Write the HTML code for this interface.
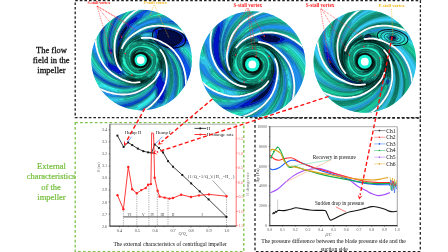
<!DOCTYPE html>
<html><head><meta charset="utf-8"><title>Impeller flow field and external characteristics</title>
<style>html,body{margin:0;padding:0;background:#fff;width:448px;height:252px;overflow:hidden}svg{display:block}</style>
</head><body>
<svg width="448" height="252" viewBox="0 0 448 252">
<clipPath id="clip1"><circle cx="141.6" cy="60.1" r="50.3"/></clipPath>
<g clip-path="url(#clip1)">
<circle cx="141.6" cy="60.1" r="50.3" fill="#34f2f4"/>
<path fill="#030b45" d="M126 25.8l.7-.4 .5 .2 .5 1.6-.1 1-4.8 7.1-4.2 7.8 0-2.9 .5-2.2 1.3-3.9 2.3-4.2zM162.6 29l7.2 .4 5.8 1.8 3.4 1.8 2.4 1.8 1.9 2.3 .2 1.3-2.8 3.8-4 2.7-2.7 2.2-3.6-.1-2.7-1.2-.9 .5-.9-.2-7.3-4.5-.5-.5 .6-.4-2.1-1.4-.5-.9 1.1-1.8 .7-4.5-.1-1.8 1.7-.9z"/>
<path fill="#0014c8" d="M134.8 17.3l1.4-.4 .9 .2 .8 .6 .1 .9-2.8 3.2-4.9 2.8-1.2 3-4.9 6.8-3.5 6.3-1.9 4.5-2 7 .9-11.5 1.4-5.1 1.8-4.1 2.7-4.3 2.7-3.2 4.9-4.5zM126.3 25.6l-2.7 3-3.2 5.5-1.3 3.9-.5 2.2 0 2.9 4.2-7.8 4.8-7.1 .1-1-.4-1.4-.6-.4zM161.1 28.1l4.8-.1 4 .5 7.2 2.3 4 2.2 3.4 2.7 2.8 3.2 .8 1.3-.2 .5-3.1 1-6.4 3.9-1 .9-1.6 2.7-3.6-.4-1.4-1.1-.8 .2 .2 .9-.7 .1-7.3-4.2-6.8-4.5-.4-.4 .7-.5-1.1-.3-.9-1 1.7-1.8-.3-3.6-.9-1.1-3-1.2 4.2-1.3zM162.7 29l-3.2 .4-1.7 .9 .1 1.8-.7 4.5-1.1 1.8 .5 .9 2.1 1.4-.6 .4 .5 .5 7.3 4.5 .9 .2 .9-.5 2.7 1.2 3.6 .1 2.7-2.2 4-2.7 2.8-3.8-.2-1.3-1.9-2.3-2.4-1.8-3.4-1.8-5.8-1.8zM109.5 49.2l.6-.2 1.8 1.1 .5 1.4-.5 .9-.9 .5-.9-.4-.9-1.9zM107.6 61.8l.2-.4 2.7 2.4 3.6 1.9 .9 .3 .5-.6 .4 .3 4.4 4.2 1.9 3.8-2.2-.6-.8 .4-.1 .8-8.5-4.8-2.7-3.2zM160.7 74.9l.7-.3 .1 3 1.7 4.1 .9 .6 1.3-1.4 0 .7-.4 3.6-1 2.7 1 2.3-.6 5.4-1.2 3.6-.9 1.1-1.4 .5-1.4-.7-.1-3.2-.7 .2-.9 .7 0 .5-.8 .4 1-3.6-.1-3.1-.8-4.5-.7-.8-1-.1 2.6-9 1.1-1.6z"/>
<path fill="#0c50ea" d="M145.8 9.7l2.1-.5 .4 .5 2.3 0 .4 .4-4 1.7-2.8 1.9-2.4 3.6-8 6.7-4.4 4.3-3.5 4.3-2.6 4-3 5.9-2 5.4-.8 4.5-.2 6.9-.9-7.4 .8-10.8 1.4-5.6 2.6-5.6 4.6-6.3 5.4-5.1 6.9-4.8zM135.3 17.1l-4.1 2.4-4.5 4.1-3.1 3.6-2.7 4.3-1.8 4.1-1.4 5.1-.9 11.5 2-7 1.9-4.5 3.5-6.3 4.9-6.8 1.2-3 4.9-2.8 2.8-3.2-.1-.9-.8-.6zM120.4 13.7l.7-.5-4 5.9-2.8 5.4-2.1 5.4-1.4 5.4-.7 5.8 .2 5.9 .2 .9 2 2.2 .5 1.4-.2 1-1.2 1.7 .3 2.9-3.3-6.5 .4-2.7-.3-7.2 .9-7 1.8-6.5 3.2-7.2 3-5zM109.6 49l-.4 1.1 .1 .9 .8 1.5 .9 .4 1.3-1 0-1-.9-1.2zM159.8 20.4l7.9 0 7.1 .9 2.8 2.4-9.9-2.1-10.8-.5zM103.8 25.8l.3-.3-1.4 8.9-.2 6.3 .7 6.3 1.7 6.7 2.3 5.4 2.4 3.1 4.1 2.5 .6-.2 .3-1.3 3.1 3.5 3.7 3.2 2.8 5-.2 .3-2.2-.9-.9 .1 .9 2-11.3-6-3.2-2.7-1.4-2.3-.1-1.3 .5-2.7-3-7.5-1.3-4.5-1.4-9.6 0-5 .7-6zM107.8 61.4l-.1 4.5 .7 1.3 1.7 1.8 3.2 2.3 5.3 2.8 .5 .2 .1-.8 .8-.4 2.2 .6-1.9-3.8-4.4-4.2-.4-.3-.5 .6-.4-.1-2.7-1.3zM163.1 27.2l4.1 .1 4.1 .7 3.6 1 4.1 1.8 3.7 2.2 3.9 3.1 .9 1 0 .9 1.8 3.1 0 .9 .4 .5 .9 3.3-2.7-1.9-2.2-.1-5.9 2.5-.9 .7-.6 1.3 .8 2.3 4.3 5.5 3.2 5.3 2.7 5.6 1.8 5.1 0 1.4-1.4 3.2-.4 2.2-.9 1.4 0 .9-1 1.8-1.5-10.4-3.1-9-2.3-4.5-3-4.5-3.1-3.5-2.2-2-.4 .1 7.1 9.8 2.7 5.3 1.8 4.9 1.4 5.7 .9 6.7 0 4.5-1.6 2.5-.2-9.2-1.7-9.5-3.1-8.1-4.5-7.2-4.7-4.6-9.4-5.5-4.5-3.4-3.2-1.8 1.4-.4-1.4-.3-1.8-1.1 2.9-1.3 0-1.4-1.1-2.2-1.3-.5-1.8-.1-8.7 1 8.4-3.6 7.9-1.6zM161.4 28.1l-6 .9-4.2 1.3 3 1.2 .9 1.1 .3 3.6-1.7 1.8 .9 1 1.1 .3-.7 .5 .4 .4 6.8 4.5 7.3 4.2 .7-.1-.2-.9 .8-.2 1.4 1.1 3.6 .4 1.6-2.7 1-.9 6.4-3.9 3.1-1 .2-.5-.8-1.3-2.8-3.2-3.4-2.7-4-2.2-7.2-2.3-4-.5zM156.6 43.4l.7-.1 1.4 .8 1.8 1.4 .4 .8zM171.1 59.6l1.5 2.2 1.8 4.4 1.8 8.3 0 10.2-1.8 8.7 1.2-9.5-.1-9-1.4-7.2zM99.3 61.4l.4-.3 2.3 .9 2.5 3.9 1.8 1.8 0 .4 4.2 4.5 .9 .5-.1 .4 1.7 1.8-.5 0-3.3-2.2-5-4.4-3.1-3.7zM91.2 68.6l0-.4 4.5 4.9 4.5 3.8 4.5 3.1 4 2.2 4.5 1.9 4.5 1.3 11.7 1.6-4.5 .6-6.1-.6-5.5-1.3-5.7-2.3-5.6-3.1-6.5-5-3.4-3.3zM166.3 69l.6 7.7-.5 .4 .1 2.7-.5 .5 0 1.8-.4 .4 .1 1.4-.8 1.8 .7 0 1.2-1.4 0 2.3-1.8 10.9-1.4 3.4-1.3 1.7-1.4 .6-3.1 .3-7.1 6.9-1.7 0 3.8-3.2 3.8-4 1.5-3.1 .4-2.3-.3-.1-.1 .6-2 1.8 0 .4-6.4 6-.5 0-1.3 1.3-1.8 .9-2.3 1.8-1.7 .8-1.6 0 8.7-6 4-3.9 2.7-3.1 1-2.3 .3-2.2-.7-4.5-.5-.7-.5 0-5.4 5.8-4 3.4-4.6 3.2-5.3 2.7-6.2 2.2-7.5 1.7-3-1.7-.9 0-1.5-1 6.9-.7 8.1-2 6.8-2.8 5.8-3.5 5-4.1 4.5-5.3 1.2-2.6 1.1-4.1-.1-.9-.9 0 2.1-4.5 2-3 0 1.7 .4 .4 .9-.4 .9-1.1 .3 .2 .2 4.5 1.3 2.6 .5 .2 .4-.5 .7-2.3zM160.9 74.7l-1.8 1.3-.9 1.2-2.8 9.4 1 .1 .7 .8 .8 4.5 .1 3.1-1 3.6 .8-.4 0-.5 .9-.7 .7-.2 .1 3.2 1.4 .7 1.4-.5 .9-1.1 1.2-3.6 .6-5.4-1-2.3 1-2.7 .4-3.6 0-.7-1.3 1.4-.9-.6-1.7-4.1-.1-3zM99.3 88.4l3.6 1.9-2.7-.2zM140.8 90.2l.9 0-.6 .4-4.4 2.3-8.2 2.2-7.3 .5-4.9-1.4 1.4 0 .5 .5 9.4-.3 6.3-1.4z"/>
<path fill="#2094f4" d="M136.1 9.7l.7-.5 1.6 .1-1.3 .4-2.3 1.8-1.8 .9-1.8 1.8-.9-.1zM143.3 9.7l.9-.5 2.7 0-8.1 4-8 5.7-5.9 5.8-4.5 6.7-2.2 5.4-1.2 5.2-.6 9.9 .9 7.4 .2-6.9 .9-5 2.3-5.8 3.4-6.3 2.8-4.1 3.4-3.8 11.1-9.7 1.2-1.3 1.6-2.7 2.3-1.7 4.5-1.9 1.8 0 .5 .5 2.9 .4-4.7 1.4-3.6 2-11.6 8.3-1.4 1.8 .4 .8 2.7-.5 6.8-3.5 6.6-2.2 7.2-1.4 6.8-.3 5 .3 4.4 3.6-9.8-1-5.2 .1-2.9 .7 9.9 .4 6.3 1 4.5 1.2 1.8 2.1-7.2-1.9-7.2-1-6.8 0-6.7 1-5.4 1.6-4.5 2-9 5.7-6.3 5.1 0-.7 5.5-8.2 .3-1.3-.4-.3-1.8 .8-4.2 4.9-4.7 8.1-2.5 6.7-.9 5.4 .3 5.4 1 4.1 1.8 3.6 4.2 5.4-.9 .3 0 1 2.3 2.7-.9 0-2.3-1-1 .1 .6 1 2.5 1.7-.7 .1-14-6.4 3.6 3.3 6.3 3.8 4.1 1.9-1.4 0-7-2.2-5.7-3.2-5.1-4-4.7-5.1-3.6-5.4-3.1-6.4-2.1-5.8 .7-3 .5-.4 0-1.4 .9-1.3 .4-2.3 1-1.8 .4 6.3 .5 .5 .5 4 .4 .5 0 1.3 .4 .5 1 3.6 .8 1.3 .1 .9 3.5 5.9 .9 .5 .4-.4 1-1.9 0-.9-3.5-9.5-1.7-9.4 .1-9.5 .3-2.4 .9-.9-.7 7.8 .5 8.1 1.8 7.9 3.3 8.3 .1 1.4-.6 2.2 .6 1.8 1.9 2.3 3 2.2 10.2 5.4 .6 0-1.1-1.8 .9-.1 2.2 .9 .2-.3-3.1-5.4-3.4-2.8-3.1-3.5-.5 1.5-4-2.1-2.6-3-1.8-3.6-2.2-7.2-.9-7.2 .1-7.7 1.4-8.4 1.4-1.4-1.5 6.7-.7 6.7 .2 6.8 1.1 6.3 1.8 5.4 2 4 2.2 2.3 2.2 1.3 .9 .1-.7-2.8-4.7-10.3-.1-10.8 1-7.4 1.8-6.3 2.2-5.4 2.5-4.5 1.9-1.2-3 5-2.3 4.8-1.8 5.2-1.3 6.3-.5 5.4 .3 6.2-.4 2.7 3.3 6.5-.3-2.9 1.2-1.8 .1-1.4-2.6-3.6-.2-4 .3-5.4 1.3-6.3 2.8-7.7 4-7.2 2.6-3.6 3.6-1.3-5 6.3-4.1 7.2-3 8.1-1.3 7.2 0 6.3 .4 1.3 1.6 2.7-.1 1.4-.8 2.2 1.2 5 .8 2.2 1.4 2.3 1.9 2.1 1.8 1 .1-.9-2.8-7.8-.7-6.1 .6-11.3 2.1-7.2 3.6-6.7 5.2-6.2 7.2-6.1zM99.7 61.1l-.4 .3 .9 2.1 3.6 4.8 5.4 4.8 3.3 2.2 .5 0-1.7-1.8 .1-.4-.9-.5-4.2-4.5 0-.4-1.8-1.8-2.5-3.9zM129.8 14.6l.5-.4 0 .4-4 4.1-.5-.1zM125.4 19.1l.4-.4 0 .4zM125 19.5l.4-.3 0 .3zM123.3 21.8l.3-.4 0 .4zM159.2 26.7l4.9-.2 4 .2 6.3 1.6 2.7 1 6.3 3.3 2.3 1.5 .9 1.6 0 .4-6-4.4-4.4-2.2-4.9-1.5-5.4-.8-6.8 .3-7.9 1.5-4.5 1.3-5.7 2.7 8.7-1 1.8 .1 1.3 .5 1.1 2.2 0 1.4-2.9 1.3 1.8 1.1 1.4 .3-1.4 .4 3.2 1.8 4.5 3.4 8.1 4.6 3.6 2.8 5.1 6.8 4 8.5 1.9 6.8 .9 6.7 0 7.9-1.3 1.7 .4-7.8-.7-7.2-1.5-6.7-2.5-6.3-3.4-5.9-4.1-4.9-3.7-2.7-5-2.4 8.1 10.5 2.7 4.5 2.7 7.2 1.5 8.5 0 5.9-.6 5.8-1.4 6.2-1.7 5-7.3 5-.4 0 1.8-2.7 2.1-4 2.2-5.9 1.6-7.2 .6-6.3-.4-6.3-1.1-5.4-2.2-6.3-3.6-7.2-1.7-2.7-2.9-3-8.6-6 2.5 0-2.2-1.8-2.5-1.1-9-.6 .9-.5-1.4-.3-.4 .2-.7-.4 4.7-1.7 5 .7 1.8-.2 .4-1-.9-1.5-.9-.7-2.7-.1-9 1.6-5.4 2.3-4.5 3.3-.1-.4 5.7-4.5 10.2-5.2 5.4-1.8zM156.9 43.2l-.3 .2 4.3 2.9-1.3-1.6zM171.3 59.5l0 .9 2.9 7.7 1.4 7.2 0 9-1.2 9.1 1.8-8.7 0-10.2-1.8-8.3-1.3-3.5zM149.2 38l1.4 .4 .2-.4zM128.8 40.2l.6 0-.4 .4zM128.4 40.7l.4 0-.3 .3zM185.4 43.8l2.5 .1 2.7 1.9 .5 .7 0 1.4 .4 .4 0 1.5-3.1-3.2-2.3-.9-2.2 .2-2.7 .8-1.1 .7-.4 1.4 .8 1.8 7 8.1 1.3 2.2 3.2 8.4-.5 .6 0 1.8-.4 .5-2.3-6.3-2.4-5-8-11.7 0-1.3 1-1.4zM171.8 49.2l.4-.1 3.1 2.8 3.5 4.5 2.7 4.5 2.6 5.9 1.9 6.3 1.3 8.1 .1 1.8-1.7 2.6-.5-8.6-1.2-5.7-1.5-4.8-4-8.3zM174.9 51.8l-.4 .1 .4 .4zM164.4 57.8l.1-.2 .5 1.1 1.4 5.4 .1 3.1 .3 .4 .4-.4 0-2.5 .9 1.4 .9 2.8 .7 4.2 .1 4-.8 7.1-3.6 13.6-1.3 4-1.4 1.8-4.5 2.2-3.6 3.7-.9 0-.4 .5-1.8 0-.8 .4 6.8-6.7 1.2-.5 2.2 0 1.4-.6 1.3-1.7 .9-2 1.4-5.5 1-8.2-.1-.9-1.2 1.4-.7 0 .8-1.8-.1-1.4 .4-.4 0-1.8 .5-.5-.1-2.7 .5-.4-.6-7.8-1.1 7.8-.7 2.3-.4 .5-.5-.2-1.3-2.6-.2-4.5-.3-.2-.9 1.1-.9 .4-.4-.4 0-1.7-2 3-2.1 4.5 .9 0 .1 .9-1.1 4.1-1.3 2.7-5.3 6-5.9 4.5-4 2.3-5 2.2-9.9 2.6-6.9 .7-4.3-2.5 11.2-.1 7.7-1.5 8.5-3.5 4.1-2.4 3.6-2.8 4.5-4.4 2-2.9 1.4-4.5-.3-.3-1.2 .3 2.7-5.9 3-5.1 .2 2.4 .3 .5 .9-.6 1.1-2.6 .2-2.1-.1 8 1 2.4 .5 .1 .4-.6 1-5.5 .2-4.5-.5-5.4zM165.9 82.5l0 .8 .2-.8zM166.3 80.2l0 1.9 .4-1.8zM166.8 77l0 2.9 .3-2.8zM90.7 65l4.8 5.8 4.7 4.5 5.6 4.1 6 3.1 5.9 2 6.7 1.2 7.7 .4 7.5-.4-10.3 2.2-5.3 .4-7.6-1-7.7-2.4-6.3-3.2-5.3-3.7-4.6-3.9-.4-2.1 4.4 4.2 4.1 3.2 4.4 2.7 4.6 2.2 5.2 1.8 4.3 1 5.8 .5 4.5-.6-9-1-4.5-1-4.9-1.7-5.4-2.7-5.9-4-5.8-5.3-2.7-3.1zM149.2 84.8l.7 0-6.7 5.4-6.6 3.6-7.6 2.3-10.8 1.2-6.8-.3-7.2-1.9-4-4.9 2.7 0-3.2-1.4-.8-.8 4.4 2 10.8 3 5.4 .9 5 0 6.3-.8 5.8-1.8 7.7-3.5zM141.1 90.1l-7.2 2.9-6.3 1.4-9.4 .3-.5-.5-1.4 0 4.9 1.4 7.3-.5 8.2-2.2 4.4-2.3 .6-.4zM155.1 88.8l.9-.2 .4 .5 .7 3.8-.1 2.7-1 2.6-2.8 3.2-4 3.9-8.5 6-.9 0-.6-.4 4.6-2.8 4.5-3.3 4.1-3.6 3.1-3.6 .7-1.6 .3-1.8-.4-3.1-.6-1.2-.9 .4-3.6 4.1-3.6 3.3-7.6 5.1-5.4 2.5-5.9 2-3.8 .9-2.2-.6 8.9-2.1 9.3-4.1 7.6-5.3zM158.1 97.8l.4 0-.2 1.4-1.1 3.1-1.8 2.3-4.4 4.2-2.7 2.1-1.6 0 4.8-3.9 3.7-3.8 2-2.7 .5-1.3-.4-.1-4.9 5.3-.5 0-2.2 2.2-.5 0-1.3 1.4-1.8 .8-2.3 1.9-1.7 .6 5.8-3.5 4-3.6 .5 .1 3.7-3.8 0-.4 2-1.8z"/>
<path fill="#36cdf6" d="M134.8 9.7l.5-.5 1.5 0-6.5 4.9 .9 .1 1.8-1.8 1.8-.9 2.3-1.8 1.6-.5-1.6 .7-2.3 1.8-1.8 .9-1.8 1.8-.4 0-7 6.9 0 .5-1.4 1.3-1.8 3.2-.9 .9-1.3 3.1-1 1.4 .1 .9-1 1.3-.4 2.3-.6 .4 .2 1.4-.7 0 2.7-8.2 4.5-7.9 6.3-7.4 4.6-3.9 1.1-.9zM123.6 21.4l-.3 .4 .3 0zM125.4 19.2l-.4 .3 .4 0zM125.8 18.7l-.4 .4 .4 0zM129.9 14.6l-4.1 4 .5 .1 4-4.1 0-.4zM141.4 9.7l.9-.5 1.9 0-9.4 5.7-4.5 3.6-4 3.9-4.8 6.1-3.1 6.3-1.7 6.8-.6 11.2 .7 5.7 2.8 7.8-.1 .9-2.2-1.4-2.5-3.1-1.2-3.1-1.2-5 1-3.1-2.1-4.1-.1-5.4 .8-6.3 1.9-6.3 2.6-5.8 3.2-5.4 5-6.3 .7-.5 .9 0-5.3 6.3-4.3 7.2-2.8 6.8-1.7 7.6-.2 8.1 1.8 4.1-.8 2.7 .8 4.5 1 3.1 1.3 2.3 1.2 1.3 1.5 .5-2.2-7.2-.7-7.2 .4-10.4 .7-3.6 1.4-4 4-7.2 4.8-5.7 7.2-6.3zM154.3 11.4l2.1-.4 .5 .4 2.3 .6-5.9 1.4-5 2.2-9.9 6.2-1.6 1.3-.1 .9 1.7-.2 9-4.3 7.7-2.1 5.8-.9 5.9-.2 1.3 .1 1.7 1.2-8.4-.1-8.1 1.1-7.4 2.3-8.4 4.1-1.8 .3-.8-.4 .6-1.3 1.3-1.4 11.1-7.8 3.1-1.8zM115.5 16.4l-3.2 6.3-1.9 4.9-1.5 5.9-.7 6.3 .1 10.8 5 11.2 .4 1.8-.5 .2-2.6-1.5-1.5-1.4-1.5-2.2-1.6-3.6-2.2-8.8-.5-9.3 .5-5.3 1.3-6.2 .4-1.4 1.9-1.9-1.8 6.2-1.1 6.4-.3 6.3 .5 5.9 1.3 6 2.3 5.6 1.8 2.4 2.8 1.7-.2-1.3-4.7-10.4-.3-11.7 .9-6.7 1.7-6.3 3.2-7.7 1-1.8zM156.1 23.1l7.1-.3 6.7 .7 9.5 2.3 1.4 1.5-10.1-2.8-9.3-.9-9 .9-8.6 2.6-10.3 6.2-6.6 5.6-2.2 2.7-2.4 4-1.3 3.2-1 4.6 0-3.3 1.8-5.7 2.7-5.1 5.8-8.5 .5-1.4-.5-.2-2.7 2.4-4 5.9-2.8 5-2 5.4-.8 4-.2 3.6 .3 3.6 .9 3.6 .9 2.3 1.9 2.8 5.6 6.2-1.6-.2-.4 1.1 3.8 2.7-1.1 0-3.6-1.5-1.1 .1 2.4 1.9 3.2 1.4 3.6 1.1 3.1 .1-3.1 .2-4.1-.9-11.9-5.1-2.1-.5 6 4.1 6.7 2.9 7.2 1.4 5.8-.3-5.8 .6-5.9-.5-13-3.8-4.5-2.4-4.6-3.3-4.3-4.1-3.6-4.5-3.1-4.9-2.7-5.4-1.3-3.4 .4-2.2 2.1 5.8 3.1 6.4 3.2 4.8 4.2 4.8 4.7 4 5 3.2 4.6 1.8 4.4 1.3 1.4 .1-4.1-2-6.3-3.8-3.6-3.3 .6 0 13.4 6.4 .7-.1-2.5-1.7-.6-1 1-.1 2.3 1 .9 .1-2.3-2.8 0-1 .9-.3-3.3-4.1-1.9-3.1-1.2-3.2-.7-3.1-.2-4.5 .8-5.4 1.4-4.5 2.1-4.5 4.8-7.6 2.3-2.7 1.8-1.4 1.3-.1-.3 1.4-5.5 8.2 0 .7 6.3-5.1 9.9-6.1 6.3-2.5zM159.1 25.8l6.8 .3 8.5 1.8 5.4 2.3 3.6 2 2.3 1.9-8.6-4.8-5.4-1.8-5.8-1-5.9 .2-8.1 1.3-6.3 1.9-10.6 5.4-5.7 4.5 .1 .4 4.5-3.3 5.4-2.3 9-1.6 2.7 .1 .9 .7 .9 1.5-.4 1-1.8 .2-5-.7-4.7 1.7 .7 .4 .4-.2 1.4 .3-.9 .5 9 .6 2.5 1.1 2.2 1.8-2.5 0 8.6 6 2.9 3 1.7 2.7 3.4 6.8 2.2 5.8 1.2 5.4 .5 5.9-.4 6.7-1.3 6.3-2.3 6.8-2.7 5.4-2.1 2.7-2.4 1-.3-1-2.2 .4-1.4 .8-1.9 1.9-2.6 .9 3.6-3.7 4.1-1.8 1.5-1.7 1.6-4.3 3.6-13.8 .8-7.1-.3-6.3-1.8-5.7-.5-.4 0 2.5-.4 .4-.3-.4-.1-3.1-1.9-6.5 1.1 6.5 .1 3.1-.4 5.9-.8 3.7-.4 .6-.5-.1-1-2.4 .1-8-.2 2.1-1.1 2.6-.9 .6-.3-.5-.2-2.4-3 5.1-2.7 5.9 1.2-.3 .3 .3-1.4 4.5-2 2.9-4.5 4.4-3.6 2.8-4.1 2.4-8.5 3.5-7.7 1.5-11.2 .1-.9-1-1.8-.9-.8-.7 0-.6-2.4-1.4-2.7-2.7 5.4 1.6 5.9 .7 9-.7 5.8-.9 5.1-1.6 5-2.2 3.4-2.3 6.1-4.9-.7 0-8.5 4.8-5.4 2.2-6.3 1.6-5.9 .6-6.7-.5-9-2.3-7.7-2.7-1.3-1-.6-1 10 2.6 8.6 3.3 5.8 .9 5.4-.3 5-1 5.4-1.8 5.8-2.7 5.9-3.4 4.1-3.8 1.4-2.3 .6-1.8-.3-.6-1.3 1.3-.3-.2 3.9-6.7 .4 1.2 .9-.8 1.4-4.1 0 4.1 .4 .5 .8-1 .7-2.7 .1-4-1.6-7.9 1.4 3.4 .9 4.2-.3 10.6 .6 1.8 .6 .4 .9-2.8 .4-4.8-.2-4.5-.6-3.6-1.4-4-2.1-4.1-2.6-3.1-3.1-2.7 .1-.4 .5 .1 .4 .5 .5-.6 1 .8-.3 .5 .8 0-.4 .4 .9 0-.4 .5 1.1 1.1 .4 .4 .5-.3 0 .8 .4-.3 .9 1 3.2 4.8 2.2 5.3 2.8 9.7 .5 6.3-.6 6.3-4.9 19.3 0 .5 .4 .2 1.8-2 2.8-5.9 2-6.3 1.1-7.2 .1-6.3-.8-5.8-1.8-6.3-3.5-8.1-3.2-5-6.1-5.2-3.6-2.3-3.2-1.5 3.4 0-2-1.4-2.3-.6-4 .1-4.5-.5-1.8-.6-.5 .5-2.2 .4-1.4 .8-.1-.5 6.9-3.1 .2-.9-1.1-.7-1.8 .3-3.6 1.3-5.4 3.3-4.3 4.3-3.5 5.9 1-3.3 2.7-4.3 3.6-3.8 4.1-3.1 11.2-6.4 6.3-1.8zM150.1 34.8l0 .6 1-.1zM154.6 81l-9.9 8.8-4.9 3.2-6.8 2.7-12.4 2.6-2.5 1.3 1 .7 2.2 .5 5.4-.1 6.8-1.7 6.3-2.7 5.8-3.7 5.9-5.2 2.8-3.5 1-2.7-.2-.4zM156.9 46.3l0 .3 .3-.1zM161.4 50.7l0 .5 .3-.2zM162.3 52l0 .6 .3-.2zM128.5 40.6l0 .4 .3-.3zM129 40.1l0 .5 .4-.4zM100.2 29.9l-.3 8.5 .6 7.2 1.6 6.8 3.1 8.1-.1 1.1-1.3 2.1-.9-.5-1.6-2.3-2.8-5.8-1-3.6-.4-.5 0-1.3-.4-.5-.5-4-.5-.5 0-3.6-.4-.4 .2-2.5 .4 6.5 .4 .5 .6 4 2.7 8.1 2.4 3.8 .9 .5 .9-1.1 0-1.8-2.9-8.1-1.4-7.2-.3-9 .2-3.3zM149.1 38l1.7 0-.2 .4zM114.9 38.4l.1 2.1-.4-.3zM144.3 39.8l2.2-.3 4.5 1.2-7.4-.5zM114.5 41.1l.1 3.4-.3-.2zM182.9 46.1l2.8-.4 1.8 .3 2.2 1.9 2.3 2.7 0 2.2 .4 .5 0 1.2-4-4.8-2.3-2.1-1.3-.4-1.8 0-1.5 .7-.5 .9 .8 1.8 6 6.7 1.2 1.8 3.3 7.8-.3 .3 0 2.1-3.6-9.2-8.6-10.9-.1-.9 .4-.9zM162.2 46.5l.5-.1 2.3 1.1 4.4 2.6 4.7 5 2.7 4 2.1 4.1 1.8 4.6 1.4 5 .9 6.6 .2 6.7-.4 4.2-1.5 2 .8-6.7-.2-7.1-1.2-7.7-1.8-5.8-3.1-6.4-4.3-5.8-2.9-2.7-4.1-2.2-.6 0 7 9 2 3.1 2.6 5.9 1.7 6.3 .7 7.2-.3 7.6-2.1 9.9-.6 1.8-1.3 1.3 2.2-6.7 1.4-8.1 .1-7.6-1-7.2-1.8-5.9-2.3-4.9zM174.2 51.5l.3 0-.1 .3zM174.5 51.9l.5 0-.1 .4zM176.4 54.2l.4 0-.1 .3zM90.7 61.8l5.7 7.7 6.5 6.2 6.9 4.6 7.7 3.1 9.7 1.9 5.4 .3 4.5-.2 4.5-.9 3.6-1.3 4-2.3 2.7-2.1 .3 .1-3.8 3.2-4.1 2.3-5 1.8-8.5 2.1-4.1 .6-4 0-5-.6-4.5-1-6.3-2.3-6.3-3.5-7.6-5.8-.5-1.6 5.2 4.4 5.6 3.7 5.9 2.9 6.3 2 5.8 1 5.4 .1 12.9-2.5-7.9 .4-8.6-.6-6.7-1.3-6.5-2.6-7.4-4.5-6.2-5.4-5.6-6.8zM166.6 77.1l.5 0-.3 2.8zM152.2 78.5l.4 0-.2 .3zM166.2 80.3l.5 0-.4 1.8zM165.8 82.5l.3 0-.2 .8zM154.7 90.2l.8-.3 .3 .3 .6 2.7-.1 2.7-.8 2-5.8 6.1-8.1 5.8-2.4 1.4-3.1 0 4.5-2.3 5-3.1 7.2-6.2 1.8-2 .9-1.7 .1-3.2-.5-1.2-7.7 7.4-7.2 4.8-4.9 2.4-5 1.8-4 1.1-1.6-.5 9.2-2.7 8.1-4 6.8-5zM157.2 99.2l.5 0-.3 .9-1.4 2.2-7.2 7-2.1 1.6-1.2 0 6.9-5.6 3.6-3.8 .3-.5-.3-.1-6.3 5.8-.5 0-1.3 1.4-1.8 .9-2.3 1.8-1.6 .5 1.6-.6 2.3-1.9 1.8-.8 1.3-1.4 .5 0 2.2-2.2 .5 0zM156.4 100l0 .9 .4-.8z"/>
<path fill="#34f2f4" d="M137.8 9.7l.9-.5-.3 .4-1.3 .5-.9 .9-3.2 1.8-1.8 1.8-.4 0-6.8 6.7 0 .5-2.3 2.7 .1 .9 5.4-6.3 6.3-5.7 6.2-4.2 2.6 0-7.9 5.1-7.9 7-5.5 7.2-3.4 7.2-1.4 6.3-.3 9.9 .7 6.3 2.1 6.8-.1 1-1.8-1.1-2.2-3.5-1.6-6.8 .8-3.1-1.8-4.1 .2-8.1 2-8.5 2.5-5.9 3.7-6.2 5.9-7.3 1.6-.4-5.2 5.8-4.5 6.8-3.2 6.9-1.8 6.6-.7 5.4 .1 5.4 1.1 2.1 .4-.2 .7 .8-.2 3-.5-1.1-.7 1.2 .1 1.8 1.9 6.8 1.4 2.2 1.4 .5-2.1-8.1-1.1-13.1-.5 .9-.4 4.2-.3-2.4 .4-7.2 1.9-7.2 1.9-4.5 2.5-4.5 2.9-4 3.8-4.4 5.6-5 1.4 0-7 6.2-5.9 7.3-2.7 4.7-1.8 4.1-1.8 6 .5 .2 0-1.6 .6-.4 .4-2.3 1-1.3-.1-.9 1-1.4 1.3-3.1 .9-.9 1.8-3.2 1.4-1.3 0-.5 7-6.9 .4 0 1.8-1.8 .5 0zM114.6 40.8l-.3 3.5 .3 .2zM115 38.1l-.4 2.1 .4 .3zM121.3 25.4l-.4 1.1 .8-1.1zM157.4 12.3l1.8-.3 1.3 .8 1 .1-4.5 .8-4.6 1.3-3.9 1.8-2.9 1.9 8.1-2.1 6.3-1 6.1-.3 2 1.1-7.6 .2-7.7 1.2-7.2 2.4-7.6 3.8-1.4-.1 .2-.8 1.6-1.3 9-5.7 4.5-2.2zM113.7 17.3l.8-.5-3.2 6.8-2.2 6.7-1.1 5.4-.4 5.4 .4 9.9 4.7 10.4 .1 1.4-2.3-1.4-1.4-1.4-2.6-5.6-1.8-7.4-.5-8.1 .6-6.8 1.7-7 .9-2.9 1.8-1.8 .4 0-1.8 5.1-1.5 6.2-.7 6.1 0 5.4 .6 5.1 1.6 6.4 2.2 4.9 1.9 1.8 0-.9-4.7-9.9 .2-2.3-.4-9 .6-5.4 1.3-5.8 2.3-6.3zM154.9 24l5.6-.4 5.8 .3 6.3 1 5.4 1.4 2.8 1 1.4 1.8-2.7-.6 4.8 3.3 1 1.8-8.2-4.7-4-1.4-5-1.1-5.8-.6-3.2 0-9 1.6-6.3 2.2-8.5 5-4.1 2.9-3.1 3-2.4 2.9-2.1 4-.6 2.3 3.5-5.9 4.3-4.3 5.4-3.3 3.6-1.3 1.8-.3 1.1 .7-.2 .9-6.9 3.1 .1 .5 1.4-.8 2.2-.4 .5-.5 1.8 .6 4.5 .5 4-.1 2.3 .6 2 1.4-3.4 0 3.2 1.5 3.6 2.3 6.1 5.2 3.2 5 3.5 8.1 1.8 6.3 .9 6.7-.4 7.2-1.3 6.8-2.5 7.2-2.8 4.9-.9 .7-.4-.2 .1-.9 4-14.9 1.1-5.8 .3-5.4-.5-5-2.8-10.1-2.2-5.3-3.2-4.8-.9-1-.4 .3 0-.8-.5 .3-.4-.4-1.1-1.1 .4-.5-.9 0 .4-.4-.8 0 .3-.5-1-.8-.5 .6-.4-.5-.5-.1-.1 .4 3.1 2.7 2.6 3.1 2.1 4.1 1.4 4 .6 3.6 .2 4.5-.4 4.8-.9 2.8-.6-.4-.6-1.8 .3-10.6-.9-4.2-1.4-3.4 1.6 7.9-.1 4-.7 2.7-.8 1-.4-.5 0-4.1-1.4 4.1-.9 .8-.4-1.2-3.9 6.7 .3 .2 1.3-1.3 .3 .6-.6 1.8-1.4 2.3-4.1 3.8-5.9 3.4-5.8 2.7-5.4 1.8-5 1-5.4 .3-5.8-.9-8.6-3.3-10-2.6-1.7-3.4 3.2 .8 .9 0 .2-.5-6.5-5.1-.9-2.6 6.7 5.3 8.1 4.4 7.2 2.4 8.1 1.1 6.3-.3 11.3-2.8 6.3-2.8 5.2-4.1-.3-.1-2.7 2.1-4 2.3-3.6 1.3-4.5 .9-5 .2-5.6-.4-5.5-.9-5-1.3-4.4-1.8-4.1-2.3-3.9-2.7-3.9-3.3-4.4-4.8-3.9-5.4-.7-1.1 0-2.9 4 6.3 4.6 5.5 5.3 4.8 5.5 3.6 5.9 2.7 8.9 2.6 7.2 1 6.3-.3 4.1-1 4-1.7 3.6-2.3 3.2-2.9 2.2-3.5 3.2-7 0 2.5 .4 .3 .5-.6 .7-2.8 .2-5.9 .5 3.6-.2 5.9 .1 .4 .5-.5 .8-4-.5-5.4-1.7-5.1-3.6-5.9 3.7 4.3 2.3 4.9 1.1 5.9-.2 8.1 .8 1.6 .9-3.4 0-6.8-.9-4.7-2.2-5.2-3.2-4.4-4.5-3.7-5-2.4-3.9-.7 .6-.5-2.6-.4 3.7 0 3.9 .9 3.3 1.2 4.7 3.3 3 3.1 2.2 3.2 3.7 8.1 2.7 9 .5 7.2-.9 8.1-3.3 11.5-.2 2 .2 .2 .4-.3 1.4-2.4 1.8-4.8 1.8-7.7 .4-7.9-.9-7.2-1.2-4.6-2.2-5.8-3.5-6.8-3.9-4.2-6.3-4.6-2.7-1.3-3.1-.9-6.3-.3-3.2 .3-.2-.2 3.4-.8 .8-.6-2.6-.2-4.5 1.3-.9-.3 0 .4 .5 .2-1.4-.2-.7 .6 .3 .5-1-.2-4.3 3.3 1.9-2.2 2.9-2.3 8-4-.4-.7-.9-.2-3.1 .9-3.6 1.8-2.6 1.8-4.6 4.9-2.8 5-1.7 7.2 .2-5.9 1.8-4.9 1.8-3.2 2.6-3.1 7.4-6.3 .4-.9-.3-.2-1.8 1-4 3.1-3.4 3.3-2.3 3.1-2.1 4.1-1.4 4.5-.4 4 .2 4.5 1 4.1-.2 .5-1.4-3.7-.5-3.1-.1-4.5 .6-4.1 2.6-7.2 5.9-9.9-.3-.1-.9 1-2.7 3.7-2.7 4.4-1.8 3.9-1.4 4.6-.5 3.2 0 4.1 .5 3.6 1.4 4 2.2 3.4 4.8 5.2 4.2 2.7 0 .3-3.6-1.1-.9 .3 .2 .5 2.5 1.6 3.6 1.1 4.1 .5 4.1-.1-3.2 .6-3.2-.1-4.5-.8-4.9-1.7-.4 .2 1.2 .9 3.2 1.5 5.9 1.1 4.5-.2 3.6-.9 3.6-1.6 .4 .1-5.4 2.4-4.4 .8-2.8 .1-6.7-1.2-10.1-3.9 2.3 1.8 4.5 2.3 7.3 2 7.2 0 5-1.3 3.6-1.8 .2 .2-.6 .4-3.6 1.8-5 1.5-5.4 .3-6.3-.7-10.4-2.6-6.3-3.2-5.8-4.3-5.5-5.8-4.6-6.8-3.4-7.2 .2-2 4.2 9.2 5.3 7.7 5.1 5.1 5.4 3.9 5.9 2.9 10.9 2.9 6.2 .6 5.8-.6-5.8 .3-7.2-1.4-6.7-2.9-6-4.1 2.1 .5 11.9 5.1 4.1 .9 3.1-.2-3.1-.1-3.6-1.1-3.2-1.4-2.4-1.9 1.1-.1 3.6 1.5 1.1 0-3.8-2.7 .4-1.1 1.6 .2-5.6-6.2-2.5-4.2-.9-3.1-.5-4.1 .1-4 .6-3.6 1.6-5 2.5-4.8 3.6-5.6 3.6-4.1 .9 .1-.3 .9-6 9-2.7 5.1-1.8 5.7 0 3.3 1-4.6 2.2-5 2.9-4 3.8-3.8 3.6-2.7 9.4-5.7 5.9-2.3zM136.2 39.6l0 .5 .5-.3zM137.1 39.2l0 .4 .7-.3zM138.4 38.7l0 .4 .6-.2zM139.8 38.3l0 .3 .5-.2zM144.7 39.7l-1.1 .5 7.4 .5-4.5-1.2zM149.2 39.6l-.4 .2 1.3 .5 2.9 .4-1.2-.9zM154.6 77l-3.6 3.4-3.1 2.4-3.2 1.7-4.5 1.9-10.8 3.6-12.1 .2 .7 .9 2.2 .9 3.8 .3 6.9-.8 6.7-1.8 7.4-3.1 5.1-3.2 4.1-4 .9-1.8zM156 45.2l-.5 0 .5 .2zM154.2 24.9l-6.2 1.4-6.5 2.7 1 .2 2.2-1.4 2.7-.4 1.8-.9 1.8 0 .5-.5 3.1 0 .5-.4 7.8-.2 1.9-.5-4.8-.4zM155.1 45.5l-.4 .1 .7 0zM99.3 31.2l-.2 7.7 .8 7.2 1.4 5.8 2.7 7.7-.4 1.3-.7 .7-1.4-.9-1.9-3.4-2.3-6.3-.5-3.6-.4-.4-.1-1.8-.4-.5 0-3.6-.4-.4 .1-2.7 1 7.9 1.3 5.4 2.3 5.8 1.3 1.9 .5-.3-3.1-9.5-1.3-7.6-.2-7.2zM150 34.8l1.1 .5-1 .1zM156.7 46.5l.2-.2 .3 .2zM182.2 47.4l2.6-.2 1.8 .7 5.8 6.6 0 3.3 .5 .8-3.2-4.3-4-4.6-1.6-.9-1.2 .4 .6 1.4 4.4 4.6 1.4 2.1 3.1 6.3-.1 3.3-3.9-8.8-7.2-8.4-.1-1.4zM163.9 47.9l1.5 .4 3.8 2.3 4.8 5.3 4 7 2.7 7.9 1.2 7.7 .1 7.6-.7 6.2-2.1 2.5 1.1-6.9 .3-6.7-.6-6.8-1.5-6.3-2.3-6-3.1-5.5-4-5.1-2.4-1.8-1.4-.5 6.3 7.7 1.7 2.7 2.7 5.8 1.7 6.3 .9 7.7-.2 7.2-1.5 8.1-1 3.4-.6 .6-.4 0 2-7.6 1-7.7-.1-6.7-1-6.3-1.8-5.9-2.6-5.4zM161.2 51l.2-.3 .3 .3zM162.1 52.4l.2-.4 .3 .4zM152.3 75.3l.2 0-.1 .3zM151.8 75.8l.4 0-.3 .4zM151.4 76.2l.4 0-.3 .5zM150.9 76.7l.5 0-.4 .4zM150.4 77.1l.5 0-.3 .3zM147.3 77.6l.7 0-.6 .4zM148.7 78.5l.6 0-1 .7-.2-.3zM154.3 81.2l.8-.4 .2 .4-.7 2.1-.9 1.6-2.2 2.5-5.9 5.2-6.3 4-5.8 2.4-6.8 1.7-5.4 .1-2.2-.5-1-.7 2.5-1.3 12.4-2.6 6.8-2.7 4.9-3.2zM154.6 81.6l-9.9 9-3.6 2.4-7.2 3.2-8.5 2.1-1.7 .9 2.2 .4 4.9-.9 5.3-1.8 4.6-2.2 4.8-3.2 4.6-3.8 3.6-3.7zM154.4 91.5l.7-.3 .3 .3 .3 2.3-.2 2-.9 1.5-5 5-6.7 5-6.8 3.6-5.3-.9 5.2-2.3 1.7-.9-.2-.1-8.6 2.8-.8 0-1.8-.8 8.1-2.5 8.1-4.1 6.3-4.7zM156.3 100.1l.5 0-.4 .8zM155.9 101l.4 0-.3 .4-2.7 3-5.9 5.1-1.9 1.4-3.2 .4 1.5-.5 2.3-1.8 1.8-.9 1.3-1.4 .5 0zM143.4 110.9l0 .4 .6-.4zM144.3 110.4l0 .3 .4-.3zM144.7 110l0 .4 .6-.4zM146.1 109.1l0 .4 .5-.4zM147.4 108.2l0 .3 .4-.3zM162 105.5l.8 0 .3 .4-.4 .9-2.7 .6-1.1 .8-1.7 .4 2.4-2.2z"/>
<path fill="#28f4cc" d="M137.9 9.7l1.8-.5-4.4 2.9-5 4-5.3 5.2-3.2 4.1-.1-.9 2.3-2.7 0-.5 6.8-6.7 .4 0 1.8-1.8zM132.1 10.1l-6.1 5.8-4.9 6.3-3.7 6.8-2.5 7.2-1.1 6.3 .2 5.4 .1 1 .4-4.2 .5-.9 1.1 13.1 2.1 8.1-1.4-.5-1.4-2.2-1.9-7.2 .1-1.8 .5-.8 .5 1.1 .2-2.1 0-.9-1.6-1.2-.7-2 .1-6.7 1.1-5.8 3.1-8.7 5-8.2 6.1-7 .6-.4 1.4 0 .4-.5zM114.1 53.7l-.1 2.3 1 4.5 1.4 3 .4-.6 .5 .6 0-1-1.8-6.5-.5-.9-.4 .3zM159.3 13.2l2.2-.3 4.6 2.4-9.7 .8-10.8 2.5 6.8-3.6zM112.3 18.2l.8-.5-2.8 6.3-2.3 7.7-1 9.4 .4 6.8-.2 2.7 4.7 9.9 0 .9-2.2-2.3-2.3-5.8-1.5-6.3-.4-7.2 .5-6.4 1.8-7.9 1.8-5.1zM153.9 24.9l5.7-.4 5.2 .4-1.9 .5-7.8 .2-.5 .4-3.1 0-.5 .5-1.8 0-1.8 .9-2.7 .4-2.2 1.4-1-.2 5.1-2.3zM121.3 25.4l.4 0-.8 1.1zM179.5 28.5l2.7 .6 2.1 2.7zM127.9 32.1l.5 0-.3 .5-6 10.3-2.2 6.3-.6 4.1 .1 4.5 .5 3.1 1.4 3.7 .2-.5-1-4.5-.2-4.5 .7-5 1.5-4 2.3-4.1 3-3.6 4.3-3.7 3.6-2.3 .3 .2-.4 .9-4.8 3.8-3 2.9-3.5 5-2.3 5.8-.2 5.9 1.7-7.2 1.8-3.6 2.3-3.2 2.7-2.7 3.2-2.2 3.6-1.8 3.1-.9 1.2 .4 .1 .5-.5 .4-7.5 3.6-2.9 2.3-1.9 2.2 4.3-3.3 1 .2-.3-.5 .7-.6 1.4 .2-.5-.2 0-.4 .9 .3 4-1.2 2.7 .1 .4 0-.6 .5-3.6 .9 .2 .2 3.2-.3 5.8 .3 4.5 1.3 3.6 2.1 4.8 3.6 2.2 2.2 2.2 3.2 2.7 5.4 2.5 6.9 1.4 5.9 .4 5.2-.3 6.3-1 5.7-2.3 6.9-1.3 2.9-.9 .9 0-2.2 2.8-9.7 1-5 .4-6.3-.5-5.8-3.2-10.4-3.2-6.7-4.5-5.7-4.5-3.4-5.9-2.2-2.7-.5-3.2 .1 2.6 .4-.6 .5 3.9 .7 4.1 1.8 3.9 2.9 3.3 3.6 2.7 4.9 1.4 4.5 .5 5.9-.6 6.1-.4 .9-.8-1.6 .2-8.1-1.1-5.9-2.3-4.9-3.7-4.3 3.2 5.2 1.8 4.2 .8 5.7-.7 4.9-.6 .9-.1-.4 .2-5.9-.5-3.6-.2 5.9-.7 2.8-.5 .6-.4-.3 0-2.5-2.3 5.3-2.7 4.7-2.4 2.4-3.1 2.3-3.5 1.9-3.8 1.2-6.1 .9-6.5-.4-8.1-1.8-8.3-3.1-5.9-3.5-5.4-4.5-4.9-5.6-4.1-6-.9-1.6 0-5 .5-.9 2 4.5 2.8 5 5.5 7.2 3.6 3.4 4.1 3.2 3.6 2.1 4 1.9 10.8 2.7 7.2 .6 4.1-.3 3.6-.9 5.6-2.8-.7-.1-4.5 2.1-3.6 .9-7.2 0-7.3-2-4.5-2.3-2.3-1.8 10.1 3.9 6.7 1.2 2.8-.1 4.4-.8 5.4-2.4-.4-.1-3.6 1.6-3.6 .9-4.5 .2-5.9-1.1-3.2-1.5-1.2-.9 .4-.2 4.9 1.7 4.5 .8 3.2 .1 3.2-.6-4.1 .1-4.1-.5-3.1-.9-2.4-1.4-.9-.9 .6-.2 4 1 0-.3-3.1-1.8-3.6-3.5-3.6-4.4-1.8-3.9-.9-4-.2-3.1 1.1-7.4 3.1-7.4 3.2-5zM125.4 41.8l-2.9 4.7-1.7 5.9-.1 6.3 .8 4 2.2 4.5 4.1 5-.5 .4 .4 .5 3.5 2.3 5.2 1.7-1.6 .4-5.4-1.1-.6 .3 3.8 1.4 4 .5 4.5-.4 4.5-1.4 5.7-3.7 2.2-3.6 1.8-4.1 .8-5.4-.4-3.1-.8-2.3-3-3.7-2.2-1.5-3.2-1.3-5.8-.9-2.7 .4-2.3 .9-3.3 2.5-3.4 6 0-2.8 1.8-3.8 2.7-2.5 4.1-1.8 4.4-.5 5.1 .5 4.6 1.8 2.5 1.8 2.7 4.8 1.3 4.2-1.3 10.9 1.3-3.7 .3-5.4 .9 6.7 .7-2.2-.4-5.9-1.7-4.9 .2-.2 1.1 2 1.4 3.6 .7 8.6 .5-3.7-.5-4.6-1.7-4.8-2.4-4.1-3.1-3.2-3.4-2.2 .7-.1 1.8 .9 3.1 2 3.5 4 2.6 5.4 1.3 5.8 .3 6.3 .4-.8 .2-3.2-.6-6.1-1.8-4.9-3.2-4.8-4-3.6-3.9-2.2-4.7-1.4-4.9-.1-8.6 2-5.7 5.3-1.7 4.1-.4 3.1 .4 3.6 1.7 4.5 2.9 4.1 2.4 2 2.7 1.4 4 .5 2.7-.5 2.3-.9 3.1-1.9 2.1-2 1.4-1.8 1.2-2.7 .7-5 .5 2.8-.5 2.9-1.3 3-2.3 2.9-3.1 2.9-2.3 1.4-3 .8-3 0-3.4-.8-3.2-1.8-3.1-2.8-4.5-5.3-1.5-3.2-.6-2.3-.4-4 .3-3.6 1.5-4.5 2.7-5zM126.3 40.5l-.5 .6 0 .7 .8-1.1zM139.3 36.2l-3 .9-3.4 1.8-3 2.3-2.7 2.9-2.3 3.3-1.3 3.1-.9 3.8 0 2.6 .4 .3 .7-3.9 1.3-3.6 3.4-5.4 2.3-2.4 3.1-2.3 6.2-3-.2-.4zM140.7 39.3l-3.2 .9-3.6 1.8-2.4 1.8-2.2 2.7 3.3-2.9 2.2-1.4 2.7-1.3 4-1.1-.2-.5zM139.3 41.5l-.4 .1 .4 .2 1.4-.2 0-.3zM141.1 41.1l-.4 0 .4 .2 2.9-.2zM148.8 41.3l-.4 .3 4.9 1.5 .5-.2-3.2-1.3zM160 47.3l5.2 7.3 4.3 10-.9-4-2.7-6.3-2.7-4zM122.7 40.2l-3.2 6.8-1.2 6.7 .1 4.1 .7 3.5 .9 2.6 1.3 2.3 .1-.8-2-5.8-.4-5.4 .8-5.9 2.9-7.2zM146.1 77.5l-2.7 1.2-5 1-4-.1-7.3-1.6 4.4 1.8 6 .6 5.2-1 3.1-1.4 .8-.4-.1-.3zM147.4 76.7l-.8 .4 .8 0 .6-.4zM152.8 73.7l-2.9 3-3.4 2.2-4 1.7-3.6 .7-4.1 .3-4-.5-9-2.6 3.5 1.8 4.3 1.3 4.3 .7 5-.2 4-.9 4.1-1.8 4-3.1 1.4-1.4zM153.3 73.1l-.3 .4 .3 .2zM147.4 77.5l0 .5 .6-.4zM148.3 77l0 .3 .3-.2zM148.8 78.5l-.7 .4 .2 .3 1-.7zM150.1 77.5l0 .3 .3-.2zM150.6 77.1l0 .3 .3-.3zM151 76.6l0 .5 .4-.4zM151.5 76.2l0 .5 .3-.5zM151.9 75.7l0 .5 .3-.4zM155.1 72.6l-2.5 3.2-2.9 2.8-3.6 2.3-3.2 1.4-3.6 .9-4 .5-4.1-.1-6.3-.8-.7 .2 5.7 1.3 4 .4 5-.4 4-.9 4.1-1.8 4.4-3.1 2.8-3.1 1-2.3zM138 41.9l-.4 .1 .4 .2 .9-.2zM97 34.8l.4-.4 .1 5.8 .7 5.4 1.2 5.4 2.5 6.8 .1 1-.5 .2-1.3-1.9-1.4-3.1-2.2-8.1-.9-8.4zM136.8 39.3l1 0-.7 .3zM135.9 39.8l.8 0-.5 .3zM148.8 39.8l1.8-.3 1.2 .3 1.2 .9zM183.5 48.8l1.6 .4 1.5 1.3 6.3 8.1 0 3.7-.5 .4 0 .9-3.9-7.6-5.3-5.9-.3-.9zM165.3 49.2l1.4 .5 2.4 1.8 4.9 6.5 3.1 6.1 2.4 7.6 1.1 9-.5 9-.9 5.1-3.3 3.3 1.8-7 .9-6.8 0-5.8-.9-6.8-1.7-6.3-2.7-5.8-1.7-2.7zM114.7 56.4l.3-.4 .4 .4-.4 1.3zM115.2 58.7l.3-.4 .3 .4-.3 .8zM115.7 60.5l.2-.3 .3 .3-.3 .5zM154.5 77.1l.5 0 .1 .5-.9 1.8-4.1 4-5.1 3.2-7.4 3.1-6.7 1.8-6.9 .8-3.8-.3-2.2-.9-.7-.9 12.1-.2 10.8-3.6 4.5-1.9 3.2-1.7 3.1-2.4zM153.7 78.3l-4.5 4-8.2 5.2 4-1.4 4.6-2.7 3.7-3.1 .9-1.4 0-.8zM93.9 78.5l6.1 4.5 .4 .4-.2 .5-4.1-.8zM154.5 81.6l.1 .7-.9 1.7-3.1 3.3-4.5 3.8-5.4 3.6-4.6 2.2-5.3 1.8-4.9 .9-2.2-.4 1.7-.9 8.5-2.1 7.2-3.2 3.6-2.4zM153.3 83.2l-1.1 1.1 .2 .3 .9-.9zM136.8 106.8l.9 0-.8 .5-6.1 2.7-1.9-.5zM160.2 107.3l.7 0-.4 .4-1.6 .5zM147.4 108.2l.4 0-.4 .3zM146 109.1l.6 0-.5 .4zM144.7 110l.6 0-.6 .4zM144.2 110.4l.5 0-.4 .3zM143.3 110.9l.7 0-.6 .4z"/>
<path fill="#1cdcaa" d="M139.1 36.2l.8 0 .2 .4-6.2 3-3.1 2.3-2.3 2.4-3.4 5.4-1.3 3.6-.7 3.9-.4-.3 0-2.6 .9-3.8 1.3-3.1 1.8-2.7 2.7-3 2.8-2.4 3.1-1.8zM140.6 39.3l.7 0 .2 .5-4 1.1-2.7 1.3-2.2 1.4-3.3 2.9 1.8-2.2 2.7-2.3 3.5-1.8zM122.6 40.2l.1 .9-2.9 7.2-.8 5.9 .4 5.4 2 5.8-.1 .8-1.3-2.3-.9-2.6-.7-3.5-.1-4.1 1.2-6.7zM126.6 40.2l.3 0-.2 .4zM126.1 40.7l.5 0-.8 1.1zM138.9 41.6l1.8-.3 0 .3zM148.4 41.6l1.7-.1 3.7 1.4-.5 .2zM125.2 42l.4 0-2.7 5-1.5 4.5-.3 3.6 .4 4 .6 2.3 1.5 3.2 4.5 5.3 3.1 2.8 3.2 1.8 3.4 .8 3 0 3-.8 2.3-1.4 3.1-2.9 2.3-2.9 1.3-3 .5-2.9-.5-2.8-.7 5-1.2 2.7-1.4 1.8-2.1 2-3.1 1.9-2.3 .9-2.7 .5-4-.5-2.7-1.4-2.4-2-2.9-4.1-1.7-4.5-.4-3.6 .4-3.1 1.7-4.1 5.7-5.3 8.6-2 4.9 .1 4.7 1.4 3.9 2.2 4 3.6 3.2 4.8 1.8 4.9 .6 6.1-.2 3.2-.4 .8-.3-6.3-1.3-5.8-2.6-5.4-3.5-4-3.1-2-1.8-.9-.7 .1 3.4 2.2 3.1 3.2 2.4 4.1 1.7 4.8 .5 4.6-.5 3.7-.7-8.6-1.4-3.6-1.1-2-.2 .2 1.7 4.9 .4 5.9-.7 2.2-.9-6.7-.3 5.4-1.3 3.7 1.3-10.9-1.3-4.2-2.7-4.8-2.5-1.8-4.6-1.8-5.1-.5-4.4 .5-4.1 1.8-2.7 2.5-1.8 3.8 0 2.8 3.4-6 3.3-2.5 2.3-.9 2.7-.4 5.8 .9 3.2 1.3 2.2 1.5 3 3.7 .8 2.3 .4 3.1-.8 5.4-1.8 4.1-2.2 3.6-5.7 3.7-4.5 1.4-4.5 .4-4-.5-3.8-1.4 .6-.3 5.4 1.1 1.6-.4-5.2-1.7-3.5-2.3-.4-.5 .5-.4-4.1-5-2.2-4.5-.8-4 .1-6.3 1.7-5.9zM132.6 75.2l-.4 .1 1.3 .5 2.5 0-1-.5zM140.7 43.8l-7.2 2.5-.9 0-1.6 1.1-3.4 3.8-.9 1.9-.5 2.9 .1 3.7 .9 3.3 1.3 3 3.1 3.9 3.8 2.3 1.7 .4 3.3 0 3.9-1.3 4-2.9 2.4-3.4 .8-3.6-.7-3.2-2.9-4.3-3.6-2.6-3.5-.7 3 0 1.4 .4 3.6 1.8 3 2.3 1.6 2.2 .6 1.8 .1 3.2-.5 2.2-1.5 3.2-2.6 3.6-3.4 3-3.4 1.9-.4 .9 1.1-.2 .4 .3 .5-.6 .6 .1 .8-.5 5.8-5 1.8-2.8 1.3-3 .7-4.5-.2-3.6-.9-2.3-1.4-2-4.3-3.3-3.4-1.4-2.2-.4-3.6 0-2 .4-2 .9-2.3 2-1.5 2.5-.9 3.6-.1 2.7 .4 2.7 1.4 2.7 1.6 1.7 4.8 2.4-1 .4-1.5 .1-2.3-.7-2.8-2.5-2-3.6-1.4-5.9 .5-4 1.3-2.7 1.2-1.4 1.9-1.6 3.1-1.7 3.6-1 3.2-.3 .5-.8-.5-.3zM158.7 56.7l-.3 .2 .3 1zM159.1 58l-.3 .2 .3 1.4zM159.6 59.6l-.3 .4 .3 2.2zM159.8 47.4l2.5 1.8 3.2 4.5 2.6 5.6 1.4 4.2 0 1.1-4.3-10-2.4-3.6zM162.7 50.1l0 .5 .3 0zM114 53.7l.6 1.7 .4-.3 .5 .9 1.8 6.5 0 1-.5-.6-.4 .6-1.4-3-1-4.1zM115 56l-.3 .4 .3 1.3 .4-1.3zM115.5 58.3l-.3 .4 .3 .8 .3-.8zM115.9 60.2l0 .8 .3-.5zM155 72.6l.2 .5-1 2.3-2.8 3.1-4.4 3.1-4.1 1.8-4 .9-5 .4-4-.4-5.7-1.3 .7-.2 6.3 .8 4.1 .1 4-.5 3.6-.9 3.2-1.4 3.6-2.3 2.9-2.8zM152.4 76.5l-3.6 3.1-2.3 1.4-4 1.7-3.4 .7 2.1 0 4.9-1.8 4.2-2.7 2.3-2.2zM153 73.5l.3-.4 0 .4zM152.6 74l.2-.3 .1 .3-.5 .9-1.8 1.9-3.6 2.6-4.1 1.8-4 .9-5 .2-4.3-.7-4.3-1.3-3.5-1.8 9 2.6 4 .5 4.1-.3 3.6-.7 4-1.7 3.2-2zM147.4 76.7l.6 0-.6 .4-.8 0zM145.8 77.6l.7-.3 .1 .3-3.9 1.8-5.6 1-5.6-.6-4.4-1.8 7.3 1.6 3.6 .1 3.6-.5zM153.5 78.5l.7-.4 .1 .4-1 1.8-3.7 3.1-4.6 2.7-4 1.4 8.2-5.2zM153 83.4l.4 0-1 1.2-.2-.3z"/>
<path fill="#149e7e" d="M140.4 43.8l2.1-.3 .5 .3-.5 .8-3.2 .3-3.6 1-3.1 1.7-1.9 1.6-1.2 1.4-1.3 2.7-.5 4 1.4 5.9 2 3.6 2.8 2.5 2.3 .7 1.5-.1 1-.4-4.8-2.4-1.6-1.7-1.4-2.7-.4-2.7 .1-2.7 .9-3.6 1.5-2.5 2.3-2 2-.9 2-.4 3.6 0 2.2 .4 3.4 1.4 4.3 3.3 1.4 2 .9 2.3 .2 3.6-.7 4.5-1.3 3-1.8 2.8-5.8 5-.8 .5-.6-.1-.5 .6-.4-.3-1.1 .2 .4-.9 3.4-1.9 3.4-3 2.6-3.6 1.5-3.2 .5-2.2-.1-3.2-.6-1.8-1.6-2.2-3-2.3-3.6-1.8-1.4-.4-3 0 3.5 .7 3.6 2.6 2.9 4.3 .7 3.2-.8 3.6-2.4 3.4-4 2.9-3.9 1.3-3.3 0-1.7-.4-3.8-2.3-3.1-3.9-1.3-3-.9-3.3 0-4.8 1.3-3.7 4.4-4.7zM138.9 49.2l-4.1 1.5-2.7 2.8-1 3.4 0 4.9 1.5 3.4 2.7 2.2 3.6 .4 2.7-.4 2.2-.8 1.5-1.2 1.1-2.2-.2-1.8-1.7-3.6-1.6-1.2-1.3 .1-2.2 2.4 .8 1.5-1.4-.1-.8-.7-.2-.7 .6-1.3 2.5-2.7 1.6-.3 2 .7 2 2.3 1.4 2.3 .5 3.1-.9 2.2-2.3 2.3-2.7 1.4-4 1.3-.2 .4 1 .3 3.2-.1 3.1-1.1 3.6-3.1 1.8-3.8 0-3-1.3-3.1-2.7-2.9-3.2-1.8-3.1-.3-1.8 .7-1.7 1.6-1.7 3.1-.5 2.7 .5 1.4 1.1 .9 4.1 .8 1.1-.8 0-1.4-.8-1.3 1-.4 1.4 3-.4 1.4-1.4 1-1.8 .1-3.6-.5-1.4-.8-.9-1.2-.4-1.3-.1-2.2 1-3.3 1.8-3.5 1.8-1.4 1.8-.7 3.6 .1 2.9 .7-3.4-1.4zM163.1 51l.1-.3 .1 .3zM158.4 56.9l.3 0 0 1zM158.8 58.2l.3-.2 0 1.6zM159.3 60l.3-.4 0 2.6zM132.2 75.3l1.7-.1 2.1 .6-2.1 .1zM152.6 76.2l.4 0-.2 .3zM152.2 76.7l.4 0-2.3 2.2-4.2 2.7-4.9 1.8-2.1 0 1.6-.1 4.9-1.8 3.2-1.9z"/>
<path fill="#0a2e26" d="M138.4 49.2l4.1 0 3.8 1.4-2.9-.7-3.6-.1-1.8 .7-1.8 1.4-1.8 3.5-1 3.3 .4 3.1 1.3 1.8 2.3 .9 2.8 .2 1.4-.1 1.4-1 .4-1.4-1.4-3-1 .4 .8 1.3 0 1.4-1.1 .8-4.1-.8-1.1-.9-.5-1.4 .5-2.7 1.7-3.1 1.7-1.6 1.8-.7 3.1 .3 3.2 1.8 2.7 2.9 1.3 3 0 3.1-1.8 3.8-2.9 2.7-3.4 1.5-3.1 .1-1.5-.3 .2-.4 4-1.3 2.7-1.4 2.3-2.3 .9-2.2-.5-3.1-1.4-2.3-2-2.3-2-.7-1.6 .3-2.5 2.7-.6 1.3 .2 .7 .8 .7 1.4 .1-.8-1.5 2.2-2.4 1.3-.1 1.6 1.2 1.7 3.6 .2 1.8-1.1 2.2-1.5 1.2-2.2 .8-2.7 .4-3.6-.4-2.7-2.2-1.5-3.4 0-4.9 1-3.4 2.7-2.8z"/>
<path fill="none" stroke="#000" stroke-width="0.3" stroke-opacity="0.6" d="M126.3 25.6l-2.7 3-3.2 5.5-1.3 3.9-.5 2.2 0 2.9 4.2-7.8 4.8-7.1 .1-1-.4-1.4-.6-.4-.4 .2M162.7 29l-3.2 .4-1.7 .9 .1 1.8-.7 4.5-1.1 1.8 .5 .9 2.1 1.4-.6 .4 .5 .5 7.3 4.5 .9 .2 .9-.5 2.7 1.2 3.6 .1 2.7-2.2 4-2.7 2.8-3.8-.2-1.3-1.9-2.3-2.4-1.8-3.4-1.8-5.8-1.8-7.1-.4M135.3 17.1l-4.1 2.4-4.5 4.1-3.1 3.6-2.7 4.3-1.8 4.1-1.4 5.1-.9 11.5 2-7 1.9-4.5 3.5-6.3 4.9-6.8 1.2-3 4.9-2.8 2.8-3.2-.1-.9-.8-.6-1.8 0M161.4 28.1l-6 .9-4.2 1.3 3 1.2 .9 1.1 .3 3.6-1.7 1.8 .9 1 1.1 .3-.7 .5 .4 .4 6.8 4.5 7.3 4.2 .7-.1-.2-.9 .8-.2 1.4 1.1 3.6 .4 1.6-2.7 1-.9 6.4-3.9 3.1-1 .2-.5-.8-1.3-2.8-3.2-3.4-2.7-4-2.2-7.2-2.3-4-.5-4.5 .1M109.6 49l-.4 1.1 .1 .9 .8 1.5 .9 .4 1.3-1 0-1-.9-1.2-1.8-.7M107.8 61.4l-.1 4.5 .7 1.3 1.7 1.8 3.2 2.3 5.3 2.8 .5 .2 .1-.8 .8-.4 2.2 .6-1.9-3.8-4.4-4.2-.4-.3-.5 .6-.4-.1-2.7-1.3-4.1-3.2M160.9 74.7l-1.8 1.3-.9 1.2-2.8 9.4 1 .1 .7 .8 .8 4.5 .1 3.1-1 3.6 .8-.4 0-.5 .9-.7 .7-.2 .1 3.2 1.4 .7 1.4-.5 .9-1.1 1.2-3.6 .6-5.4-1-2.3 1-2.7 .4-3.6 0-.7-1.3 1.4-.9-.6-1.7-4.1-.1-3-.5 .1M146.9 9.2l-8.1 4-7.1 4.9-5.9 5.5-4.5 6.2-2.7 5.7-1.4 5.6-.8 10.8 .9 7.4 .2-7.4 1.4-5.8 2.2-5.4 4.5-7.7 5.6-6.5 10.6-9.2 2.8-4.1 2.8-1.6 3.6-1.5M117.6 15l-3 5-2.3 4.8-1.8 5.2-1.3 6.3-.5 5.4 .3 6.2-.4 2.7 3.3 6.5-.3-2.9 1.2-1.8 .1-1.4-.6-1.2-1.8-1.9-.4-3.2 .2-5.4 .8-5.4 1.5-5.4 2.3-5.4 3-5.4 3.2-4.5M174.8 21.3l-9.4-1-8.8 .6 11.1 .7 9.9 2.1M101.3 28.8l-.7 7.8 .5 8.1 1.8 7.9 3.3 8.3 .1 1.4-.6 2.2 .6 1.8 1.9 2.3 3 2.2 10.2 5.4 .6 0-1.1-1.8 .9-.1 2.2 .9 .2-.3-3.1-5.4-3.4-2.8-3.1-3.5-.5 1.5-4-2.1-2.6-3-1.8-3.6-2.2-7.2-.9-7.2 .1-7.7 1.4-8.4M186.6 36.1l-4.6-3.5-4.9-2.7-5.4-1.8-5.4-.8-6.7 .2-8.4 1.5-4.5 1.3-5.7 2.7 8.7-1 1.8 .1 1.3 .5 1.1 2.2 0 1.4-2.9 1.3 1.8 1.1 1.4 .3-1.4 .4 3.2 1.8 4.5 3.4 9.4 5.5 4.7 4.6 4.5 7.2 3.1 8.1 1.7 9.5 .2 9.2M147 37.1l.7 0-.7 0M156.9 43.2l-.3 .2 4.3 2.9-1.3-1.6-2.7-1.5M117.7 59.4l0 1.4 0-1.4M171.3 59.5l0 .9 2.9 7.7 1.4 7.2 0 9-1.2 9.1 1.8-8.7 0-10.2-1.8-8.3-1.3-3.5-1.8-3.2M99.7 61.1l-.4 .3 .9 2.1 3.6 4.8 5.4 4.8 3.3 2.2 .5 0-1.7-1.8 .1-.4-.9-.5-4.2-4.5 0-.4-1.8-1.8-2.5-3.9-2.3-.9M92.1 72l4.4 4.2 4.1 3.2 4.4 2.7 4.6 2.2 5.2 1.8 4.3 1 5.8 .5 4.5-.6-11.7-1.6-4.5-1.3-4.5-1.9-4-2.2-5-3.4-4.5-4-4-4.4M191.1 72.2l-2.3-6.3-2.4-5-3.4-5.4-3.9-4.9-.7-1.8 .2-1.4 1.2-1.1 5.9-2.5 2.2 .1 2.7 1.9M185.7 85.6l-.5-8.6-1.2-5.7-1.5-4.8-4-8.3-6.7-9 .4-.1 2.2 2 3.1 3.5 3 4.5 2.3 4.5 3.1 9 1.5 10.4M100.2 90.1l2.7 .1-3.7-1.9M141.1 90.1l-7.2 2.9-6.3 1.4-9.4 .3-.5-.5-1.4 0 4.9 1.4 7.3-.5 8.2-2.2 4.4-2.3 .6-.4-.6-.1M174 93.7l0 1 0-1M122.5 107.6l8.9-2.1 9.3-4.1 7.1-4.9 3.2-3 3.6-4.2 1.4-.7 .6 1.1 .6 4.5-.4 2.3-.9 1.8-2.7 3.1-4 3.9-8.7 6M150.7 110.4l6.8-6.7 1.2-.5 2.2 0 1.4-.6 1.3-1.7 .9-2 1.4-5.5 1-8.2-.1-.9-1.2 1.4-.7 0 .8-1.8-.1-1.4 .4-.4 0-1.8 .5-.5-.1-2.7 .5-.4-.6-7.8-1.1 7.8-.7 2.3-.4 .5-.5-.2-1.3-2.6-.2-4.5-.3-.2-.9 1.1-.9 .4-.4-.4 0-1.7-2 3-2.1 4.5 .9 0 .1 .9-2.1 6.3-4.3 5.2-4.9 4.3-5.9 3.6-6.7 2.9-8.1 2-7.4 .8M142.1 111.3l5.8-3.5 4-3.6 .5 .1 3.7-3.8 0-.4 2-1.8 .1-.6 .3 .1-.4 2.3-1.5 3.1-3.8 4-3.8 3.2M136.8 9.2l-6.5 4.9 .9 .1 1.8-1.8 1.8-.9 2.3-1.8 1.4-.5M144.2 9.2l-8 4.7-7.7 6.2-5.4 6.2-4.2 7.2-1.4 4-.8 3.6-.6 10.8 .7 6.6 2.8 7.8-.1 .9-1.8-1-1.9-2.1-1.4-2.3-.8-2.2-1.2-5 .8-2.2 .1-1.4-1.6-2.7-.4-1.3 0-6.3 1.3-7.2 3-8.1 4.1-7.2 5-6.3M129.9 14.6l-4.1 4 .5 .1 4-4.1 0-.4-.4 .4M115.7 16.2l-2.9 5.5-2.4 5.9-1.7 7.2-.6 5.4 .3 10.8 4.6 9.9 .7 2.8-.9-.1-2.3-1.4-2.4-2.6-2.1-4.5-1.8-6.3-.8-6.3-.1-5.9 .8-6.7 1.4-5.8M169.8 17.6l-8.4-.1-8.2 1.1-6.1 1.8-9.1 4.4-2.7 .5-.4-.8 1.4-1.8 11.6-8.3 3.6-2 4.7-1.4M100.4 29.7l-.5 6.9 .3 6.8 1.5 7.6 3.5 9.5 0 .9-1 1.9-.4 .4-.9-.5-2.1-3.2-2.3-4.9-1-3.6-.4-.5 0-1.3-.4-.5-.5-4-.5-.5-.4-6.3M185.7 34.1l-8.6-4.8-5.4-1.8-5.8-1-5.9 .2-8.1 1.3-6.3 1.9-10.6 5.4-5.7 4.5 .1 .4 4.5-3.3 5.4-2.3 9-1.6 2.7 .1 .9 .7 .9 1.5-.4 1-1.8 .2-5-.7-4.7 1.7 .7 .4 .4-.2 1.4 .3-.9 .5 9 .6 3.2 1.6 1.5 1.3-2.5 0 8.9 6.3 2.6 2.7 2.2 3.6 3.3 6.8 2.1 6.3 1.1 5.4 .3 6.3-.6 5.8-1.6 7.2-2.9 7.2-3.2 5.4M149.1 38l1.7 0-.2 .4-1.5-.4M150.9 38.4l1.5 0-1.5 0M91.8 48.6l2.1 5.8 3.1 6.4 3.2 4.8 4.2 4.8 4.7 4 5 3.2 4.6 1.8 4.4 1.3 1.4 .1-4.1-2-6.3-3.8-3.6-3.3 .6 0 13.4 6.4 .7-.1-2.5-1.7-.6-1 1-.1 2.3 1 .9 .1-2.3-2.8 0-1 .9-.3-4.2-5.4-1.8-3.6-1-4.1-.3-5.4 .9-5.4 2.1-5.8 4.2-7.7 4.2-5.3 1.3-1.2 1.4-.5 .4 .3-.1 .9-.9 1.8-4.8 6.8 0 .7 6.3-5.1 9-5.7 4.5-2 5.4-1.6 6.7-1 6.8 0 7.2 1 7.2 1.9M164.1 56.5l0 .9 0-.9M167.2 68.1l0 7.5 0-7.5M192 69.3l-3.6-9.2-7.9-9.5-.8-1.8 .4-1.4 1.1-.7 2.7-.8 2.2-.2 2.3 .9 3.1 3.2M92.5 74.1l5.2 4.4 5.6 3.7 5.9 2.9 6.3 2 5.8 1 5.4 .1 12.9-2.5-7.5 .4-7.7-.4-6.7-1.2-5.9-2-6-3.1-5.6-4.1-5.1-4.9-4.4-5.5M166.6 77.1l.5 0-.3 2.8-.2-2.8M125.4 78.3l.6 .2-.6-.2M166.2 80.3l.5 0-.4 1.8-.1-1.8M165.8 82.5l.3 0-.2 .8-.1-.8M140.2 85.2l.8 0-.8 0M104.2 95.1l5.4 1.6 5.9 .7 9-.7 5.8-.9 5.1-1.6 5-2.2 3.4-2.3 6.1-4.9-.2-.2-6.3 3.6-7.7 3.4-5.4 1.5-5.8 .8-5 0-5.4-.9-10.8-3-4.4-2M173.6 100l2.2-6.7 1.4-8.1 .1-7.6-1-7.2-1.8-5.9-2.3-4.9-9.9-13.2 5 2.4 3.7 2.7 4.1 4.9 3.4 5.9 2.5 6.3 1.5 6.7 .7 7.2-.4 7.8M124.7 108.2l8.8-2.5 8.1-3.9 6.3-4.5 6.7-7 .9-.4 .6 1.2 .4 3.6-.4 1.8-1 1.7-3.2 3.4-4 3.6-8.7 5.7M154.6 109.5l3.6-3.7 4.1-1.8 1.5-1.7 1.6-4.3 3.6-13.8 .8-7.1-.3-6.3-1.8-5.7-.5-.4 0 2.5-.4 .4-.3-.4-.1-3.1-1.9-6.5 1.1 6.5 .1 3.1-.4 5.9-.8 3.7-.4 .6-.5-.1-1-2.4 .1-8-.2 2.1-1.1 2.6-.9 .6-.3-.5-.2-2.4-3 5.1-2.7 5.9 1.2-.3 .3 .3-1.4 4.5-2 2.9-4.5 4.4-3.6 2.8-4.1 2.4-8.5 3.5-7.7 1.5-11.2 .1M142.2 111.3l1.6-.6 2.3-1.9 1.8-.8 1.3-1.4 .5 0 2.2-2.2 .5 0 4.9-5.3 .4 .1-.5 1.3-2 2.7-3.7 3.8-4.8 3.9M142.3 9.2l-7.5 4.7-7.2 6.3-5.2 6.1-4 7.2-1.4 4-.7 3.6-.4 9.9 .4 5.9 .8 3.6 1.6 4.5-.1 1-1.3-.6-2-2.7-1.8-5.4-.5-3.1 .8-2.7-1.6-3.2-.2-1.3 .3-8.1 1.6-7.2 3-7.2 4.1-6.8 5.3-6.3M134.2 9.7l-7 6.2-5.9 7.3-2.7 4.7-1.8 4.1-1.8 6 .5 .2 0-1.6 .6-.4 .4-2.3 1-1.3-.1-.9 1-1.4 1.3-3.1 .9-.9 1.8-3.2 1.4-1.3 0-.5 7-6.9 .4 0 1.8-1.8 1.8-.9 2.3-1.8 1.6-.7M168.1 16.4l-8.1 .2-7.6 1.4-5.9 1.8-8.1 4-1.7 .2 .1-.9 1.6-1.3 9.9-6.2 5-2.2 5.9-1.4M114.5 16.8l-2.9 5.9-2 5.8-1.4 6.3-.6 5.4 .4 10.8 4.7 10.4 .2 1.3-2.8-1.7-1.8-2.4-2.3-5.6-1.3-6-.5-5.9 .3-6.3 1.1-6.4 1.8-6.2M99.4 31.1l-.3 6.4 .5 6.8 1.7 7.6 2.5 6.8 0 1.9-.9 1-1.4-.9-2.8-5.6-1.4-4.1-.5-3.6-.4-.4-.1-1.8-.4-.5-.4-6.5M185.3 33.6l-8.2-4.7-4-1.4-5-1.1-5.8-.6-3.2 0-9 1.6-6.3 2.2-12.1 7.6-3.2 2.8-2.2 2.7-1.9 2.9-1.4 3.2 .1 1 3.4-6 4.7-4.6 5.4-3.2 5-1.4 1.1 .7-.2 .9-6.9 3.1 .1 .5 1.4-.8 2.2-.4 .5-.5 1.8 .6 4.5 .5 4-.1 2.3 .6 2 1.4-3.4 0 3.2 1.5 3.6 2.3 3.8 3 2.6 2.7 3.4 5.4 3.4 8.5 1.7 6.8 .6 5.8-.5 7.2-1.7 7.7-3 7.5-1.3 2.2-1.4 1.3-.4-.2 .4-2.5 4.6-17.8 .5-5.8-.4-5.4-2.4-9.2-2.7-6.7-3.2-4.8-.9-1-.4 .3 0-.8-.5 .3-.4-.4-1.1-1.1 .4-.5-.9 0 .4-.4-.8 0 .3-.5-1-.8-.5 .6-.4-.5-.5-.1-.1 .4 3.1 2.7 2.6 3.1 2.1 4.1 1.4 4 .6 3.6 .2 4.5-.4 4.8-.9 2.8-.6-.4-.6-1.8 .3-10.6-.9-4.2-1.4-3.4 1.6 7.9-.1 4-.7 2.7-.8 1-.4-.5 0-4.1-1.4 4.1-.9 .8-.4-1.2-3.9 6.7 .3 .2 1.3-1.3 .3 .6-.6 1.8-1.4 2.3-4.1 3.8-5.9 3.4-5.8 2.7-5.4 1.8-5 1-5.4 .3-5.8-.9-8.6-3.3-10-2.6M150 34.8l1.1 .5-1 .1-.1-.6M115 38.1l-.4 2.1 .4 .3 0-2.4M140.2 38.8l.8 .1-.8-.1M134.8 39.8l.9 0-.9 0M144.7 39.7l-1.1 .5 7.4 .5-4.5-1.2-1.8 .2M114.6 40.8l-.3 3.5 .3 .2 0-3.7M114.6 50.6l0 .8 0-.8M91.4 50.8l3.2 7.4 4.5 7.2 5.2 5.9 6.2 4.9 6.8 3.4 10.9 2.9 6.2 .6 5.8-.6-5.8 .3-7.2-1.4-6.7-2.9-6-4.1 2.1 .5 11.9 5.1 4.1 .9 3.1-.2-3.1-.1-3.6-1.1-3.2-1.4-2.1-1.4-.3-.5 .6-.2 4.1 1.6 1.1 0-3.8-2.7 .4-1.1 1.6 .2-2.9-2.9-3.6-4.5-1.6-3-.9-3.1-.6-6.3 1.1-6.8 2.8-6.7 4.6-7.3 3.1-3.7 .9-.5 .5 .2-.1 .5-6.2 9.4-2.3 4.1-2.2 6.7 0 3.3 1-4.6 1.3-3.2 2.4-4 2.2-2.7 6.6-5.6 10.3-6.2 8.6-2.6 9-.9 9.3 .9 10.1 2.8M161.2 51l.2-.3 .3 .3-.5 0M119.5 53.5l0 2.4 0-2.4M160.5 54.4l0 .8 0-.8M192.3 66.9l-3.8-8.7-6.7-7.6-.8-1.8 .5-.9 1.5-.7 1.8 0 1.3 .4 2.3 2.1 4 4.8M93 75.7l6.7 5.3 8.1 4.4 7.2 2.4 8.1 1.1 6.3-.3 11.3-2.8 6.3-2.8 5.2-4.1-.3-.1-2.7 2.1-4 2.3-3.6 1.3-4.5 .9-4.5 .2-5.4-.3-9.7-1.9-7.7-3.1-7.4-5-6.4-6.3-5.3-7.4M129.4 77.9l.8 .1-.8-.1M138.4 80.7l.6 0-.6 0M154.3 81.2l.8-.4 .2 .4-.7 2.1-.9 1.6-2.2 2.5-5.9 5.2-6.3 4-5.8 2.4-6.8 1.7-5.4 .1-2.2-.5-1-.7 2.5-1.3 12.4-2.6 6.8-2.7 4.9-3.2 9.6-8.6M140.7 82.1l1.1 0-1.1 0M107.9 98.4l1.4 .8 0 .6M174.9 98.7l1.9-7.2 1-6.7 .1-7.2-1-6.8-1.7-5.8-2.3-5-2-3.1-7-9 .6 0 4.1 2.2 2.9 2.7 4.3 5.8 3.1 6.4 1.8 5.8 1.2 7.7 .2 7.1-.8 6.7M156.3 100.1l.5 0-.4 .8-.1-.8M157.2 108.6l1.9-1.9 1.4-.8 2.2-.4 .3 1M126.3 108.7l8.1-2.5 8.1-4.1 5.8-4.3 6.8-6.6 .5 1.2-.1 3.2-.9 1.7-1.8 2-7.2 6.2-5 3.1-4.5 2.3M142.3 111.3l1.5-.5 2.3-1.8 1.8-.9 1.3-1.4 .5 0 6.3-5.8 .3 .1-.3 .5-3.6 3.8-6.9 5.6M139.7 9.2l-4.4 2.9-5 4-5.3 5.2-3.2 4.1-.1-.9 2.3-2.7 0-.5 6.8-6.7 .4 0 1.8-1.8 3.2-1.8 .9-.9 1.7-.9M132.8 9.7l-6.4 5.8-5.3 6.7-3.7 6.8-2.5 7.2-1.1 6.3 .2 5.4 .1 1 .4-4.2 .5-.9 1.1 13.1 2.1 8.1-1.4-.5-1.4-2.2-1.9-6.8-.1-1.8 .7-1.2 .5 1.1 .2-3-.7-.8-.4 .2-1.1-2.1-.1-5.4 .7-5.4 1.8-6.6 3.2-6.9 4.5-6.8 5.2-5.8M166.1 15.3l-9.7 .8-10.8 2.6 2.9-1.9 3.9-1.8 4.6-1.3 4.5-.8M113.1 17.7l-2.3 5-1.9 5.4-1.3 5.8-.6 6.3 .4 8.1-.2 2.3 4.7 9.9 0 .9-1.9-1.8-2.2-4.9-1.6-6.4-.6-5.1 0-5.4 .7-6.1 1.5-6.2 1.8-5.1M153.9 24.9l5.7-.4 5.2 .4-1.9 .5-7.8 .2-.5 .4-3.1 0-.5 .5-1.8 0-1.8 .9-2.7 .4-2.2 1.4-1-.2 5.1-2.3 7.3-1.8M121.3 25.4l.4 0-.8 1.1 .4-1.1M184.3 31.8l-4.8-3.3 2.7 .6M97.4 34.4l.1 5.8 .7 5.4 1.2 5.4 2.6 7.8-.5 .2-.4-.4-.9-1.5-2.3-5.8-1.3-5.4-1-7.9M139.6 38.4l.7 0-.7 0M138.2 38.9l.8 0-.8 0M136.8 39.3l1 0-.7 .3-.3-.3M135.9 39.8l.8 0-.5 .3-.3-.3M148.8 39.8l1.8-.3 1.2 .3 1.2 .9-4.2-.9M138 41.1l.9 0-.9 0M137.1 41.5l.4 .1-.4-.1M91.2 52.8l3.7 7.7 5 7.2 6.1 6 6.8 4.5 5.4 2.3 12.6 2.7 7.6-.1 6.6-1.9 2.5-1.4 .6-.4-.2-.2-3.6 1.8-5 1.3-4 .2-4.1-.3-3.6-.9-3.9-1.5-3.4-1.8-2.3-1.8 10.1 3.9 6.7 1.2 2.8-.1 4.4-.8 5.4-2.4-.4-.1-5.4 2.1-5 .6-5.4-.6-5-2-1.2-.9 .4-.2 4.9 1.7 4.5 .8 3.2 .1 3.2-.6-4.1 .1-4.1-.5-3.6-1.1-2.5-1.6-.2-.5 .9-.3 3.6 1.1 0-.3-4.2-2.7-4.8-5.2-2.2-3.4-1.4-4-.6-5.4 .6-5.4 1.8-5.8 2.7-5.1 3.6-5.3 1.4-1.5 .3 .1-5.9 9.9-2.6 7.2-.6 4.1 .1 4.9 .6 2.8 1.3 3.5-.8-4.9-.2-4.5 .7-5 1.5-4 2.3-4.1 3-3.6 4.3-3.7 3.6-2.3 .3 .2-.4 .9-4.8 3.8-3 2.9-3.5 5-2.3 5.8-.2 5.9 .7-4.1 1.4-4 1.9-3.5 2.3-2.9 3.4-3.1 3.6-2.2 3.8-1.5 2.2-.1 .4 .7-.5 .4-7.5 3.6-2.9 2.3-1.9 2.2 4.3-3.3 1 .2-.3-.5 .7-.6 1.4 .2-.5-.2 0-.4 .9 .3 3.6-1.1 2.2-.2 1.3 .2-.6 .5-3.6 .9 .2 .2 4.1-.3 7.2 .7 4 1.8 5.9 4.2 2.9 2.8 2.2 3.2 2.3 4.5 2.1 5.4 2.2 8.5 .4 4.6-.1 4.4-.8 5.9-1.3 5.3-2.3 5.7-1.3 1.8 0-2.2 2.8-9.7 1.3-7.2 0-6.8-1.2-6.3-3.8-10.7-4-6.4-3-3.1-2.5-2-3.1-1.7-4-1.3-2.8-.5-3.2 .1 2.3 .4 .3 0-.6 .5 2.1 .2 3.2 1 4.9 2.8 4.1 3.8 2.8 4.3 1.7 4.5 .9 4.1 .1 5.4-.6 4.3-.4 .9-.8-1.6 .2-8.1-1.1-5.9-2.3-4.9-3.7-4.3 3.2 5.2 1.8 4.2 .8 5.7-.7 4.9-.6 .9-.1-.4 .2-5.9-.5-3.6-.2 5.9-.7 2.8-.5 .6-.4-.3 0-2.5-2.3 5.3-2.7 4.7-2.4 2.4-3.1 2.3-3.5 1.9-3.8 1.2-6.1 .9-6.5-.4-8.1-1.8-8.4-3.2-6-3.6-5.8-4.9-5.2-6.2-4.1-6.4M192.4 63.6l-3.9-7.6-4.6-5-1-1.8 1.2-.4 1.6 .9 4 4.6 3.2 4.3M131.7 76.1l.6 .1-.6-.1M151.5 76.2l0 .5 .3-.5-.3 0M151 76.6l0 .5 .4-.4-.4-.1M154.5 77.1l.5 0 .1 .5-.9 1.8-4.1 4-5.1 3.2-7.4 3.1-6.7 1.8-6.9 .8-3.8-.3-2.2-.9-.7-.9 12.1-.2 10.8-3.6 4.5-1.9 3.2-1.7 3.1-2.4 3.5-3.3M147.4 77.5l0 .5 .6-.4-.6-.1M93.9 78.3l6.5 5.1-.2 .5-.9 0-3.2-.8M142 78.4l.7 .1-.7-.1M148.8 78.5l-.7 .4 .2 .3 1-.7-.5 0M154.5 81.6l.1 .7-.9 1.7-3.1 3.3-4.5 3.8-5.4 3.6-4.6 2.2-5.3 1.8-4.9 .9-2.2-.4 1.7-.9 8.5-2.1 7.2-3.2 3.6-2.4 9.8-9M175.9 98.1l1.8-7 .9-6.8 0-5.8-.9-6.8-1.7-6.3-2.7-5.8-1.7-2.7-5.8-6.8-.4-1 3.7 2.4 4 5.1 3.1 5.5 2.3 6 1.5 6.3 .6 6.8-.3 6.7-1.1 6.9M158.9 108.2l1.1-.8 .9-.1M146 109.1l.6 0-.5 .4-.1-.4M128.9 109.5l8.6-2.8 .2 .1-1.7 .9-5.2 2.3M144.7 110l.6 0-.6 .4 0-.4M143.3 110.9l.7 0-.6 .4-.1-.4M133.6 33.9l.5 0-.5 0M132.2 34.8l.7 0-.3 .4-.4-.4M131 35.7l.6 0-6 6.8-3.2 6.3-.9 3.6-.1 3.6 .3 3.1 1 3.1 .2-.4-.5-4.5 .3-3.8 1.3-4.5 1.8-3.3 3.2-3.8 3.6-3 4.2-2.3 3-.7 .9 .3-.3 .4-4.7 2.1-3.1 1.9-2.8 2.3-2.2 2.7-2.4 4.1-.9 2.7-.5 4 .2 1.9 .5 .6 .4-2 0-2.7 .5 0 .8-3.2 1.3-2.7 2.4-3 3.1-2.9 2.3-1.3 3.1-1.3 3.2-.5 .5 0-.2 .5-4.4 1.2-3.6 1.9-3.4 2.7-1.5 2.4 5.5-4.6 4.8-2.1 2.7-.4 5.4 .1 4.1 .8 3.1 1.5 0 .4-4.9-1.7-4.1-.8-4 .3-5.7 1.9 .3 .3 4.9-1 5.4 .1 3.6 1 4.5 2.3 3.6 2.9 2.7 3.4 2.3 4.3 1.3 4.7 .4 5.4-.4 4.2-.4 .8-.5-.9 .2-5-.4-4.1-1.9-6.3-1.8-3.1-2.1-2.7-3-2.4-1.2-.3 4.4 4.5 2.7 5 .9 2.8 .5 3.9 0 3.1-.5 2.3-.4-6.8-.9-3.6-.8-1.3 .9 5.8-.1 3.2-.5 2.1-.5-.3-.4-3.9-.4 2.5-1 2.9-2.7 5.6-1.8 2.5-2.3 2.1-3.4 2.2-4 1.8-3.3 .9-5 .6-4.9-.3-7.1-1.6-2.6-.9 .2-.3 9 1.5 5.9 .3 5.8-.9 5-1.9 4.9-3.5 4.3-5.1 1.6-4.5 .4-4.4-.4-1-.5 .4 .1 4.1-.5 1.8-1.4 3.1-1.8 2.7-4.5 4.3-4 2.1-5.4 1.4-6.8 0-6.9-1.9-5-2.7 11 3.5 5 .4 4.5-.6 4.9-1.6 3.6-2.2 3.5-3.6 2.4-4 0-1.1-.5-.1-2.2 4.3-4.1 4.1-3.1 1.9-3.7 1.2-3.1 .6-4.8-.1-4-.9-3.4-1.8 1 0 4.9 1.5 5.9 .5 4.9-.9 4.1-2-.5-.1-5.4 1.7-3.6 .4-4.5-.4-3.5-1.2-1.6-.9 1.1-.3 3.6 1 2.5 .2-5.1-2.2-3-2.3-.9-.9 .3-.4-3.2-4.5-1.3-2.7-1.2-4.5-.2-2.7 .2-4.1 .9-4 1.7-4.1 2-3.1 2.8-3.2 2.9-2.7M124.3 37.5l.2-.2 .2 .2-.2 .5-3.9 8.1-1.4 6.7 .2 6.3 .9 3.6 1.9 4.1 0 .7-1.8-2.5-1.3-3.3-.8-3.9-.1-4.1 .4-3.4 1.4-4.8 2.2-4.8 2.1-3.2M150.7 40.2l.3-.2 .8 .2-1.1 0M135.3 43.8l.5 0-.5 0M154.7 43.8l.7 0-.7 0M113.2 45.2l.5 3.7-.6-.6 .1-3.1M159.2 47l.6 0 3 2.7 3.6 5.4 3.5 8.9 .9 3.5 0 1.9-3.4-9.8-1.8-4.1-2.9-4.5-3.5-4M115 52.8l2.7 11.4-.9-.1-.9-1.2-1.5-4.2-.8-4.5 .5-1 .5 1.6 .4-2M156 54.3l-.4 .3 .5 1.4 1 1.8 .7 .4-.5-2.2-1.3-1.7M159.1 55.9l0 .8 0-.8M115 56.2l0 1.1 .3-.9-.3-.2M115.5 58.5l0 .7 0-.7M171.2 69.9l.1 2-.1-2M171.7 72.6l0 10-1.3 6.8-1.8 5.3-.1-1.4 2-6.3 1-4.9 .2-9.5M153.8 78l.4-.2 .4 .2-.9 1.9-5.2 4.4-7.4 3.6-2.7 .8-.7-.3 10.6-5.7 5.5-4.7M153.6 82.5l.6 .1-1.4 2-3.6 3-.4-.1 4.8-5M168.1 94.7l0 .7 0-.7M139.1 36.2l.8 0 .2 .4-6.2 3-3.1 2.3-2.3 2.4-3.4 5.4-1.3 3.6-.7 3.9-.4-.3 0-2.6 .9-3.8 1.3-3.1 1.8-2.7 2.7-3 2.8-2.4 3.1-1.8 3.8-1.3M140.6 39.3l.7 0 .2 .5-4 1.1-2.7 1.3-2.2 1.4-3.3 2.9 1.8-2.2 2.7-2.3 3.5-1.8 3.3-.9M122.6 40.2l.1 .9-2.9 7.2-.8 5.9 .4 5.4 2 5.8-.1 .8-1.3-2.3-.9-2.6-.7-3.5-.1-4.1 1.2-6.7 3.1-6.8M126.1 40.7l.5 0-.8 1.1 .3-1.1M140.7 41.1l3.3 0-3.3 0M146.5 41.1l1.4 0-1.4 0M138.9 41.6l1.8-.3 0 .3-1.8 0M148.4 41.6l1.7-.1 3.7 1.4-.5 .2-4.9-1.5M125.2 42l.4 0-2.7 5-1.5 4.5-.3 3.6 .4 4 .6 2.3 1.5 3.2 4.5 5.3 3.1 2.8 3.2 1.8 3.4 .8 3 0 3-.8 2.3-1.4 3.1-2.9 2.3-2.9 1.3-3 .5-2.9-.5-2.8-.7 5-1.2 2.7-1.4 1.8-2.1 2-3.1 1.9-2.3 .9-2.7 .5-4-.5-2.7-1.4-2.4-2-2.9-4.1-1.7-4.5-.4-3.6 .4-3.1 1.7-4.1 5.7-5.3 8.6-2 4.9 .1 4.7 1.4 3.9 2.2 4 3.6 3.2 4.8 1.8 4.9 .6 6.1-.2 3.2-.4 .8-.3-6.3-1.3-5.8-2.6-5.4-3.5-4-3.1-2-1.8-.9-.7 .1 3.4 2.2 3.1 3.2 2.4 4.1 1.7 4.8 .5 4.6-.5 3.7-.7-8.6-1.4-3.6-1.1-2-.2 .2 1.7 4.9 .4 5.9-.7 2.2-.9-6.7-.3 5.4-1.3 3.7 1.3-10.9-1.3-4.2-2.7-4.8-2.5-1.8-4.6-1.8-5.1-.5-4.4 .5-4.1 1.8-2.7 2.5-1.8 3.8 0 2.8 3.4-6 3.3-2.5 2.3-.9 2.7-.4 5.8 .9 3.2 1.3 2.2 1.5 3 3.7 .8 2.3 .4 3.1-.8 5.4-1.8 4.1-2.2 3.6-5.7 3.7-4.5 1.4-4.5 .4-4-.5-3.8-1.4 .6-.3 5.4 1.1 1.6-.4-5.2-1.7-3.5-2.3-.4-.5 .5-.4-4.1-5-2.2-4.5-.8-4 .1-6.3 1.7-5.9 2.7-4.5M137.6 42l1.3 0-1.3 0M136.6 42.5l.9 0-.9 0M159.8 47.4l2.5 1.8 3.2 4.5 2.6 5.6 1.4 4.2 0 1.1-4.3-10-2.4-3.6-3-3.6M114 53.7l.6 1.7 .4-.3 .5 .9 1.8 6.5 0 1-.5-.6-.4 .6-1.4-3-1-4.1 0-2.7M115 56l-.3 .4 .3 1.3 .4-1.3-.4-.4M115.5 58.3l-.3 .4 .3 .8 .3-.8-.3-.4M115.9 60.2l0 .8 .3-.5-.3-.3M155 72.6l.2 .5-1 2.3-2.8 3.1-4.4 3.1-4.1 1.8-4 .9-5 .4-4-.4-5.7-1.3 .7-.2 6.3 .8 4.1 .1 4-.5 3.6-.9 3.2-1.4 3.6-2.3 2.9-2.8 2.4-3.2M152.6 74l.2-.3 .1 .3-.5 .9-1.8 1.9-3.6 2.6-4.1 1.8-4 .9-5 .2-4.3-.7-4.3-1.3-3.5-1.8 9 2.6 4 .5 4.1-.3 3.6-.7 4-1.7 3.2-2 2.9-2.9M147.4 76.7l.6 0-.6 .4-.8 0 .8-.4M145.8 77.6l.7-.3 .1 .3-3.9 1.8-5.6 1-5.6-.6-4.4-1.8 7.3 1.6 3.6 .1 3.6-.5 4.2-1.6M153.5 78.5l.7-.4 .1 .4-1 1.8-3.7 3.1-4.6 2.7-4 1.4 8.2-5.2 4.3-3.8M153 83.4l.4 0-1 1.2-.2-.3 .8-.9M138.2 36.6l1.4 0-6.6 3.4-4.7 4.3-2.7 4-2.5 5.8 0-1.3 1.4-4.1 3.1-4.8 5-4.6 5.6-2.7M138.9 39.8l2.2 0-7 2.2 4.8-2.2M141.6 41.1l.9 0-.9 0M148.7 41.6l1.6 0-1.6 0M150.3 42l1.4 0-1.4 0M151.8 42.5l.9 0-.9 0M141.5 42.9l4.1 0 2.7 .5 5 2.2 .5 .5-.5 .1-3.6-1.6-2.8-.3 4.4 1.8 3.8 2.7 3.1 3.8 2 4.3-.2 .4-.7-1.8-2.4-3.6-2.3-2.3-2.7-1.9-4-1.7-5.4-.6-5 .5-3.6 1.5-2.9 2.3-1.8 2.7-.7 3.6 .5 4.8 1.3 3.9 .3-.2-.6-2.2-.2-2.7 1.1-5.4 2.3-3.6 1.2-1.1 2.7-1.4 2.7-.5 3.1 0 5.4 1.5 2.7 1.5 1.6 1.3 1.2 1.4 1.4 2.7 .6 3.6-.2 3.6-.8 3.1-2.3 4.5-1.9 2.5-4.1 2.9-3.6 1.5-2.7 .4-3-.5 1.6-.5-6.4-1.3-3.9-2.3 1.6 0-4.7-4.3-3.2-5.1-1.4-5 .1-4.3 .5 5.2 2 5 2 2.7 4.9 4.6 2.7 1.8 4.5 1.4 4.1 0 3.6-1.4 2.2-1.7 2.8-2.9 1.8-2.7 1-2.3 .5-2.2-.1-3.2-1-2.5-1.4-1.5-.5 0 1.2 4 .1 2.7-.6 2.7-.9 1.8-1.8 2.3-2.4 2-3.2 1.7-3.1 .8-2.3 0-3.1-.8-3.6-2.6-1.5-1.6-1.9-3.1-1.3-3.2-.5-2.7-.1-2.7 .6-3.1 .9-2.3 1.4-1.8 4.2-3.6 4.5-1.8 4.4-.9M120.8 43.8l.1 1.1-.1-1.1M120.3 45.2l.1-.3 .2 .3-.2 .9-1.2 4.5-.3 4.9 .4 4.1 1.6 5.7-1.8-4.3-.7-5 .2-4.8 1.7-6M121.7 48.8l.1 .7-.1-.7M161.1 48.8l.3-.3 .9 .9 2.3 3 2.2 4 1 3.2-3-5.9-3.7-4.9M121.2 50.6l.1 .6-.1-.6M158.8 50.6l.3-.2 1.8 2.3 2.3 4.6 .9 3.1 .2 3.2-.2 .8-.6-3.9-1-3.2-1.3-3.1-2.4-3.6M155.8 51.9l.2-.2 .4 .5 1.5 2.4 1.7 4.5 .5 4.5-.1 1.9-.4 .9-.8-6.4-1.3-4.5-1.7-3.6M120.8 52.8l.1 1.3-.1-1.3M114 54.6l.1 1.3-.1-1.3M114.3 56.4l.3-.3 .2 1.7 .4 .4 .1 1.4 .6 .1-.2 1.2 .2 .3 .5-.6 .1 .8-.6 1.1-.9-2.5-.7-3.6M160.4 57.3l.1 1.3-.1-1.3M160.8 59.1l.1-.4 .5 1.8 .2 2.2-.2 4.9-.2-6.2-.4-2.3M168 60l.1 .7-.1-.7M116.5 61.8l.3 0 0 .7-.3-.7M158.2 61.8l0 3.2-.4 1.8 .4-5M116.2 62.7l.4 0-.2 .5-.2-.5M130.8 64.7l0 .8 .2-.1-.2-.7M154.6 73.5l-.9 2.3-2 2.2-3.4 2.7-3.6 1.8-3.6 1.2-4 .7-4.1 0-4.2-.5 8.7-.3 6.8-1.7 5.4-3.2 4.9-5.2M131.1 77.6l.6-.3 .5 .3-1.1 0M132.8 78l.7-.3 .9 .3-1.6 0M148.2 78l.7 0-.6 .4-.1-.4M128.2 78.5l5.7 1.1 6.4 .2-5.3 .5-3.1-.5-3.7-1.3M147.5 78.5l.8 0-.8 0M146.7 78.9l.7-.3 .2 .3-1.5 1-3.4 1.3-6.1 1-6.7-.6-5.3-1.8 .8-.1 6.3 1.7 4.9 .2 5-.7 5.1-2M153.2 78.9l.5-.2 .3 .2-.3 .6-3.1 3-4.3 2.7-1 0 4.8-3.4 3.1-2.9M140.8 79.4l1.1 0-1.1 0M127.4 83.4l1.2 0-1.2 0M137.6 37.1l.8 0-.8 0M136.4 37.5l1.1 0-1.1 0M135.5 38l.9 0-2.5 1.4-.8-.1 2.4-1.3M132.4 39.8l.6-.4 .1 .4-3.2 2.6-2.5 2.8-2.9 5.4-.3-.5 .7-1.7 2.3-3.6 5.2-5M138.2 40.2l.8 0-.8 0M150.6 42l.8 0-.8 0M140.5 43.4l3.3-.3 3.8 .3 1.6 .6-3.1-.4-1 .2 .1 .7 2.2 .8-5.4-.2-5.4 .8-3.6 1.7-3.1 3-1.2 2.2-.5 1.8 0 3.6 1.5 5.9 1.9 3.1 3.2 2.3 2.2 0-3.1-2-2.1-2.5-1-2.3-.4-3.1 .5-4.5 1.2-2.7 1.8-2.3 3.2-1.8 2.7-.5 3.9 .1 3.3 .9 3.6 1.8 2.2 1.9 1.8 2.7 .9 3 .1 2.3-.1 2.3-.9 3.4-3.1 5.7-5.4 4.3-3.5 1.4-1.9 .1-1.6-.1 1.4-.5 .3-.4-.6-.4-5.7-.1-3.6-1.3 2.1-.3 3.6 1.1 3.6 .5 4.5-1.5 2.7-1.9 3.5-3.8 2.2-4 .7-4.5-.3-2.3-.9-1.8-2.1-2.2-2.1-1.4-.7 0 2.2 3.2 1.4 3.1 .3 2.7-.8 3.2-2 3-3.2 2.6-3.1 1.6-3.6 .7-4.2-.7-1.7-.9-2.7-2.3-2.2-3.2-1.4-3.1-1-5.4 .1-1.8 .9-3.2 .9-1.7 3-3.2 2.4-1.8 7.5-2.2M149.3 44.3l.9 0-.9 0M147.8 45.6l1.7 0 1.2 .5 2.9 1.8 2.8 2.6 2 2.8-.2 .2-2.2-2.8-2.7-2.5-4.5-2.4-1-.2M119.5 47.9l0 1.1 0-1.1M119 49.7l.1 2.1-.1-2.1M162.3 50.1l.4-.1 1.7 2.4-.3 .1-1.8-2.4M123.9 51l.1 .5-.1-.5M118.6 51.9l.5 8.7-.6-3.7 .1-5M164.3 52.8l.2-.3 .2 .3-.2 .4-.2-.4M164.6 53.3l.4 0 0 .6-.4-.6M158.5 53.7l.2 .6-.2-.6M157.2 54.2l.1-.3 .5 .7 1.3 3.2 .9 4.6 0 2-.4-.5-.6-4.3-1.8-5.4M165.2 54.2l.4 .4-.4-.4M115 58.7l0 1 0-1M115.4 60.5l.1 .7-.1-.7M119.3 60.9l.2 1.2-.2-1.2M161.3 61.4l.1 3.4-.1-3.4M119.9 62.3l.1 1-.1-1M126.9 69.9l2.4 1.8-.3 .3-.9-.5-1.2-1.6M153.7 74.9l-.4 1.2-2.3 2.4-5.7 3.6-6 1.8-3.1 .3-2.1-.3 6.1-.6 5.4-1.9 3.6-2.2 4.5-4.3M129.7 78.9l.9 0-.9 0M130.8 79.4l1.9 0-.1 .4-1.8-.4M153.2 79.4l.1 .4-1.3 1.4-1.1 .9-.6 0 2.9-2.7M132.6 79.8l4.1 0-4.1 0M145 79.8l.9 0-.9 0M143.8 80.3l1.1 0-1.1 0M127.2 80.7l.9 0-.9 0M142.5 80.7l1.3-.3 .1 .3-1.4 0M128.5 81.2l1.6 0-1.6 0M140.8 81.2l1.7-.4 0 .4-5 .9-4.4 0-2.8-.5 6.8 .2 3.7-.6M140.4 43.8l2.1-.3 .5 .3-.5 .8-3.2 .3-3.6 1-3.1 1.7-1.9 1.6-1.2 1.4-1.3 2.7-.5 4 1.4 5.9 2 3.6 2.8 2.5 2.3 .7 1.5-.1 1-.4-4.8-2.4-1.6-1.7-1.4-2.7-.4-2.7 .1-2.7 .9-3.6 1.5-2.5 2.3-2 2-.9 2-.4 3.6 0 2.2 .4 3.4 1.4 4.3 3.3 1.4 2 .9 2.3 .2 3.6-.7 4.5-1.3 3-1.8 2.8-5.8 5-.8 .5-.6-.1-.5 .6-.4-.3-1.1 .2 .4-.9 3.4-1.9 3.4-3 2.6-3.6 1.5-3.2 .5-2.2-.1-3.2-.6-1.8-1.6-2.2-3-2.3-3.6-1.8-1.4-.4-3 0 3.5 .7 3.6 2.6 2.9 4.3 .7 3.2-.8 3.6-2.4 3.4-4 2.9-3.9 1.3-3.3 0-1.7-.4-3.8-2.3-3.1-3.9-1.3-3-.9-3.3 0-4.8 1.3-3.7 4.4-4.7 8.4-2.7M119 50.1l.1 1.1-.1-1.1M162.5 50.1l.5 .5-.5-.5M118.6 52.8l0 5 0-5M158 56l.2 .6-.2-.6M158.4 56.9l.3 0 0 1-.3-1M158.8 58.2l.3-.2 0 1.6-.3-1.4M119 58.7l.1 1.6-.1-1.6M159.3 60l.3-.4 0 2.6-.3-2.2M119.5 60.9l0 1 0-1M132.2 75.3l1.7-.1 2.1 .6-2.1 .1-1.7-.6M152.2 76.7l.4 0-2.3 2.2-4.2 2.7-4.9 1.8-2.1 0 1.6-.1 4.9-1.8 3.2-1.9 3.4-2.9M131.4 79.4l.9 0-.9 0M133.3 79.8l2.2 0-2.2 0M144 80.3l.8 0-.8 0M142.7 80.7l1.1 0-1.1 0M128.9 81.2l.7 0-.7 0M141 81.2l1.5 0-1.5 0M130.6 81.6l1.9 0-1.9 0M138.5 81.6l2.2 0-2.2 0M133.5 82.1l4.2 0-4.2 0M135.9 83.9l3 0-3 0M138.4 49.2l4.1 0 3.8 1.4-2.9-.7-3.6-.1-1.8 .7-1.8 1.4-1.8 3.5-1 3.3 .4 3.1 1.3 1.8 2.3 .9 2.8 .2 1.4-.1 1.4-1 .4-1.4-1.4-3-1 .4 .8 1.3 0 1.4-1.1 .8-4.1-.8-1.1-.9-.5-1.4 .5-2.7 1.7-3.1 1.7-1.6 1.8-.7 3.1 .3 3.2 1.8 2.7 2.9 1.3 3 0 3.1-1.8 3.8-2.9 2.7-3.4 1.5-3.1 .1-1.5-.3 .2-.4 4-1.3 2.7-1.4 2.3-2.3 .9-2.2-.5-3.1-1.4-2.3-2-2.3-2-.7-1.6 .3-2.5 2.7-.6 1.3 .2 .7 .8 .7 1.4 .1-.8-1.5 2.2-2.4 1.3-.1 1.6 1.2 1.7 3.6 .2 1.8-1.1 2.2-1.5 1.2-2.2 .8-2.7 .4-3.6-.4-2.7-2.2-1.5-3.4 0-4.9 1-3.4 2.7-2.8 3.6-1.5"/>
<path fill="none" stroke="#000" stroke-width="0.26" stroke-opacity="0.4" d="M161.4 29.8l-1.6 1-2.5 8.1 1.1 1.3 2.1 1.4 .2 .9 1.9 1.3 3.7 .9 2.7 1.4 3.6 .4 6.4-4 1.9-2.3 .9-2.2-.1-1.4-1.3-1.8-3.2-2.2-4.1-1.8-3.5-.9-4.6-.4-3.6 .3M134.8 18.6l-2.7 .9-4.9 4.1-2.7 2.9-2.7 3.9-2.3 4.6-1.3 4.5-.9 9.9 2-6 3.1-6.3 6-9 .9-4.1 1-.9 3.6-1.1 1.5-1.1 .8-1.7-1.4-.6M160.5 28.5l-4.9 .9-1.4 .9 1.5 1.4 .3 .9 0 3.6-1.5 1.8 .1 .4 2.3 1.4-1 .4 .5 .5 11.9 7.2 .7 .2 .5-1.1 2.2 1.1 3.6 .2 2.1-2.7 4.5-2.7 4.2-3.5-.7-1.9-2.6-2.7-6.5-4-3.8-1.4-4.4-.8-7.6-.1M110.1 49.6l-.5 .4 0 1.1 .5 .8 .9 .4 .6-.4 .3-.9-.6-.9-1.2-.5M108.7 63l-.1 3.3 2.7 3.2 6.9 4 .4-.9 .9-.2 1.8 .6-1.3-2.9-3.6-3.5-1.4-.1-1.8-.8-4.5-2.7M160.5 76l-2.3 2.5-1.8 6.3 1.1 1.8 .9 5.4-.2 5.4 1.4-1.5 .3 .1 .2 2.3 .8 .9 1.4-.5 1.3-2.7 .6-4.5-.7-2.7 1-2.2 .1-1.8-.1-.6-.9-.3-.7-.9-1.8-4.5-.2-2.4-.4-.1M138.4 14.6l-5.4 3.1-4.5 3.7-4.5 4.8-3.1 4.9-2.3 5.1-1 4-.9 8.6 .1 6.7 1.6-8.5 3.2-7.7 3.1-5.4 6.5-8.8 5.1-3.8 3.6-3.6 .1-3.1-.2-.4-1.4 .4M102.3 27.3l-.9 6.2 .1 9.9 1.8 8.8 3.7 9.6 0 4.1 2.5 3.1 4.8 3.2 5.7 2.9 .3-.2-.4-.9 .5-.3 2.9 .7-2.9-5-5.4-4.9-.4 .9-.5-.1-4-2.2-2.5-2.6-2.3-4.1-2.2-6.7-1.3-9 0-5.4 1.2-8.7M187.5 37.9l-4.5-4-4.2-2.7-4.1-1.8-5.2-1.3-5.4-.5-5.9 .5-8.3 1.8-3.1 1.3 5.1 .3 1.9 .6 .5 .9 .5 3.2-2 1.3 .5 .9 1.8 .9-.9 .5 17.1 10.6-.5-2.1 .5 0 1.8 1.3 4 .9 .5-3.1 1.9-1.8 6.6-3.3 1.8 .1 1.8 .9M109.6 48.1l-.6 1.6 0 1.3 2 2.6 1.4-1.2 .2-1.4-.7-1.3-2.3-1.6M120.6 106.6l9.7-1.6 9.9-4 7.3-5 7.1-7.5 1.4-.9 .9 1 .6 3.8-.4 4.5-2.3 3.6-6 5.9 .9 0 2.7-2.2 6.3-6.9 .1 4.1 2.1 .7 1.4-.6 1.8-2.9 1.1-4.8 .5-5.4-1.2-1.4 1.8-7.6 0-4.2-1.7 5.1-.5 .6-.5-.1-1.7-3.7-.1-3.6-2.7 1.4-.4-1.6-2.3 4.3 .8 .4-.1 .9-2.7 8.1-5.2 6.1-6.3 5-4.9 2.8-5 2.1-7.6 2.3-5.5 1M148.3 106.8l-1.1 .9 .7 .1 .9-1 0-.3-.5 .3M147.9 9.2l-7.7 3.6-7.8 4.9-6.1 5.6-4.5 5.9-2.7 5.3-1.8 6.6-.9 10.4 .9 7.4 .2-7 1.3-5.8 2.3-5.4 4.1-7.2 6.5-7.9 9.2-7.9 2.2-4 3-2.1 4.5-1.9M117.7 15.8l-4.9 8.9-1.8 4.8-1.4 5.5-.9 15.2 .5 1.6 1.8 3 1.9-3.3-.5-1.4-2.1-2.2-.3-.9-.2-5.9 .6-5.4 2.2-8.5 2.3-5.4 3.2-5.9-.4-.1M101.5 28.5l-.7 7.7 .3 7.1 1.8 8.8 3.6 9.3-.4 3.1 .3 1.4 2.6 3.1 4.7 3.2 7.2 3.7 .5-.1-.9-1.4 .4-.3 3.1 .8-3.6-5.9-5.8-5.4-.5 1.4-4-2.3-2.5-2.7-1.8-3.6-2.2-6.7-1.2-8.6 .2-8.1 1.2-7.2M187.5 37.2l-5.1-4.2-4.4-2.5-5.1-2-5.2-1-6.3-.1-7.4 1.1-6.8 1.8-4.5 2.3 7.4-.8 2.7 .4 .8 .8 .7 2.7-.5 .9-2.1 .9 1.1 1 1.5 .4-1.2 .4 16.8 10.5 2.5 2.1 3.1 3.6 4 6.8 3.2 8.5 1.4 7.2 .4 9.8M102.4 63.1l-.9 .5-.1 .5 1 1.8 3.2 3.3 2.7 1.6-5.9-7.7M91.6 70.9l7.2 6.7 4.5 3.1 5 2.7 9.4 3.2 5.9 .7 3.6-.3-10.4-1.5-8.5-3.1-5-2.8-4.5-3.2-7.2-6.9M190.7 73.9l-1-1.7-.4 1-1 4.4-.1 3.8M185.5 86.3l-.7-10-2.7-10.3-3.6-7.4-7.1-9.8 5.5 4 7.4 10.7 .9-1.7-.3-2.2-2.4-4-3.9-5-.5-2.7 1.7-1.9 5.9-2.7 2.2 .1 2.4 1.5M134.4 92.8l-1.5 .5 .1 .4 2.7-.8-1.3-.1M130.8 93.7l-.5 .5-2.2 0-.5 .5-6.8 0 5 .3 7-1.2-2-.1M122.3 107.4l9.8-2.4 9-4 7-5 6.5-6.9 1.4-.9 .7 1.1 .6 4.5-.2 2.2-1 2.3-6.4 6.8-8.7 6.2M142 111.3l5.9-3.5 4.5-3.6 3.6-3.7 2.2-2.8 .4 .6-.8 4.3 3.6 .1 2.2-2.2 1.8-5.4 .8-6.3 .1-2.3-1.3-.1-.1-.7 .7-1.8 .4-3.6 .4-.5 0-2.7 .4-.4-.5-5.5-1.2 6.8-1 2-.9-.9-1.1-2.4-.3-4.3-.9 1-1.3 .6-.5-1.8-3.2 5.8 .1 .7 .7 .2-.1 .9-2.3 6.8-4.6 5.4-5 4.2-5.8 3.5-6.8 2.8-7.2 1.9-7 .9M146.3 9.2l-7.8 4-7.7 5.5-5.4 5.3-4.5 6.4-2.7 6.2-1.2 5.4-.7 11.3 1.4 7.7-.3-7.3 1-5.8 2.3-6.3 4.4-7.7 4.8-5.9 12.3-10.7 3.3-4.1 2.8-1.6 4-1.5M117.2 15.1l-3.1 5.3-2.7 6.3-1.8 6.2-.8 5.5-.2 12.2 3.7 7.8-.6-4.2 1.2-1.8 .1-1.4-2.3-3.1-.4-2.7 .1-5.4 .9-5.4 1.7-5.9 2.3-5.4 3.1-5.4 3.7-4.9M173.7 20.2l-6-.8-6.3-.2-4.8 .3-7 1.4-6.2 2.2-7.1 3.6-2.4 1.9-1.8 2.7 4.1-1.4 4.5-3.1 3.6-1.7 9.4-2.7 5.9-.6 6.7 .2 6.3 .9 5.6 1.4M101.1 29l-.6 7.6 .4 7.7 1.5 7.2 3.6 9.4 .1 1.4-.6 1.8 .3 1.8 1.7 2.2 3 2.4 10.8 5.8 .9-.1-1.2-1.3 .4-.5 3.3 .9-1.6-2.2-1.3-4.2-.5 .6-3.1-2.5-3.6-4-.4 .2-.1 1.3-.4 0-3.6-2-2.5-2.9-1.8-3.6-2.2-7.2-.9-7.7 .2-8.1 1.5-7.8M186.6 35.9l-5-3.8-4.9-2.5-5.4-1.7-5.4-.8-6.8 .3-8.5 1.6-4.3 1.3-6.7 3.2 .2 .3 9.9-1.7 2.7 .5 1.4 2.7-.1 .9-.5 .4-2.6 .5-4.5-.3-2.3 .5 6.8 .3 3.4 1.3-1.3 .4 3.2 1.8 3.7 3 9.4 5.3 5 4.8 4.7 7.2 3.2 8.1 1.8 9 .1 10.4M156 42.8l4.9 3.8 .6-.1-2.4-2.3-3.1-1.4M172.2 49.7l.4-.1 2.6 2.3 4.5 6.3 4.1 9 .8 3.2-.3 1.1-2.2-6.5-2.3-4.7-2.7-4.3-4.9-6.3M95.7 52.7l0 1.5 2.7 6.8 4 6.2 6.8 6.3 3.9 2.7 2.8 1.1-2.7-2.9-2.7-1.9-4.1-4.4-3.9-4.9-.5-1.4-3.9-4-2.4-5.1M184.6 71.7l.4 .9-.2 .7-.2-1.6M191.4 71.9l-3.5-9.8-8.5-11.5-.8-2.3 .6-1.3 1.1-.8 5.8-2.2 2.3 .5 2.7 2.2M92.1 72.4l4.1 3.8 4.7 3.6 5.4 3.2 5.2 2.2 6.5 1.8 4.7 .6 5.6-.1 2.6-.9-12.3-1.1-9.4-3.3-5.4-3-4.5-3.3-8.1-8.2M185.8 85.5l-.7-12 1.3 5 .6 5.1M101.5 91.6l16.2 4 5.9 .3 6.2-.8 5-1.3 5.2-2.3 3.2-2.2-7.5 2.9-5.4 1.5-4 .7-8.1 .1-9-1.6-4.1-1.9-.9 0-5.1-2.7M172.2 101l2.2-6 1.4-5.3 .9-6.9 0-5.7-.9-6.6-1.4-4.8-2.2-5.1-2.3-3.3 4.3 11.7 .9 5 .3 5.4-.3 5.8-1 5.4-1.8 6.3-2.5 5.9M123 107.7l8.9-2.2 9-4.1 6.5-4.5 7.2-7.4 1.4-.7 .6 1.4 .4 4-.3 2.3-1 1.8-6.9 7.1-8.7 5.9M151.8 110l6-6 3.1-.5 1.4-.7 2.2-3.6 1.4-5.4 2.6-16.7-.4-2.8-1.1 8.2-1.6 3 .6-5.2 .5-.5 0-2.7 .4-.4-.6-9.5-1 8.6-.8 2.9-.4 .4-.5-.1-1.3-2.8 0-5.1-.9 1.4-1.4 .8-.4-2.2-4.1 7.6 0 .5 .9 .1 0 .5-2.2 6.3-4.1 5-4.9 4.3-6.3 3.8-6.8 2.7-8.1 2-7.8 .6M142.1 111.3l5.8-3.4 4.5-3.6 5.8-6.5-.2 2.3-1.4 2.7-4.2 4.4-4.4 3.7M145.2 9.2l-8.1 4.6-7.7 5.8-5.4 5.8-4.2 6.7-2.6 7.7-.9 9.9 .5 8.1 1.8 5.9-1.1-7.3 .5-6.7 2.2-6.8 5-9 3.8-4.7 7.6-7.1 11.3-9.1 5.8-2.4M116.5 15.5l-3.3 6-2.2 5.5-1.8 6.8-.8 6 .1 11.2 4.9 10.4 .4 2.7-3.3-1.5-2.4-2.6-2.2-4.5-1.8-5.8-1-5.9-.2-6.3 .6-6.3 1.4-6.5M171.2 18.6l-6.7-.5-6.3 .3-6.4 1.1-5.8 1.8-11.2 5.4-1.8 1.7-3.5 5.5 .8 .1 13.1-7.8 4.9-1.9 5.9-1.3 5.8-.6 6.3 .1 6.3 1 6.5 1.7M100.8 29.3l-.6 6.9 .3 6.7 1.7 8.6 3.5 9.4-1 4.2-1-.6-2.5-3.6-2.8-5.8-1.8-5.9-1.6-10.1M186.1 35l-5.4-3.7-4.9-2.3-5.9-1.7-6.3-.5-7.2 .7-8.5 1.9-13 6.3 7.1-2.1 6.8-1.1 2.7 .2 1 .8 .8 1.6 .1 .6-.6 .8-1.8 .3-5.8-.4-3.3 1.1 2.9 .5 .4 .4 4.5 .1-1.9-.5 2.3-.3 2.3 .5 0 .6-1.4 .1 4 1.8 2.5 2.2-2.7-.4 7.9 5.6-1.3-2.6 6.3 3.3 4.9 4 5.1 7.2 3.7 9 2 9.9 0 10.4M92.1 47l2.7 8.1 3.6 7.1 3.6 5.1 4.9 4.9 6.2 4.5 5.5 2.2 1.3 0-7.1-4.7-4.5-4.4 14.4 7.3 .8 0-1.6-1.3-.1-1 3.6 1.1-1.8-2.4-.5-1.8 .6-.4-.3-.5-3.4-5 0 2.1-1.8-1.1-2.7-2.7-1.6-2.7-1.9-6.8 1.1-3.6-2-3.1-.4-3.2 .7-8.5 2.4-8.1 4.1-8.1 5.7-7.7M173.1 50.6l.4-.2 .9 .9 2.5 2.9-.1 .4 1 .9-.2 .7-4.5-5.6M177.7 56.4l.3-.2 .7 .7-.2 .6-.8-1.1M178.6 57.8l.3-.2 .7 .6 .4 .9-.2 .7-1.2-2M191.5 70l-3.6-9.5-8-9.9-.8-1.8 .3-1.4 1.1-.9 5.6-1.7 2.3 .6 2.7 2.4M92.1 73l5.1 4.6 5.2 3.6 5 2.7 5.8 2.2 5.7 1.4 5.6 .5 4-.2 6.1-1.2-14.6-1.2-5-1.2-4.9-2-5.2-2.8-5.2-3.7-4.7-4.4-4.3-5.1M186 85.3l.1-3.7 .3 3.4M103.3 93.8l6.4 1.8 5.3 .8 5.9 .1 6-.5 6.2-1.3 4.8-1.8 4.2-2.3 4-3.3-12.6 5.4-5.9 1.2-4.5 .4-8.1-.5-5.8-1.3-5-1.7-5.2-2.6M172.9 100.5l2.4-6.9 1.4-6.9 .4-6.4-.4-5.9-1.4-6.7-1.8-4.9-2.2-4.2-3.4-4 3.2 6.8 2.1 5.8 1.3 5.9 .3 5.8-.5 6.8-1.4 6.3-2.2 6.3-3 5.8M123.8 108l9.1-2.5 8.6-4.1 6.8-4.8 7.2-7.3 .8 .9 .5 4-.4 2.3-.9 1.6-7.2 7.3-8.7 5.8M152.9 110l4.9-5 4.9-2 1.4-2 1.3-3.9 3.2-13.7 .8-7.6-.4-4.2-.9-1.9-.4 .7-.6 9.4-1.2 4.4-.2-1.7 .5-.4-.1-1.8 .5-.5-.1-2.7 .6-.4-.3-7.7-.9-6.2-.2 8.5-1.2 6.5-.4 .6-.5-.2-1.1-2.4-.1-5.4-1 1.7-1.4 .6-.4-2.1-4.6 8.8 .1 .4 .9-.3 .1 .8-1.9 5.5-3.2 3.9-4.5 4.2-6.7 4.3-7.7 3.2-8.1 1.7-9.1 .5M142.1 111.3l7.6-4.7 8.1-8 .3 .1-.6 1.8-1.4 2.3-4.2 4.3-4.6 3.8M136.1 9.2l-7.6 6.2-4.5 5-.4 .5 .4 .1 6.8-6.8 6.3-4.4 1.4-.6M143.6 9.2l-7.9 4.8-7.6 6.3-5.5 6.4-3.8 6.8-2.1 7.2-.7 10.8 .7 6.7 2.6 7.7-.2 .9-1.8-1.1-1.8-2.1-1.9-4.5-1-4.5 .8-3.6-1.9-3.6 .1-7.6 1.8-8.1 2.7-6.8 4-6.7 5.4-6.8M115.3 16.4l-3 5.8-2.2 6.1-1.4 5.6-.7 5.9 .2 10.8 4.8 10.8 .2 2.1-3.1-1.9-2.3-2.8-2.2-5.6-1.4-5.4-.6-5.8 0-6.3 .9-6.3 1.5-5.8M169.3 17.2l-7.9 0-7.4 1-7.6 2.2-8.4 4.2-2.3 .2 .1-1.2 1.3-1.4 10.3-7 4.1-2.2 5.3-1.6M123.6 21l-1.3 1.7 1.4-.9-.1-.8M122.2 22.8l-.8 1.2 .9-.4-.1-.8M121.3 24.1l-.8 1.3 .9-.5-.1-.8M100.1 30.4l-.4 7.6 .6 7.2 1.5 6.7 3 7.7-.1 1.9-.9 1.4-1.4-.6-3.9-7.2-2.7-10.4-.5-6.4M147.7 33.5l3.2 0 1 .9 .5 1.3-1.8 .6-3.1-1-.6-1.4 .8-.4M185.6 33.9l-8.5-4.7-6.7-2.2-5.4-.7-8.6 .6-9.9 2.4-9 4.4-6.5 4.3-4.9 5.4 .2 .4 4.5-4.6 4-2.6 5-2 4-.5 .9 .3-.4 1.3-4.7 2.3 2 .2 .4-.4 1 .2-1.1 .4 .6 .1 8.5 .6 2.8 1.1 1.7 1.4-2.8 0 9.1 6.2 2.4 2.3 2.3 3.2 3.8 7.6 2.1 6.3 1.2 6.3 .3 5.9-1 8.1-1.9 6.7-3.2 7.2-2.9 4.2M91.6 49.1l2.7 7.1 3.2 5.9 3.6 5 4.4 4.6 4.5 3.6 4.6 2.7 7.8 2.7 4.8 1.2 .3-.3-5.3-2-5.8-3.3-4.6-3.7 15.4 6.5-4.7-3.3 .6-.4 3.9 1.3-2.6-2.7 .1-1 1-.4-4.2-5.1-2-3.4-1.3-5-.3-4.9 .7-5.4 2.2-6.3 4.3-7.6 4.1-5.3 2.2-1.3 .4 .7-.3 .9-6.4 9.3-.9 2.3 4.5-4.8 5-3.8 8.5-5.4 7.2-2.8 7.2-1.4 7.7-.2 8.1 1 7.5 2.1M166.7 64.1l.4 3.1-.3 .3-.1-3.4M192 68.2l-3.6-8.8-7.5-8.8-.9-1.8 .3-.9 1.3-1 4.5-.7 2.2 1.2 3.7 4M92.5 74.4l5.4 4.5 6.3 4.1 6.3 2.8 6.3 1.8 5.9 .8 5.4-.1 8.6-1.7 6-1.8-8.3 1.1-8.1-.2-7.7-1.2-6-2-6.2-3.1-5.6-4.1-5.5-5.4-4.6-5.9M166.7 77.1l.3 0-.2 1.8-.1-1.8M105 95.9l5.5 1.6 5.4 .4 11.3-1.3 5.4-1.2 5.4-2 4.2-2.3 7.9-6.3 2.4-2.3-.1-.3-5 3.7-8.1 4.1-6.3 2.3-6.7 1.3-5.4 .2-4.5-.6-17.7-5.3M174 99.6l2.2-7.3 1.1-7.1 .2-6.7-.8-7.1-1.8-6.3-2.6-5.5-9.6-12.6 .9 0 4.1 2.2 3.5 2.7 4.1 5.1 3.2 5.7 2.7 7.3 1.3 6.7 .4 6.7-.4 7.3M125.1 108.4l8.8-2.7 7.7-3.7 6.3-4.4 6.7-7 .9-.3 .6 1.7 .1 3.1-1.6 3.3-7.6 7.1-8.5 5.4M155.6 109.1l3.1-3.1 3.9-1.9 1.5-1.8 4.5-15.2 1.2-6.4 .2-7.2-1-5.5-2.2-6.7-.1 1.9-.4 .4-.2-.4 0-1.8-3.4-7.8 2 6 .9 5.8-.4 7.2-1.1 4.3-.9-.9-.6-2 .6-7.7-.5-5.1-.2 6.5-.7 2.8-1.3 1.4-.5-3-3 5.1-1.8 4.5-1.8 2.7 2.2-.9-1.4 4.7-2.7 3.3-5 4.5-7.6 4.8-8.6 3.2-6.7 1.1-11.4-.1M142.2 111.3l7.5-4.6 2.2-2.3 .5 0 4.9-5.3-.4 1.8-2.3 2.7-8.3 7.3M142.9 9.2l-8.1 5.1-7.2 6.2-5.6 6.7-3.6 6.7-1.9 6.8-.5 11.2 .7 6.8 2.4 7.7-1.8-.9-1.6-1.9-1.9-4.5-1-4.5 .7-3.6-1.7-4 .2-8.1 1.8-7.7 2.8-6.7 4.1-6.8 5.3-6.3M134.8 9.7l-6 4.9-5.2 5.9-4.1 6.1-2.2 4.6 .4 .2 1.9-4.2 4.1-5.9 7.1-7 6.3-4.5 1.5-.6M115 16.4l-3 5.8-2.1 5.9-1.4 5.8-.7 6.3 .3 10.8 4.7 10.1 .4 1.9-2.7-1.3-2.2-2.6-2.3-5.3-1.6-6.8-.6-6.3 .3-5.9 1-6.3 1.6-5.6M168.4 16.7l-7.9 .2-8 1.3-6.4 2.1-7.7 3.8-1.8 .4-.6-.5 .1-.4 1.3-1.4 9.1-6 5.4-2.7 6.2-1.7M99.7 30.8l-.3 7.2 .5 6.7 1.8 7.7 2.6 6.7-.1 1.9-.9 1.2-.9-.3-1.5-1.9-2.3-4.9-2.7-10.4-.5-6.4M117.3 31.4l-.8 2.1 .3 .1 .6-1-.1-1.2M149 33.9l2 .4 .8 1.4-1.2 .3-1.7-.7 .1-1.4M185.4 33.7l-8.3-4.6-6.7-2.2-8.1-1-10.4 1.5-7.2 2.2-11.2 6.4-5.9 5.1-3.7 5.9 .1 .6 3.9-5.6 4.2-3.6 5.4-2.9 5-1.1 .9 .9-.5 .9-4.9 2.4 2.2-.5 1.8 .5 8.6 .5 2.1 .7 2.4 1.8-3.8-.5 3.8 1.9 5.4 3.8 2.7 2.4 2.2 2.7 3.4 6.3 3.2 8.6 1.2 6.3 .3 6.3-.8 7.2-2.1 7.6-2.9 6.7-4 5.4M146.1 40l2.7 .2-2.7-.2M114.6 42.1l0 2.3 0-2.3M158.2 48l.9 1.3 .4-.1-1.3-1.2M91.6 50.3l3.1 7.5 3.7 6.3 4.5 5.4 5.5 4.9 5.3 3.4 5.1 2 10 2.7 6.9 .5-5.4-.6-5.8-1.9-7.9-4.3-3.4-2.7 14 5.9 2.7 .4-4.1-1.6-2.7-2 0-.4 .5-.1 3.6 1.5 .9-.1-3.2-2.7 .5-1 1.3 .1-4-4.4-2.9-4.1-1.4-4.1-.6-4.5 .3-5.4 1.7-6.3 2.8-5.8 4.6-6.9 2.7-2.9 1.2-.1-.1 .9-7.4 11.2-2.3 4.8 0 1.3 3.8-6.5 5.2-5.2 11.3-7.5 5.4-2.3 7.6-1.8 8.6-.5 8.5 1 8.6 2.4M166.7 65.9l.1 1.5-.1-1.5M192 67.2l-3.6-8.5-7-8.1-.9-1.8 .4-.9 1.5-.9 3.7 0 2 1.3 3.9 4.5M92.5 74.9l6.3 5.1 6.8 4 6.7 2.7 7.2 1.6 6.3 .4 5-.6 9.8-2.4 7.6-3.6-8 2.9-6.3 .8-9.5-.6-8.2-1.8-7.3-3.1-6.7-4.5-6.1-5.9-5.4-7.2M130.3 80.1l1.4 .2-1.4-.2M132.6 80.7l1.9 0-1.9 0M105.9 96.9l5.1 1.6 4 .4 13.5-2.3 5.4-1.4 4.5-1.8 4.1-2.2 11.7-10 1.2-.5-1.2 3.9-3.6 4.1-6.3 5.3-6.3 3.6-6.3 2.3-5.9 1.3-15-.3M174.5 99.1l2-7.1 1.1-7.2 .1-7.2-1-6.8-1.7-5.8-2.3-5-9.3-12.6 4.7 2.2 3.3 2.8 4.4 5.7 3.1 6.2 2.3 7 1 5.8 .3 7.2-.6 7.4M125.3 108.6l8.6-2.6 8.1-3.9 6.3-4.6 6.8-6.8 .7 1.3 .2 3.1-1.8 3.3-7.2 6.7-9.6 5.8M156.3 109.1l2.8-2.9 4.1-1.8 1.1-1.6 4.7-16.3 1.2-8-.3-7.5-3.1-11.1-1.8-3.9-.5 .9-1.1-2.7-3.4-4.4-.2 .3 3.5 5.9 1.8 6.3 .3 7.2-.4 4.1-.9 2.6-.7-.4-.6-1.8 .4-9-.9-6.1 .2 7.9-1.1 4-1 .5 .1-4.1-1.8 4.1-.9 .8-.5-.9-2.2 4 0 .5 1-.8-.2 1.8-2.6 4.4-5.4 4.3-8.6 4.4-9.4 3-9 .7-5.4-.9-17.1-5.4M142.3 111.3l7.4-4.6 6.6-6.2 .6-.9 .3 0-.7 1.4-2.7 3.1-7.9 6.8M141.4 9.2l-7.9 5.3-6.8 6.2-5.2 6.5-3.6 6.7-1.9 6.8-.3 10.8 .9 7.2 2 6.9-1.3-.4-1.6-2-2.2-6.8-.3-2.2 .8-3.2-1.6-2.7-.2-1.8 .4-8.5 1.9-7.2 3.2-7.2 4.1-6.3 5.4-6.3M133.6 9.7l-8.2 7.7-3.6 4.6-2.9 4.7-3.7 9.5-.9 4.9-.2 4.6 0-1 .7-.4 0-3.6 .5-.5-.1-1.8 .6-.4-.1-1.4 .5-.4 .4-2.3 3.2-6.7 2.7-4.1 8.3-8.6 7.9-5.3M167.2 15.9l-7.6 .4-7.2 1.3-6.8 2.2-8.1 3.8-.2-.5 1.6-1.3 9.9-5.9 5.4-2.2 5.8-1.3M114.2 16.8l-2.7 5.4-2.1 5.9-1.4 5.8-.6 5.9 .3 10.8 4.6 10.2 .1 1.5-2.8-2.2-1.8-3.3-1.8-5.4-1.1-6.7-.2-5.8 .5-5.9 1.4-6.3 1.8-5.5M98.9 32.1l-.2 5.9 .4 5.8 1.4 6.8 2.8 8.1-.4 1.8-.9 .1-1.9-2.4-2.7-7.2-1-5.8-.4-.5-.5-6.6M184.8 33l-5-3.2-5.4-2.3-4.5-1.1-7.6-.8-7.2 .2-3.6 .6-6.3 1.9-6.3 2.9-.5-.3 3.2-2.4 5-2.2 5.3-1.4 5.9-.9 10.5 .5 6.6 1.3 6.6 2.2M148.3 39.3l3.6 .4 1.9 1.4-5.9-1.3 .4-.5M114.6 50.5l-.4 1 .4 1.1 0-2.1M91.2 51.1l3.8 8.5 4.4 6.7 5.7 6.1 6.8 4.9 6.3 2.8 12.1 2.9 7.7 .1 5.5-1.5-7.8 1-6.7-.8-7.4-2.9-5.4-3.6 .9 0 12.8 5.2 4.5 .6 5.5-.4-6.4-.2-2.7-.5-4-1.5-2.7-1.8 .4-.4 6.1 2.2 1.5 0-3.6-1.4-2.4-1.8 .2-1 2.7 .6-3.7-3.2-4.9-6-1.8-4.8-.7-4.9 .5-5.9 1.5-5.4 2.8-5.5 4.5-6.8 2.2-2.4 .9-.1-.1 .4-7.1 11.1-1.8 3.8-1.3 4.3-.6 5.1 .6 5.7 .6-9.3 1.3-4 1.8-3.6 2.6-3.6 4-3.9 3.6-2.7 4.1-2.1 .4 .6-.6 .9-7 5.1-4.6 4.8-3.2 5.8-.8 4.8 .1-1.2 2.5-5.4 4.6-5.7 6.3-4.2 3.6-1.4 2.3-.2 .6 .7-.7 .9-6.3 2.7-3.1 2.5 5-2.7 .9 .1 .4-.6 .9 .2 .9-.5 .6 .1-1 .6 4.8 .3-3 1 7.6 .5 3.6 1.2 5 3.1 4.1 3.2 4.2 5.4 4.4 9.9 2 8.1 .5 8.1-.8 6.3-1.7 6.8-2.8 6.7-1.8 1.8 .4-3.9 2.9-10 1.2-5.9 .3-6.3-.7-5.8-3.2-10.5-3.2-6.2-5.4-6.3-4.3-2.7-1.5 .2 .4-.6-1.6 .4 3.9 2.2 3.7 3.2 2.7 3.6 2.2 4.5 1 3.6 .6 4.5-.1 4.5-.7 4.2-.4 .8-1-1.4 .3-9-1-5.8-1.9-4.5-2.3-3.2 2.3 4.5 1.4 4.5 .5 5.4-.7 4.1-.9 .9-.3-5.1-1.4 4.7-.4 .3-.5-.4 0-1.3-3 5.8-2.7 3.6-5.1 3.9-6.3 2.6-5.8 .9-7.2-.2-9-1.8-7.2-2.7-6.3-3.7-5.4-4.5-5.2-5.7-4.3-6.4M192.4 65.7l-4-8.4-6.7-8.1 .2-.9 1.1-.5 2.7 .4 2.7 2.6 4 5M93.3 76.6l7.8 5.7 7.6 4.1 8.6 2.2 7.2 .7 6.3-.6 12.6-3.8 6.3-3.6 5.4-5 .4 .4-.8 2.2-1.4 1.9-5.9 4.6-10 4.8-8.3 2.2-6 .6-4.9-.5-10.4-4.7-10.5-2.3M132.6 78.9l1.8 0-1.8 0M154.6 81.2l.4 .4-.8 2.2-3.2 3.6-5.8 5-5 3.3-5.8 2.6-5.9 1.6-4.5 .5-3.1-.8 .5-.9 1.2-.4 10-2.1 7.6-3.2 4.5-2.9 9.9-8.9M175.2 98.7l2-7.6 .9-6.8 0-6.3-.9-6.7-1.6-5.9-2.7-5.8-8.5-11.3 4.4 2.3 3.8 4 3.6 5.6 2.7 6.2 1.8 6.7 .7 6.3 0 6.7-.9 7M157.7 108.6l2.8-2.2 1.3-.1 .4 .5M126.7 109.1l8.6-2.8 7.2-3.7 6.3-4.7 5.8-5.9 .6 .9-.2 2.7-4.4 4.9-7.9 5.9-8.2 4.2M142.3 111.3l5.6-3.2 4-3.6 .8 .1-1.2 1.2-6.6 5.1M140.4 9.2l-6.9 4.7-7.1 6.5-5.4 6.8-3.5 6.7-1.9 6.8 0 10.8 .6 5.8 2 6.8 0 1.1-1.4-.6-1.5-2.3-1.8-6.3-.1-2.3 .7-1.5 .5 1.1 .2-2.7-1.1-.4-1.2-2.3-.1-5 .6-5.4 2-7.4 3.2-6.8 4-6.1 5.5-6.2M133.1 9.7l-4.6 3.9-3.8 4.1-3.7 5-2.6 4.5-2.3 5.4-1.4 4.9-.8 5.4 .2 5.1 1.7-11.4 4.1-9.4 4-5.9 6.9-6.8 8-5.3M166.8 15.5l-5.9 .3-6.3 .9-13.4 4.2 9.4-5.4 4.9-1.7 4.9-1M113.5 17.4l-2.3 4.8-2.2 6.3-1.4 6.3-.4 5.4 .3 10.8 4.8 10.7-.9-.3-1.4-1.4-2.2-4.5-1.8-6.4-.7-5.3-.1-5.8 .7-5.9 1.3-5.8 2.1-5.9M184.3 32.1l-4.5-2.8-4-1.9-4.1-1.3-3.6-.4-13 0-.5 .4-3.1 0-6.8 1.8-2.2 1.4-1.9 .1 3.3-1.8 5-1.8 5.3-1.1 5.4-.4 5.2 .2 5.5 .9 11.8 3.3M98.2 33.2l-.1 5.7 .5 5.8 1.4 6.3 2.4 7 0 1.5-.9 0-1.3-1.9-2.7-6.9-1.4-6-.5-6.7M149.6 39.3l2.4 .5 1.3 .9-1.4 .1-3.4-1 1.1-.5M147.4 42l-1.2 .5 .8 0 1.9-.5-1.5 0M91.2 52.2l3.4 7.4 4.8 7.2 5.7 5.9 7.2 5.1 6.3 2.7 12.2 2.7 7.6-.1 6.4-1.9 1.7-1.1-7.2 2.2-8.1-.1-7.6-2.4-6-3.6 .1-.3 .9 .3 8.1 3.4 5.4 1.4 4.9 .2 6.6-1.4-3.8 .7-6.3 0-5.4-1.5-3.3-1.9-.2-.4 .8 0 6.7 2.3 5.8 .4-6.7-1.3-2.7-1.1-2.2-1.7 .9-.5 3.8 1-4.3-2.9-5.4-6-1.8-3.3-1.3-5.4-.1-5.8 1.3-5.9 2.4-5.5 4-6.5 2.7-3.3 .9-.7 .1 .3-7.3 12.1-1.8 4.5-.9 4 0 6.8 1.4 5.1-.6-9.1 .8-4.5 1.7-4.5 2.2-3.6 3.5-4 4.1-3.3 4-2.4 .3 .2-.4 .9-7.1 5.7-4.3 5.1-2.5 5.4-.8 5 .4 .1 .7-3.3 1.8-4 4.3-5.6 5.9-4.3 4.4-1.7 1.8-.1 .6 .4-.5 .9-7 3.2-3 2.2-1.6 1.8 4.8-3.4 1.3-.3 1.4-1 .9 .5 4.5-.5 1.2 .2-2.6 1.2 7.2 .3 3.2 .7 4 2.1 5.4 4 2.6 2.5 2.2 3.2 4.4 9.9 2.2 8.5 .4 9-.9 6.3-1.4 5.4-2.7 6.5-.9 1.2-.5-.1 .5-3.5 2.8-9.5 1-5.4 .3-6.7-.9-6.3-3.2-9.9-3.6-6.8-5.4-5.9-3.6-2.2-3.5-1.3-1.5-.2-1 .6 5.1 2.1 4 2.9 3.2 3.6 2.4 4 1.3 3.6 .8 4.5 .1 5-.6 4.8-.4 .8-.9-1.6 .2-8.5-1.1-5.9-2.3-4.9-2.7-3.4 3.2 5.9 1.3 4.2 .5 5-.7 4-.7 1.1-.1-.6 .1-5.4-.4-3.8-.2 5.6-.7 3-.5 .7-.4 0-.5-1.7-2.6 5.6-1.9 3-5.4 4.7-7.2 3.2-6.3 .9-7.4-.5-8.8-2-7.2-2.9-6-3.7-5.7-4.8-4.9-5.8-4.1-6.3M192.4 64.4l-3.7-7.5-5.3-5.9-1-1.8 1-.9 2.3 .8 6.7 8M154.3 77.1l.8-.4 .1 .9-1 2-5 4.5-5.9 3.4-8 3.1-7.2 1.6-6.8 .3-4-1-3.2-2.2 .6-.5 10.7 .9 5.8-.7 9.9-3.1 4.5-1.9 4.1-2.5 4.6-4.4M93.4 77.4l10 7.4-.1 .4-1.3 0-5.4-1M139.3 78.9l1.5 0-1.5 0M154.2 81.6l.6 0-.6 1.9-2.7 3.1-6.3 5.4-4.8 3.1-4.8 2.3-6.2 1.9-4.5 .6-1.9-.3-.4-.4 1.7-.9 10.1-2.4 6.3-2.8 4.5-3.1 9-8.4M175.6 98.4l1.7-6.4 1-7.2 0-7.7-.9-6.3-1.9-6.3-2.6-5.4-7.9-10.3 3.9 2.2 3.7 4.4 3.6 5.9 2.4 5.9 1.6 6.3 .7 6.8-.2 6.7-1.1 7.4M147.4 108.2l.7 0-1.1 .9 .4-.9M158.6 108.2l1.9-1.3 1 .3M127.9 109.4l7.8-2.8 6.3-3.2 5.9-4 6.5-6.1 0 1.4-1.1 1.6-7.2 6.5-6.3 4-7.8 3.6M142.4 111.3l1.4-.4 2.3-1.9 .8 .1-2.5 1.8M131.9 10.1l-8 8.1-3.3 4.5-3.2 5.8-1.7 4.5-1.4 5.4-.6 5.4 .3 5.4-.3 .6-1-1.9 0-7.2 1-5.3 1.8-5.7 2.2-5 3.2-5.2 3.6-4.6 4.1-4.3M165.7 15l-7.9 .7-9 1.7 2.2-1.5 3.5-1.3 7.2-1.4M112.9 17.7l-3.1 7.2-2.2 8.1-.8 7.2 .4 8.1-.3 1.3-1-5.8 .1-8.4 1.4-7.4 2.7-8M155.2 24.9l5.7 0 .5 0-1.2 .5-5.1 .1-.5 .4-5.4 .5-1.8 .9-1.6-.1 9.4-2.3M149 39.8l2.5 0 1.3 .9-3.8-.9M128.1 45.4l-.8 1.1 1.1-.4-.3-.7M97.3 46.1l3.8 10.8 0 1-2.7-6.3-1.1-5.5M114.5 46.1l.5 0 .2 .9 1 10.8 2 6.9-1.4-.3-1.2-1.7-1.8-5.8-.3-3.2 .6-1 .5 1.2 .3-2 0-1.3-.6-.9 .2-3.6M127.2 46.7l-.5 1.4 .9-.4-.4-1M107.6 52.4l3.8 7.5 0 1-1.8-2.5-2-6M91.2 53.3l4.3 8.5 5 6.8 6 5.7 6.7 4.3 5.9 2.3 12.1 2.4 7.7-.2 6.1-1.9 5.6-3.6 1.8-1.8 .3-.5-.3-.1-3.2 3-4 2.3-4.1 1.4-4.5 .5-4.9-.2-4.1-.9-4.7-1.9-4.4-2.7 10.9 3.8 6.3 .8 4.1-.3 3.6-1 3.1-1.4 2.8-1.9-.1-.4-4.9 2.8-5.4 1.4-5.4-.1-6.4-1.9-1.7-1.5 6.7 2 3.2 .5 3.1 0 4.5-1-8.5 .2-3.6-.9-3.2-1.5-.6-.5 .6-.6 4.1 1.2 .8-.2-3.6-1.8-3.5-3-4.5-5.4-1.8-3.9-1-5.2 .3-5.9 1.5-5.8 2.3-4.8 3.6-5.5 1.4-1.6 .2 .2-5.8 10.3-2.1 7.2 0 8.1 1.3 4.5 1 1.9 .3-.1-1.4-4.9-.4-4.1 .4-4.5 1.2-4.5 2.3-4.5 3.2-4 4.3-3.8 4-2.6-.4 1-7.6 6.7-3.5 5-2.2 5.8-.2 6.8 1.7-8.1 1.9-3.6 2.7-3.6 3.5-3.2 3.6-2.2 3.7-1.4 2.2 0 .2 .5-.4 .4-5.2 2.3-3.6 2.2-3.9 4.1 3.5-2.9 1 .2-.3-.5 .6-.6 .9 .3 0-.7 .5 .3 4-1.7 3.6-.4 1 .1-.5 .5-3.6 .9-2.3 1.2 5.4-1.2 8.1 .5 4.5 2 6 4.2 2.8 2.7 2.7 4.1 4.3 10.3 1.8 8.1 .1 9.5-1 6.1-1.4 4.6-2.2 5.3-.5 .6-.4-.4 3.2-11.7 .9-5.4 .1-7.2-.9-5.9-3.6-10.3-4.2-7.2-5-5.1-6.3-3-4-1-4.6 .1 2.1 .9 4.7 .8 4.1 1.8 3.9 2.8 3.3 3.6 2.3 4 1.7 5.4 .6 5.9-.6 5.7-.4 .9-.7-1.2 0-9.5-1.5-5.8-2.7-5-3.2-3.3 3.6 5.6 1.8 4.4 .8 5.9-.8 4.5-.5 .5 .1-5.9-.5-3.8-.3 6.1-.6 2.7-.5 .4-.3-.4-.1-2.8-1.8 5-3.2 5.6-3 3-3.3 2.3-6.7 2.6-6.3 .8-6.3-.5-8.8-2.1-7.9-3.1-5.8-3.6-5.9-5.2-4.9-5.9-4.1-6.5M192.4 62.7l-3.7-7.2-3.9-4-1.2-1.8 1.2-.1 1.3 1.1 6.8 8.8M154.6 77.1l.4 .5-.4 1.1-2.7 3.2-4 3-5 2.6-5.8 2.2-5.6 1.4-4.3 .5-5.4-.1 9-1.1 4.8-2.5 8.2-2.9 5.4-3.1 5.4-4.8M94.3 79.4l2 1.8-.2 .3-.9-.3M153.9 82.1l.7 0-.4 1.1-2.7 3.1-4.5 3.9-5.9 4-4.5 2.3-5 1.8-3.9 .9-2.7 0 .1-.5 1.4-.4 9.2-2.5 6.3-3.1 3.2-2.3 8.7-8.3M176.2 97.9l1.6-6.4 .9-6.7 0-7.2-.9-6.3-1.8-6.3-2.3-5-2.3-3.6-5.2-5.8-.3-1.2 3.4 2.5 4.2 5.9 2.7 4.9 2.3 6.1 1.3 6.3 .5 6.5-.4 7.2-1 6.4M131.1 10.1l-7.8 8.1-3.2 4.5-3.1 5.8-1.7 4.5-1.4 5.4-.6 5 .4 5.9-.8-1.9 .3-7.7 .9-4.6 1.8-5.6 2.3-4.7 3.1-5.2 3.6-4.6 4.4-4.4M164.1 14.2l-.5-.1M132.8 34.4l.6 0-7.4 7.6-3.6 6.8-.8 3.6-.2 3.1 .4 3.6 .9 2.7-.4-4.9 .3-3.6 1.4-4.4 1.8-3.3 2.7-3.3 3.3-3 3.8-2.2 4.2-1.3 1 .4-.2 .4-7.1 3.5-3.1 2.4-2.4 2.7-2.3 3.6-1.3 3.1-.4 5.5 .5 0 .1-1 .1-3.6 .5 0 .2 .7 2-5.2 2.9-3.6 2.7-2.3 3.2-1.8 4-1.3 1.8 0 .1 .5-4.6 1.3-2.7 1.3-3.1 2.2-2.1 2.4 4.8-3.6 5.4-2.3 2.7-.3 5.8 .2 4.5 1.3 3.2 2.2-5-2.1-4.5-1.1-4.9 .3-3.6 .9-.9 .7 3.1-.6 6.8 .3 4.5 1.4 4.5 2.7 3.6 3.5 2.7 4.1 1.8 4.7 .9 5.6-.5 6.6-.4 .8-.5-.6-.2-9.4-1.4-5.4-1.7-3.6-2-2.7-1.9-2-2.2-1.3 3.6 4.2 3.1 6.1 1.1 6-.6 5.2-.4-6.5-1.4-5.4 .6 4.9-.2 5-.4 1.4-.5-.1-.4-3.7-1.4 5-3.6 6.9-3.1 3.1-4.2 2.7-4.5 1.8-4.6 .9-8.8-.4-6.2-1.4-4.8-1.8 16 2.4 5.4-.4 4.9-1.4 4.5-2.3 5-4.6 2.8-4.5 1.2-5.9-.4-.8-.9 4.9-1.3 3.1-2.2 3.2-4.2 3.8-5.4 2.6-4.5 1-6.7-.2-6.6-1.8-5.1-2.7 .9-.1 5.4 2.2 4.9 1.3 4.5 .4 4.5-.4 4.5-1.4 4.3-2.5 3.6-3.6 2-3.6 0-.4-.4 0-1.3 2.7-4.6 4.6-3.1 1.8-3.6 1.3-3.2 .5-4.9-.1-3.9-.9-3.6-1.8 1.2 0 4.9 1.5 5.4 .5 4.1-.6 4.6-1.9-5.1 1.3-4.5 .4-4-.5-4.1-1.6-.7-.5 .7-.5 4.1 1.2 1.5-.2-4.2-1.8-3.5-2.7-3.5-5.9-1.4-3.1-.9-3.6-.1-4.1 .3-3.6 1.2-4.5 1.8-3.6 2.5-3.4 3.1-3.3 3.4-2.7M125.2 36.2l.2 .4-4.3 8.1-1.9 7.7 0 4.5 .6 4 2.9 7.1-2.3-2.9-1.3-3.3-.8-4-.1-4.1 .8-5.4 1.4-4.1 2.3-4.4 2.5-3.6M149.7 39.8l2.3 .4-2.3-.4M158.1 46.1l.6 0 4.1 3.6 3.6 5.4 3.5 8.7 1.8 7.5 .5 6.3-.5 6.4-1.8 7.6-2.2 5.2 0-1.3 2-6.2 1.3-6.3 .5-6.3-.5-5.9-3.2-9.9-2.3-5.4-3.1-4.9-4.3-4.5M166.6 50.6l1.6 .9 1.3 2.1-2.9-3M115 51.9l2.7 12.4-.9-.1-1-1.5-1.7-5.4-.5-3.6 .5-.6 .5 1.4 .4-2.6M90.7 53.8l3 6.2 3.5 5.4 4.8 5.6 5.5 4.8-.7 0-3.4-2.7-5-5-4.1-5.3-3.6-6.2M156.9 55.7l.4 1.6-.4-1.6M153.7 78l.9-.3 .1 .3-1.3 2.3-5.6 4.5-7.7 3.6-3 .8-.7-.4 1.8-1.3 9.2-4.2 6.3-5.3M153.6 82.5l.6-.3 0 .6-1.4 1.9-5.2 4.1 6-6.3M137.9 48.3l3.7-.3 3.7 .8 3.5 2 2.2 2.9-5.4-2.7-3.1-.9-4 .5-1.9 1.8 4.5-1 3.6 .7 4.1 3.3 2.4 4.2-.1 4-1.9 3.6-3.6 3.2-4.4 1.8-2.4 0-2.6-.7-2.7-1.5-2-1.9 .2-.2 2.7 1.9 1.8 .4 2.7-.2 3.1-1.4-4-.2-3.2-.9-2.3-2.1-1.5-3.1-.3-4.5 1.4-5 2.2-2.7 3.6-1.8M118.6 54.2l0 2.5 0-2.5M134.6 82.1l2.2 0-2.2 0"/>
<ellipse cx="169" cy="37.5" rx="17" ry="10" transform="rotate(14 169 37.5)" fill="none" stroke="#000" stroke-width="1.0" stroke-opacity="0.9"/>
<ellipse cx="169" cy="37.5" rx="12.2" ry="7.2" transform="rotate(14 169 37.5)" fill="none" stroke="#000" stroke-width="0.6" stroke-opacity="0.9"/>
<path d="M121.1 70.3 118.5 66.7 116.7 62.9 115.6 59.1 114.9 55.6 114.6 52.5 114.5 49.7 114.5 47.3 114.5 45.1 114.7 42.9 115 40.8 115.4 38.6 115.9 36.5 116.6 34.5 117.4 32.4 118.2 30.4 119.2 28.5 120.3 26.6 121.5 24.8 122.7 23 124.1 21.3 125.5 19.6 127 18 128.5 16.5 130.1 15 131.8 13.7 133.6 12.3 135.3 11.1 137.2 9.9 139.1 8.8" fill="none" stroke="#fff" stroke-width="1.8" stroke-linecap="round"/>
<path d="M122 48.2 123.9 44.2 126.3 40.7 129 37.9 131.7 35.6 134.3 33.7 136.7 32.2 138.7 31 140.6 29.9 142.6 29 144.6 28.1 146.6 27.4 148.7 26.9 150.9 26.4 153 26 155.2 25.8 157.3 25.7 159.5 25.7 161.7 25.8 163.9 26 166 26.3 168.2 26.7 170.3 27.2 172.4 27.8 174.4 28.4 176.5 29.2 178.5 30 180.5 31 182.4 32 184.3 33" fill="none" stroke="#fff" stroke-width="1.8" stroke-linecap="round"/>
<path d="M141.7 38 146.1 37.6 150.3 37.9 154.1 38.8 157.4 40 160.3 41.3 162.8 42.7 164.9 43.8 166.8 44.9 168.6 46.1 170.3 47.5 172 48.9 173.5 50.4 175 52 176.3 53.7 177.6 55.5 178.8 57.3 179.9 59.2 180.9 61.1 181.8 63.1 182.6 65.1 183.4 67.2 184 69.2 184.5 71.4 185 73.5 185.4 75.6 185.6 77.8 185.8 80 185.9 82.1 185.9 84.3" fill="none" stroke="#fff" stroke-width="1.8" stroke-linecap="round"/>
<path d="M160.3 49.9 162.9 53.5 164.7 57.3 165.8 61.1 166.5 64.6 166.8 67.7 166.9 70.5 166.9 72.9 166.9 75.1 166.7 77.3 166.4 79.4 166 81.6 165.5 83.7 164.8 85.7 164 87.8 163.2 89.8 162.2 91.7 161.1 93.6 159.9 95.4 158.7 97.2 157.3 98.9 155.9 100.6 154.4 102.2 152.9 103.7 151.3 105.2 149.6 106.5 147.8 107.9 146.1 109.1 144.2 110.3 142.3 111.4" fill="none" stroke="#fff" stroke-width="1.8" stroke-linecap="round"/>
<path d="M159.4 72 157.5 76 155.1 79.5 152.4 82.3 149.7 84.6 147.1 86.5 144.7 88 142.7 89.2 140.8 90.3 138.8 91.2 136.8 92.1 134.8 92.8 132.7 93.3 130.5 93.8 128.4 94.2 126.2 94.4 124.1 94.5 121.9 94.5 119.7 94.4 117.5 94.2 115.4 93.9 113.2 93.5 111.1 93 109 92.4 107 91.8 104.9 91 102.9 90.2 100.9 89.2 99 88.2 97.1 87.2" fill="none" stroke="#fff" stroke-width="1.8" stroke-linecap="round"/>
<path d="M139.7 82.2 135.3 82.6 131.1 82.3 127.3 81.4 124 80.2 121.1 78.9 118.6 77.5 116.5 76.4 114.6 75.3 112.8 74.1 111.1 72.7 109.4 71.3 107.9 69.8 106.4 68.2 105.1 66.5 103.8 64.7 102.6 62.9 101.5 61 100.5 59.1 99.6 57.1 98.8 55.1 98 53 97.4 51 96.9 48.8 96.4 46.7 96 44.6 95.8 42.4 95.6 40.2 95.5 38.1 95.5 35.9" fill="none" stroke="#fff" stroke-width="1.8" stroke-linecap="round"/>
</g>
<circle cx="140.7" cy="60.1" r="8.2" fill="#06120e"/>
<circle cx="140.7" cy="60.1" r="6.2" fill="#18f0d2"/>
<circle cx="140.7" cy="60.1" r="3.9" fill="#fff"/>
<clipPath id="clip2"><circle cx="252.5" cy="64.2" r="53"/></clipPath>
<g clip-path="url(#clip2)">
<circle cx="252.5" cy="64.2" r="53" fill="#34f2f4"/>
<path fill="#030b45" d="M264.8 34.9l5.2 0 6.5 1.3 3.5 1.8 .5 .9-.1 .9-1.4 1.5-3.2 .9-5.4 0-4.5-.8-3.8-2-2.7-2.7 1.3-.9zM273.4 78.5l.2-.3 .2 .3-.2 1.9-1.8 5-3.2 6.3-2.7 3.5-3.5 3.1-3.7 2.3-5.6 2.2-3.3 .5 1.3-1.8 7.6-5.9 7.5-6.7 4-5z"/>
<path fill="#0014c8" d="M219.6 24.1l.6 6.7-1.4 13.1 .1 9.4 1.7 8.1 3.9 9.4 0 .8-4.9-4.7-2.7-4-2.3-5.2-1.4-7.1-.1-6.7 1.1-6.9 2.7-8.2 1.3-2.9zM265.3 34l6 .2 6 1.1 6 2.3 2.1 1.3 .5 .9-4.5 2.3-3.5 .9-7.9 .7-5.1-1.2-2.9-.9-.7-.4-.7-1.4-2.5-1.8-2.2-.9 .8-.9 3.2-1.3zM265 34.9l-4.3 .9-1.3 .9 2.7 2.7 3.8 2 4.5 .8 5.4 0 3.2-.9 1.4-1.5 .1-.9-.5-.9-3.5-1.8-6.5-1.3zM275 68.6l.4-.2 .4 1.4 .1 3.8-.5 3.8-1.2 4.7-3.1 8.1-1.9 3.2-2.6 3.1-5.5 4.5-6.8 3.2-10.4 2.7-4.1 .4-1.4-.4 2.4-1.8 15.7-9.3 5.8-4.4 4.1-3.7 3.4-4.2 2.3-4.1 1.8-4.9zM273.6 78.2l-3.4 5.7-3.6 4.5-7.9 7.2-7.6 5.9-1.3 1.8 3.3-.5 5.6-2.2 3.7-2.3 3.5-3.1 2.7-3.5 3.2-6.3 1.8-5z"/>
<path fill="#0c50ea" d="M223.2 19.1l.6-.4-.7 6.7-2.4 11.3-.9 6.7-.3 5.4 .4 5.4 1.3 6.8 2.7 7.2 2.7 4.9 4.4 5.4-.2 .3-9.4-8.3-3.6-4.3-3.6-7.1-1.9-7.6-.3-4.9 .3-5 .9-4.9 1.4-5 3.9-9.2 4.2-3.4zM219.6 24.1l-1.4 1.8-1.3 2.9-2.7 8.2-1.1 6.9 .1 6.7 1.4 7.1 2.3 5.2 2.7 4 4.9 4.7 0-.8-3.9-9.4-1.7-8.1-.1-9.4 1.4-13.1zM229 25.4l.3 0-.2 .5-2.9 6.3-1.9 5.8-.9 4.5-.7 8.3 0-7.4 .9-5.3 2.3-6.8zM262.8 33.5l6.3-.1 6.7 .9 5.7 1.5 6.3 2.7 9.6 5.8 7.1 5.9 .1 1.3 .5 .5 0 1.8 .4 .4 0 1.4-3.8-4.1-4.3-3.7-4.5-3.3-3.6-1.8-4-.4-4.7 1.1-6.6 .8-1.3 .9-14.2-3.9 .7-.9-1.4-1.2-1.8-.9-2.9-.6 4.4-2.7zM265.5 34l-5.6 .9-3.2 1.3-.8 .9 2.2 .9 2.5 1.8 .7 1.4 .7 .4 2.9 .9 5.1 1.2 7.9-.7 3.5-.9 4.5-2.3-.5-.9-2.1-1.3-6-2.3-6-1.1zM281.7 51.1l.7 0 1.3 .9 4.3 4.1 4 5.3 1.4 2.4 0 .8-4.7-6.3zM226.8 53.8l2 12.6 1.4 4 2 3.8-.9 0-1.9-2.4-1.7-3.4-.9-2.8-.6-5.5zM274.3 63.2l.2-.2 .4 .5 1 2.4 .6 3.2 .2 4.9 .5-1.4 .1 1-.1 3.8-.4 .7-.4 3.6-.5 .4-.4 3.6-1.3 3.2 0 .9-2.7 5.4-1.9 2.2-.9 1.8-5.9 6.4-.6-.1 3.5-4 1.6-3.2-6.3 4.1-4.1 2.1-4.9 1.6-7.7 1.8-9.9 1.2-9 .1-2.7-.1-3.1-2.2 7.6 .2 6.9-1.6 17-7.4 4.5-2.6 7.2-5 5.6-5.7 2.2-3.1 1.8-3.6 1-3.2 .8-4zM275.4 68.4l-.5 .3-1 5.8-1.8 4.9-2.3 4.1-3.4 4.2-4.1 3.7-5.8 4.4-15.7 9.3-2.4 1.8 1.4 .4 4.1-.4 10.4-2.7 6.8-3.2 5.5-4.5 2.6-3.1 1.9-3.2 3.1-8.1 1.6-8.1 0-4.2z"/>
<path fill="#2094f4" d="M242.5 11.5l.5-.5 2.3 0-6.4 5.5-5.2 5.8-4.1 6.3-3.1 6.7-1.7 6.3-.8 6.3 .1 6.8 .9 6.2 2.7-13 .3 1.4-.6 .4 .3 1 .9-.1 6.7-15.6 3.6-5.1 4.8-4.9 4.5-3.6 5.1-3.2 5.7-2.7 5.1-1.8 4-1 1 .1 6.2 2.7-6.7 .9-6.3 1.6-5.8 2.2-5.4 2.8-5 3.5-4 3.6-4.1 4.8-3.2 4.9-2.8 5-1.9 4.5-1.3 5.4-.2 4.5 .2 4 1.6 6.3 2.4 4.5 3.8 4.5-.4 .4-2.2-.8-3.2-3-2.7-3.7-1.8-3.6-1.8-5.1-2.3-9.8-.5-4.5 .1-5 .7-5.4 1.3-4.9 2.4-5.4 2.8-5 3.6-4.9 4.5-5 1.8-.8 1.4 0 .4-.5zM226.8 53.5l-.6 6.6 .6 5.5 .9 2.8 1.7 3.4 1.9 2.4 .9 0-2-3.8-1.4-4zM229 25.3l-3.1 6-2.3 6.8-.9 5.3 0 7.4 .7-8.3 .9-4.5 1.9-5.8 2.9-6.3zM259.6 11.5l2.3-.5 .4 .5 1.4 .1-1.4 0-.4 .5-2.3 .4-1.3 .9-.9 0-1.4 .9-.9 0-3.6 1.8-.9 .9-2.2 .8-4.5 3.7-.5-.1-5.8 5.9-.4-.1 4.7-4.9 5.6-4.5 6.1-3.6zM226.3 17.3l-.4 3.6-4.1 15.3-1.3 7.4-.3 6.6 .7 6.7 2.6 9.5 3.5 6.7 2.3 3.2 2.9 2.9 3.6 2.7 3.1 1.7-3.8-1.5-5-3.1-8.7-7.5-2.7-2.8-.2 .8 1.8 1.8 0 .5 7.9 8.5-.8 0-4.1-2.2-4.4-3.6-4.3-4.8-5.4-7.8-1.8-4-1.3-5.6-1.4-8.4-.2-3.8 .2-.7 1.4-2.7 .9-.9 .4-1.4 2.1-2.5-.1 7.9 .7 3.1 .2 4.6 .6 .4-.1 3.2 .6 .4-.1 1.8 .6 0-.7-8.1 .9-7.6 1.4-5 2.2-5.8 1.4-3.2 1.4-1.1-3.9 9.2-2.1 8.1-.5 7.2 .8 7.5 2.3 6.8 3.6 6.1 2.2 2.7 6.3 5.7 3.3 2.7 .5 0-4.4-5.4-3.1-5.8-2.7-8.1-1.1-6.8-.2-4.9 .4-5.4 3.2-16.2 .4-5.9 .3-1.3zM211.9 53.7l0 1.6 .3-.2zM216.4 65.5l0 .5 .3-.1zM216.9 66.2l-.1 .6 .5 0zM217.3 66.9l0 .5 .3-.1zM217.8 67.5l-.1 .7 .5 .6 .5-.2zM270.1 25l6.2-.1 5.8 .5 10 2.4 3.5 3.9 2 3.4-6.9-3.1-5.9-1.8-6.7-1.3-5.9-.4-5.4 .3-5.4 1-14.8 5.3 .6-1.1 2.7-2.3 5.7-3.1 6.6-2.3zM236.8 27.7l.3-.4 .1 .4zM236.1 28.6l.2 .4-.8 .5zM234.8 30.4l.1 .4-.4 0zM234 31.7l0 .5-.3 0zM261.9 33.1l4.9-.3 6.3 .4 5.9 1.1 5.4 1.7 6.6 2.9 6.2 3.6 4.7 3.6 1.8 1.8 .5 .9 0 .9 .4 .7-7.2-6.1-9.6-5.8-5-2.3-6.2-1.8-7.5-1-6.8 .2-4.8 1.3-4.4 2.7 2.9 .6 1.8 .9 1.4 1.2-.7 .9 13.7 3.9 1.8-.9 6.6-.8 4.7-1.1 4 .4 3.6 1.8 4.5 3.3 4.3 3.7 3.8 4.1 0 .9 .5 .4 0 2.7-3.9-4.9-4.4-4.5-5.2-4.1-3.9-2.2-3.3-.3-8.1 1-1.6 .6 .7 1 5.8 3.1 3.6 2.7 3.8 3.6 3.4 4 2.7 3.9 2.7 5.2 3.6 10.1 .9 4.7-3.6 7.6-3.8 5.7 .4-6.1-.2-5.9-.6-4-1.2-3.3-.1 1.9 .5 .5-.1 12.6-.5 .4 0 2.7-.5 .5-.4 3.9-2.1 2.1 1.5-7.8 .5-6.3-.3-5-1.6-7.2-2.1-7.6-1.7-4.1-3.1-4.9-5.1-6.3 .3-.2 1.8 1.5 4.5 4.3-.1-.7-6.5-7.2-5.1-4-4.5-1.8-1.5 0-7.3-2.3-.7-.6-3.4-.7 1.6-.9-.2-.5-2-1.1-1.8-.4-4 .2 5.9-3.6zM281.7 51l7 7.3 4.7 6.3 0-.8-1.4-2.4-4-5.3-4.3-4.1-1.3-.9zM286.2 59.2l0 .6 .3-.2zM288 61.9l0 .6 .3-.2zM232.2 34.9l0 .4-.3 0zM272.4 58.7l.3-.3 .4 .3 1.8 2.9 .5-1.3 1.3 3.5 .2 1.7 .4 .4 0 2.7 .5 .5 .1 4.9-.5 .5 .1 3.1-.5 .5 0 1.8-.5 .4 .1 1.4-.5 .4-.4 3.6-.5 .5-.8 3.6-2.8 5.4-1.8 2.2-.9 1.8-6.1 6.5-.5 0-2.2 2.2-1.8 .9-1.4 1.4-1.3 .4-.9 .9-7.2 3.6-1.3-.1 6.2-3.2 5.2-3.6 2.9-2.7 .6-.9-.1-.4-8.6 2.9-13.9 2.5-13.6 .8-2.2-1.3 13.1-.1 6.4-.8 7.5-1.5 5-1.4 3.9-1.6 8.2-5.4 .5 0-.5 1.4-4.6 5.8 .6 .1 5.9-6.4 .9-1.8 1.9-2.2 2.7-5.4 0-.9 1.3-3.2 .4-3.6 .5-.4 .4-3.6 .4-.7 .1-3.8-.1-1-.5 1.4-.6-7.2-.7-2.3-.9-1.5-.3 .7 .2 5.4-.5 4-2.4 6.8-1.8 3.1-2.4 3.2-3.2 3.1-3.6 2.9-6.3 4.2-4.9 2.7-17.1 7.1-5.9 .9-6.7-.2-3.1-2.6 4.9 .7 4.5 .1 4.5-.6 5.4-1.4 14.3-5.2 6.8-3.8 5.9-4 3.6-3.3 3-3.8 2.1-3.6 1.4-3.6 1-4 .2-4.1-.3-3.6zM198.9 59.6l2.2 3.4 3.2 2 .9 1.1 5.7 10.2 5.7 4.9 5.2 3.3 5.4 2.3 6.3 1.8 8.3 1.6-9.6 .2-6.3-1.3-8.8-4.3-10.1-6.8-3.2-3-4.9-7.8zM281.5 64.6l2.9 5.7 2 7.3 .3 5.9-1 8-2.7 9.7-4.5 9.2-.9 1.4-5.2 2.3 3.9-5.4 3.2-5.9 2.4-5.8 1.7-6.3 .7-5.9-.2-6.7-.7-5.9zM278 80.3l.1-.4 .4 .1 .4 .8 .2 2.2-1.5 7.2-3.1 7.5-4.5 6.9-6.3 6.8-8.3 6.3-.7 .4-4.5 0-.8-.4 5.3-2.9 5.8-4.2 4.5-4.2 3.9-4.5 2.7-4 2.7-5.4zM201.6 81.7l3.6 3.4 7.2 5 7.6 3.6 .9 0 1.8 .8 1.4 0 1.8 .8 13.5 .7 3.6-.3 7.6-2 3.2-1.2 1 0-7.8 4-8.1 2.7-5.8 .1-9.2-1.4-9.2-2.7-8.9-4.4-2.4-4.2 0-.9-.9-1.3 0-.9zM245.1 115.4l1-.4 0 .5zM244 115.9l.8-.3 0 .3zM242.8 116.3l.6-.2 0 .3z"/>
<path fill="#36cdf6" d="M245.7 11l.4-.4 2 0-6 4.6-5.4 5.3-4.2 5.4-3.6 6.3-2.2 5.8-1.4 5.9-.5 5.8 .2 3.2 .4 .9 3.6-12.9 2.3-5.8 4.5-7.4 5.2-5.9 5.3-4.5 6.4-4 5.5-2.7 1 .4 1.6 0-7.2 3.2-6.1 3.6-6.3 5.1-4 4.3 .4 .1 5.8-5.9 .5 .1 4.5-3.7 2.2-.8 .9-.9 3.6-1.8 .9 0 1.4-.9 .9 0 1.3-.9 2.3-.4 .4-.5 1.7-.1-3 .7-.5 .5-.9-.1-3.6 1.9-.9-.1-3.6 1.8-.9 .9-2.2 .9-4.5 3.6-.5 0-7 7 .1 .4-3.2 4.1-3.2 6.3-.4 2.2-.5 .5 .1 1.3-.5 .5 .1 1.3-.5 .5 .2 1.6 1.3-1.8 3.6-8.4 2.6-4.5 3.5-4.5 4.3-4.3 5.8-4.4 7.2-3.9 9.3-3.3 1.9 .5-7.9 2.4-7.7 3.6-7.2 4.9-5.5 5.3-3.1 4-2.3 3.7-5.8 14-.9 .1-.3-1 .6-.4-.3-1.4-2.7 13-.9-6.7 0-7.6 1.1-6.8 2.2-6.7 3.2-6.3 4.6-6.3 5.5-5.7zM232.2 34.8l-.3 .5 .3 0zM234 31.7l-.3 .5 .3 0zM234.9 30.3l-.4 .5 .4 0zM236.2 28.4l-.7 1.1 .8-.5zM237.1 27.3l-.3 .4 .4 0zM228.1 47.5l0 .3 .4-.3zM235.5 13.3l.4-.5 1.2 0-7.2 8.6-2.8 4.5-2.4 4.9-2.2 7.2-.8 9 .6 6.5 2.2 9.2 1.8 5.1 1.8 3.6 2.7 3.7 3.2 3 2.2 .8 .4-.4-3.8-4.5-2.4-4.5-1.6-6.3-.3-4.5 .4-4.5 1.7-6.3 2.3-4.9 4.2-6.8 4.1-5.1 4.5-4.3 5.4-3.8 5.4-2.8 7.6-2.7 8.6-1.7 3.1-.3 3.3 1.9-7.3 .4-6.8 1.2-6.7 2.1-6.3 2.9-5 3.2-4.9 4.4-4.5 5.2-4.1 6.1-2.3 4.6-1.8 5.8-.6 5.4 .5 5.4 1.7 5.4 3 5.4 2.4 2.7 4.8 4.1-1.9 0-4.1-2.3-3.5-2.9-2.7-3.4-3.7-7.2-3.9-12.8 0 3.6 2.1 8.3 2 5 3 4.9 3.3 3.6 4.4 3.4 6.3 2.7 1.8 .6 2.5 .1-5.2-.4-5.6-1.9-4.8-2.7-8-5.9 2.7 2.9 5.8 4.8 5.9 3.2 2.8 .9-3.2-.5-6.3-2.7-6.7-3.6-3.2-2.2-4.4-4.1-5.6-6.6-1.3-.9-.6 .3 .1 1.8 1.1 4.5 1.7 3.6 5 4.5 6.6 4.1 6.8 2.7 9.9 2.5 7.2 .3 7.2-1.2-2.7 1.1-4.6 .9-13.2 .9-.4 .4 .3 .5 3.1 2.2 2.6 .6 2.7-.1 9.5-2.3 7.6-3.4 5.4-4-4 3.9-13.2 8 .6 .1 6.3-2.7 7.2-4.4 4.9-4.5 3.8-5.1 2.3-5.4 1-5.9-.2-4-.9-4.1-1.2-3.1-2.1-3.6 0-.5 .5 0 1.8 1.4 0-.5-1.3-1.8 .4 0 1 .9 2.4 3.2 1.9 3.6 .4 2.2 .5 .5-.1 1.8 .6 .4-.1 2.7 .6 0 0-2.3 .9 2.7 1 11.3-.9 7.7-2.8 8.4-4.5 7.9-5.9 7-7.4 6.4-3.1 0 5.6-4.1 5.4-4.9 4.5-5.3 3.6-5.7 2.2-5 1.8-5.9 .6-4.2-.1-1.6-.5-1-.4-.1-.5 1.1-2 7.9-1.7 4.5-2.3 4.5-2.4 3.6-3.3 4-4 3.9-4.5 3.6-5 3.1-3 1.6-1.9 0 8.5-4.7 7.7-6.2 5.9-7.1 3.9-7.7-.4 0-1.4 3.2-.9 .9-1.8 3.1-6.2 6.6-.5 0-2.2 2.3-1.8 .8-1.4 1.4-1.3 .4-.9 .9-7.2 3.6-.9 0-1.8 .9-.9 0-.5 .4-.9 0-.2 .5-.2-.4-1.8 .2-1.1-.5 5.4-1.8 4.9-2.2 4.3-2.7 .8-.9-.4-.3-22.9 2.7-5.1 .2-1.3-.9 9.3-.4 11-1.4 8.6-1.8 7.2-2.6 .1 .4-.6 .9-2.9 2.7-5.2 3.6-6.2 3.2 1.3 .1 7.2-3.6 .9-.9 1.3-.4 1.4-1.4 1.8-.9 2.2-2.2 .5 0 3.8-3.8 0-.4 2.3-2.3 .9-1.8 1.8-2.2 2.8-5.4 .8-3.6 .5-.5 0-1.3 .5-.5-.1-1.8 .5-.4-.1-1.4 .5-.4 0-1.8 .5-.5 .3-6.7-.5-5-.4-.4-.2-1.7-1.3-3.5-.5 1.3-1.8-2.9-.4-.3-.3 .3 1.6 7.2-.3 6.8-2.2 6.7-3.4 5.4-5.8 5.6-8.1 5.3-7.2 3.5-10.3 3.6-5.9 1.6-4.5 .7-4.5 0-5.3-.8-2.3-2.4 5.8 1.2 5.9 .3 7.6-1 1.8-.5 1.2-.9-1.6-.5-12.2-1.9-6.3-1.7-9.6-4.1-1-2 6.7 3.5 7.6 2.7 6.2 1.3 9 1.1 4.5-.3 5.9-2 3.3-1.5 5.7-3.2-11.7 3.3-3.6 .3-13.5-.7-1.8-.8-1.4 0-1.8-.8-.9 0-7.6-3.6-7.2-5-3.6-3.5 5.4 4.7 5.4 3.6 2.7 1.4 6.3 2.6 2.7 0 .6-.5 0-.5-.8-2.7-1.3-1.3-7.5-4.3-5.4-3.7-5-2.5-1.8-2.5-4-6.9 0-1.8 4 6.5 2.6 3 8.7 6.3 4.5 2.8 5.8 2.7 5 1.6 4.5 .4 7.8-.3-8.3-1.6-6.3-1.8-5.4-2.3-5.4-3.4-5.5-4.8-5.7-10.2-.9-1.1-3.2-2-2.2-3.7 .4-3.5 1.3 2.5 1 1.1 3.1 .5 .9-.7-.2-4.1-2-12.8 1.1-2.2 1.1 9.8 2.1 8.8 1.8 3.6 6 8.6 5.9 5.8 3.4 2.3 3.3 1.5-7.8-8.7 0-.5-1.8-1.8 .2-.8 2.7 2.8 8.7 7.5 5 3.1 3.8 1.5-4.5-2.6-2.7-2.2-2.7-3-2.9-4-2.2-4.5-1.8-5.4-1.2-5-.7-5.4 .1-5.4 .6-5.6 4.8-18.7 .8-4.6 2.6-1.3-1.4 5 0 .7 .4 0zM244.3 115.8l.5 .1 0-.3zM245.2 115.4l.9 .1 0-.5zM277.6 74.4l0 2.4 .4-2.3zM216.4 24.1l.7-.5-3.5 8.6-1.8 7.2-.6 5.8 .7 8.1-.4 .2-.1-2-.6-.4 .1-3.2-.6-.4-.2-4.6-.8-3.5 .2-7.5 .2-.6 1.8-1.8-.4 4-.4 .5 .1 3.1-.4 .5 .2 5.1 .7-5.1 1.2-5 2.9-7.2zM268.9 24.1l7.8-.4 8.1 .8 5 1 2.3 2.3-7-1.9-6.4-.9-6.5-.1-5.8 .5-5.9 1.4-5.9 2.2-5.3 3.2-2.1 1.8-.6 1.1 14.8-5.3 5.9-1.1 6.3-.2 7.2 .8 8.5 2.2 8.3 3.6 .7 .7 .5 1.2-7.7-3.6-7.6-2.4-8.1-1.3-8.1 .1-6.8 1.3-12.6 4.9-6.3 3.7-4.5 4.1-.1-.4 .6-.9 3.2-3.6 6.2-5.8 3.6-2.7 4.2-2.3 4.4-1.8 4.7-1.3zM264.8 32.6l7.9 0 5.4 .9 6.3 1.8 9.9 4.8 4.9 3.6 4.5 4-6.3-5-7.3-4.2-7.1-3-8.1-2-6.7-.7-6.3 .3-6.2 1.8-5.9 3.6 4-.2 1.8 .4 2 1.1 .2 .5-1.6 .9 3.4 .7 .7 .6 7.3 2.3 1-.2 2.7 .9 2.7 1.3 2.7 2 4.6 4.5 4.2 5-6.5-5.6-.3 .2 5.1 6.3 3.1 4.9 1.4 3.2 2 6.7 1.8 8.1 .5 5-.5 7.2-1.5 7.8-1.5 1.5 2.1-8.9 .5-4.5-.1-4-.5-2.2-2.7-4.8-.4 1-1.8 12.3-1.8 7-1.8 4.8-2.6 5.3-.8 1.3-1.5 .9 3.5-6.4 2.7-6.8 1.8-7.1 .9-7 0-5-.7-4.6-2-5.8-2.4-4.5 2 8.5 .7 6.3 0 7.2-1.1 6.3-2.5 7.7-4 7.6-4.2 5.9-3.3 1.3 5.3-6.7 3.9-6.8 3.1-7.6 1.6-7.2 .2-8.6-1.2-9-2.4-8.1-3.6-6.7 .3-.2 .4 .6 3.2 4.8 7.6 16 .4-6.4-1.2-4.5-2.6-4.5-4.1-5.4-3.1-3.6-3.3-2.9-3.2-2.2-2.7-1.3-5.4-1.7-4.6-.9 1.3-.4-6.5-.5 4-1.3-.1-.5-1.7-.8-3.2-.1-4.5 1.5-4 2.4-5 4.7-.1-.5 2.3-2.7 3.1-2.7 10.5-6.3 6.3-2.1zM272.2 46.4l-.4 .2 .9 .6 .3-.2zM273.6 47.2l-.4 .3 .8 .6 .3-.2zM275.4 48.6l-.3 .2 .3 .3zM236.6 43.9l.4 0-.3 .4zM282.9 43.9l4.6-.3 2.2 .7 2.3 1.4 7.5 6.3 6.5 7.6 .4 5-3.7-5.9-4.1-4.9-5.2-5-4.5-3.2-2.3-.8-2.2-.1-4.5 .3-1.7 .7 .8 .9 5.7 3.6 3.7 3.1 4 4.1 3.4 4.5 3.8 6.7 2.7 6.8 1.4 5.1-.9 2.2-1.3-5.6-2.3-6.4-2.7-5.6-3.1-4.9-3.9-4.6-3.8-3.6-3.6-2.7-6.3-3.6-.2-.5 .8-.4zM236.2 44.3l.3 0-.3 .6zM237.5 47.5l.5 0-.4 .5zM270.1 52.9l.4 0-.1 .4zM274.9 53.3l0-.4 .3 .4zM211.9 53.8l.3 1.3-.3 .2zM275.3 53.8l.1-.3 .2 .3zM275.7 54.2l.3 0-.2 .4zM286.1 59.6l.1-.4 .3 .4zM286.5 60.1l.1-.3 .2 .3zM287.5 61.4l0-.3 .3 .3zM288 61.9l.3 .4-.3 .2zM216.4 65.9l0-.4 .3 .4zM216.8 66.4l.5 .4-.4 .2zM217.2 67.3l.1-.4 .3 .4zM217.7 67.7l1 .9-.5 .2-.5-.6zM293.8 77.6l1 2.3 .6 3.1 .3 9.5-.3 4.3-1.9 2.3 .7-6.2-.4 0 0 2.7-.5 .5 .1 1.8-.5 .4-.2 1.7 .4-3.9 .5-.5 0-2.7 .5-.4 .1-12.6-.5-.5zM266.3 83.9l.4 0-.3 .4zM265.9 84.4l.4 0-.4 .5z"/>
<path fill="#34f2f4" d="M247.4 11l.7-.4 1.5 0-5.6 4-5.1 4.6-4.5 5.3-3.6 5.6-2.3 4.8-1.9 5.8-1 5.9 .3 3.7 4.3-14.1 2.8-5.4 3.8-5.4 5.3-5.5 5.8-4.7 8.1-4.6 2.2 0-6.3 3.1-6.2 4.1-5.4 4.7-4.5 5.2-3.2 4.8-2.2 4.6-5 16.7-.4-.9-.2-3.6 .7-6.8 1.6-5.8 2.5-5.9 3.2-5.4 4.3-5.4 5-4.8zM262.2 12l1.9-.5 .5 .5 1.6 .2-7 2.3-7.2 3.5-5.9 4-5.4 4.8-3.3 4-2.7 4.1-4.3 9.7-1.8 2.7-.2-1.6 .5-.5-.1-1.3 .5-.5-.1-1.3 .5-.5 .4-2.2 3.2-6.3 3.2-4.1-.1-.4 7-7 .5 0 4.5-3.6 2.2-.9 .9-.9 3.6-1.8 .9 .1 1.4-1 .9 .1 1.3-1 .9 .1 .5-.5zM262.3 11.9l0 .4 1-.3zM229 43.9l0 .5 .5-.5zM255.1 14.6l-3.6 1.8-.9 .9-2.2 .9-4.5 3.6-.5 0-6.8 6.8 0 .4-3.1 4.1-3.2 6.3-.4 2.2-.5 .5 .1 1.8 4.8-9.9 4.9-6.8 3.8-3.7 4-3.3 4.5-3 4.9-2.6zM257.4 13.7l-.9 .5 0 .4 2-.9zM258.7 13.3l0 .3 .9-.3zM259.6 12.8l0 .5 1.1-.5zM261 12.4l0 .3 1-.3zM235.3 13.3l-6.7 7.9-.9 .4 1.4-5.7 3.1-1.7zM272 17.8l7.1-.4 2.4 1.6-8.8 .2-8.1 1.4-7.7 2.5-6.7 3.5-6.3 4.9-6.8 7.2-4 5.8-2.7 6.1-1.2 5.4 0 5.4 1.1 5.4 2.2 5 3.3 4.2 4 3.4 .5 0-.1 .5 .7 .4 6.6 2.8 4.4 .4-4.4 .2-5-.6-4.5-1.7-3.6-2.3-3.6-3.4-2.9-3.9-2.1-4.1-2.6-7-.2 .3 1.1 4.8 2.2 5.3 3.2 4.7 3.6 3.6 4 2.8 4.5 1.9 4.1 .9 5.9 .3-5 .5-4.8-.5-6.5-2.2-5.4-3.2 .5 .9 6.3 3.8 5.4 1.8 3.1 .5 4.5 0 6.4-1.2-4.2 1.4-5.8 .5-4.9-.5-5.9-1.7-12.6-6.2-4.9-3.9-5.9-6.4-.9-.2-.1 .4 .4 2.7 1.5 2.7 2.7 2.8 3.9 3 3.8 2.5 6 2.9 9.6 3.2 7.8 .7 7.2-1.1 3.6-1.3 3.1-1.8 5.4-4.7 .3 .1-1.8 2.2-2.5 2.3-3.6 2.3-3.2 1.5-6.3 1.8-10.7 1.1-.6 .5 .8 1.3 2.9 .9 3.6-.4 8.5-2.2 5-2.1 4-2.6 4.1-3.9 2.9-4.1 2.2-4.9 .7-4.5 .2 2.2-.6 2.7-1.3 3.6-1.8 3.2-3.7 4.6-6.3 5.3 .5 .1 5.7-4.2 4.3-4.9 3-6 1.4-6.2-.4-6.7-1.9-5.2-2-3.4-3.9-4.9 .2-.5-3.2-1.8 1.3-.3 .4 .5 1.1-.2-.2 .6 1.1-.1-.2 .5 1-.1-.1 .5-.4-.4 0 .6 .9-.3 0 .6 .9-.1 .5 .5-.1 .4 .7 0-.2 .6 .9-.1 2.2 2.2 2.3 2.7 1.8 3.1 1.3 3.1 1.4 4.6 1.5 13.1-.8 8.1-2.8 8.5-2.2 4.5-2.9 4.5-3.6 4.6-4.5 4.6-3 2.5-2.2 .5 7.4-6.4 5.9-7 4.5-7.9 2.8-8.4 .9-7.7-1-11.3-.9-2.7 0 2.3-.6 0 .1-2.7-.6-.4 .1-1.8-.5-.5-.4-2.2-1.9-3.6-2.4-3.2-1-.9-.4 0 1.3 1.8 0 .5-1.8-1.4-.5 0 0 .5 2.1 3.6 1.2 3.1 .9 4.1 .2 4-1 5.9-2.3 5.4-3.8 5.1-4.9 4.5-7.2 4.4-6.3 2.7-.6-.1 13.2-8 4-3.9-5.4 4-7.6 3.4-9.5 2.3-2.7 .1-2.6-.6-3.1-2.2-.3-.5 .4-.4 13.2-.9 4.6-.9 2.7-1.1-7.2 1.2-7.2-.3-9.9-2.5-6.8-2.7-6.6-4.1-5-4.5-1.6-3.1-1.4-6.3 .2-.7 .5-.1 1.3 .9 5.6 6.6 5 4.5 10.2 5.9 5.4 2.2 3.2 .5-2.8-.9-5.9-3.2-5.8-4.8-2.7-2.9 8 5.9 4.8 2.7 5.6 1.9 5.2 .4-2.5-.1-1.8-.6-6.3-2.7-4.4-3.4-3.3-3.6-3-4.9-2-5-2.1-8.3 0-3.6 3.9 12.8 3.7 7.2 2.7 3.4 3.5 2.9 4.1 2.3 1.9 0-4.8-4.1-2.4-2.7-2.6-4.5-1.7-4.5-.8-4.9 .1-5 .8-4.5 2.2-5.8 2.9-5 4-5.6 4.5-4.8 4.9-4 5-3 5.9-2.6 6.3-1.8zM265.9 84.3l0 .6 .4-.5zM266.4 83.9l0 .4 .3-.4zM267.7 49.8l0 .6 .5-.2zM269.5 51.2l-.1 .3 .5 0zM270 51.6l-.1 .4 .5 0zM270.4 52.1l-.1 .3 .5 0zM270.9 52.5l-.1 .4 .4 0zM271.3 53l-.1 .3 .4 0zM272.7 54.8l0 .5 .3-.2zM273.6 56.1l0 .5 .3-.1zM229.5 79.7l-.2 .2 .6 0zM270 52.4l-.3 0 .3 .4zM270.4 52.8l-.3 .1 .3 .4zM269.7 23.2l6.1-.4 6.8 .4 5.8 .9 1.4 1.4-7.7-1.4-8.1-.4-7.6 .8-7.2 1.8-6.2 2.7-4.9 3.2-7.8 7.2-2.7 3.1-.6 .9 .1 .4 3.6-3.4 4.5-3 13.6-5.7 7.6-1.8 8.5-.2 7.2 1 7.7 2.2 9 4.1 1.3 2-9.8-5-5.4-1.8-5-1.1-5.5-.7-5.6 0-5.8 .9-1.8 .9 11.5 .2 5.4 .9 6.3 1.7 9.9 4.9 7.9 5.8 1.1 .9 .4 1.1-8.1-6.7-9-4.8-4.9-1.8-5.9-1.3-8.5-.6-7.2 .7-6.3 2.1-10.5 6.3-3.1 2.7-2.3 2.7 .1 .5 5-4.7 4-2.4 4.5-1.5 3.2 .1 1.7 .8 .1 .5-4 1.3 6.5 .5-1.3 .4 4.6 .9 5.4 1.7 2.7 1.3 3.2 2.2 3.3 2.9 3.1 3.6 4.1 5.4 2.6 4.5 1.2 4.5-.4 6.4-7.6-16-3.2-4.8-.4-.6-.3 .2 2.2 3.6 1.8 4 2.3 8.6 1 9-.5 8.1-2.2 8.5-3.7 8.1-3.2 5-3.5 4.5-1.2 1.3-1.8 .5 4-4.5 3.3-4.6 2.8-4.9 2.3-4.9 1.7-5.4 .9-5 .4-4.5-.2-5.4-.9-6.7-1.2-5.4-1.5-4.1-2.1-4-3-4.1-3.4-3.1-3.9-2.5-3.9-1.6 1.2 0 4.9 2.2 3.2 2.2 3.1 3 4.7 6.1 6.1 11.4 .5 .1 .3-1.1-.3-3.2-2.7-5.3-4.5-6.2-3.4-3.8-4.7-3.6-3.6-1.9-7.7-2.1-7.2-.7-.5 .2 .7 .5-2-.3-5.8 2.3 .5-.7 3.3-1.8 6.8-2.2-.7-.7-1.8-.4-2.3 .2-3.5 1.3-5.9 3.9-4.1 4.7-3.6 7.2 .4-2.7 1.3-3.2 1.9-3.1 2.1-2.7 4.2-3.7 9-5.6 .9-.1 .4-.5-.4 0-3.1 .7-4.1 1.8-4 2.7-3.7 3.3-3.7 5-1.9 4-1.3 5.9 0 5.8-.2 .4-.5-2.9 0-2.9 .9-5.9 1.4-3.7 1.8-3.4 4-5.4 7.2-7.2 4.5-3.4 5.9-3 6.7-2.3zM255.1 42l-.2 .1 .2 .2 1.3-.2zM274.5 52.4l0 .5 .3 0zM237.6 47.4l0 .6 .4-.5zM236.2 44.3l0 .6 .3-.6zM236.7 43.8l0 .5 .3-.4zM215.5 25l-3.4 9-1.5 8.7-.2-5.1 .4-.5-.1-3.1 .4-.5 .4-4 .8-1.2 .1 1.1 .8-2zM211.5 31.2l0 1 .3-.9zM211.9 29.4l0 1.4 .5-1.3zM203.4 42.5l2.3 14.4-.1 2.3-.9 .7-3.3-.7-2.1-3.4 .8-3.6 1 2.5 .9 1.4 1.4 .4 .6-.9 0-3.2-1.4-8.6zM281.5 44.8l5.6 .1 2 .8 2.6 1.8 7.3 6.7 6.4 8.6 1 1.8-.4 4-2.7-4.9-3.2-4.6-3.6-4.3-3.7-3.7-3.9-3.2-3.1-1.8-3.2-.5-1.8 .5 9.1 7.2 3.8 4.1 3.1 4 3.6 6.3 2.7 6.3 1.4 4.2-.8 2.3-1.6-5.6-2.1-5.4-2.8-5.4-2.6-4-3.8-4.5-3.7-3.5-3.6-2.8-5.1-3.2-.2-.4 .6-.5zM271.8 46.6l.4-.2 .8 .6-.3 .2zM228.1 47.5l.4 0-.4 .3zM261.3 47.5l1-.3 .2 .3-.2 .3zM273.2 47.5l.4-.3 .7 .7-.3 .2zM198.9 69.1l5.8 9.3 5.4 2.8 13.1 8.1 .7 .9 .8 2.7-.3 .9-3 .1-2.7-1.3-.9 0-5.4-2.7-7.2-4.9-3.8-4 1.1 .4 .3-.6-1.7-5.4-2.2-5zM207.9 82.5l-1.8 1-.1 .4 2.3 2.7 7 4.1 3.6 1.3 1.6 0 .1-.4-1-2.3-1.7-1.8-7.8-4.8-1.3-.4zM277.5 74.5l.5 0-.4 2.3zM277.1 78.1l.3 0-.2 1.1zM288.3 79.4l.1-.2 2.7 4.8 .6 3.1-.5 7.6-1.9 8-.2 .9-2.5 2.4 2.3-7 1.3-7.1-.1-3.9-.8-1.5-.9-.3-.9 2.7-1.5 7.6-1.9 5.9-3.5 7.6-1.4 .9 3.4-6.6 2.3-6.4 1.4-5.9zM273.6 91.1l.2 0-.2 .8zM273.1 92l.4 0-1.3 3-3.6 6-3.7 4.5-4.8 4.5-4.1 3-4.9 2.9-3.6 1.8-1.9 0 6.6-3.2 5.6-3.6 5.3-4.5 2.9-3.1 .3-.5-.4 0-3.1 3.1-.5 0-2.2 2.3-1.8 .8-1.4 1.4-9.4 4.9-.9 0-.5 .5-.9 0-.4 .4-.9 0-1.6 .8 .2-.5 .9 0 .5-.4 .9 0 1.8-.9 .9 0 7.2-3.6 .9-.9 1.3-.4 1.4-1.4 1.8-.8 2.2-2.3 .5 0 6.2-6.6 1.8-3.1 .9-.9zM267.3 101l-.5 .5 0 .6 .8-1.1zM207 92.9l6.3 2.8 6.3 2.1 5.4 1.2 10.3 1.5 1.2 .5-.3 .5-2.5 .9-7.4 1-5.8-.2-6.3-1.3-2-1.9 5.9 1.5 4.6 .6 5.6-.2 2.1-.4 .1-.5-9.6-1.9-6.3-1.9-6.4-2.6zM293.8 92.9l.4 0-.5 4.5-.2 1.7-.6 .7 .4-3.7 .5-.5zM251.9 108.7l2.3-.3 .4 .3-3.4 2.7-5.5 2.7-6.5 2.2-3.7-1.1 6.8-2 1.1-.9-.2-.5-3.4-.3-11.7 .8-1.9-1 9.1-.6z"/>
<path fill="#28f4cc" d="M248.9 11l.7-.4 2.2 0-8.3 5.8-4.6 4.3-4 4.8-4.5 7.4-1.8 4.2 0 1.3 1.1-3.1 2.8-5.4 3.1-4.5 3.9-4.5 5.3-4.7 4.9-3.5 3.7-2.1 2.6 0-6.3 3.4-4.9 3.6-5 4.4-4.1 4.8-3.3 4.9-2.2 4.5-4.3 14.1-.3-3.7 1.1-6.3 1.8-5.4 2.8-5.6 3.5-5.2 4.1-4.9 4.5-4.1zM262.3 12l1 0-1 .3zM261 12.4l1 0-1 .3zM259.6 12.8l1.1 0-1.1 .5zM258.7 13.3l.9 0-.9 .3zM257.4 13.7l1.1 0-2 .9 0-.4zM255.1 14.6l1.3 0-4.9 2.6-4.5 3-4 3.3-3.8 3.7-4.9 6.8-4.8 9.9-.1-1.8 .5-.5 .4-2.2 3.2-6.3 3.1-4.1 0-.4 6.8-6.8 .5 0 4.5-3.6 2.2-.9 .9-.9zM273.4 19.1l8.1-.1 2.8 1.8-7.6-.3-8.8 .9-8.3 2.2-5.2 2.3-1.7 .9 .2 .2 4-1.8 5.4-1.8 10.4-1.7 6.3-.1 6.3 .5 1.8 .6 1.3 1.4-9.9-1.2-9.9 .4-8.5 2-8.1 3.6-5.9 4.2-6.3 6.2-3.1 3.8-2.3 3.4-1.8 3.6-1.3 4.5-.5 3 0 3.8 .5 3.1 .2-6.2 .8-4.5 1.9-4.5 2.2-3.6 3.4-3.7 4.1-3.2 4.9-2.7 4.5-1.2 .4 0-.4 .5-.9 .1-9 5.6-4.2 3.7-2.1 2.7-1.9 3.1-1.3 3.2-.4 2.7 3.6-7.2 4.4-5 3.3-2.3 3.3-1.7 3-1 2.2-.1 1.9 .6 .2 .5-6.8 2.2-3.3 1.8-.5 .7 5.8-2.3 2 .3-.7-.5 .5-.2 7.2 .7 8.6 2.5 4 2.4 4.7 4.1 4.4 5.4 4 6.3 1.2 3.6-.2 2.7-.6 .1-6.1-11.4-4.7-6.1-3.1-3-3.2-2.2-4.9-2.2-1.2 0 3.9 1.6 3.9 2.5 3.4 3.1 3 4.1 2.3 4.4 1.6 5 1.4 7.2 .5 5.9-.1 5.4-.6 4.9-1.4 5.4-2.2 5.4-3.2 5.9-3.7 5.2-4.1 4.7-1.9 .4 4.7-5 4.5-6.2 3.1-5.8 2.3-5.9 1.3-5.6 .6-5.7-.1-6.5-1.3-8.8-1.6-5.4-2.7-5.4-3.3-4-4.2-3.5-4.4-2.4-5-1.2-4.4-.1-5.7 1.3 4.2-.6 5.9 .1 4.5 1.3 4.9 2.8 3.7 3.2 3.6 4.9 2.4 5.4 1.4 5.4 1.3 9.9 .1 4.1-1 6.7-1.8 5.9-3.2 6.7-4.9 7.2-3.8 4.4-4.1 3.7-1.6 0 7.2-6.7 5.7-7.7 4.2-8.5 2.2-8.1 .4-7.7-.9-9-.9-4.5-1.4-4-1.8-3.6-4.1-5-1.3-1.3-.9 .1 .2-.6-.7 0 .1-.4-.5-.5-.9 .1 .2-.5-1.1 .2 0-.6 .4 .4 .1-.5-1 .1 0-.5-.9 .1 .2-.6-1.1 .2-.4-.5-1.3 .3 3.2 1.8-.2 .5 3.9 4.9 2 3.4 1.9 5.2 .4 6.7-1.4 6.2-3 6-4.3 4.9-5.7 4.2-.5-.1 6.3-5.3 3.7-4.6 1.8-3.2 1.3-3.6 .6-2.7-.2-2.2-.7 4.5-2.2 4.9-2.9 4.1-4.1 3.9-4 2.6-5 2.1-8.5 2.2-3.6 .4-2.9-.9-.8-1.3 .6-.5 10.7-1.1 6.3-1.8 3.2-1.5 3.6-2.3 2.5-2.3 1.8-2.2-.3-.1-5.4 4.7-3.1 1.8-3.6 1.3-7.2 1.1-7.8-.7-9.6-3.2-6-2.9-3.8-2.5-3.9-3-2.7-2.8-1.5-2.7-.4-2.7 .1-.4 .9 .2 5.9 6.4 4.9 3.9 12.6 6.2 5.9 1.7 4.9 .5 5.8-.5 4.2-1.4-6.4 1.2-4.5 0-3.1-.5-5.4-1.8-6.3-3.8-.5-.9 5.4 3.2 6.5 2.2 4.8 .5 5-.5-5.9-.3-4.1-.9-4.5-1.9-4-2.8-3.6-3.6-3.2-4.7-2.2-5.3-1.1-4.8 .2-.3 2.6 7 2.1 4.1 2.9 3.9 3.6 3.4 3.6 2.3 4.5 1.7 5 .6 4.4-.2-4.4-.4-6.6-2.8-.7-.4 .1-.5-.5 0-4-3.4-3.3-4.2-2.2-5-1.1-5.4 0-5.4 1.2-5.4 2.2-5.3 3.6-5.5 5.4-6.1 5.9-5.2 5.8-3.7 6.3-2.7 6.8-1.9zM254.2 43l-5.4 1.2-3.6 1.7-2.5 2-1.5 2.2 4.9-3.6 4.5-1.9 5.9-.8 6.3 .8 5.4 2.4 4.9 3.5 4.4 4.6 5.1 7.9 .4 .6 .3-.4-2.1-4.7-3.1-4.7-3.4-3.6-3.3-2.7-3.3-1.8-5.3-1.8-4.5-.9zM261.4 47.4l.9 .4 .2-.3-.2-.3zM269.1 81.6l0 .7 .3-.6zM226.8 70.3l-.3 .1 .3 .8 1.7 2.8 3.5 4.1 3.9 3.1 4.5 2.3 5.9 1.3 3.9 .1 5.3-1.4 3.4-1.8-4.2 1.6-4.5 .8-3.6 0-5.9-1.3-4.5-2.2-3.6-2.8-3.8-4.2zM245.2 32.1l-4 3.4-5.2 5.7-2.9 4.3-2.3 4.9-1.3 5.6-.1 4.5 .5 4.4 1.8 4.9 1.8 2.9 3.3 3.6 3.9 2.6 4.5 2.1 3.2 1 4.9 .3 3.2-.8 4-1.9 2-2 2.8-4 1.4-3.2 .8-3.1 .1-4.1-.5-2.7-1-2.2-2-2.5-3.1-2.2-3.6-1.4-3.2-.6-4 .2-2.7 .8-2.3 1.5-2.4 2.8-2.1 4.3-.2-1.1 .2-2.4 .9-2 2-2.4 2.5-1.8 4.5-1.4 7.1 .1 3.4 .9 3 1.8 2.4 2.2 1.7 3.2 .9 2.7 .5 3.1-1 7.6-.8 2.8-2.2 4-4.4 4.5-4.7 2.9-4.5 1.4-5.4 .6-5.9-.6-4.9-1.4-8.2-3.3-1.3-.3-.2 .3 6.7 3.6 6.3 2.2 7 .9 7-.9 5.6-2.2 5.5-4.1 3.7-4.9 2.4-5.4 .1-2 .1 1.1-.8 4-1.3 3.2-2.4 3.6-2.8 2.9-3.1 2.3-4.1 2.2-5.4 1.8-7.6 1.9-1.1 .6 1.1 .3 6.1-.8 7.1-2.2 5.5-3.2 4.7-4.3 3.1-4.7 2-5.4 .5-5.4-.7-6.9 1.2 2.9 .4 2.2 0 5-1.4 5.8-2.1 4.5 .1 .4 .9-1.5 1.8-4.1 1.1-6 0-4.1-.6-2.9-1.8-4.6-2.3-3.7-2.7-2.8-4.4-3.5-2-.9-4.4-.6-4 .3-4.1 1-2.7 1.4-3.7 2.8-2.3 3.2-1.4 3.6-.1 3.6 .6 3.1 2.2 5 3.4 4 3.1 2 1.8 .6 2.7 .2 2.3-.3 3.1-1.2 4.9-3.5 2.5-4.1 1.2-5.3 0 4.6-2.3 4.7-2.8 3.2-3.7 2.7-2.5 1-3.6 .1-3.1-.6-4.1-2.2-2.7-2.5-2.7-3.4-1.9-3.6-.6-4.5 .7-5.4 2.3-5.2 2.2-3.5 3.6-3.5 4.1-2.5 6.6-2.4-1.2-.5-1.8 0-4.1 1.4-4.4 2.7-3.7 3.5-2.7 3.9-1.8 4.3-.8 4-.1 5.1-.5-2.4-.4-4.5 1.5-5.8 2.8-5 3.8-4.3 4.1-3.3 5.4-3 .9-.1 0-.3-4.5 1.6-5.9 4-4.2 4.5-2.6 4.5-1.8 5.9-.2 4.9 .9 5.9 2.4 5.4-.3 .2-.5-.7-2.3-4-1.4-5.4 0-5.4 .9-5 1.8-4.5 2.3-4 9.6-11.3 .3-.4zM252 27.2l0 .3 .7-.3zM248.4 46.5l0 .3 .6-.2zM264.1 78.7l-2.7 2.6-2.7 1.8-3.6 1.6-3.6 1-5.8 .4-7.9-1.3 4.3 1.4 3.1 .5 3.6 0 3.6-.4 3.2-.9 3.6-1.7 3.6-2.9 1.3-1.6zM264.6 78.2l-.3 .3 .3 .2zM265 77.5l-.2 .6 .3 0zM212.8 27.7l-.4 1.7-.1-1.1zM211.9 29.5l.5 0-.5 1.3zM268.8 30.4l5.7 0 6.7 .9 6.6 1.8 5.7 2.2 6.6 3.7 1.4 2.9-6.7-4.3-8.2-3.6-9.4-2.3-4.5 0 4.9 .7 5.9 1.4 9.4 3.7 9 5.2 1.4 3.9-9-6.7-9.9-4.9-6.3-1.7-5.4-.9-11.5-.2 1.8-.9zM211.4 31.3l.4 0-.3 .9zM202.5 43.9l1.6 9.9-.3 2.2-.9 .5-1.3-.9-1.5-3.4 .1-1.6 .9-2 .6 1.1-.1-3.1 .4-.5zM229 43.9l.5 0-.5 .5zM281.7 45.7l4.1 .4 4 2.5 5.8 5.2 5.6 6.7 4.8 8.1 0 2.7-.5 .5 0 2.2-.4 .5 0 1.8-.5 .4-.1 1.5-3.6-9.6-5.1-8.5-6.5-7.2-8.2-6.3-.3-.5zM267.6 50.2l.1-.4 .5 .4zM269.4 51.5l.1-.3 .4 .3zM269.9 52l.1-.4 .4 .4zM270.3 52.4l.1-.3 .4 .3zM270.8 52.9l.1-.4 .3 .4zM271.2 53.3l.1-.3 .3 .3zM272.6 55.1l.1-.3 .3 .3zM273.5 56.5l.1-.4 .3 .4zM199.3 71.8l1.9 4 1.6 5-.3 .6-1.4-.6 0-.9-.4-.5-.5-3.1-.4-.5 0-1.8-.5-.4zM235.2 73.1l.1-.3 .2 .3zM207.8 82.6l1-.3 1.3 .4 7.8 4.8 1.7 1.8 1 2.3-.1 .4-1.6 0-2.6-.9-7.4-4-2-1.8-.9-1.4 .1-.4zM288.5 86.2l.8 .3 .6 1 .4 3.2-.8 5.8-1.7 6.3-1.2 3.2-2.2 1.3-1.4 1.4-2.4 1.3 2.6-5.4 1.9-4.9 2.9-12.6zM208.3 94.7l9 3.4 11.5 2.5 1.7 .4-.1 .5-3.6 .6-4.5 0-4.2-.6-5.3-1.3-1.8-1.4zM267.3 101l.3 0-.8 1.1 0-.6zM265.9 102.8l.4 0-1.3 1.6-3.9 3.8-7.4 5.4-8.1 4.1-.8-.5-2.4-.1 .1-.4 5-1.4 9.4-4.9 1.4-1.4 1.8-.8 2.2-2.3 .5 0zM234.7 111.8l6.5-.3 2 .3 .2 .5-2.2 1.3-5.7 1.6-2.4-.7-4.8-2.2z"/>
<path fill="#1cdcaa" d="M251.1 11l.7-.4 1.6 0-5 3-4.1 3-4.5 4-3.8 4.4-4.6 6.7-2.8 6.7 0-1.3 2.7-6 5.4-7.9 6.8-6.8zM276.9 20.5l7.4 .3 1.9 1.5-8.6-.8-9 .6-8.1 1.8-6.9 2.9-.9 0 5.7-2.7 5.5-1.8 6.9-1.4zM251.9 27.2l.8 0-.7 .3zM272.7 31.7l3.1-.1 4.1 .6 8 2.2 7.7 3.6 5 3.2 1.3 1.5-7.2-4.3-7.2-3.3-7.6-2.2zM245.1 32.2l.5 0-.3 .4-7.5 8.6-2.7 3.6-2.2 4-1.3 3.6-.9 5 0 5.4 1.4 5.4 2.3 4 .5 .7 .3-.2-2.4-5.4-.9-5.9 .2-4.9 1.8-5.9 2.6-4.5 4.2-4.5 5.9-4 4.5-1.6 0 .3-.9 .1-5.4 3-4.1 3.3-3.8 4.3-2.8 5-1.5 5.8 .4 4.5 .5 2.4 .1-5.1 .8-4 1.8-4.3 2.7-3.9 3.7-3.5 4.4-2.7 4.1-1.4 1.8 0 1.2 .5-6.6 2.4-4.1 2.5-3.6 3.5-2.2 3.5-2.3 5.2-.7 5.4 .6 4.5 1.9 3.6 2.7 3.4 2.7 2.5 4.1 2.2 3.1 .6 3.6-.1 2.5-1 3.7-2.7 2.8-3.2 2.3-4.7 0-4.6-1.2 5.3-2.5 4.1-4.9 3.5-3.1 1.2-2.3 .3-2.7-.2-1.8-.6-3.1-2-3.4-4-2.2-5-.6-3.1 .1-3.6 1.4-3.6 2.3-3.2 3.7-2.8 2.7-1.4 4.1-1 4-.3 4.4 .6 2 .9 4.4 3.5 2.7 2.8 2.3 3.7 1.8 4.6 .6 2.9 0 4.1-1.1 6-1.8 4.1-.9 1.5-.1-.4 2.1-4.5 1.4-5.8 0-5-.4-2.2-1.2-2.9 .7 6.9-.5 5.4-2 5.4-3.1 4.7-4.7 4.3-5.5 3.2-7.1 2.2-6.1 .8-1.1-.3 1.1-.6 7.6-1.9 5.4-1.8 4.1-2.2 3.1-2.3 2.8-2.9 2.4-3.6 1.3-3.2 .8-4-.1-1.1-.1 2-2.4 5.4-3.7 4.9-5.5 4.1-5.6 2.2-7 .9-7-.9-6.3-2.2-6.7-3.6 .2-.3 1.3 .3 8.2 3.3 4.9 1.4 5.9 .6 5.4-.6 4.5-1.4 4.7-2.9 4.4-4.5 2.2-4 .8-2.8 1-7.6-.5-3.1-.9-2.7-1.7-3.2-2.4-2.2-3-1.8-3.7-.9-7.2 0-4.1 1.3-2.5 1.8-2 2.4-.9 2-.2 2.4 .2 1.1 2.1-4.3 2.4-2.8 2.3-1.5 2.7-.8 4-.2 3.2 .6 3.6 1.4 3.1 2.2 2 2.5 1 2.2 .5 2.7-.1 4.1-.8 3.1-1.4 3.2-2.8 4-2 2-3.6 1.7-3.1 .9-2.7 .1-3.2-.4-4.9-1.8-4.5-2.5-3.2-2.7-3.1-4.3-1.8-4.1-1-5.1 .1-5.4 1.3-5.6 2.3-4.9 2.9-4.3 5.2-5.7zM235.3 48.3l-.4 1.3 .7-.8zM237.1 45.7l-.6 .9 .2 .3 .7-.8zM240.7 41.9l-2.7 2.7 0 .4 3-2.9zM243 40.1l-1.4 1.2 .5 .1 1.1-1.1zM243.4 39.8l.7 0-.2-.3zM244.3 39.2l-.3 .2 .3 .2zM244.8 38.9l.6 0-.2-.2zM245.7 38.4l.6 .1-.2-.3zM246.6 37.9l.6 .1-.2-.3zM252 40.3l-2.6 .4-3.1 1.4-2.7 1.8-2.9 2.5-4 5-1.4 2.9-.4 2.8 2.5-5.6 1.8-2.7 2.4-2.6 4.1-2.9 6.4-2.6zM235.3 71l0 .6 .4-.3zM236.2 72.3l-.1 .4 .6 .6 1.8 1.2 0-.5zM241.6 78.3l-.1 .2 .6 .5 2.1 .9 2.4 .3 .5-.3-4.1-1.7zM253.3 47.9l-3.9 .5-2.8 .9-4.5 2.7-3.2 4-.9 2.2-.4 2.8 .9 5.6 1.3 3.2 1.8 2.8 1.9 1.9 2.1 1.3 2.2 .9 2.8 .3 3.7-.7 4.4-2.6 3.2-3.7 1.2-3.6-.5-3.6-1.3-2.3-2.1-2.6-3.6-2.4-3.7-.8 2.8 0 2.7 .9 4.5 2.5 2.5 2.4 1 1.8 .3 3.6-.8 3.6-1.3 2.7-2.8 3.6-3 2.7-3.6 1.7-3.6 .6 .9 .5 4.4-.5 4.9-2.7 2-2.2 1.8-2.7 1.3-2.8 .9-3.4 0-4.4-.4-1.8-.9-2-1.8-2.3-3.1-2.3-3.1-1.3-3.7-.7-2.3 0-3.3 .7-3.4 2.4-1.9 3.4-.7 3.6 .1 3.6 1.5 3.6 1.9 2.1 4.2 2 .2 .4-2.6 .2-1.8-.6-2-1.4-1.8-2.2-1.4-3.2-1-4.5 0-3.6 .9-2.7 3.5-3.9 3.1-1.8 5.4-1.3 5 0-2.3-1zM265 52.3l1.4 1.5 1.2 .4zM267.7 54.3l0 .5 .3-.1zM269.5 69.8l-1 4.2-2.9 5-3.7 3.8-4.1 2.7-3.1 1.3-5 1.1-4 .2-8.7-1 5.1 1.4 5.8 .4 5.6-.9 4.5-1.8 4.8-3.2 3.6-4 2.7-5.4zM236.7 41.3l-4.1 5.9-1.4 3.4-1.1 3.6-.4 6.8 .7 4.1 .9 2.6-1-7.6 .4-4.5 1.8-6.3 4.4-7.7zM237.1 40.8l-.2 .4 .2 .1zM269.1 58.2l0 1 1.8 4.9 .4 5-.7 4.5-2 4.9-2.9 4.1-3.8 3.5-5 3.1-5.5 2.4 1.3 0 3.9-1.4 4.8-2.7 4.5-4 3.2-4.5 2.2-6.2 .5-4.6-.5-4.7-.9-2.8zM254 43l3.8-.1 3.3 .5 5.9 1.8 4.4 2.3 3.3 2.7 3.4 3.6 3.1 4.7 2.1 4.7-.3 .4-.4-.6-5.1-7.9-4.4-4.6-4.9-3.5-5.4-2.4-6.3-.8-5.9 .8-4.5 1.9-4.9 3.6 1.5-2.2 2.5-2 3.6-1.7zM266.4 45.5l-.2 .2 5.6 3.4 5.2 4.7-1.2-1.8-3.1-3.2-3.3-2.2zM252.4 43.4l-3.1 1.2 4.9-1 5.2-.2-3.4-.3zM254.8 44.8l4.4 .1 5 1.2 4.4 2.4 4.1 3.3 3.1 3.8 2.4 4.5 1.9 5.4 1.1 6.3 .6 5.4-.1 7.1-.9 5.8-1.8 5.9-2.7 6-3.6 5.8-4.1 5.1-4 3.9-1.7 0 5-5 5-6.3 3.2-5.4 2.7-6.3 1.3-4.5 1-6.3 0-4-1-7.7-1-5.4-1.9-5.4-2.1-4-3.2-4.1-4.6-3.6-3.6-1.9-2.7-.9-2.3-.4-4-.2-5.4 .9 2.6-1.1zM263.7 46.4l-.3 .2 2.5 1.1 4.1 2.8 4.7 5.1 1.9 3.1 1.8 4.1 1.9 7.9 0-2.3-1.3-5.6-1.7-4.1-1.8-3.1-2.1-2.7-3-2.8-4-2.7zM201.1 47.5l.5-.4 0 2.8zM226.5 70.4l.3-.1 2 3.3 3.8 4.2 3.6 2.8 4.5 2.2 5.9 1.3 3.6 0 4.5-.8 4.2-1.6-3.4 1.8-5.3 1.4-3.9-.1-5.9-1.3-3.7-1.8-4.2-3.2-3.9-4.4zM238 81.9l1.8 1 .2-.3zM240.3 82.9l-.3 .1 2.5 .9 .2-.4zM243 83.8l-.4 .1 2 .5 4.2 0zM265 77.6l0 .5-.2 0zM264.3 78.5l.3-.3 .1 .3zM263.9 79l.2-.3 0 .5-1.3 1.6-3.6 2.9-3.6 1.7-3.2 .9-3.6 .4-3.6 0-3.1-.5-4.3-1.4 7.9 1.3 5.8-.4 3.6-1 3.6-1.6 2.7-1.8zM269 81.7l.4 0-.3 .6zM268.5 82.6l.1-.3 .2 .3-.2 .3zM268.2 83l.2 0-.2 .5z"/>
<path fill="#149e7e" d="M247.2 37.6l.7-.3 .1 .3zM246.3 38l.7-.3 .2 .3zM245.5 38.5l.6-.3 .2 .3zM244.7 38.9l.5-.2 .2 .2zM243.4 39.8l.5-.3 .2 .3zM242.7 40.3l.5 0-1.1 1.1-.5-.1zM252 40.3l.1 .4-6.4 2.6-4.1 2.9-2.4 2.6-1.8 2.7-2.5 5.6 .4-2.8 1.4-2.9 4-5 2.9-2.5 2.7-1.8 3.1-1.4zM236.9 41.2l.2-.4 0 .5zM236.4 41.6l.3-.3 .2 .3-4.4 7.7-1.8 6.3-.4 4.5 1 7.6-.9-2.6-.7-4.1 .4-6.8 2.4-6.7zM240.5 42.1l.5 0-3 2.9-.1-.2zM252.4 43.4l3.6-.3 3.4 .3-5.2 .2-4.9 1zM237.1 45.7l.3 .4-.7 .8-.2-.3zM266.2 45.7l1.2 0 3.5 1.8 3.7 3.1 2.4 3.2-5.2-4.7zM263.4 46.6l.3-.2 1.8 .6 3.6 2.1 3.1 2.6 2.9 3.4 2.2 3.6 1.7 4.1 1.3 5.6 0 2.3-1.9-7.9-1.8-4.1-1.9-3.1-4.7-5.1-4.1-2.8zM269.5 49.6l-.3 .1 .3 .2zM270 50l-.2 .2 .5 0zM270.4 50.4l0 .4 .4-.2zM270.9 50.7l-.1 .4 2.3 2.4 .4-.2zM274.5 54.6l-.3 .1 .7 1.1 .3-.2zM275.4 55.8l0 .7 .4 0zM235.6 47.9l.2-.3 .2 .3-.2 .3zM253.3 47.9l1.8 .1 2.3 1-5 0-5.4 1.3-3.1 1.8-3.5 3.9-.9 2.7 0 3.6 1 4.5 1.4 3.2 1.8 2.2 2 1.4 1.8 .6 2.6-.2-.2-.4-4.2-2-1.9-2.1-1.5-3.6-.1-3.6 .7-3.6 1.9-3.4 3.4-2.4 3.3-.7 2.3 0 3.7 .7 3.1 1.3 3.1 2.3 1.8 2.3 .9 2 .4 1.8 0 4.4-.9 3.4-1.3 2.8-1.8 2.7-2 2.2-4.9 2.7-4.4 .5-.9-.5 3.6-.6 3.6-1.7 3-2.7 2.8-3.6 1.3-2.7 .8-3.6-.3-3.6-1-1.8-2.5-2.4-4.5-2.5-2.7-.9-2.8 0 3.7 .8 3.6 2.4 2.1 2.6 1.3 2.3 .5 3.6-1.2 3.6-3.2 3.7-4.4 2.6-3.7 .7-2.8-.3-2.2-.9-2.1-1.3-1.9-1.9-1.8-2.8-1.3-3.2-.9-5.6 .4-2.8 .9-2.2 3.2-4 4.5-2.7 2.8-.9zM251.5 53.3l-4 1.1-3.2 2.4-1.3 2.7-.5 5.1 .9 3.6 2.3 2.8 3.1 1.1 5-.6 2.7-1.4 1.2-1.5 .3-2.2-1.2-3.2-1.2-1.6-1.4-.8-1.3 .4-1.7 2-.2 .5 1 1.1-2-.2-.5-.9 .1-.9 1.9-2.6 1.4-1 2 0 2 1.4 2.8 4.4 .3 1.8-.3 1.8-1 1.6-1.8 1.7-2.7 1.4-4.6 1.6 3.3 .6 3.8-1 2.9-2.1 2.3-3.1 .8-3.8-.7-3.2-3.3-3.8-3.6-2.1-2.7-.3-1.8 .6-1.9 2-1.9 3.6 0 2.7 1.6 1.7 4 .6 .8-.5 .4-.9-1.3-1.8 .6-.5 .9 0 1 2.3-.1 1.8-1 .9-2.2 .4-3.5-.4-1.9-1.1-1-2 .1-3.2 1.4-4 1.4-2.3 2.2-1.5 1.8-.5 5.6 .7-2.9-1.1zM235.3 48.4l.3 .4-.7 .8zM234.3 50.2l.3 0-.2 .3zM233.4 52.4l.1-.3 .2 .3zM264.9 52.4l.7 0 2 1.8-1.2-.4zM267.6 54.7l.1-.4 .3 .4zM268.1 55.1l.1-.2 .2 .2zM269 58.3l.5 .5 1.4 3.1 .9 5.8-.5 5.1-2.2 6.2-3.2 4.5-4.5 4-4.8 2.7-3.9 1.4-1.3 0 5.5-2.4 5-3.1 3.8-3.5 2.9-4.1 2-4.9 .7-5-.5-4.9zM232.5 65l.1-.3 .3 .3-.3 .6zM233 66.8l.1-.3 .2 .3zM233.9 69.1l.1-.3 .2 .3zM234.4 70l0-.3 .3 .3zM269.5 70l-.4 3.6-2.7 5.4-3.6 4-4.8 3.2-4.5 1.8-5.6 .9-5.8-.4-5.1-1.4 8.7 1 4-.2 5-1.1 3.1-1.3 4.1-2.7 3.7-3.8 2.9-5zM235.2 71.3l.1-.3 .4 .3-.4 .3zM236.1 72.7l.1-.4 1.4 .9 1 .8-.1 .5zM241.5 78.5l1.5-.3 4.1 1.7-.5 .3-2.4-.3zM236.5 81.2l.6 0 0 .3zM238 82.1l0-.2 2 .7-.2 .3zM240 83l2.7 .5-.2 .4zM242.6 83.9l6.2 .5-4 0z"/>
<path fill="#0a2e26" d="M270.3 50.6l.1-.2 .4 .2zM270.8 51.1l.1-.4 .4 .4 2.2 2.2-.4 .2zM251.5 53.3l3.2 .3 2.9 1.1-5.6-.7-1.8 .5-2.2 1.5-1.4 2.3-1.4 4-.1 3.2 1 2 1.9 1.1 3.5 .4 2.2-.4 1-.9 .1-1.8-1-2.3-.9 0-.6 .5 1.3 1.8-.4 .9-.8 .5-4-.6-1.6-1.7 0-2.7 1.9-3.6 1.9-2 1.8-.6 2.7 .3 3.6 2.1 3.3 3.8 .7 3.2-.8 3.8-2.3 3.1-2.9 2.1-3.8 1-3.3-.6 4.6-1.6 2.7-1.4 1.8-1.7 1-1.6 .3-1.8-.3-1.8-2.8-4.4-2-1.4-2 0-1.4 1-1.9 2.6-.1 .9 .5 .9 2 .2-1-1.1 .2-.5 1.7-2 1.3-.4 1.4 .8 1.2 1.6 1.2 3.2-.3 2.2-1.2 1.5-2.7 1.4-5 .6-3.1-1.1-2.3-2.8-.9-3.6 .5-5.1 1.3-2.7 3.2-2.4zM273.5 53.8l.1-.3 .2 .3zM273.9 54.2l.3 0-.2 .3zM274.2 54.7l.3-.1 .5 .5-.1 .7zM275.2 56l.2-.2 .4 .7-.4 0zM275.7 56.9l.1-.4 .2 .4z"/>
<path fill="none" stroke="#000" stroke-width="0.3" stroke-opacity="0.6" d="M265 34.9l-4.3 .9-1.3 .9 2.7 2.7 3.8 2 4.5 .8 5.4 0 3.2-.9 1.4-1.5 .1-.9-.5-.9-3.5-1.8-6.5-1.3-5 0M273.6 78.2l-3.4 5.7-3.6 4.5-7.9 7.2-7.6 5.9-1.3 1.8 3.3-.5 5.6-2.2 3.7-2.3 3.5-3.1 2.7-3.5 3.2-6.3 1.8-5 0-2.2M219.6 24.1l-1.4 1.8-1.3 2.9-2.7 8.2-1.1 6.9 .1 6.7 1.4 7.1 2.3 5.2 2.7 4 4.9 4.7 0-.8-3.9-9.4-1.7-8.1-.1-9.4 1.4-13.1-.6-6.7M265.5 34l-5.6 .9-3.2 1.3-.8 .9 2.2 .9 2.5 1.8 .7 1.4 .7 .4 2.9 .9 5.1 1.2 7.9-.7 3.5-.9 4.5-2.3-.5-.9-2.1-1.3-6-2.3-6-1.1-5.8-.2M275.4 68.4l-.5 .3-1 5.8-1.8 4.9-2.3 4.1-3.4 4.2-4.1 3.7-5.8 4.4-15.7 9.3-2.4 1.8 1.4 .4 4.1-.4 10.4-2.7 6.8-3.2 5.5-4.5 2.6-3.1 1.9-3.2 3.1-8.1 1.6-8.1 0-4.2-.4-1.4M218.5 22.5l-3.9 9.2-2.1 8.1-.5 7.2 .8 7.5 2.3 6.8 3.6 6.1 3.1 3.5 9 7.9 .2-.3-4.4-5.4-2.7-4.9-2.8-7.7-1.3-6.7-.3-5.9 .4-5.8 3.2-16.2 .7-7.2M229 25.3l-3.1 6-2.3 6.8-.9 5.3 0 7.4 .7-8.3 .9-4.5 1.9-5.8 2.9-6.3-.1-.6M304.6 50.4l-6.6-5.6-7-4.5-6-3.2-6.9-2.3-7.7-1.3-7.6 0-5.3 1.4-4.4 2.7 2.9 .6 1.8 .9 1.4 1.2-.7 .9 13.7 3.9 1.8-.9 6.6-.8 4.7-1.1 4 .4 3.6 1.8 4.5 3.3 4.3 3.7 3.8 4.1M281.7 51l7 7.3 4.7 6.3 0-.8-1.4-2.4-4-5.3-4.3-4.1-1.3-.9-.7-.1M226.8 53.5l-.6 6.6 .6 5.5 .9 2.8 1.7 3.4 1.9 2.4 .9 0-2-3.8-1.4-4-2-12.9M222.7 109.1l13.1-.1 6.4-.8 7.5-1.5 5-1.4 3.9-1.6 8.2-5.4 .5 0-.5 1.4-4.6 5.8 .6 .1 5.9-6.4 .9-1.8 1.9-2.2 2.7-5.4 0-.9 1.3-3.2 .4-3.6 .5-.4 .4-3.6 .4-.7 .1-3.8-.1-1-.5 1.4-.6-7.2-.7-2.3-.9-1.5-.3 .7 0 7.6-.9 4.1-1.3 3.6-3.6 5.8-5.6 5.7-7.2 5-4.5 2.6-17 7.4-6.9 1.6-7.6-.2M260.8 11l-7.2 3.2-6.1 3.6-5.6 4.5-4.7 4.9 .4 .1 5.8-5.9 .5 .1 4.5-3.7 2.2-.8 .9-.9 3.6-1.8 .9 0 1.4-.9 .9 0 1.3-.9 2.3-.4 .4-.5 1.5-.1M268.1 12.7l-7.9 2.4-7.7 3.6-7.2 4.9-5.5 5.3-3.1 4-2.3 3.7-5.8 14-.9 .1-.3-1 .6-.4-.3-1.4-2.7 13-.9-6.7 0-7.4 1-6.5 2.1-6.8 2.9-5.8 4.4-6.3 4.9-5.4 5.9-5M237.1 12.8l-6.9 8.1-4.9 8.6-2.7 8.1-1 8.5 .7 7.4 2.2 9.2 1.8 5.1 1.8 3.6 2.7 3.7 3.2 3 2.2 .8 .4-.4-3.8-4.5-2.4-4.5-1.6-6.3-.2-4 .2-4.5 1.3-5.4 1.9-4.5 2.8-5 3.2-4.9 4.1-4.8 4-3.6 5-3.5 5.4-2.8 5.8-2.2 6.3-1.6 6.7-.9M217.1 23.6l-3.5 8.6-1.7 6.7-.7 7.2 .7 7.2-.6 0 .1-1.8-.6-.4 .1-3.2-.6-.4-.2-4.6-.7-3.1 .1-7.9M292.1 27.8l-7-1.9-6.4-.9-6.5-.1-5.8 .5-5.9 1.4-5.9 2.2-5.3 3.2-2.1 1.8-.6 1.1 14.8-5.3 5.4-1 5.4-.3 5.9 .4 6.7 1.3 5.9 1.8 6.9 3.1M236.2 28.4l-.7 1.1 .8-.5-.1-.6M234.9 30.3l-.4 .5 .4 0 0-.5M234 31.7l-.3 .5 .3 0 0-.5M204.5 40.1l1.1 9.8 2.1 8.8 1.8 3.6 6 8.6 5.9 5.8 3.4 2.3 3.3 1.5-7.8-8.7 0-.5-1.8-1.8 .2-.8 2.7 2.8 8.7 7.5 5 3.1 3.8 1.5-3.1-1.7-3.6-2.7-2.9-2.9-2.3-3.2-3.5-6.7-2.6-9.5-.7-6.7 .3-6.6 1.3-7.4 3.7-13.9 1-5.1M228.1 46.4l0 .8 0-.8M303.7 47.9l-4.5-4-9.1-5.4-7.1-3-8.1-2-6.7-.7-6.3 .3-6.2 1.8-5.9 3.6 4-.2 1.8 .4 2 1.1 .2 .5-1.6 .9 3.4 .7 .7 .6 7.3 2.3 1.5 0 4.5 1.8 5.1 4 6.5 7.2 .1 .7-4.5-4.3-1.8-1.5-.3 .2 5.1 6.3 3.1 4.9 1.7 4.1 2.1 7.6 1.6 7.2 .3 5-.5 6.3-1.5 7.8M211.9 53.8l.3 1.3-.3 .2 0-1.5M212.4 56l0 .6 0-.6M288 61.9l.3 .4-.3 .2 0-.6M216.8 66.4l.5 .4-.4 .2-.1-.6M198.9 67.2l4 6.5 2.6 3 8.7 6.3 4.5 2.8 5.8 2.7 5 1.6 4.5 .4 7.8-.3-8.3-1.6-6.3-1.8-5.4-2.3-5.4-3.4-5.5-4.8-5.7-10.2-.9-1.1-3.2-2-2.2-3.7M217.7 67.7l1 .9-.5 .2-.5-.6 0-.5M302.8 82.7l-1.3-5.6-2.3-6.4-2.7-5.6-2.7-4.3-3.8-4.8-4.3-4-3.6-2.7-5.8-3.1-.7-1 1.6-.6 8.5-1.1 1.8 .1 2.2 .7 4.1 2.7 4.3 3.6 4 4.1 3.9 4.9M205.8 90.8l6.7 3.5 7.6 2.7 6.2 1.3 9 1.1 3.2-.1 3.1-.8 6.5-2.4 6.7-3.6-1 0-3.2 1.2-7.6 2-3.6 .3-13.5-.7-1.8-.8-1.4 0-1.8-.8-.9 0-7.6-3.6-7.2-5-3.6-3.5M292.7 100l.4-3.9 .5-.5 0-2.7 .5-.4 .1-12.6-.5-.5 .1-1.9 1.2 3.3 .6 4 .2 5.9-.4 6.1M224.9 110.4l9.3-.4 11-1.4 8.6-1.8 7.2-2.6 .1 .4-.6 .9-2.9 2.7-5.2 3.6-6.2 3.2 1.3 .1 7.2-3.6 .9-.9 1.3-.4 1.4-1.4 1.8-.9 2.2-2.2 .5 0 3.8-3.8 0-.4 2.3-2.3 .9-1.8 1.8-2.2 2.8-5.4 .8-3.6 .5-.5 0-1.3 .5-.5 .3-3.6 .5-.4 0-1.8 .5-.5-.1-3.1 .5-.5-.1-4.9-.5-.5 0-2.7-.4-.4-.2-1.7-1.3-3.5-.5 1.3-1.8-2.9-.4-.3-.3 .3 1.4 5.4 .3 4.5-.7 5.4-1.5 4.5-3.8 6.3-3.1 3.3-3.1 2.7-7.2 4.6-5 2.6-13.9 5.1-5.4 1.4-4.5 .6-4.5-.1-4.9-.7M277.7 111.8l3.5-6.4 2.7-6.8 1.8-7.1 .9-6.7 .1-4.9-.8-5-2-5.8-2.2-4.6 0 1.4 1.8 7.2 .6 5 .2 6.7-.7 5.9-1.7 6.3-2.4 5.8-3.2 5.9-3.9 5.4M245.2 115.4l.9 .1 0-.5-.9 .4M244.3 115.8l.5 .1 0-.3-.5 .2M243 116.3l.5 0-.5 0M255.4 117.7l5.6-4.1 4.9-4.4 4.1-4.6 3.6-5.3 3.1-6.6 1.8-5.9 .5-5.6-.5-1.2-.4-.1-3.8 12.6-2.7 5.4-2.7 4-3.9 4.5-4.5 4.2-5.8 4.2-5.3 2.9M258.2 10.6l-6.3 3.1-6.2 4.1-5.4 4.7-4.5 5.2-3.2 4.8-2.2 4.6-5 16.7-.4-.9-.2-3.6 .8-7.2 1.8-6.3 2.4-5.4 3.7-5.9 4-4.9 5-4.8 5.6-4.2M266.2 12.2l-7 2.3-5.9 2.8-5.4 3.3-5.4 4.4-4.1 4.5-3.2 4.5-1.9 3.6-3.4 7.9-1.3 1.8-.2-1.6 .5-.5-.1-1.3 .5-.5-.1-1.3 .5-.5 .4-2.2 3.2-6.3 3.2-4.1-.1-.4 7-7 .5 0 4.5-3.6 2.2-.9 .9-.9 3.6-1.8 .9 .1 3.6-1.9 .9 .1 .5-.5 3-.7M235.9 12.8l-7.8 8.8-.4 0 0-.7 1.4-5M215.6 25l-3.5 9-1.5 8.7-.2-5.1 .4-.5-.1-3.1 .4-.5 .4-4M289.8 25.5l-7.7-1.4-8.1-.4-7.6 .8-7.2 1.8-6.2 2.7-4.9 3.2-7.8 7.2-2.7 3.1-.6 .9 .1 .4 4.5-4.1 6.3-3.7 12.6-4.9 6.8-1.3 8.1-.1 8.1 1.3 7.6 2.4 7.7 3.6M203.4 42.3l2 12.8 .2 4.1-.9 .7-3.1-.5-1-1.1-1.3-2.5M271.8 46.6l.4-.2 .8 .6-.3 .2-.9-.6M237.6 47.4l0 .6 .4-.5-.4-.1M273.2 47.5l.4-.3 .7 .7-.3 .2-.8-.6M303.7 47.7l-8.1-6.7-9-4.8-4.9-1.8-5.9-1.3-8.5-.6-7.2 .7-6.3 2.1-10.5 6.3-3.1 2.7-2.3 2.7 .1 .5 5-4.7 4-2.4 4.5-1.5 3.2 .1 1.7 .8 .1 .5-4 1.3 6.5 .5-1.3 .4 4.6 .9 5.4 1.7 2.7 1.3 3.2 2.2 3.3 2.9 3.1 3.6 4.1 5.4 2.6 4.5 1.2 4.5-.4 6.4-7.6-16-3.2-4.8-.4-.6-.3 .2 3.6 6.7 2.4 8.1 1.2 9-.2 8.6-1.6 7.2-3.1 7.6-3.9 6.8-5.4 6.7M274.5 52.4l0 .5 .3 0-.3-.5M198.9 69l4 6.9 1.8 2.5 5 2.5 5.4 3.7 7.5 4.3 1.3 1.3 .8 2.7 0 .5-.6 .5-2.7 0-8.1-3.5-8.1-5.4-3.6-3.6M278.1 69.1l0 3.5 0-3.5M277.5 74.5l.5 0-.4 2.3-.1-2.3M277.1 78.1l.3 0-.2 1.1-.1-1.1M276.7 80.3l0 .9 0-.9M303.7 80.5l-1.6-5.6-2.1-5.4-2.8-5.4-2.6-4-3.4-4.1-3.7-3.6-9.3-6.7 2.1-.8 5-.2 2.2 .3 2.3 1.1 4.7 3.6 4.5 4.5 4 5 3.4 5.4M276.3 82.1l0 .9 0-.9M265.9 84.3l0 .6 .4-.5-.4-.1M240.7 86.5l1.5 .1-1.5-.1M243.4 87.1l1.3 0-1.3 0M256.5 87.9l.5 .1-.5-.1M255.1 88.4l.8 0-.8 0M273.6 91.1l.2 0-.2 .8 0-.8M206.8 92.8l6.2 2.8 6.1 2.1 5.4 1.2 10.8 1.6 1.2 .5-1.2 .9-1.8 .5-7.6 1-5.9-.3-5.8-1.2M292.9 99.8l.4-3.7 .5-.5 0-2.7 .4 0-.7 6.2M279.2 110.9l3.4-6.6 2.3-6.4 1.4-5.9 1.7-11.8 .4-1 2.7 4.8 .6 3.5-.6 7.3-2 8.8M226.2 111.3l9.1-.6 18.9-2.3 .4 .3-.8 .9-4.3 2.7-4.9 2.2-5.4 1.8M242.3 117l.2-.5 .9 0 .5-.4 .9 0 1.8-.9 .9 0 7.2-3.6 .9-.9 1.3-.4 1.4-1.4 1.8-.8 2.2-2.3 .5 0 6.2-6.6 1.8-3.1 .9-.9 1.4-3.2 .4 0-3.9 7.7-5.9 7.1-7.7 6.2-8.5 4.7M258.5 117.7l7.4-6.4 5.9-7 4.5-7.9 2.8-8.4 .9-7.7-1-11.3-.9-2.7 0 2.3-.6 0 .1-2.7-.6-.4 .1-1.8-.5-.5-.4-2.2-1.9-3.6-2.4-3.2-1-.9-.4 0 1.3 1.8 0 .5-1.8-1.4-.5 0 0 .5 2.1 3.6 1.2 3.1 .9 4.1 .2 4-1 5.9-2.3 5.4-3.8 5.1-4.9 4.5-7.2 4.4-6.3 2.7-.6-.1 13.2-8 4-3.9-5.4 4-7.6 3.4-9.5 2.3-2.7 .1-2.6-.6-3.1-2.2-.3-.5 .4-.4 13.2-.9 4.6-.9 2.7-1.1-7.2 1.2-7.2-.3-9.9-2.5-6.8-2.7-6.6-4.1-5-4.5-1.7-3.6-1.1-4.5-.1-1.8 .6-.3 1.3 .9 5.6 6.6 4.4 4.1 3.2 2.2 6.7 3.6 6.3 2.7 3.2 .5-2.8-.9-5.9-3.2-5.8-4.8-2.7-2.9 8 5.9 4.8 2.7 5.6 1.9 5.2 .4-2.5-.1-1.8-.6-6.3-2.7-4.4-3.4-3.3-3.6-3-4.9-2-5-2.1-8.3 0-3.6 3.9 12.8 3.7 7.2 2.7 3.4 3.5 2.9 4.1 2.3 1.9 0-4.8-4.1-2.4-2.7-3-5.4-1.7-5.4-.5-5.4 .6-5.4 1.8-5.8 2.3-4.6 4.1-6.1 4.5-5.2 4.9-4.4 5-3.2 6.3-2.9 6.7-2.1 6.8-1.2 7.3-.4M256 10.6l-6.3 3.4-4.9 3.6-5 4.4-4.1 4.8-3.3 4.9-2.2 4.5-4.3 14.1-.3-3.7 1.2-6.5 2.1-6.1 2.8-5.4 3.6-5.3 4.1-4.5 4.6-4.2 5.6-4M262.3 12l1 0-1 .3 0-.3M261 12.4l1 0-1 .3 0-.3M259.6 12.8l1.1 0-1.1 .5 0-.5M258.7 13.3l.9 0-.9 .3 0-.3M257.4 13.7l1.1 0-2 .9 0-.4 .9-.5M255.1 14.6l1.3 0-4.9 2.6-4.5 3-4 3.3-3.8 3.7-4.9 6.8-4.8 9.9-.1-1.8 .5-.5 .4-2.2 3.2-6.3 3.1-4.1 0-.4 6.8-6.8 .5 0 4.5-3.6 2.2-.9 .9-.9 3.6-1.8M288.4 24.1l-9.4-1.2-9 .3-8.6 1.7-8.5 3.5-6.3 4.3-9 9.2-4.1 6.2-2.2 6.5-.5 5 .5 4.9 .2-6.2 .8-4.5 1.9-4.5 2.2-3.6 3.4-3.7 4.1-3.2 4.9-2.7 4.5-1.2 .4 0-.4 .5-.9 .1-9 5.6-4.2 3.7-2.1 2.7-1.9 3.1-1.3 3.2-.4 2.7 3.6-7.2 4.4-5 3.3-2.3 3.3-1.7 3-1 2.2-.1 1.9 .6 .2 .5-6.8 2.2-3.3 1.8-.5 .7 5.8-2.3 2 .3-.7-.5 .5-.2 7.2 .7 8.6 2.5 4 2.4 4.3 3.6 3.8 4.5 4.1 6 2 4.8 0 2.7-.2 .7-.5-.1-6.1-11.4-4.7-6.1-3.1-3-3.2-2.2-4.9-2.2-1.2 0 3.9 1.6 3.9 2.5 3.4 3.1 3 4.1 2.1 4 1.5 4.1 1.2 5.4 .9 6.7 .2 5.4-.4 4.5-.9 5-1.7 5.4-2.3 4.9-2.8 4.9-3.3 4.6-4 4.5M213.2 27.4l-.8 2-.1-1.1M211.9 29.5l.5 0-.5 1.3 0-1.3M211.4 31.3l.4 0-.3 .9-.1-.9M254.9 42.1l1.5 0-1.5 0M202.6 43.8l1.4 8.6 0 3.2-.6 .9-1.4-.4-.9-1.4-1-2.5M229 43.9l.5 0-.5 .5 0-.5M253.3 44.3l2.1 0-2.1 0M256.9 44.3l3.3 0-3.3 0M261 44.7l1.4 .1-1.4-.1M260.1 47l1 0-1 0M303.3 46.6l-9-6.7-9.9-4.9-6.3-1.7-5.4-.9-11.5-.2 1.8-.9 5.8-.9 5.6 0 5.5 .7 5 1.1 5.4 1.8 9.8 5M261.4 47.4l.9 .4 .2-.3-.2-.3-.9 .2M267.6 50.2l.1-.4 .5 .4-.6 0M269.9 52l.1-.4 .4 .4-.5 0M270.3 52.4l.1-.3 .4 .3-.5 0M231.7 64.9l0 1.2 0-1.2M272.2 64.9l0 .9 0-.9M199.3 71.7l1.8 3.7 1.7 5.4-.3 .6-1.1-.4M304.5 78.2l-3.6-9.6-5.4-9-6.2-6.7-8.5-6.8 1.8-.5 3.2 .5 3.1 1.8 3.9 3.2 3.7 3.7 3.6 4.3 3.2 4.6 2.7 4.9M207.8 82.6l1-.3 1.3 .4 7.8 4.8 1.7 1.8 1 2.3-.1 .4-1.6 0-2.6-.9-7.4-4-2-1.8-.9-1.4 .1-.4 1.7-.9M255.6 83.9l.5 0-.5 0M254.2 84.3l.6 .1-.6-.1M252 84.8l1.3 0-1.3 0M208.2 94.6l9.1 3.5 13.2 2.9-.1 .5-2.1 .4-5.6 .2-4.6-.6-5.9-1.5M267.3 101l.3 0-.8 1.1 0-.6 .5-.5M280.6 110l2.6-5.4 1.9-4.9 3.3-13.5 .9 .3 .8 1.5 .1 3.9-1.3 7.1-2.3 7M228.3 112.3l11.5-.8 3.4 .3 .2 .5-1.1 .9-6.8 2M242.4 117.1l.1-.4 5-1.4 9.4-4.9 9.4-7.6-4.2 4.5-5 4.1-5.8 3.6-5.7 2.7M260.7 117.2l7.2-6.7 5.7-7.7 4.2-8.5 2.2-8.1 .4-7.7-.9-9-.9-4.5-1.4-4-1.8-3.6-4.1-5-1.3-1.3-.9 .1 .2-.6-.7 0 .1-.4-.5-.5-.9 .1 .2-.5-1.1 .2 0-.6 .4 .4 .1-.5-1 .1 0-.5-.9 .1 .2-.6-1.1 .2-.4-.5-1.3 .3 3.2 1.8-.2 .5 3.9 4.9 2 3.4 1.9 5.2 .4 6.7-1.4 6.2-3 6-4.3 4.9-5.7 4.2-.5-.1 6.3-5.3 3.7-4.6 1.8-3.2 1.3-3.6 .6-2.7-.2-2.2-.7 4.5-2.2 4.9-2.9 4.1-4.1 3.9-4 2.6-5 2.1-8.5 2.2-3.6 .4-2.9-.9-.8-1.3 .6-.5 10.7-1.1 6.3-1.8 3.2-1.5 3.6-2.3 2.5-2.3 1.8-2.2-.3-.1-5.4 4.7-3.1 1.8-3.6 1.3-7.2 1.1-7.8-.7-9.6-3.2-6-2.9-3.8-2.5-3.9-3-2.7-2.8-1.5-2.7-.4-2.7 .1-.4 .9 .2 5.9 6.4 4.9 3.9 12.6 6.2 5.9 1.7 4.9 .5 5.8-.5 4.2-1.4-6.4 1.2-4.5 0-3.1-.5-5.4-1.8-6.3-3.8-.5-.9 5.4 3.2 6.5 2.2 4.8 .5 5-.5-5.9-.3-4.1-.9-4.5-1.9-4-2.8-3.6-3.6-3.2-4.7-2.2-5.3-1.1-4.8 .2-.3 2.6 7 2.1 4.1 2.9 3.9 3.6 3.4 3.6 2.3 4.5 1.7 5 .6 4.4-.2-4.5-.5-7.2-3.1 .1-.5-.5 0-4.5-4-3.3-4.5-2.2-5.4-.8-5.9 .5-5.5 2.2-7 3.2-5.4 5.4-6.6 5.8-5.5 5.9-4 6.7-3.2 7.2-2.1 7.7-1.2 7.9-.1M254.5 10.6l-5.2 3-5.4 4-4.6 4.2-4.2 5-3.2 4.9-2.2 4.5-3.4 11.4 0-3.2 1.8-7.2 2.3-5.2 2.7-4.7 3.6-4.8 4-4.3 5.4-4.5 4.7-3.1M287.4 23.1l-9.3-1-9 .5-9 2.1-7.7 3.3-6.3 4.4-8.2 8.8-4.4 6.7-2.3 6.3-.5 4.1 .1 4.5 .9 4 1.4 3.1 .2-.4-1.4-5.8-.1-5.9 1.1-4.9 1.8-4.1 3.1-4.5 4.7-4.3 5-3 3.1-1.2 1.4-.1-9 5.3-3.2 2.8-2.4 2.8-2.3 3.6-1.7 4.5-.5 2.7 .2 3.9 .8-4.4 1-3.1 2.2-4.1 2.3-3 2.5-2.4 3.1-2.2 3.7-1.8 3.3-.8 1.8 .2 .8 .6-5.3 1.8-3.6 1.7-3.7 2.8-1.7 1.8 0 .7 3.1-2.8 .5 .3 0-.5 .9-.6 .4 .3 .3-.6 .8 0-.4-.4 .2-.2 1.2 .2-.3-.6 .9 .3 3.6-1.2 3.2-.5 3.6 .1 3.1 .5 6.8 2.3 4.5 2.7 5.4 5.2 4.5 6.5 2.2 5 .4 1.7-.4 .3-6.5-10.6-4.1-5-5.6-4.2-6.3-2.7-5.8-.6-5.9 .7-4.9 2.2-2 1.5-1.2 1.3 0 .6 .5-.2 2.2-2.2 2.3-1.4 5.4-1.6 5.4-.2 4.9 1 5.4 2.7 4.4 3.6 3.5 4.5 2.8 5.8 1.7 6.8 1 8.5-.1 7.2-1.1 6.6-2.3 6.7-3.1 6.2-4.5 6.5-5 5.5M302.4 44.4l-7.7-5.1-9-4.1-8.1-2.3-10.8-1.2-.3-.4 8-.3 9.6 1.6 8.6 3.2 7.9 4.4M202 45.5l1 5.1 0 2.7-.5 .4-.5-.3-1.3-3.2M239.4 51l-1.4 1.1-1.8 3.1-.8 3.1 .4 1.4 .4-.2 .5-1.3 .3-2.6 1-.4 .5-.8 1.3-3.3-.4-.1M233.5 70l0 .6 0-.6M268.2 70.3l-.6 1.5 .1 2.3 .5-1.6 0-2.2M269.5 73.9l0 1.1 0-1.1M267.3 74.3l0 .9 0-.9M305.1 75.7l-3.3-8-4.1-7.2-3.5-4.5-5.9-5.8 .6 0 3.8 3.1 5.6 6.3 4.1 6 3.2 6.2M266.4 76.2l0 .8 .3-.7-.3-.1M265.9 77l0 .8 .3-.6-.3-.2M265.5 77.8l-1.2 1.6 .3 .2 .5-.6 .6-.9-.2-.3M264.1 79.6l-1.1 1.2 .2 .2 1.1-1.1-.2-.3M234 83l.8 0-.8 0M234.9 83.5l0-.3 .9 .3-.9 0M209.1 96l12.4 4.6-4.8-.5-5.7-1.6M259.6 108.2l.6 0-1 .9 .4-.9M258.3 109.1l.8 0-1.7 1.4 0-.5 .9-.9M281.6 109.6l3.5-8.1 3.3-11.7 .5 2.2-.8 5-1.5 5.3-1.9 5M242.5 117.2l0-.4 5-1.4 9.4-4.9 .5 0-4.9 3.1-7.7 3.7M261.7 117.2l7.3-7.2 5.2-7.2 4.1-8.5 2.3-9 .1-7.7-1.1-8.5-1-4.5-2.8-6.7-1.7-2.8-2.8-3.1-4.9-3.7-5.4-2.2-2.7-.5-4.5 0-2.7 .5-1.9 .9 3.2-.4 5.4 .3 3.6 1 1.8 1.2 4.5 4.4 2.5 3.4 2 4.3 1.2 5.2 0 4.5-.7 3.9-1.8 4.7-2.7 4.2-3.2 3.4-.4 0 4.6-5.9 2.8-6.3 .9-6.7-1.1-6 .3 5.5-.2 4.1-1.3 4.5-2.3 4.5-2.8 3.5-3.2 2.9-4 2.6-5.4 2.3-5.2 1.3-5.2 .8-2.2-.4 0-.9 1.8-.6 7.6-1.3 3.6-1 6.8-3.2 3.6-2.8 2.5-2.8 2.5-4 .5-1.4-.1-.7-1.3 2.5-2.6 3.6-2.4 2.3-4.1 2.8-3.8 1.7-3.4 .9-3.6 .5-4.4-.1-3.2-.4-5-1.4-6.2-2.7-5-2.7-4.2-2.7-4.4-3.6-2.7-2.9-.5-2 1 .5 5.4 5.5 4.5 3.3 10.3 4.7 5.4 1.9 6.3 1 6.8-.6 4.5-1.4 4.5-2.7 1.6-1.4-.3-.2-3.1 2.3-3.6 1.7-6.3 1.3-4.1 0-3.1-.5-5.4-1.8-1-.6 .1-.4 5.4 1.9 4.9 .6 4.1-.2 3.1-.7 4.4-1.6 3-1.8 3.2-3.2 1.1-2.2-.4-.4-2.5 3.5-1.6 1.5-4.9 2.7-5.4 1.4-3.6 0-3.2-.5-6.1-2.4-5.5-4-4.6-5.8-2.2-4.8 0-1.1 2.5 4.9 3.7 5 3.7 3.3 4.9 2.7 4.5 1.4 5.4 .3 4.5-.8 4.2-2-5.5 1.3-5.4-.5-7.9-3.5-2.5-1.7-2.7-2.7-3.1-5-1.8-6.3 0-7.6 1.8-6.4 3.6-6.4 5.4-6.4 6-5.6 5.9-4.1 6.8-3.1 7.9-2.3 7.6-.9 8.5 0M253.4 10.6l-8.6 5.6-7 6.5-3.5 4.5-2.4 3.6-2.6 5.4-.7 2.2 0-1.3 2.7-6 5.4-7.9 6.8-6.8 8.3-5.8M286.2 22.3l-8.6-.8-9 .6-8.1 1.8-7.6 3.1-.2-.2 1.7-.9 5.2-2.3 8.3-2.2 8.8-.9 7.6 .3M251.9 27.2l.8 0-.7 .3-.1-.3M245.1 32.2l.5 0-.3 .4-7.5 8.6-2.7 3.6-2.2 4-1.3 3.6-.9 5 0 5.4 1.4 5.4 2.3 4 .5 .7 .3-.2-2.4-5.4-.9-5.9 .2-4.9 1.8-5.9 2.6-4.5 4.2-4.5 5.9-4 4.5-1.6 0 .3-.9 .1-5.4 3-4.1 3.3-3.8 4.3-2.8 5-1.5 5.8 .4 4.5 .5 2.4 .1-5.1 .8-4 1.8-4.3 2.7-3.9 3.7-3.5 4.4-2.7 4.1-1.4 1.8 0 1.2 .5-6.6 2.4-4.1 2.5-3.6 3.5-2.2 3.5-2.3 5.2-.7 5.4 .6 4.5 1.9 3.6 2.7 3.4 2.7 2.5 4.1 2.2 3.1 .6 3.6-.1 2.5-1 3.7-2.7 2.8-3.2 2.3-4.7 0-4.6-1.2 5.3-2.5 4.1-4.9 3.5-3.1 1.2-2.3 .3-2.7-.2-1.8-.6-3.1-2-3.4-4-2.2-5-.6-3.1 .1-3.6 1.4-3.6 2.3-3.2 3.7-2.8 2.7-1.4 4.1-1 4-.3 4.4 .6 2 .9 4.4 3.5 2.7 2.8 2.3 3.7 1.8 4.6 .6 2.9 0 4.1-1.1 6-1.8 4.1-.9 1.5-.1-.4 2.1-4.5 1.4-5.8 0-5-.4-2.2-1.2-2.9 .7 6.9-.5 5.4-2 5.4-3.1 4.7-4.7 4.3-5.5 3.2-7.1 2.2-6.1 .8-1.1-.3 1.1-.6 7.6-1.9 5.4-1.8 4.1-2.2 3.1-2.3 2.8-2.9 2.4-3.6 1.3-3.2 .8-4-.1-1.1-.1 2-2.4 5.4-3.7 4.9-5.5 4.1-5.6 2.2-7 .9-7-.9-6.3-2.2-6.7-3.6 .2-.3 1.3 .3 8.2 3.3 4.9 1.4 5.9 .6 5.4-.6 4.5-1.4 4.7-2.9 4.4-4.5 2.2-4 .8-2.8 1-7.6-.5-3.1-.9-2.7-1.7-3.2-2.4-2.2-3-1.8-3.7-.9-7.2 0-4.1 1.3-2.5 1.8-2 2.4-.9 2-.2 2.4 .2 1.1 2.1-4.3 2.4-2.8 2.3-1.5 2.7-.8 4-.2 3.2 .6 3.6 1.4 3.1 2.2 2 2.5 1 2.2 .5 2.7-.1 4.1-.8 3.1-1.4 3.2-2.8 4-2 2-3.6 1.7-3.1 .9-2.7 .1-3.2-.4-4.9-1.8-4.5-2.5-3.2-2.7-3.1-4.3-1.8-4.1-1-5.1 .1-5.4 1.3-5.6 2.3-4.9 2.9-4.3 5.2-5.7 3.9-3.3M228.1 38.5l0 1.3 0-1.3M227.6 40.3l.1 1-.1-1M227.2 42.1l0 1.1 0-1.1M254 43l3.8-.1 3.3 .5 5.9 1.8 4.4 2.3 3.3 2.7 3.4 3.6 3.1 4.7 2.1 4.7-.3 .4-.4-.6-5.1-7.9-4.4-4.6-4.9-3.5-5.4-2.4-6.3-.8-5.9 .8-4.5 1.9-4.9 3.6 1.5-2.2 2.5-2 3.6-1.7 5.2-1.2M301.9 42.7l-7.2-4.3-7.2-3.3-7.6-2.2-7.2-1.2 4.5 0 9.4 2.3 8.2 3.6 6.7 4.3M226.8 44.3l0 .5 0-.5M248.2 46.6l.8 0-.8 0M201.6 47.1l.1 2.6-.6-1.1M226.2 69.5l.1 .8-.1-.8M226.5 70.4l.3-.1 2 3.3 3.8 4.2 3.6 2.8 4.5 2.2 5.9 1.3 3.6 0 4.5-.8 4.2-1.6-3.4 1.8-5.3 1.4-3.9-.1-5.9-1.3-3.7-1.8-4.2-3.2-3.9-4.4-2.1-3.7M265 77.6l0 .5-.2 0 .2-.5M263.9 79l.2-.3 0 .5-1.3 1.6-3.6 2.9-3.6 1.7-3.2 .9-3.6 .4-3.6 0-3.1-.5-4.3-1.4 7.9 1.3 5.8-.4 3.6-1 3.6-1.6 2.7-1.8 2.5-2.3M269 81.7l.4 0-.3 .6-.1-.6M236.8 84.4l.9 0-.9 0M262.9 116.8l4.6-4.5 4.5-5.4 3.6-5.9 2.7-5.8 1.8-5.9 1-5.8 0-4.5-1-7.7-1-5.4-1.9-5.4-2.1-4-3.8-4.5-5.4-4.1-4.9-1.9-2.3-.4-4-.2-5.4 .9 3.6-1.2 4.9-.3 5.1 .9 4.4 1.9 3.6 2.6 3.9 4 2.6 4.1 2.2 5.4 1.2 5.4 .9 7.2 0 7.6-.9 6.2-1.4 4.7-2.7 6.3-3.1 5.4-4.1 5.4-4.2 4.4M241.6 35.8l.1 .4-5.1 6.3-2.9 4.5-2 5-1 4.5-.1 5.8 .9 4.5 1.8 4.1 3.1 4-.2 .5-3.1-3.6-2.3-4.4-1.3-5.9 .1-5.5 1.3-5.4 2.6-5.4 3.6-5 4.5-4.4M248.8 36.7l.9-.3 0 .4-6.3 3.4-5.3 5-3.1 4.5-1.9 4.7-.1-1.1 1.4-3.6 3.6-5.3 4.5-4.1 6.3-3.6M249.7 40.3l2.3-.4 1.6 .4-5.7 2.1-3.1 1.7-3.2 2.5-2.7 3.1-3.6 7.2-1 3.6-.3 3.5-.2-4.4 .6-3.6 .9-2.7 1.8-3.2 3.2-3.9 2.6-2.3 3.5-2.3 3.3-1.3M254.6 43l3.2 0 2.8 .4 6.2 1.8 3.7 1.8 3.1 2.3 3.2 3.1 2.6 3.6 1.8 3.6-.4 .1-4.3-5.9-3.8-3.8-4.5-3.1-5-2.3-5.8-.9-5 .4-4.5 1.3-4.5 2.3 1.8-1.6 2.7-1.4 4.1-1.3 2.6-.4M253 45.2l6.2-.1 4.9 1.1 5 2.7 4.4 4 3.5 4.9 2.6 6.3 1.3 6.3 .3 6.9-1.6-9.6-1.4-4.9-2.2-5-3.2-4.5-4.2-3.7-5.8-3.2-3.6-.9-6.2-.3M250.8 47.5l4.8-.3 2.9 .3 6.1 3.6 3.1 2.7 1.8 2.4 1.5 3-.1 .5-.9-1.4-.1 .4 1.1 2.7 .8 3.8 0 5.7-.9 4-1.8 4.3-2.6 3.8-3.3 3.3-4.4 3-4 1.8-4.4 1.4-4.7 .6-.5-.2 .9-.4 10.4-3.5 3.1-1.6 3.6-2.7 3-3 1.9-2.7 1.6-3.6 1-4.1 .2-2.7-.5-3.3-.2 4.7-.5 2.7-1.4 3.6-1.9 3.1-2.4 2.7-2.7 2.3-3.7 2.2-3.3 1.4-5.9 1.1-5.9-.2-6.3-1.6-6.1-2.9 1.2 0 5.4 2 6.3 1.4 4.9 .1 4.5-.6 4.1-1.3 4-2.3 3.4-2.9 2.7-3.6 2.1-5 1-5.4 .2-3.1-.7-3.2-1.8-4.5-1.8-2.2-3.3-2.4-4-1.4-4.5-.4-4.1 .4-2.7 .9-2.7 1.5-2.3 2.3-1.4 2.7-.5 2.2 .1 3.2 1 4.6 .9 2 .3-.3-.9-2.7-.1-2.3 .4-3.1 .8-2.7 2.4-3.6 2-1.6 1.8-.7 2.7-.6 3.2 .1 3.6 .9 4.5 2.2 2.2 2.2 1.5 2.4 .9 3.2 .1 3.1-.6 3.2-1.4 3.6-2.2 3.6-2.3 2.5-2.4 1.5-3.5 1.4-3.6 .4-3.1-.4-5.4-1.8-5-3.2 .6-.4-4.1-5.4-1.6-3.6-.8-3.6 .1-7 .7 7 1.5 4.3 .9 .6 2.2 3.2 2.8 3.3 2.7 2.3 2.2 1.3 2.7 .9 2.7 .4 4.5-.8 4.1-2.7 3.7-4.3 1.9-4 .4-3.2-.9-3.6-2-2.2 1.2 5.8-.8 4.1-1 1.8-2.1 2.4-4.9 3.2-4.5 1-2.3-.2-2.2-.8-3.8-2.9-3-4.5-1.4-4.1-.5-3.6 .4-3.1 1.4-3.2 2.1-2.7 3-2.3 2.7-1.4 4.2-1.2M232.6 54.7l.3 0 0 .4-.3 1.1 0-1.5M272.7 63.7l0 1.1 0-1.1M273.1 65.9l0 5.9 0-5.9M242.5 69.4l0 .7 0-.7M272.6 72.7l.1 1.4-.1-1.4M228.8 74l4.7 4.7 5.9 3.6 4.5 1.4 8.2 .7-3.7 .5-4.5-.5-5.4-1.8-5.4-3.6-2.7-2.7-1.6-2.3M272.2 74.5l0 1.2 0-1.2M271.7 76.3l.1 .7-.1-.7M271.3 77.6l0 .5 0-.5M259.9 82.6l.6-.4 0 .4-.6 0M259.1 83l.5-.2 .2 .2-2.4 1.5-5 1.7-4.9 .5-5-.5 4.5 .1 4.5-.5 4.5-1.3 3.1-1.5M252.4 83.9l.8 0-.8 0M239.3 85.3l.9 0-.9 0M240.7 85.7l1.5 0-1.5 0M248.1 37.1l.7-.2 .1 .2-.8 0M247 37.6l.9-.4 0 .5-2.7 1.4-.6-.2 2.4-1.3M238.3 39.4l.4 0-.2 .4-5.1 7.7-2.3 6.3-.6 4 0 4.5 1.7 7.5-1.8-4.4-.7-3.5-.1-3.6 .5-4.1 1.1-4 1.9-4 2.7-4 2.5-2.8M243.9 39.4l.7 0-.7 .7-.6-.3 .6-.4M242.7 40.3l.5 0-1.1 1.1-.5 0-.1-.2 1.2-.9M250.6 40.3l2.3 0-.5 .4-3.6 1.2-3.6 1.7-2.7 2-2.4 2.3-3 4.5-2.7 6.5 0-2.1 .9-3 1.4-2.7 2.2-3 5-4.7 3-1.8 3.7-1.3M241 41.6l.5 0-3.9 4 0-.6 3.4-3.4M255.9 43l5.5 .9-7.2-.2-4 .8-3.2 1.1 0-.4 3.4-1.3 5.5-.9M262.3 44.3l.7 0-.7 0M263.8 44.8l.9 0-.9 0M257.5 45.2l2.1 0-2.1 0M265 45.2l1.3 0 2.4 .9 3.6 2.3 4 3.9 2.4 3.7-6.5-6.5-3.1-2.2-4.1-2.1M237.1 45.7l.3 0 0 .4-1.2 1.3-.1-.4 1-1.3M246.2 45.7l.8 0-.8 0M260.2 45.7l1.7 0-1.7 0M261.9 46.1l.9-.1 1.8 .5 4 2.2 3.6 3 3.3 3.9 2.3 4 1.7 4.5 .9 4.1 .4 5.2-1.2-6.1-1.3-4.5-1.8-4.1-1.9-3.1-2.6-3.2-3.4-2.9-3.6-2.2-3.1-1.2M235.8 47.5l.3 .4-1.2 1.8-.2-.4 1.1-1.8M253.5 47.5l3 0 1.4 .4 6.8 3.6 3 2.6 2 2.8-.2 .3-1.8-2.2-4.9-3.8-3.2-1.2-3.1-.5-5 0-4 .9-3.2 1.7-2.6 2.6-1.3 2.2-.7 3.2 .9 6.3 1 2.7 1.8 2.7 1.8 1.5 2.2 .7 1.1 0-.2-.4-3.1-2-1.9-2.5-1.1-2.7-.2-2.7 .3-3.2 1-3.1 1.5-2.3 2.2-1.8 2.3-.9 3.1-.4 4.1 .4 2.7 .9 2.7 1.4 2.2 1.8 1.8 2.5 .9 2.3 .5 3.7-.9 4.9-1.8 3.9-2.3 3.2-2.7 2.4-3.7 1.8-1.7 .5-4.7 0-6-1.8-2.9-1.8 0-.9-3.5-3.1-2.3-3.2-1.4-2.7-.9-3.2 .1-1 1 3.3 1.7 3.3 .9 .3 5.9 6.2 4 2.2 3.2 .9 3.6-.1 3.6-1.2 2.7-2 3.4-3.8 1.4-2.2 .9-2.3 .5-3.1-.2-2.3-.8-2.2-2-2.3-2.7-1.8-.6 0 2.3 3.2 1.6 3.6-.1 4-.9 2.3-2.4 3-2.7 2.1-3.6 1.7-4.4 .4-1.9-.5-2.7-1.3-2.2-1.9-2.3-3-2.2-5.9-.3-3.2 .3-2.8 1.3-3.2 1.8-2.5 2.7-2.3 2.4-1.3 4-1.4 3.7-.4M234.3 50.2l.1-.3 .3 .3-.3 .4-.1-.4M233.9 51.1l.1-.3 .2 .3 0 .4-.6 .5-.1 .8 .4-1.7M233.1 53.3l0 .8 0-.8M232.6 55.1l0 .8 0-.8M232.2 57.4l.3 4.9-.3 1.3 0-6.2M268.5 57.4l.7 .4 1.7 3.9 1 5.1-.6 6.3-2.2 6-3.6 4.9-5.4 4.4-5.6 2.7-3.1 .9-1.9 0 6.1-2.3 4.9-2.7 4.7-4 3.3-4.5 1.9-4.5 .8-5.4-.5-4.5-2.2-6.7M269.8 57.4l.2-.2 0 .7-.2-.5M270 66.8l0 3.2-.5 2.5-2.6 6-4 4.5-4.7 3.2-6.2 2.2-5.4 .6-6.3-.8-5.9-2 1.3 0 6.4 1.6 5.4 .2 5.4-.7 4.9-1.9 4.5-3 3.9-4.3 2.3-4.5 1.5-6.8M232.4 70l.2-.1 0 .7-.2-.6M233.8 79.4l.7 0 .5 .5-.1 .3-1.1-.8M235 80.3l.8 0 3.6 2.1 4 1.4 6.7 .6-3.1 .2-4.6-.7-3.6-1.3-3.8-2.3M257.5 83.9l.9 0-.9 0M256.5 84.4l.9-.3 .1 .3-2.1 .9-1.4 0 2.5-.9M252.3 85.7l1.5-.2 .2 .2-1.7 0M243 86.2l1.5 0-1.5 0M249.5 86.2l2.6 0-2.6 0M247.2 37.6l.7-.3 .1 .3-.8 0M246.3 38l.7-.3 .2 .3-.9 0M245.5 38.5l.6-.3 .2 .3-.8 0M244.7 38.9l.5-.2 .2 .2-.7 0M243.4 39.8l.5-.3 .2 .3-.7 0M242.7 40.3l.5 0-1.1 1.1-.5-.1 1.1-1M252 40.3l.1 .4-6.4 2.6-4.1 2.9-2.4 2.6-1.8 2.7-2.5 5.6 .4-2.8 1.4-2.9 4-5 2.9-2.5 2.7-1.8 3.1-1.4 2.6-.4M236.4 41.6l.3-.3 .2 .3-4.4 7.7-1.8 6.3-.4 4.5 1 7.6-.9-2.6-.7-4.1 .4-6.8 2.4-6.7 3.9-5.9M240.5 42.1l.5 0-3 2.9-.1-.2 2.6-2.7M252.4 43.4l3.6-.3 3.4 .3-5.2 .2-4.9 1 3.1-1.2M248.2 44.8l.9 0-.9 0M237.1 45.7l.3 .4-.7 .8-.2-.3 .6-.9M260.5 45.7l1.1 0-1.1 0M266.2 45.7l1.2 0 3.5 1.8 3.7 3.1 2.4 3.2-5.2-4.7-5.6-3.4M262.1 46.1l1.2 0-1.2 0M263.4 46.6l.3-.2 1.8 .6 3.6 2.1 3.1 2.6 2.9 3.4 2.2 3.6 1.7 4.1 1.3 5.6 0 2.3-1.9-7.9-1.8-4.1-1.9-3.1-4.7-5.1-4.1-2.8-2.5-1.1M235.6 47.9l.2-.3 .2 .3-.2 .3-.2-.3M253.3 47.9l1.8 .1 2.3 1-5 0-5.4 1.3-3.1 1.8-3.5 3.9-.9 2.7 0 3.6 1 4.5 1.4 3.2 1.8 2.2 2 1.4 1.8 .6 2.6-.2-.2-.4-4.2-2-1.9-2.1-1.5-3.6-.1-3.6 .7-3.6 1.9-3.4 3.4-2.4 3.3-.7 2.3 0 3.7 .7 3.1 1.3 3.1 2.3 1.8 2.3 .9 2 .4 1.8 0 4.4-.9 3.4-1.3 2.8-1.8 2.7-2 2.2-4.9 2.7-4.4 .5-.9-.5 3.6-.6 3.6-1.7 3-2.7 2.8-3.6 1.3-2.7 .8-3.6-.3-3.6-1-1.8-2.5-2.4-4.5-2.5-2.7-.9-2.8 0 3.7 .8 3.6 2.4 2.1 2.6 1.3 2.3 .5 3.6-1.2 3.6-3.2 3.7-4.4 2.6-3.7 .7-2.8-.3-2.2-.9-2.1-1.3-1.9-1.9-1.8-2.8-1.3-3.2-.9-5.6 .4-2.8 .9-2.2 3.2-4 4.5-2.7 2.8-.9 3.9-.5M235.3 48.4l.3 .4-.7 .8 .4-1.2M233.9 51.1l.1 .7-.1-.7M264.9 52.4l.7 0 2 1.8-1.2-.4-1.5-1.4M232.6 55.1l0 .7 0-.7M232.2 58.3l0 4.9 0-4.9M269 58.3l.5 .5 1.4 3.1 .9 5.8-.5 5.1-2.2 6.2-3.2 4.5-4.5 4-4.8 2.7-3.9 1.4-1.3 0 5.5-2.4 5-3.1 3.8-3.5 2.9-4.1 2-4.9 .7-5-.5-4.9-1.8-5.4M232.5 65l.1-.3 .3 .3-.3 .6-.1-.6M231.6 68.2l.1 .5-.1-.5M269.5 70l-.4 3.6-2.7 5.4-3.6 4-4.8 3.2-4.5 1.8-5.6 .9-5.8-.4-5.1-1.4 8.7 1 4-.2 5-1.1 3.1-1.3 4.1-2.7 3.7-3.8 2.9-5 1-4M236.1 72.7l.1-.4 1.4 .9 1 .8-.1 .5-2.4-1.8M241.5 78.5l1.5-.3 4.1 1.7-.5 .3-2.4-.3-2.7-1.4M236.5 81.2l.6 0 0 .3-.6-.3M237.2 81.7l.8 0-.8 0M238 82.1l0-.2 2 .7-.2 .3-1.8-.8M240 83l2.7 .5-.2 .4-2.5-.9M242.6 83.9l6.2 .5-4 0-2.2-.5M256.6 84.4l.8 0-.8 0M255.5 84.8l.9 0-.9 0M254.2 85.3l1.1 0-1.1 0M252.5 85.7l1.4 0-1.4 0M250 86.2l2 0-2 0M235.9 86.6l.9 0-.9 0M268.6 49.3l.6 0-.6 0M231.7 50.2l0 .6 0-.6M270.8 51.1l.1-.4 .4 .4 2.2 2.2-.4 .2-2.3-2.4M231.2 51.5l.1 .8-.1-.8M230.8 52.9l0 1.2 0-1.2M251.5 53.3l3.2 .3 2.9 1.1-5.6-.7-1.8 .5-2.2 1.5-1.4 2.3-1.4 4-.1 3.2 1 2 1.9 1.1 3.5 .4 2.2-.4 1-.9 .1-1.8-1-2.3-.9 0-.6 .5 1.3 1.8-.4 .9-.8 .5-4-.6-1.6-1.7 0-2.7 1.9-3.6 1.9-2 1.8-.6 2.7 .3 3.6 2.1 3.3 3.8 .7 3.2-.8 3.8-2.3 3.1-2.9 2.1-3.8 1-3.3-.6 4.6-1.6 2.7-1.4 1.8-1.7 1-1.6 .3-1.8-.3-1.8-2.8-4.4-2-1.4-2 0-1.4 1-1.9 2.6-.1 .9 .5 .9 2 .2-1-1.1 .2-.5 1.7-2 1.3-.4 1.4 .8 1.2 1.6 1.2 3.2-.3 2.2-1.2 1.5-2.7 1.4-5 .6-3.1-1.1-2.3-2.8-.9-3.6 .5-5.1 1.3-2.7 3.2-2.4 4-1.1M230.3 54.7l.1 2.2-.1-2.2M274.2 54.7l.3-.1 .5 .5-.1 .7-.7-1.1M275.2 56l.2-.2 .4 .7-.4 0-.2-.5M229.9 57.4l0 2.9 0-2.9M276.1 57.4l.2 .6-.2-.6M276.6 58.3l.1 .5-.1-.5M277.1 59.2l.1 .5-.1-.5M252.7 87.5l.7 0-.7 0M250.1 88l1.6 0-1.6 0"/>
<path fill="none" stroke="#000" stroke-width="0.26" stroke-opacity="0.4" d="M266.4 35.3l-3.3 .5-1.7 .9 1.4 2.2 3.3 1.8 3.9 .9 4.5 .2 2.6-.6 1.4-1.4-.7-1.8-2.4-1.3-3.3-.9-5.7-.5M217.8 29.5l-1.8 3.5-1.8 6.6-.7 6.1 .2 5.8 1.4 5.9 1.8 4.3 2.7 4 2.7 2.3-2.5-7.9-1.3-6.8-.3-7.2 .6-12.6-.5-3.6-.5-.4M263.7 34.4l-4.1 .9-2.5 1.4 6.1 4.9 2.7 .9 3.2 .6 9-.5 2.9-1 2.8-2.2-.4-.9-1.3-.9-6.1-2.3-6-.9-6.3 0M275.4 70.7l-.5 .2-1.5 5.8-1.8 4.1-4.8 6.7-8.5 7.4-14.7 9.7-1.3 1.4 2 .2 3.8-.7 8.4-2.7 5.1-2.7 4.8-4 3.7-5 3.5-8.2 1.8-7.3 0-4.9M219.8 21.4l-3.4 7-2.7 8.3-1.1 7.6 .2 7.6 1.8 7.1 2.7 5.6 3.2 4.2 6.7 6.3-3.4-6.5-2.2-5.4-1.4-4.5-.9-5.8 0-9.9 2.1-13.7 .1-6.1 .6-3.4M262.3 34l-4.5 1.3-3.1 1.8 3.6 1.6 1.5 1.1 .4 .5-.2 .9 .9 .4 8 2.3 2.4 .4 1.8-.6 5.9-.5 10.1-2.5-4.6-3.1-7.7-2.7-7.7-1.1-6.8 .2M226.8 56.8l0 4.8 0-4.8M227.2 62l-.3 .3 .3 2.1 1.4 4-1.4-6.4M274.9 66l-.7 6.2-1.7 5.9-3.2 5.8-3.8 4.5-4.1 3.4-7.6 5.3-20.9 10.7 3.8 .5 7.2-.9 7.6-1.8 5.5-1.9 4-2 3.6-2.6 3.5-3.5 3.2-4 .1 1.3-1.6 4.1 .7-.5 3.6-6.7 1.3-4.1 0-2.7-1.4 2.3 2.2-11.7-.3-5.9-.5-1.5-.5-.2M218.9 22.1l-3.8 8.9-2.3 8.2-.7 7.4 .7 7.2 2.3 7.1 3.1 5.7 2.7 3.2 8.6 7.8-3.8-5.8-2.7-5.4-2.3-6.8-1-5.8-.3-5.4 .3-5.9 2.7-15.3 .8-8.1M304.6 51.1l-6.8-5.9-8.2-5.4-5.1-2.7-6.6-2.2-7.9-1.3-6.8 0-5.4 1.3-3.3 1.8-.7 .9 3.6 1 2.1 1.7-.5 .9 1.1 .4 11.7 3.2 2.2-.8 5.9-.6 5.8-1.4 4.1 .5 2.7 1.2 4.5 3.1 8.5 7.9M226.8 54.3l-.5 5.3 .5 5 1.3 4.5 2.3 3.7 .5-.6-2.6-7.2-1.5-10.7M221.9 108.3l6.7 .6 7.2-.1 7.6-.9 6.6-1.5 5.6-1.6 4-1.9 9-6.4-.8 2.3-3.1 4.5 .3 0 3.7-4.1 2.7-4 2.7-5.4 1.4-4.1 1.4-8.5-.2-.7-.4 .7-.1-9-1.3-4-.5 .4-.6 9-1.8 5.4-3.5 5.8-5.7 5.8-11.3 7.5-16.2 7.5-5.4 1.6-8.7 .9M239.8 12l-8.1 8.5-3.6 5.5-2.7 5.6-1.8 5.5-1 5.4-.3 6.3 .9 4.5 .6-11.7 1.5-5.8 1.7-4.5 2.7-5.4 3.2-5 8.3-9.4M255.1 18.7l-6.3 3.6-5.7 4.5-4.6 5-2.7 4 0 .7 4.3-5.7 4.2-4.3 5.9-4.5 5.9-3.3-.1-.3-.9 .3M218.2 22.8l-3.6 8.5-2.2 8.5-.5 7.7 1 7.6 2.5 7.2 3.7 5.9 8.4 8.1 5.1 3.8-4.6-5.2-3.2-4.9-3.2-8.1-1.5-6.8-.5-6.3 .4-6.3 3.5-17.5 .7-6.4M304.2 49.5l-6.3-5.2-8.1-4.9-6.7-3.2-6-1.8-7.6-1-7.2 .1-4.9 1.3-4.7 2.8 3.3 .7 1.8 .9 1.1 1.1-.8 .9 14.6 4.2 .9-.2 .9-.9 10.8-1.7 4 .4 3.2 1.6 4.9 3.6 8.1 8M226.8 53l-.7 7.1 .7 5.8 1.2 3.6 1.8 3.2 1.9 2.3 .9 .2-3.7-8.8-2.1-13.4M286.6 61.7l.5 1.4-.5-1.4M287.5 63.1l3.5 9.1 2.1 9 .5 5.9-.5 8.5 .3 .1 0-2.8 .5-.4 0-7.2-.5-6.9-2.3-8.4-3.6-6.9M198.9 64.7l5.8 8.9 8.6 7.6 4.8 3.2 5.4 2.7 5.2 1.8 3.6 .4-10.5-3.8-8.5-5.4-4.8-4.7-7.6-9.5-2-3.1M203.4 86.1l10.4 5.9 13.1 5 4.6 .9 4.7 .1 4.4-.6 4.3-1.3-1.5-.3-3.1 .3-.5 .4-8.5 0-.5-.4-2.7 0-.4-.5-1.8 0-1.8-.8-4.1-.8-9-4.5-9-6.6M301.1 87l-.5-5.1-1.4-6.2-1.8-5.4-2.7-5.7-3.6-5.5-4.3-4.9-4.3-3.6-2.6-1.2-.2 .3 9.3 9.9 2.3 3.6 3.2 6.3 3.2 8.6 1.2 6.3 .6 6.1M292.9 96l-.2 1.9 .2-1.9M292.5 100.1l0-1.4-.3 1.8M260.5 106.9l-1 .9 .6 0 .9-.9 0-.4-.5 .4M223.5 109.4l12.9-.3 12.9-2.1 8.5-2.7 8.1-4.8 .2 .6-.8 1.4-3.4 4 .9 .1 5.9-6.4 2.8-4 2.7-5.4 1.4-4.1 .4-3.6 .4-.4 .4-3.6 .4-.5 .3-4.9-.3-3.1-.5 1.3-.7-5-1.5-3.5-.5-.1 0 .5 .1 8.5-2 7.2-3.8 6.3-5.5 5.6-7.2 5-5 2.8-17.1 7.1-6.3 1.4-8-.2M238.2 12.4l-4.7 5-4 5.4-3.2 5.8-2.3 5.8-1.4 5.9-.6 6.3 .3 5.3 1.3 5.8 .4-14.3 1.2-5.8 2-5.4 2.9-5.9 3.9-5.6 4.5-5.1 5.2-4.6M269.3 13.1l-6.2 1.5-5.9 2.3-6.1 3.1-5.2 3.6-4.7 4.4-3.6 4.2-3.2 5.2-1.3 4.4 7.3-10.5 4.4-4.4 4.5-3.4 5.4-3.1 6.3-2.7 6.3-1.9 6.4-1.1M217.5 23.5l-3.8 9.6-1.8 8.1-.2 8.1 1.5 8.1 2.6 6.3 4.1 5.8 8.9 8.1 6.5 4.3-5.7-5.2-3.9-5.4-3.2-7.2-2.1-8.5-.5-6.8 .4-6.7 4.2-18.8 .7-5.5M256 29.4l-3.9 1.9 1.9-.5 2.8-1.3-.8-.1M206.5 44.2l.5 8 .9 4.1 1.8 4.6 7.2 10.8 3.6 3.7 3.1 2.2 .3-.4-2-2.7-.2-.9-5.1-6.8-1.7-4-1.4-2.3 .1-.9-.6-.4 .1-.9-.5-.5 .1-.9-1.1-1.8 .1-1.3-.6-.5-.5-3.8-.9 2.9-.5-.2-2.7-8M303.7 48.3l-6.1-4.9-7.7-4.5-7.1-3.1-7-1.9-8.1-.8-7.1 .4-4.1 1.4-5 3.1 4.5 .5 2.2 1.3 .2 .5-1.1 .9 5 1.3 0 .5 1.5 .4 1.7 0-.1 .5 1.4-.1 8.1 2.9 6.5 5.7 5.6 6.3 3 5 5.8 14.8 1.1 7.7-.2 8.8M227.2 50.3l-1.5 9.8 .9 6.7 1.2 3.2 2.2 3.6 2.6 2.7 1.8 .8-3.6-6.2-1.8-4.8-.7-5.1-.3-7.2-.3-1.1-.6-.3 .5-.4-.4-1.7M198.9 66.1l6.3 9.3 11.2 8.5 5.9 3.2 4.9 1.9 5 1 4.5-.2-12.6-3.8-5.4-2.8-4.5-3.1-4.4-4.3-5.4-7.6-3.7-4.2-1.8-3M302.3 84.5l-1.3-6.1-1.8-5.8-2.7-6.2-3.1-5.3-4.1-5.1-4.2-4-3.9-2.7-5.4-2.5-1.2-1.6 .8-.7 9.9-1.5 4 .5 3.6 2.1 4.8 3.7 8.3 8.7M204.7 89.1l6.8 3.8 6.5 2.7 6.5 1.8 7.7 1.3 4 .2 3.8-.6 6.9-2.2 3-1.8-10.1 2-8.5-.1-5.4-.7-5.9-1.7-7.6-3.6-7.2-5-3.6-3.5M292.6 100.1l.4-4 .5-.5 0-2.7 .5-.4 0-12.6-.4-.5-.8-6.3-1.9-5.4-2.4-4-3.7-5.1-3.2-3 4.3 6.3 2.2 4 2.4 6.8 1.6 6.7 .7 4.5 .2 5.4-.7 6.8-1 5.3M224 109.9l11.1-.3 12.4-1.9 8.1-2.1 8.1-3.8 .1 .6-1.6 2.2-6.8 5.9 .6 0 6.8-4.9 6-6.4 2.7-4 2.8-5.4 1.3-4.1 .4-3.6 .5-.4 .4-3.6 .4-.5 .3-7.8-.9-5.2-.4 1.3-2.3-5.1-.4-.3-.2 .5 .8 5.4-.1 4-1.7 7.2-3.8 6.8-6.3 6.2-7.2 4.9-4.9 2.7-15.3 5.8-8.1 2-8.5-.4M254.7 110.9l-.7 .5 .7 0 .5-.5-.5 0M276.5 112.3l3.4-5.6 2.7-5.9 1.8-5.4 1.3-6.6 .5-4.9-.1-4.9-.8-4.7-1.8-5.2 1.4 13-.7 9.5-1.4 5.4-2.2 5.8-5.9 10.4M252.4 118.1l7.8-5.4 3.9-3.6 1.2-1.3-.3-.2-7.6 6.2-7.2 4.3M259.4 11l-8.4 4.1-7.1 5-6.8 6.7-3.6 5.1-.4 .7 .4 .1 2.8-4.1 7.1-7.1 3.6-2.7 8.1-4.5 .9 0 1.4-.9 .9 .1 4-1.9 1.6-.1M267.8 12.4l-7.3 2.3-7.7 3.5-6.2 4.1-5.9 5.3-3.6 4.3-2.7 4.3-5.4 12.6-.9 .8-.4-2.2-2.7 10.5-.5-1.1-.3-5.3 .4-7.2 1.4-6.3 2.4-6.3 3.6-6.3 4.1-5.4 5.1-5.1 5.5-4.3M236.7 12.8l-6.8 8.1-5.8 9.9 0-1.3 3.2-12.7M216.8 23.8l-2.8 6.6-1.8 5.8-.9 5.4-.3 5.9-.6 0-.5-11.7 .4-5.1M291.2 26.8l-5.7-1.4-7.4-.9-7 0-6.5 .9-6.3 1.8-6 2.7-4 2.7-4.4 4.1 .4 .2 15.8-6.3 5.8-1.3 5.4-.4 6.8 .4 6.7 1.3 7.2 2.3 6.3 3M233.1 32.7l-2.6 5.3 .4 0 2.3-4.5-.1-.8M204.1 41l1.1 8.5 2.5 10.6 1.4 2.7 6.9 9 6.3 5.8 7.9 4.5 .8 0-10.6-10.3 .1-.8 11.3 9.3 4.9 2.7 3.6 1.1-5-2.6-4.5-3.7-3.8-4.7-2.6-4.9-2.7-8.1-1-5.9-.2-7.6 .9-5.6 .6 11.9 3.9 14.1 2.7 5.2 3.1 4.1 3.2 2.7 2.7 .9 .3-.5-4-4-2.6-4.3-1.6-4.3-.9-4.9 0-5.9 .9-4.9 1.8-5 3.2-5.8 3.3-5 4.1-4.8 4.5-4 4.9-3.3 5.4-2.7 6.3-2.3 6.8-1.5 6.8-.7M228.1 45.8l-.3 1.2 .3 .2 0-1.4M211 47.9l0 3.3 0-3.3M303.7 47.8l-8.1-6.6-4.8-2.7-8.2-3.4-8.6-1.9-9-.6-4.9 .8-4.5 1.4-8.8 5 5.2-1.2 3.6 .3 1.8 1.4-1.8 1 4 .7-.2 .5 9.2 2.8 .9-.2 3.7 1.5 4.1 3.1 4.3 4.5-5.8-4 7.4 8.5 4 6.3 1.3 3.6 3.5 14.9 .1 8.5-1.9 10.5M198.9 67.7l4.5 7.3 2.2 2.5 10.3 6.9 5.9 3.2 4.5 2 3.6 1 13 .1 1.9-.5-6.3-.6-9-2.3-6.3-2.5-6.1-3.6-5.8-4.9-1.4-2.3-2.5-6.5-1.8-3-1.3-1.4-3.2-1.2-2.2-3.8M303.2 82.3l-3.5-11.4-5.4-10-3.6-4.4-4-4.1-4.2-3.1-5.6-3.2-.4-.9 9.2-1.3 4 .9 4 2.7 4.7 4 7.6 9.2M206.1 91.5l7.7 3.7 6.8 2.2 7.1 1.4 9.4 1 3.2-.3 7.2-2.9 10.1-5.5-7 2.5-8.1 2-3.6 .1-9.4-.9-3.6 .3-5.9-1.5-7.6-3.6-7.2-4.9-3.6-3.6M292.7 99.9l.5-3.8 .5-.5-.1-2.7 .5-.4 .2-12 1 7.5-.5 9.4M225.6 110.7l7.9-.4 8.6-1 9.9-1.7 7.4-2.1-2.3 2.7-4.7 3.3-5.8 3-6.1 2.3M278.3 111.4l3.4-6.4 2.7-7 1.8-8 .8-7-.1-4.5-1-4.5-2-5.3-3.6-7.3 2.5 9.5 .9 4.9 .3 7.7-.6 6.3-1.6 6.3-2.6 6.3-3.6 6.3-4.5 5.8M242.2 116.9l.3-.5 5-1.3 7.2-3.6 5.4-3.5 6.5-6.1 5-6.7 2.8-5.4 .9-3.6 .5-.5 .3-3.6 1-2.2-.1-1.8 .5-.5-.1-3.1 .5-.5-.5-8.1-.5-.4-.5-3.2-1.9-4-.4 0 .4 2-1.8-2.6-1-.3 1.7 5.4 .6 4.9-.3 4.5-1.3 5-1.7 3.6-2.4 3.6-6 5.9-7.6 5-5.1 2.6-14.3 4.9-9.9 1.8-4.5-.2-5.1-.9M256.6 117.7l5.4-4.1 4.8-4.5 4.1-4.8 3.6-5.7 2.7-6 1.8-6.5 .4-6.1-.4-3.1-.5-.4-4.2 15.1-2.2 4.9-2.9 4.5-4.1 5-4.6 4.3-5.4 3.9-6.3 3.5M258.9 10.7l-6.4 3-6.3 4.1-5.5 4.6-4.9 5.7-3.2 4.8-2.2 4.7-4.5 16.2-.9 1.4-.5-5.5 .7-6.7 1.5-5.9 2.6-6.3 3.5-5.8 4.3-5.4 5-4.9 5.4-4.1M266.5 12.4l-6.9 2.2-6.3 3-5.8 3.7-5 4.1-4 4.3-3.2 4.5-5.4 12-1.8 2.4 .2-2.9 .5-.5-.1-1.3 .5-.5-.1-1.3 .5-.5 .4-2.2 3.2-6.3 3.2-4.5 7-7.1 5-3.5 6.7-3.6 .9 0 3.6-1.8 4.3-1.1M236.3 12.8l-10 12.2 0-1.5 2-7.2M216.2 24.4l-2.7 6.4-1.6 5.4-1 5.9-.2 5.4-.4-9.9 .4-.5 .3-7.1M290.4 26.1l-7.4-1.6-7.6-.5-7.7 .5-6.3 1.4-6.1 2.2-5.6 3.1-6.3 5.5-3.6 3.7 7.2-4.3 11.3-4.5 4.9-1.5 5.9-.7 6.7 .1 7.7 1.2 7.2 2.2 8 3.7M203.7 41.8l3.6 20.1 9.6 11.2 6.3 5.4 9.9 5.4 2.2 .5-6.3-4.1-4.5-4.3-2.7-3.3 7.8 6.3 4.1 2.7 5.2 2.4 4.5 .8-4.9-1.8-4.5-2.7-4.1-3.7-3.1-4.1-2.8-5.8-2.2-7.2-.9-5.4 0-5.6 3.6 14.6 3.2 7.7 3.1 4.5 2.8 2.7 4 2.7 1.9 0-4.6-4.5-2.3-3.1-2.4-5.5-1.3-5.4-.1-5.8 .9-5 1.8-4.9 2.3-4.5 3.8-5.7 4.5-5.3 4.5-4 5.1-3.5 5.7-2.7 6.7-2.3 6.8-1.3 7.1-.5M303.7 47.7l-8.1-6.6-9-4.9-6.7-2.1-8.2-1.5-6.7 0-8.1 1.6-2.9 1.1-8.4 5-4.3 3.1 7.1-3.7 3.1-.9 2.7-.1 2.6 1.1 .1 .5-2.2 .9 .4 .4 4.5 .5-1 .4 6.9 1.7 4.9 2.1 .5-.2-.7-.4 .2-.2 .9 .4 2.3 1.2 3.6 3.1 0 .4-3.6-2.7-.6 0 4.9 4.5 5.5 6.8 3.1 4.9 1.5 4.1 1.6 9.4 2 6 .4 3-.5 7.7-1.9 8.7M277.2 50.6l.9 .2 1.1 1.2-2-1.4M272.7 55.6l.4 1.3 .1-.9-.5-.4M198.9 68.4l4.5 7.4 2 2.3 20.7 12.6 .5 2.7-.8 .9-3.1 0-2.7-.8-7.6-3.5-7.2-5-3.6-3.5M277.1 78.1l.5 0-.4 2.1-.1-2.1M276.6 80.3l.6 0-.9 3.9 .3-3.9M303.5 81.1l-3.7-11.1-5.5-9.7-7.2-7.9-9.7-6.7 2-.9 5.9-.5 2.2 .2 2.3 1 4.6 3.3 4.3 4.1 4.1 4.8 3.6 5.3M275.8 84.4l.4 0-.4 1.5 0-1.5M275.3 86.2l.5 0-.4 1.3-.1-1.3M249.7 89.8l1.7 0-1.7 0M206.5 92.2l6.3 3 6.8 2.3 5.8 1.3 12.9 1.8-.7 .9-2.3 .9-8.1 1.4-5.8 0-6.5-1.2M292.8 99.8l.5-3.7 .5-.5-.1-2.7 .5-.4 .1-9.2 .4 7.4-.6 7.9M226 111l12-.8 18.9-3-2.3 2.4-4.3 2.7-10.3 4.2M278.8 111.2l3.4-6.6 2.6-7.3 1.8-8.4 .8-8.1-.5-4.5-1.9-5.4-6.5-13 2.8 8 1.7 7.2 .6 7.7-.4 7.2-1.7 7.2-2.7 6.7-4 6.8-4.9 6.3M242.2 116.9l.3-.5 5-1.2 7.2-3.6 8.1-5.8 6.2-6.6 2.7-4 2.8-5.4 .4-2.3 .5 0-.9 2.7-2.5 5.9-2.8 4.5-3.2 4-8.2 7.4-9.7 5.7M257.7 117.7l7.3-6 5.9-6.7 4.5-7.3 3.1-8.3 1.3-7.7-.8-9.8-.5-.3-.9 6.3-.1-3.4 .6-.5-.6-8.1-.5-.4 0-1.8-1-2.7-2.3-4.1-.5 0-.1 .8-1.8-2-.6-.1 2.6 7.2 .6 6.7-1.4 7.2-3.3 6.3-4.2 4.9-5.4 4.2-8.8 4.9-4.2 1.8-2.7 .6-.8-.2 .3-.4 6.3-2.9 11.1-6.6-.7 0-6.8 3.3-9.4 2.6-4.5 .3-4.6-1.2-2.8-2.3-.1-.4 .7-.3 13.1-.6 3.6-.6-7.2-.2-9.9-2-7.3-2.6-5.9-3.2-4.8-3.6-3-3.1-3.6-10.4-1.2-2.2-1.7-1.4-3.6-.9-1.8-3.1M257.2 10.6l-6.1 3.2-5.9 4-4.9 4.3-4.1 4.7-3.1 4.5-2.8 5.4-4 14-.4 1.3-.5 .1-.2-4.6 .9-6.3 1.8-5.9 2.8-5.8 3.5-5.4 4.2-5 5-4.6 5.3-3.9M265.4 11.9l-6.2 2.2-6.3 3-5.9 3.8-4.5 3.7-3.7 4-3.3 4.5-2.5 4.5-2.6 6.2-1.8 2.6 1.6-7 3.1-6.3 3.2-4.5 6.9-6.9 5-3.6 6.7-3.6 .9 0 3.6-1.8 4.4-1.2M235 13.3l-5.1 5.1-.4 .1 0-.7 .7-2.5M289.2 24.9l-9.3-1.4-9 .1-8.1 1.4-8.1 2.9-7 4.3-8.3 7.9-4.5 6-2.3 4.5 0 1.2 1.7-3.4 2.5-3.6 6.2-5.7 6.3-3.4 14.4-5 8.5-.8 9.5 1 9 2.7 8.9 4.4M214.7 25.8l-2.2 5.5-1.5 5.6-.1-2.9 .4-.5-.1-2.2 .8-2.8M210.5 37.6l.4 0-.3 1.7-.1-1.7M203.1 42.9l1.7 10.9 0 3.6-1 1-1.8-.3-1.3-1.5-1-2.3M303.7 47.6l-8.1-6.7-9-4.8-4.9-1.8-5.9-1.3-10.8-.6-7.2 1-5.4 2.4-10.5 6.7-3.4 3.4-2.7 4.1-.9 2.9 1.7-3.2 2.4-3.1 3.1-2.9 3.1-2.2 5.4-2.3 3.6-.1 1.7 .7 .1 .5-6.7 2.3 5.8-.8 2.7 .3-2.3 .4 4.1 .3 4.1 1 7.2 3 3.9 2.9 4 4.1 4.7 6.2 2.7 4.5 1.1 4.6-.2 2.7-.5 .7-.4-.4-8.1-15.3-4.3-5.3-2.7-2.2-.5 0 3.3 3.1 2.5 3.2 3.6 7.2 2.4 10.3 .5 9.9-1.1 8.1-3.1 9-4.5 8.1-5.8 7.2M277.2 64.6l.3 .9-.3 .1 0-1M277.6 66.8l0 2 0-2M198.9 69.7l5.8 10.1 5.4 1.9 10.7 6.7 1.2 1.4 1 2.7-.7 .9-2.3-.3-7.6-3.3-7.2-4.9-3.6-3.6M304.1 79.6l-3.8-10.5-5.2-9-6.5-7.2-8.8-6.3-.5-.9 2.4-.6 4.2 .1 2.4 .9 2.6 1.8 4.3 3.7 4.1 4.4 3.8 5 3.3 5.5M207.4 93.6l5.9 2.6 5.8 1.9 15.3 2.9-.1 .5-2.6 .8-6.7 .6-5.4-.4-6.3-1.4M279.7 110.7l2.6-5.2 2.3-5.8 3.8-16.3 .9 .3 1.4 1.7 .6 3.9-1.1 7.9-1.9 7.2M227.1 111.7l23.7-1.7-.4 .9-3.1 1.8-9.2 3.3M242.3 117l.2-.4 5-1.3 9.4-5 5.9-4.4 4-4 0-.4 2.3-2.3 .9-1.8 .8-.4-4 5.9-5.8 6-6.8 4.9-7.4 3.9M259.2 117.7l7.2-6.3 5.9-7.2 4.4-8.1 2.7-8.6 .8-7.6-1.2-12.2-2.7-8.1-.9-1.6 0 .7-.6 0-.4-1.3-1-.9-.9-1.8-4.3-4.1-.7 0 1.8 1.8-.2 .4-1.2-.4 .1 .5 3.9 6.3 1.7 6.1-.1 6.9-2.1 6.8-2.8 4.6-4 4.4-5.4 4-5.4 2.8-.5-.1 .5-.4 6.7-4.4 3.5-2.8 3.3-3.6 1.5-2.3-.2-.4-1.6 2.2-3.8 3.8-6.7 4.2-4.5 1.7-7.7 2-3.1 .4-2.3-.2-2-1.1-1.3-1.3 .2-.6 11.7-1.1 4.9-1 5.7-2.3 2.9-1.8 .4-.7-6.3 3.3-7.2 1.4-7.6-.3-9.1-2.3-9.2-4.1-7.4-5.4-3.1-3.6-1.2-3.6-.4-2.7 .7-.7 .9 .6 5.6 6.4 4.7 4.2 10.6 5.7 4.3 1.8 5.3 1.4 9 0-6.2-.1-7.2-1.8-5.9-3.2-5-4.4 .1-.4 7.2 5 4.9 2.2 5.4 1.1 5.5-.2-5-.3-5.9-1.8-4-2.3-4.3-3.7-3.4-4.3-2.4-4.7-2.1-6.3-.9-5.5 4.3 11.8 4.2 6.7 3.6 3.6 3.3 2.3 4.2 1.8 2.5 .4-.8-1.3-4.2-2.2-3.1-2.8-3.7-5.4-2.3-5.4-.9-5.4 .4-5.8 1.5-5.9 2.3-4.8 4.9-7.2 4.5-4.9 4.5-4 5.4-3.4 6.3-2.9 7.2-2.1 6.8-1.1 7.5-.3M256.4 10.6l-6.2 3.4-5.4 3.8-5 4.4-4 4.7-3.2 4.8-2.5 5-4.2 14.2-.5-3.4 1.2-7.2 2-5.9 2.7-5.4 3.6-5.3 4-4.7 5-4.5 5.4-3.9M262.3 12l1.8 0-7.6 2.9-6.8 3.7-8.5 6.8-6.1 7.7-4.7 9.9-1.4 2 0-1.1 .4-.5 0-1.3 .4-.5 .5-2.2 3.1-6.3 3.2-4.5 6.8-6.9 8.1-5.4 10.8-4.3M234 13.7l-2.7 2.2 0-1.2M288.7 24.4l-9.7-1.3-9 .2-9 1.9-7.7 3.1-6.7 4.5-9 9.2-4.1 6.3-2.2 6.6-.4 5.6 1.2-6.3 1.5-4 2.4-4.1 3.8-4.3 7.2-4.9 6.8-2.3 .5 .3-10 5.6-4.5 3.8-4.1 5.4-1.7 4.2 0 1.3 3-5.9 4.6-5.1 6.4-3.9 3.1-1 2.2-.2 2.2 .7 .1 .5-5.6 1.8-3.8 1.8 6.7-1.6 9 1.1 6.7 2.3 3.6 2.1 4.4 3.7 3.8 4.5 4 5.8 2.3 5 0 3.2-.5 1-6.2-11.4-3.6-5.4-5.1-4.9-3.6-2.3-1.6-.4 3.4 2.1 3.4 2.8 3 3.6 2.2 3.6 3 8.6 1.2 7.2 .4 5.8-.9 9.5-3 9.4-5 9-6.3 7.7M213.8 26.8l-2.3 6.4-.1-1.9 .5-.5 .3-2.4M254.7 42.1l2.2 0-1.8 .3-.4-.3M202.8 43.6l1.5 9.3 0 3.3-.9 1-1.4-.4-1.2-1.7-1-2.7M258.3 44.3l1.4 0-1.4 0M303.7 47.5l-4.5-4-4.9-3.6-9.9-4.8-6.3-1.8-5.4-.9-12.6 0 2.1-1.1 5.5-1 5.4-.1 5.9 .5 10.6 2.8 10.1 4.9M231.3 62.3l0 1.6 0-1.6M272.2 70.8l0 2 0-2M199.3 71.2l5 10.1 1.3 .8 2.7-.4 2.4 .9 9 5.8 1.8 3.6-.6 .6-1.8-.2-7-3.1-3.7-2.2-6.8-5.8M271.8 73.2l0 1.5 0-1.5M304.3 78.5l-3.5-9.4-5.3-9-6.6-7.4-8.7-6.6 1.9-.7 3.6 .4 2.3 1 3.9 2.9 7.8 8.1 6.3 9.8M207.7 94.1l10.5 4.1 14 2.8-.1 .5-1.7 .5-6.8 .4-5.4-.6-5.6-1.4M280.4 110l4.6-10.8 3.4-13.9 .9 .2 .9 1.3 .5 3.9-1.4 8-2 6.7M227.9 112.1l14.2-1.1 4.3 .4 .1 .4-.5 .5-1.7 .9-7.5 2.3M242.4 117.1l.1-.5 5-1.3 9.4-4.9 5.9-4.5 5.7-5.8-3.9 5-5.4 4.9-6 4.1-7.1 3.6M260.4 117.2l6.9-6.3 5.9-7.6 4.2-8.1 2.3-8.1 .7-7.7-1.4-12.3-2.7-7.9-3.6-5.4-.5 .4 .5-.4-.5-.5-.4 .6-3.6-3.6-.5 .1-2.2-1.8-2.8-.7 4.3 2.7-.6 .5 3.3 4.5 2.1 3.7 1.7 5.7 .1 5.9-1.7 6.7-3.3 5.9-5.2 5.4-6 3.8-.3-.2 6.6-5 3.7-4 3-5.1 1-2.6-.1-.9-1.2 3.2-2.5 4-2.8 3.2-4.3 3.4-4 2.2-4.5 1.7-8.1 2-3.6 .2-2.5-1-1-1.3 .3-.5 11.3-1.2 5.8-1.4 6.3-3.2 3.4-2.7 .8-.9-.1-.4-6.3 4.6-6.3 2.3-7.7 .6-7.8-1.3-9.9-3.6-8.8-5.2-5.4-5.1-1.4-2.9-.5-3 .5-.5 .9 .5 5.4 6 5 4.2 11.8 6 5.3 1.9 5.6 .8 3.2 0 5.3-.9-8.3 .3-4.9-.9-6.3-2.7-4.9-3.4-1.4-1.4 .4 0 5.9 3.8 6.3 2.6 5.4 .8 5.4-.4-5.4-.2-4.5-1.1-5-2.3-4.2-3.2-3.4-3.8-2.7-4.3-2.3-5.8-1-5.4 4.1 10.3 2.2 3.6 3.4 4.1 3.5 2.8 4 2.2 4.8 1.3 3.2 0-5.3-2.2-3.8-2.3-5.4-5.9-2.6-4.9-1.4-5-.3-5.8 1.3-6.8 2.3-5.5 3.6-5.5 5.4-6.2 5.4-4.9 5.9-3.7 6.3-2.8 7.2-2.1 7.2-1 7.7-.2M255.6 10.6l-5.9 3.3-5.4 3.9-4.5 4.1-4.2 4.9-3.3 4.9-2.2 4.5-1.7 5-1.6 6.6-.9 1.8 0-4.4 1.3-6.3 2.2-5.8 2.7-5 3.7-5.1 4-4.5 5-4.3 5.1-3.6M252.4 16l.9 0-2.2 1.2 1.3-1.2M250.2 17.3l.7 0-7 5.1-6.1 6.2-4 5.8-4.3 8.9-.1-1.2 .5-.5 .4-2.2 3.2-6.3 3.1-4.5 6.8-6.8 6.8-4.5M288.2 23.9l-9.2-1.2-9 .3-8.6 1.7-8.1 3.3-6.7 4.5-8.6 8.8-4.5 6.8-2.2 6.3-.5 6.6 .9 5.4-.2-6.3 .4-4.1 1.3-4.5 2.4-4.5 3.3-4.1 4.5-3.7 5-2.8 4.5-1.3 .4 .2-3.1 1.4-6.8 4.3-4.7 4.2-4 6.3-1.2 3.6 0 2.1 3.1-7 4.1-5.1 2.7-2.2 3.9-2.2 3.3-1.2 2.3-.2 1.8 .4 .5 .6-7.7 2.7-3.6 2.2-.5 .8 4.5-2.4 1.4-.4 1.4 .2-.5-.4 .4-.2 2.3 .2-.8-.5 .3-.1 6.8 .5 8.1 2.3 4.4 2.3 4.3 3.6 3.9 4.5 4 5.9 2.2 4.9 .1 2.7-.5 .5-7.9-13.6-2.9-3.5-3.6-3.3-4.1-2.6-4.9-1.9-3.1-.5-6.3 .1 6.7 .3 2.3 .5 5.4 2.2 4 2.9 3.6 3.8 2.7 4.2 2.2 5 1.3 5 1.1 7.2 .3 6.3-.5 5.8-1.2 5.4-2.3 6.2-3.1 6-4 5.8-4.4 5M202.5 44.4l1.3 8-.1 2.7-.8 .8-.9-.4-1.8-3.7M257.8 46.6l1.5 0-1.5 0M303.3 46.2l-9-6.3-9.9-4.9-8.6-2.2-12.6-.7-.8-.4 3.4-.9 4.6-.3 10.1 .8 10.5 3.1 9.1 4.8M272.2 64.5l0 2.2 0-2.2M199.3 72.2l1.8 4.8 .6 2.4-.6 .7M304.6 77.8l-3.7-9.6-5.1-8.6-6-6.6-7.8-6-.6-.9 2.1-.2 2.6 .7 7.7 5.8 6.8 7.9 5.4 9.1M208.6 83l1.1-.1 1.3 .6 6.2 4 1.5 1.6 .9 2.5-3.8-.9-7-4.1-1.7-2.2 1.5-1.4M256.5 83.4l-1.5 .5 1 .1 1.3-.5-.8-.1M208.3 94.9l8.6 3.3 11.9 2.8-.2 .5-1.8 .3-5 0-4.8-.8-5.1-1.4M280.7 110l4.3-9.9 3.4-13.1 .7 .1 .7 1.3 .1 4.1-1.4 6.7-2.2 6.8M228.9 112.6l9.1-.6 2.6 .3 0 .4-1.7 .9-4.6 1.2M242.4 117.1l.1-.4 5-1.4 7.2-3.5 5.4-3.6 2.2-2.3 2.7-1.7-3.6 3.6-5.1 4-5.2 3.2-5.8 2.7M260.9 117.2l7.1-6.7 5.8-7.7 4-8.1 2.3-8.5 .4-7.7-.9-9-1-4.5-3.2-7.6-4.3-5.4-3.3-2.7-3.3-1.8-1.7 .2 0-.5 .4 .2 .2-.4-2 .3-.4-.7-1.4 .4 5 2.3 4.7 5.8 2.9 5.6 1.4 7-.7 6.8-2.5 6-4 5.5-5.4 4.4-.3-.2 5.7-5.4 3.7-5.4 2.2-6.3 .4-5-1.2 5.9-1.8 4.5-2.5 4.1-4 4-4 2.8-5 2.3-5.8 1.8-6.8 1.1-2.9-.8-.5-.9 .3-.6 10.8-1.5 7.2-2.2 6.3-4 2.9-2.9 1.4-2.3-6.1 5.6-5.9 3-7.2 1.5-8.5-.5-9.8-3.3-9.6-5.2-6.9-6-1.5-2.7-.5-2.3 .4-.4 .9 .5 5.4 5.8 5.4 4.3 13 6.1 5.4 1.4 5.9 .5 4.6-.6 5-1.8-6.9 1.5-5.4 0-7.2-1.8-5.9-3.2-.4-.9 6.3 3.2 6.3 1.6 4.9 .1 4.7-1-5.6 .3-4.5-.5-4.4-1.6-4.7-2.7-3.9-3.6-3.2-4.1-2.7-5.7-1-4.6 2.6 6.3 2.4 4.1 2.8 3.5 3.1 2.9 3.6 2.3 4.5 1.7 5.9 .8 4-.4-3.9-.5-.2-.4-2.6-.4-3.7-1.4 .2-.5-1 0 .2-.4-5.6-4-3.6-4.8-2.3-5.6-.8-5.9 .4-5.2 2.2-7.1 3.6-6.1 5.4-6.3 5.9-5.5 5.8-3.9 6.8-3 7.2-2.1 7.6-1.1 8.3 0M254.8 10.6l-6 3.5-4.9 3.6-4.5 4.2-3.8 4.4-5.4 9-1.8 5-2.1 7.8 0-3.8 1.4-6 2.2-5.6 2.7-4.9 3.6-4.9 4.4-4.7 4.7-4 5.3-3.6M287.7 23.3l-8.7-1-9 .3-8.6 1.8-8.5 3.5-6.8 4.6-8.1 8.7-4.5 6.7-2.3 6.3-.5 3.6 .1 4.5 1.8 6.6-.8-5.7 0-5.8 1-4.5 1.8-4.1 3.2-4.5 3.8-3.6 5.9-3.7 4.5-1.5 0 .4-3.6 1.7-5.9 3.8-5 5.2-2.3 3.6-1.4 3.1-.7 3.2 0 3.7 2.2-7.3 2.3-4 2.2-2.7 5.9-4.6 4.2-1.8 2.5-.4 2.3 .9-8.1 3-3.5 2.4-2.3 2.2 .4 .2 3.6-2.6 .5 .2 .8-1.1 .9 .3 0-.7 1.3 .1-.4-.6 1.6 .2-.2-.5 .4 .3 4.5-.9 3.6 0 6.9 1.5 5.3 2.2 4.9 3.7 4.1 4.5 4.5 6.7 1.8 4.3 0 2.3-6.1-10.2-4.2-5.4-4.1-3.6-5.9-3.3-4.5-1.2-4.9-.2-5 .7-4.2 1.8 .2 .3 6.3-2.1 4.5-.2 5.8 1 4.1 1.9 4.4 3.1 3.6 4.1 2.7 4.5 2.2 5.8 1.5 8.6 .5 5.8-.3 6.3-1.1 6.1-2.3 6.6-3.1 6.1-4.1 6-5.2 5.8M202.2 45.1l1 6.4 0 2.3-.3 .5-.9-.3-1.5-3.6M302.8 45l-8.5-5.7-9-4.1-9.5-2.5-10.7-1 .5-.4 2.6-.4 4.5-.1 10.2 1.4 9.2 3.1 8.5 4.7M254.2 46.1l2.3 0-2.3 0M238.9 51.8l-.9 .6 .4 .5-.4 .4-.4-.4-.2 .4 .6 .7 .9-2.2M237.1 53.6l-1.3 3.2 0 1.2 .4-.3 1.2-3.5-.3-.6M305 76.4l-3.8-9.1-5-8.1-6-6.6-6.9-5.6 .2-.3 1.3 .2 2.6 1.5 7.8 6.8 5.8 7.4 4.9 8.9M261.9 81.7l-.9 1.3 1.5-1.3-.6 0M210.2 85.7l.8-.1 1.3 .6 3.8 3.1-1.8-.4-2.4-1.4-1.7-1.8M208.7 95.6l6.4 2.5 8.4 2.5 .1 .4-.4 .1-4.1-.3-8.1-2M281.4 109.6l3.7-8.6 3.3-12.1 .5 .3 .3 1.5-.5 4.5-1.6 6.3-2 5.6M242.5 117.2l0-.5 5-1.3 7.2-3.6 4.9-3.6 .8 0-7.6 5.4-7.9 3.8M261.5 117.2l7.4-7.2 5.5-7.6 4-8.6 2.1-8.5 .2-7.2-1.1-9-1-4.5-3.1-7.2-4.3-5.4-4.7-3.6-4.2-1.9-4.5-.9-6.4 .5 8.7 1.3 2.4 1 2.2 1.8 3.9 4.3 2.7 4.4 1.8 5.4 .4 3.9-.3 4.5-1 3.6-1.8 4.1-3.1 4.5-2.7 2.7-.5 .3 0-.4 4.2-4.9 3.2-6.3 1.3-6.3-.6-6.1-.6 9.2-.9 3.2-2.3 4.5-2.9 3.6-3.2 2.8-4 2.6-5.4 2.3-10.4 2.2-2.6-.5-.1-1.1 11.7-2.2 7.7-3.2 3.1-2.2 3.2-3 2.7-4.1 .4-1.8-1.6 2.8-2.6 3.1-6.3 4.5-6.6 2.3-4 .5-4.5-.1-5-.9-4.1-1.3-11.7-5.9-4.4-3.1-3.6-3.2-1.8-2.4-.5-2.1 .9 .3 5.4 5.6 5 3.7 9.4 4.5 6.3 2.3 5.4 .9 5.4-.1 5.4-1.3 4.6-2.4 1.3-.9-.5 0-6.3 3-7.2 .9-6.7-1.1-5.4-2.2-1.7-1 .3-.2 5 2.2 5.4 1.2 7.6-.3 5-1.5 3.4-1.9 3.5-3.1 .7-1.8-4 4.1-3.2 1.8-4 1.4-5.9 .5-5.4-1-5.8-2.8-5-4-4-5.7-2.4-6 3.1 5.8 2.6 3.6 4.3 4.3 3.6 2.3 4.5 1.7 5.4 .8 4.5-.4 4.3-1.5-4.7 .6-6.4-1-.1-.5-6.6-3-4.9-4.6-3.2-5.5-1.4-5.8 .1-7.3 1.8-6.3 3.6-6.5 5.8-6.8 5.9-5.5 6.1-4 7-3.2 6.7-1.8 8.1-1.1 8.3 0M250.1 40.7l1.5 0-5.6 1.8 4.1-1.8M252.8 43.4l5.6 0-5.6 0M234.3 44.8l.1-.3 .2 .3-.1 .4-2.9 6.3-.9 3.6-.5 4.5 .2 5-.7-5.4 .5-5 1.5-4.8 2.6-4.6M267.2 46.1l1 0 1.8 .9 3.9 3.2-6.7-4.1M264.5 47l1 0 3.6 2.1 5 4.7 4 6.8 1.4 4-.1 1.6-2.1-6.1-3.6-5.9-3.7-3.7-5.5-3.5M250.5 52.4l4 0 3 .9 3 2 2.1 2.5-6.1-2.8-2.3-.5-3.6 .2-2.3 1.8 .1 .4 3.1-1.1 1.8-.1 4.1 1.4 4 3.9 1.5 3.6-.5 4-2.2 3.6-4.2 3.2-4 1.2-2.7-.3-2.7-1-2.4-1.7-1.5-1.8 2.1 1.7 2.2 .9 2.7-.1 3.7-1.2-5-.6-2.3-.9-2.5-2.5-1.3-3.6 .1-4.5 1.5-4.3 2.2-2.5 4.4-1.8M232.2 59.2l0 3.4 0-3.4M269 78.1l.1 .7-1.8 2.9-3.2 3.6-5 3.6-2.9 1.3-1 0 4-2.1 4.5-3.3 3.3-3.6 2-3.1M265.4 79.4l.4 0-1.2 1.6-3.2 2.9-6.9 3.6-6.6 1.2-7.3-.7 6.9 .2 7.2-1.3 6.3-3.3 4.4-4.2"/>
<path d="M229.6 69.8 227.9 65.5 227.1 61.1 226.8 57 227.1 53.3 227.6 50 228.2 47.1 228.8 44.6 229.3 42.4 230.1 40.2 230.9 38.1 231.9 36 232.9 34 234.1 32.1 235.5 30.2 236.9 28.4 238.4 26.6 239.9 25 241.6 23.4 243.3 21.9 245.1 20.5 247 19.2 248.9 17.9 250.9 16.8 252.9 15.7 255 14.7 257.1 13.8 259.2 13 261.4 12.2 263.6 11.6" fill="none" stroke="#fff" stroke-width="1.8" stroke-linecap="round"/>
<path d="M236.2 47.5 239.2 43.8 242.5 40.9 245.9 38.7 249.3 37 252.4 35.8 255.2 34.9 257.7 34.1 259.9 33.5 262.1 33.1 264.4 32.7 266.6 32.5 268.9 32.5 271.2 32.5 273.5 32.7 275.8 33 278 33.4 280.2 34 282.4 34.6 284.6 35.4 286.7 36.2 288.8 37.2 290.9 38.2 292.8 39.4 294.8 40.6 296.7 41.9 298.5 43.2 300.3 44.7 302 46.2 303.7 47.8" fill="none" stroke="#fff" stroke-width="1.8" stroke-linecap="round"/>
<path d="M258.9 42 263.6 42.8 267.7 44.2 271.4 46 274.5 48.1 277.1 50.2 279.3 52.2 281.2 53.9 282.8 55.5 284.3 57.2 285.8 59 287.1 60.9 288.3 62.8 289.4 64.8 290.3 66.9 291.2 69 292 71.2 292.6 73.4 293.2 75.6 293.6 77.9 293.9 80.1 294.1 82.4 294.2 84.7 294.3 87 294.2 89.3 294 91.6 293.7 93.8 293.4 96.1 292.9 98.3 292.4 100.6" fill="none" stroke="#fff" stroke-width="1.8" stroke-linecap="round"/>
<path d="M275 59 276.7 63.3 277.5 67.7 277.8 71.8 277.5 75.5 277 78.8 276.4 81.7 275.8 84.2 275.3 86.4 274.5 88.6 273.7 90.7 272.7 92.8 271.7 94.8 270.5 96.7 269.1 98.6 267.7 100.4 266.2 102.2 264.7 103.8 263 105.4 261.3 106.9 259.5 108.3 257.6 109.6 255.7 110.9 253.7 112 251.7 113.1 249.6 114.1 247.5 115 245.4 115.8 243.2 116.6 241 117.2" fill="none" stroke="#fff" stroke-width="1.8" stroke-linecap="round"/>
<path d="M268.4 81.3 265.4 85 262.1 87.9 258.7 90.1 255.3 91.8 252.2 93 249.4 93.9 246.9 94.7 244.7 95.3 242.5 95.7 240.2 96.1 238 96.3 235.7 96.3 233.4 96.3 231.1 96.1 228.8 95.8 226.6 95.4 224.4 94.8 222.2 94.2 220 93.4 217.9 92.6 215.8 91.6 213.7 90.6 211.8 89.4 209.8 88.2 207.9 86.9 206.1 85.6 204.3 84.1 202.6 82.6 200.9 81" fill="none" stroke="#fff" stroke-width="1.8" stroke-linecap="round"/>
<path d="M245.7 86.8 241 86 236.9 84.6 233.2 82.8 230.1 80.7 227.5 78.6 225.3 76.6 223.4 74.9 221.8 73.3 220.3 71.6 218.8 69.8 217.5 67.9 216.3 66 215.2 64 214.3 61.9 213.4 59.8 212.6 57.6 212 55.4 211.4 53.2 211 50.9 210.7 48.7 210.5 46.4 210.4 44.1 210.3 41.8 210.4 39.5 210.6 37.2 210.9 35 211.2 32.7 211.7 30.5 212.2 28.2" fill="none" stroke="#fff" stroke-width="1.8" stroke-linecap="round"/>
</g>
<circle cx="252.3" cy="64.4" r="9.3" fill="#06120e"/>
<circle cx="252.3" cy="64.4" r="7.2" fill="#18f0d2"/>
<circle cx="252.3" cy="64.4" r="3.9" fill="#fff"/>
<clipPath id="clip3"><circle cx="364.8" cy="61.4" r="51.3"/></clipPath>
<g clip-path="url(#clip3)">
<circle cx="364.8" cy="61.4" r="51.3" fill="#34f2f4"/>
<path fill="#030b45" d="M391.5 37.4l1.8 0 .7 .9-.7 .4-1.2-.1-.9-.6zM328.6 58.5l.9 .3 .9 .9 7.5 10.5 3.4 4.1 3.1 2.9 5.8 4.1-3.1-1.2-3.9-2.2-5.6-4.1-3.1-2.8-2.7-3.4-2.3-3.9-1.2-3.8z"/>
<path fill="#0014c8" d="M367.3 36l2.3 .4 .8 1-.3 .4-1.4 .4-2.3-.2-.4-1.1zM390.8 36.9l2.8 0 .9 .5 .5 .9-1.1 .9-2.3-.2-1.4-1.2zM391.6 37.3l-.5 .5 1 .8 1.2 .1 .7-.4-.7-.9zM325.4 50.9l2.3 1 .9 1.1 4.8 9.1 3.1 5 3.1 4.5 3.4 3.8 4.1 3.2 3.1 1.8 4.5 1.8 5 1.1-4.5 0-3.9-.9-3.6-1.4-6.4-3.6-6.5-4.9-3.9-4.6-3.2-5.7-2.2-6.9-.5-3.1zM328.6 58.5l-.3 1.4 1.2 3.8 2.3 3.9 2.7 3.4 3.1 2.8 5.6 4.1 3.9 2.2 3.1 1.2-5.8-4.1-3.5-3.4-4-4.9-6.5-9.2-.9-.9zM387.3 81l.3-.3 .5 .3-.1 1.6-.4 0-.4-.7z"/>
<path fill="#0c50ea" d="M366.1 36l1.7-.4 1.3 .2 1.5 .7 .6 .9-.2 .4-1.4 .6-3.6 0-.6-1 .1-.9zM367.3 36l-1.3 .9 .4 1.1 2.3 .2 1.4-.4 .3-.4-.8-1zM390.7 36.5l1.8-.1 1.8 .4 1.3 1 0 .9-1.9 .9-2.8-.4-1.4-1.4 .3-.9zM391.2 36.8l-.9 .6-.1 .4 .7 .9 2.1 .6 1.8-.6 .1-.9-.6-.5-1.3-.5zM323.6 43.2l.1-.3 .4 .5 1.4 2.5 2.2 1.9 7.2 15.7 3.9 6.3 4 4.9 4.7 3.9 4.1 2.2 4.5 1.5 7.3 1-2.8 .5-4.2-.1-7.3-1.8-7.9-4-4.1-2.7-3.2-2.7-4.8-6.2-3.2-6.8-1.3-4.6-.9-4.9zM325.5 50.9l-.5 .9 .5 3.5 2.2 6.9 3.2 5.7 3.9 4.6 6.5 4.9 6.4 3.6 3.6 1.4 3.9 .9 4.5 0-5-1.1-4.5-1.8-3.1-1.8-4.1-3.2-3.4-3.8-3.1-4.5-3.1-5-4.8-9.1-.9-1.1zM387.1 79.7l.9-.2 1 1.5-.1 1.8-.9 1-.9-.2-.6-1.2 .1-1.8zM387.6 80.7l-.5 .8 .5 1.1 .4 0 .3-.7-.3-1.1z"/>
<path fill="#2094f4" d="M337.6 19.8l.1 .5-2.9 7.2-1.3 4.9-.9 5.4-.3 5 .3 4.9 .7 4.5 1.4 5.4 2.5 7 0 1.6 2.2 4 2.9 3.6 3.4 3.3 3.6 2.3 4.1 1.9 3.6 .9 5.4 .4 5.4-.7-.5 .5-4.3 1.3-5.6 .3-4.7-.7-6.1-2.1-8.1-4.5-4-3-4.3-4.8-3.2-5.4-2.6-7.2-1.6-8.4-.4-8.7 .6-8.7 2.3-3.2-.8 6.9 .5 5.9 .5 1.4 1.8 2 2.2 4.2 .5 .2 .9-9.2 1.3-6.3 2.7-7.6zM323.7 42.9l-.3 2.6 .3 4.4 .9 5 1.3 4.5 3.2 6.9 4.5 5.9 5.5 4.3 5.2 3.2 4.8 2.2 7.3 1.8 4.2 .1 2.8-.5-7.3-1-4.5-1.5-4.1-2.2-4.7-3.9-3.1-3.6-2.7-4-3.9-7.1-4.9-11.4-.9-1.3-1.8-1.4zM352 22.1l.3 0-.3 .3zM351.5 22.5l.4 0-.3 .5-.9 1-.3-.1zM350 24.3l.2-.3 .2 .3-.6 .9-.2-.4zM349.3 25.2l.5 0-2.9 4.1-1.9 3.6-2.4 6-.3-.2 .3-1.4 1.8-4.4 2.2-4zM378 28.8l4.6-.1 2.6 .6-17.4 3.1 1-.9 3.1-1.3zM366.2 35.6l1.6-.3 1.8 .3 2 1.3 .3 .9-3.2 1-3.6-.4-.1-1.9zM366.4 35.9l-1 1 .4 1.4 3.8 .1 1.4-.6 .2-.4-1.6-1.5-1.8-.3zM391 36l2 .1 1.8 .5 1.3 1.1 .2 1-1 .9-1.4 .4-3.6-.7-1.3-1-.2-.9 .8-.9zM390.7 36.5l-.9 .4-.3 .9 1.4 1.4 2.8 .4 1.9-.9 0-.9-1.3-1-1.8-.4zM408.6 36l.1-.3 1.4 .2 .9 1 1.3 3.2zM393.7 48.6l.6 0 1.9 1.4 4.4 4.5 3.6 4.9 2.7 4.9 2.3 5.5 1.8 6.5 .9 5.6 0 1.8-.7 1.2-.5-5.2-1.3-6.3-1.4-4.5-2.1-5-1.9-3.6-3.1-4.5-3.2-3.6zM314.2 73.8l5.4 4.9 4.1 3 4.5 2.7 4.9 2.3 5.4 1.8 4.1 .9 9.7 .6-3.4 .6-6.8-.6-5.7-1.3-4.9-1.8-5.3-2.7-4.8-3.2-6.3-5.4-.9-.9zM391.6 74.7l.5 .7 0 3.8-.4 .5 0 2.7-.4 .4 0 1.8-.5 .5 0 1.3-.9 1.8 0 .9-.9 1.4 0 .9-2.2 4.5-2.8 3.6-.9 1.8-1.4 1.4-.4-.1 4.3-6.3 3.1-6.7 1.4-4.5zM386.8 79.2l.8-.3 .9 .3 1 1.8 .1 1.8-.5 .9-1.1 .8-1.3-.7-.6-1.4-.1-1.8zM387.1 79.6l-.5 1-.1 1.8 .6 1.2 .9 .2 .9-1 .1-1.8-.7-1.3zM382.1 86l.1 .9-.9 2.1-3.6 5.2-4.1 4.4-5.8 4.5-7.3 4-7.5 2.7-4.4 1.1-1.1-.2-1.3-.9-.9 0 5.8-1.1 5.9-1.8 4.9-2.2 5-2.7 4.5-3.3 3.6-3.4zM381 103.1l.3-.4 0 .4zM380.6 103.5l.2-.3 .1 .8-1.9 1.8-.4 0zM378.2 106.2l.4-.4 0 .4zM377.8 106.7l.3-.4 .1 .4zM377.3 107.1l.4-.3 0 .3zM376.9 107.6l.3-.4 0 .4zM376.4 108l.4-.3 0 .4z"/>
<path fill="#36cdf6" d="M358.2 10l.6-.5 1.4 0-.5 .5-1.8 .9-3.6 3.2-.5-.1-5.4 5.4-.3 0 4.6-5zM365 10l.8-.5 5.1 0 .5 .5 2.7 0 .4 .3-6.7 2.8-6.3 3.6-5.4 4.1-5 5.1-3.7 5.2-3 5.9-2.9 8.5-1.2 5.5 .1-6.9 .8-4.9 1.8-5.6 2.7-5.3 3.6-5.1 4.5-5 5-4.2zM349.3 25.1l-2.7 3.8-2.2 4-1.8 4.4-.3 1.4 .3 .2 2.4-6 1.9-3.6 2.9-4.1zM350.2 24l-.6 .8 .2 .4 .6-.9zM351.6 22.5l-1.2 1.4 .3 .1 .9-1 .3-.5zM344.4 13.5l.9-.4-4.2 5.8-3.6 6.8-1.9 4.9-1.4 5.4-.8 5.9 0 5.4 .8 5.8 1.6 5.9 2.7 7.2 2.6 4.5 2.5 3.1-.2 .5 .5-.1-.2 .5 2.9 2.7 3.6 2.3 6.4 2.2 5.8 .5 5.8-1.1 5.4-2.6-3.7 2.8-4.2 1.8-6.5 1-6.7-.8-6.3-2.2-7.7-4-4.5-3.4-4.1-4.6-3.3-5.4-2.3-5.8-1.7-7.2-.9-8.6 .3-10.9 1-.9-.6 11.8 .4 5.6 1 6.1 1.4 5 1.8 4.5 2.3 4 2.7 3.6 3.2 3.2 3.3 2.4 7.2 4.1 5.4 2.1 4.5 1 4.5 .1 4.8-.7 3.2-1.4-4.8 .7-4.5-.1-4.1-.8-4.5-1.8-3.3-2-3.7-3.2-3.3-3.8-2.3-3.7-.4-1 0-1.6-2.5-7-1.3-4.9-.8-5-.3-4.5 .3-4.9 .9-5.9 1.3-4.9 2.9-7.2-.1-.7-2.7 5.2-2.7 7.6-1.3 6.3-.9 9.2-.5-.2-1.8-3.5-1.8-2-.8-1.7-.6-5.8 .8-7.4 1.3-1.4-1 6.5 .3 4.7 2.3 4.1 .9 .7 3.6-14.2 1.8-4.7 2.7-5.6 .4-.7zM385.3 17.1l7.2 0 7.9 6.1-7.4-1.3-6.8-.2-6.7 .6-6.3 1.4-5 1.8-4.5 2.2-12.6 9.2 0-.6 1.4-2.4 3-3.7 4.6-4.1 4.2-2.7 4.5-2.2 4.8-1.8 5.3-1.4zM347.7 19.8l.3-.3 0 .3zM347.3 20.3l.2-.3 .1 .7-1.3 .9zM345.7 22.5l.1 .5-.5 0zM344.7 23.9l.2 .4-.5 0zM343.9 25.2l.1 .5-.4 0zM342.6 27.5l0 .4-.3 0zM380.8 27.5l6.8-.1 7 1 6.7 1.8 7.1 2.8 1.7 2.6 0 .3-1.4-.2-.1 .3 3.7 4.1 .9 1.8 0 .9 .9 1.5-4-3.5-2.3-1.2-2.6-3.1-2.8-2.3-4-1.8-5.4-1.3-5.9-.2-13 1.4-9.9 2.3-6.3 2.5-.2-.2 2.7-1.8 9.2-5.1 5.4-1.6zM378.1 28.8l-6.2 1.4-3.1 1.3-1 .9 17.4-3.1-2.6-.6zM366.7 35.1l3.3 .4 3.2 2.3-3.5 1.4-2.8 0-2.3-.5-.3-.4 .3-2 .9-.8zM366.4 35.5l-1.4 1 .1 1.9 3.6 .4 3.2-1-.3-.9-1.6-1.1-1.8-.4zM389.4 36l2.7-.4 2.7 .6 1.8 1.2 .4 1.3-.6 .9-1.6 .7-2.3 .1-1.8-.4-1.8-1-.7-1.2 .1-.9zM391.2 36l-1.6 .5-.8 .9 .2 .9 1.3 1 3.6 .7 1.4-.4 1-.9-.2-1-1.3-1.1zM384.3 39.6l.1-.3 2.7 1.8 2.7 1.1 4.8 .6-1.6 .4-4.2-.9-3-1.3zM316.5 41.4l.3-.2 1.6 8.8 2.2 6.7 2.7 5.9 .9 .9 .5 1.3 1.8 2.7 3.9 4.4 5 4.4 11.7 6.5 2.2 .5 .1 .4-1.2 0-7.3-1.8-5.8-2.7-6.7-4.9-5.6-5.9-5-7.5-4-9.4 0-1.5 .4-.5 .5-3.1 .9-1.8 0-.9 .9-1.4zM387 44.6l.6-.2 3 1.1 3.3 2 .3-.2-1.2-1.2-.5 .1-.4-.9 4.9-.1 2.7 .6 4.2 3.3 4.4 4.5 3.6 4.7 3.1 5.1 1.6 3.1-.2 3.3-.5 .4-.4 3.6-.5 .5 0 1.3-.4 .5-1.4 4.9-.2 .3-2.5-10.4-.1 1.6 .5 .4 0 1.4 .5 .4-.1 2.3 .5 .4-.1 2.7 .5 .5-.3 2.7-.5-4.6-1.3-6.1-1.8-5.2-2.3-4.9-2.7-4.4-3.1-4.1-4-4-1.9-1.4-.6 0 4.4 4.1 3.1 3.6 3.3 4.9 2.7 5.4 2.2 6.8 1.4 6.7 .4 4.8-1.1 2.5-.4-6.8-1.2-6.8-1.8-5.8-2.7-5.9-3.1-4.9-3.8-4.5-4.1-3.8zM394.3 47.7l.9 .7 .3-.2-.7-.8zM397 49.3l-.3 .2 .8 .7 .2-.2zM409.2 67.3l0 .8 .3-.1zM409.6 68.4l0 1.1 .4-.2zM410.1 69.6l0 1.2 .4-.1zM390.4 52.2l4.8 5.1 3.6 5.6 2.8 6.9 1.6 8.5 0 9.9-.8 5.5-1.2 5.3-.6 0-4.9 4.5-.3 0 3.2-8.5 1.4-5.9 .6-6.3-.2-6.3-1-5.8-1.8-5.4-2.8-5.9zM390.7 63.5l.6 3.6 .4 .4 .1 4.5 .5 .5 .1 6.7-.5 .5 0 2.7-.5 .4 .1 1.8-.5 .5 0 1.3-.5 .5-.4 2.2-1 1.4 .1 .9-2.3 4.5-1.8 2.2-1.8 3.2-6.5 6.9-.5 0-2.2 2.2-.5 0-2.7 2.3-1.3 .7-1.6 0 5.2-3.8 4.9-4.7 4.1-4.9 3.2-5 2.5-5.4 1.2-4.1-.3-.4-1.2-.1-.9-.6-1.4-2.9-3.6 8.1-3.6 5.3-5.4 5.5-6.7 5-6 3.1-6 2.2-3.1 .9-2.3-.7 5.9-1.5 4.9-1.8 4.7-2.3 5.1-3.1 4.9-4.1 4-4.4 3.2-4.7 .9-2.1 0-1-4.2 5.9-3.9 4.4-4.5 3.9-5.9 3.7-8.1 3.5-8.5 2.2-1.8 .3-1.4-.9-.9 0-1.8-.9 9-1 8.6-2.5 7.5-3.7 6.4-4.7 4.1-4.3 3.6-4.7 3.7-6.1 2.4-4.9 .2-1.2-.1 3.4 1.9 .4 1.3 1.6 .5-.5 .7-8.7zM391.6 74.4l-1.5 10.7-1.4 4.5-3.1 6.7-4.3 6.3 .4 .1 1.4-1.4 .9-1.8 2.8-3.6 2.2-4.5 0-.9 .9-1.4 0-.9 .9-1.8 0-1.3 .5-.5 0-1.8 .4-.4 0-2.7 .4-.5 0-3.8zM376.8 107.7l-.4 .3 .4 .1zM377.2 107.2l-.3 .4 .3 0zM377.7 106.8l-.4 .3 .4 0zM378.1 106.3l-.3 .4 .4 0zM378.6 105.8l-.4 .4 .4 0zM380.8 103.2l-2.2 2.6 .4 0 1.9-1.8zM381.3 102.7l-.3 .4 .3 0zM387.1 79l-1 1.1 0 1.8 .6 1.9 1.3 .7 1.1-.8 .5-2.2-1.1-2.3zM392.9 67.5l1 1.3 .9 2.8 .6 8.1-1.1 8-2.2 7.1-4.1 8-5.6 7.5-2 .9-.9 0-.5 .4-1.3 0-.5 .5-1.3 0-.7 .4 5.1-4.9 4-5 3.1-4.9 2.7-5.9 1.7-5.4 1-5.4zM313.3 69.8l5 5.4 5.2 4.5 5.6 3.6 5.8 2.8 5.4 1.7 5.9 1 5.4 .3 10.8-.4-8.6 2.3-6.3 .4-8.1-.9-7.4-2.3-6.6-3.1-6.2-4.1-3.6-2.9-.9-2 0-.9 4.4 4 4.3 3.2 4.4 2.7 4.8 2.2 5.4 1.8 4.1 .9 6.8 .6 3.4-.6-6.6-.2-5.4-.9-4.9-1.4-6.3-2.6-7.2-4.5-5.9-4.9-2.2-2.6 0-1.8-.5-.4zM372.7 88.2l.5 0-4.9 4.5-6.2 3.6-7.9 2.7-7.6 1.2-9.6-.3-9.3-1.8-5.4-6.3 6.3 3 .9 0 3.2 1.3 1.3 0 .5 .4 1.8 .1 2.7 .8 4 .1 .5 .3 4.9-.1 6.3-1 5-1.5 5.8-2.6z"/>
<path fill="#34f2f4" d="M357.9 10l.9-.5-7.7 6.5-3 3.4 .3 0 5.4-5.4 .5 .1 1.8-1.9 .4 .1 1.4-1.4 2.5-1.4-2.1 1.6-.4 0-1.4 1.3-.4 0-1.8 1.8-.5 0-6.1 6.1 .1 .4-1.9 1.8-1.7 3.2-1 .9-.4 1.3-.9 .9-.9 1.8 0 .9-1.4 2.3-.4 2.2-.5 .5 0 1.3-.5 .5 .1 1.3-.6 .5 .1 2.2-.5 .5-.1 7.2-.2-5.4 .6-5.7 1.8-6.4 2.3-5.1 3.6-6 4.5-5.5 6.3-5.9zM342.6 27.4l-.3 .5 .3 0zM343.9 25.1l-.3 .6 .4 0zM344.8 23.7l-.4 .6 .5 0zM345.7 22.4l-.4 .6 .5 0zM347.5 20l-1.2 1.6 1.3-.9zM348 19.5l-.3 .3 .3 0zM363.2 10l.7-.5 1.9 0-7 4.5-5.2 4.5-5.2 5.8-3.6 5.6-2.2 4.8-1.7 5.8-.7 7.2 .1 3.3 2.2-8.7 2.8-7.3 3.1-5.6 4.5-5.6 6.8-5.9 7.6-4.6 7.2-3 1.8 .1 .5 .4 1.3 0 .4 .4-8.9 3-8.1 4.4-6.8 5.4-5.7 6.6-4.6 8.6-3.3 9.9-.6 7.6 .6 5 .9 3.1-.3 .2-1.8-6.7-.4-6.1 .5-10.3 1.9-7.2 3.3-6.8 4.8-6.7 6.1-6.1zM346.6 12.6l.8-.4-4.5 5.8-3.7 6.3-2.3 5.4-1.6 5.4-1 5.9-.1 5.4 .6 5.8 1.3 5.9 2.6 7.6 3.4 5.9 5 5 3.6 2.3 2.9 1.2-.9 .5 2.2 0-1 .4 6.2 1.2 3.6-.1 2.8-.6 3.7-1.4 3-1.7 4.5-4.4 0 .7-.9 1.4-2.5 2.7-3.8 2.7-3.2 1.5-6.3 1.4-8.1-.4 3.6 .9 8.9-.3-6.2 1-7.3-.5-10.7-2.4-7.2-3.4-6.3-4.6-5.9-6.3-4.9-7.2-3.5-7.6-.1-1.4 .5-.7 2.7 6.7 3.6 6.5 4.5 5.8 4.8 4.7 4.3 3.1 4.9 2.7 3.8 1.4 7 1.3-.1-.4-2.2-.5-9-4.8-4.1-3-.4 0-5.3-5.2-5-7.2-2.7-5.9-2.5-8.1-1.3-7.4 .7-1.6 .1 4.5 .4 .5 .5 4.5 .4 .4 .5 3.2 1.3 3.1 .1 .9 .9 1.4 0 .9 1.8 3.6 .9 .9 .5 1.3 1.9 2.7 2.7 3.2 .9 .4-3-4.5-2.1-4-2.8-8.6-1.1-7.6-.5-6.8 .2-6.8 .9-1.4-.3 6.4 .2 6.3 .7 6.8 1.4 6.3 1.8 4.9 2.3 4.5 2.5 3.6 3.4 3.7 3.6 2.9 7.7 4.1 5.4 2.1 4.5 1 4.9 .2 5.4-.8 4.4-1.9 3.8-2.7-5.5 2.5-4.9 1-5.9-.2-5.2-1.5-4.3-2.3-3.8-3.1-.4-.5 .3-.4-.6 0 .2-.5-3.9-5.4-2.2-4.5-2.5-7.6-1.3-6.8-.3-6.3 .7-6.7 2-7.2 2.7-6.3 5.5-8.6 1-1.3zM386.5 15.8l3.2-.2 2.3 1.4-7.1 .2-8.1 1.3-7 2.2-6.3 3.2-4.5 3.1-3.8 3.5-2.7 3.4-1.4 2.4 0 .6 12.6-9.2 5.4-2.6 5.9-1.9 7.6-1.3 8.1-.1 9.7 1.4 1.4 1.4-9.3-1.7-8.5-.2-7.7 1.1-8.1 2.6-7.2 4-8.6 7-4.8 5.4-3.2 6.2 0-1.4 1.8-4.4 5.4-9.2 3.1-4 4.5-4.1 5.9-3.9 6.8-3.1 7.1-2zM337.2 17.1l-4.1 9.3-1.8 6-1.8 8.5-.4 1-.5-.1-2.3-4-.6-2.2 0-4.5 .9-5.2 1.7-1.6-1 4.5-.1 3.2 .8 4 .6 1.1 .5-.1 4.7-14 2.5-5.4zM380.1 26.6l7.9-.2 8.6 1.2 6.7 2.1 4.4 2.2 .7 1.1-7.1-2.8-6.7-1.8-6.6-.9-6.7 0-6.3 .9-5.4 1.6-11.9 6.9 .6 .1 3.6-1.7 5.4-1.6 8.6-1.7 11.7-1.1 5.4 .2 5.4 1.3 4 1.8 2.8 2.3 2.6 3.1 2.3 1.2 4 3.5 .5 2.5 .9 1.9-6.3-5.6-3.5-.8-1-2.3-2.5 1.9-3.2 1.8 0 .4 2.5 .9 .8 1.4 4.9 4.5 4 4.5 5.6 8.6-.2 2.5-3.4-6.2-4-5.6-4.3-4.7-4.9-4.1-2.5-.7-5.4 .1 .4 .9 .5-.1 1.2 1.2-.3 .2-3.3-2-3-1.1-.6 .2 6 4.3 4.6 4.2 3.7 4.5 3.4 5.9 2.8 6.7 1.8 7.7 .8 9.5-1.1 1.5-.2-7.4-1-6.7-1.8-6.4-2.7-6.1-3.1-5.1-4.3-5-5.8-4.9-5.7-3.7-5.8-2.8-5-1.4-7.6 0-1.4-.5-4.5 1.4-.3-.2 3.5-1.5 .8-.8 .3-2.2-1.1-.2-5.9 2.6-4.9 3.9-3.3 4-1.8 3.2-1.2 3.4-.2-.3 1.1-3.6 2.2-4.1 3.2-3.9 4.2-3.7 9.3-6 2.7-1.4 5.4-1.8zM366.9 35.1l-1.4 .4-.9 .8-.3 2 .3 .4 2.3 .5 2.8 0 3.5-1.4-3.2-2.3zM382.6 32.9l-3.6 .9-1.8-.7-1.8-.1-7.7 1.2 2.8 1.1 2.7 1.8 4.9 .2 2.7 .6 .5-.5 .9-2.7 1.3-1.8zM384.4 39.3l-.1 .3 .9 .9 3.6 1.8 4.2 .9 1.6-.4-3-.2-3.1-.9zM389.4 36l-1.1 .9-.1 .9 .7 1.2 1.8 1 1.8 .4 2.3-.1 1.6-.7 .6-.9-.4-1.3-1.8-1.2-2.7-.6zM371.8 38.7l2.3 .4 .4-.4-.4-.3zM375 39l-.3 .2 .3 .1 1.8 .2 .3-.3zM381.3 40.4l-.4 .1 .4 .2zM380.7 44.1l.8 0-.2 .3zM381.5 44.6l.8 0 4.9 3.6 9.3 9.9 4 7.2 2.6 8.5 .9 6.8-.1 7.2-1.5 9.4-1.2 1.8 1.3-5.4 .9-7.6-.1-6.3-.9-6.4-1.8-6.3-2.7-5.8-3.1-4.5-4.4-4.5 4.7 7.7 2.9 6.3 1.7 5.8 .9 6.8-.3 7.6-1.7 8.6-3.2 8.5-2.1 1.6 3.5-8.3 2.2-9 .5-8.1-.9-7.7-2.7-8.5-4.6-9-4.7-5.9zM394.3 47.7l.5-.3 .7 .8-.3 .2zM396.7 49.5l.3-.2 .7 .7-.2 .2zM384.2 50.9l.4 0-.2 .3zM384.6 51.3l1.3 .9 2 2.7-.1 .5 .5 .4-.1 .5 .6 .4-.1 .5 .6 .4 .1 .8 .4-.3-1.3-2.7 0-.8 3.1 5.8 3.6 10.2 1 8.2-.7 7.6-2.1 7.8-3.6 8-4.7 7.2-2.7 .9 4.3-5.5 3.6-6 2.7-6.4 1.8-6.9 .6-5.4-.2-5.7-.9-4.4-1.3-2.5-.3 .9 .2 10.4-.5 4.9-1.5 5.9-2.6 6.3-3.1 5.4-4.1 5.4-5.9 5.8-1.1 0 5.6-5.4 4.7-5.9 4.1-7.1 1.8-4.5-.5-.1-.5 1 0 .9-2.3 4.5-1.8 2.2-1.8 3.2-6.6 7-.5 0-4 3.6-2.2 1.1 2.2-1.2 1.3-1.4 .5 0 6.9-6.4 0-.5 2.3-2.2 1.8-3.2 1.8-2.2 2.3-4.5-.1-.9 1-1.4 .4-2.2 .5-.5 0-1.3 .5-.5-.1-1.8 .5-.4 0-2.7 .5-.5-.1-6.7-.5-.5-.1-4.5-.4-.4-.6-3.7 .3 7.7-.7 8.7-.5 .5-1.3-1.6-1.9-.4 .1-3.4-.2 1.2-2.4 4.9-4.2 6.7-4 5.2-4.1 3.9-7.6 5.2-9 3.7-6.3 1.5-6.3 .8-1.4 0-2.2-1.3-.3-.3 5.7-.2 5.4-.7 9.4-2.7 8.1-4.1 6.8-5.4 4-4.4 3.6-4.8 2.4-4 1.8-4 1-3.6 .6-4.1-.1-4.9-.8-3.6 .1-.7 .9 3.4 .6 4.9-.2 3.1-1 6.8 .1 .4 2.7 1 .9-8.6-.6-7.2-2.3-6.7zM389.8 58.6l-.2 .8 .7 .5 0 1.2 .4-.3zM390.7 61.3l0 1.1 .3-.3zM391.2 63.1l0 1.5 .3-.2zM391.6 65.4l0 1.9 .3-.2zM390.3 88.1l0 1.5 .4-1.4zM390.7 86.8l0 1.4 .4-1.3zM391.2 85l0 1.6 .3-1.5zM391.6 82.7l0 1.9 .4-1.8zM342 65.3l.1-.3 .1 .3-.1 .7zM312.9 66.2l6.2 7.6 7.3 6.3 7.8 4.5 8.1 2.7 8.8 1.2 6.3-.1 4.5-.4 7.2-2.2 3.6-1.9 4.1-3.3 .1 .4-3.7 3.2-4.7 2.7-4.8 1.9-7.6 2.3-4.1 .8-4.5 .2-9-1-7.2-2.2-6.7-3.3-8.6-5.9-.4-1.6 5.5 4.3 5.9 3.6 6.2 2.7 6.2 1.8 5.9 .8 5.8 0 4.5-.7 6.8-2-10.8 .5-6.3-.4-6.3-1.2-6.3-2.3-7.3-4.2-6.6-5.4-5.5-5.8zM409.2 67.5l.3 .5-.4 0zM409.6 68.4l.4 .9-.4 .2zM410.1 69.8l.4 .9-.4 .1zM410.5 71.1l1.2 3.6 1.3 6.6-.8 1.7-.4-5.6-.5-.4 .1-2.3-.5-.4 0-1.4-.5-.4zM381.6 78.8l.1-.3 .2 .3-.2 .4zM381.3 79.2l.3 0-.8 1.4-3.1 4.1-9.5 8.8-6.7 3.8-8.6 2.8-7.6 1.1-7.7-.2-8.3-1.3-1.6-1.6 6.2 1.4 7.3 .8 6.8-.2 6.2-1.1 5.8-1.8 5.6-2.7 3.2-2.2 4.4-4.1-8.6 4.8-4.9 2.2-5 1.5-6.3 1-4.9 .1-.5-.3-4-.1-2.7-.8-1.8-.1-.5-.4-1.3 0-3.2-1.3-.9 0-1.3-.9-.9 0-4.1-2.2 6.4 2.8 8.9 2.1 8.1 .5 8.1-.9 8.1-2.5 9-4.8 5.9-4.4zM377.7 79.7l-.5 1-.4-.1zM385 81.9l.3-.4 1 2.2 .8 1.1 1.8 .4 .1 1.2-1.3 3.6-2.3 5-3.2 4.9-3.6 4.5-4.5 4.4-6.1 4.6-2.1 0 5.4-3.6 4.6-3.9 4-4.3 3.6-4.9 2.7-4.9 2-4.9-.1-.9-1.4-1-1.4-2-2.4 5.7-2.8 4.5-3.8 4.7-4.5 4.2-5.4 3.8-5.8 3.2-8.1 3-1.6-.5 5.7-1.8 6.2-2.7 5.3-3.1 4.6-3.6 4.1-4 3.6-4.6 2.3-4zM366.9 83.7l1.1 0-1.1 .3zM365.5 84.2l1.3 0-1.3 .3z"/>
<path fill="#28f4cc" d="M359.9 10l-3.4 2.6-.4 0-1.8 1.8-.5 0-5.9 5.9 0 .4-1.8 1.8-.9 1.8-1.8 2.3-.4 1.3-.9 .9-.9 1.8 0 .9-1.4 2.3-.4 2.2-.5 .5 0 1.3-.4 .5 0 1.3-.5 .5 0 2.2-.5 .5-.3 10-.8-6.4 .6-6.8 1.8-7.2 2.8-6.3 3.6-5.8 4-5 5-4.9 1.9-.4-4.5 4-4.1 4.4-3.6 5-2.7 5-2.2 5.4-1.4 5.4-.7 5.8 .3 5 .1-7.2 .5-.5-.1-2.2 .6-.5-.1-1.3 .5-.5 0-1.3 .5-.5 .4-2.2 1.4-2.3 0-.9 .9-1.8 .9-.9 .4-1.3 1-.9 1.7-3.2 1.9-1.8-.1-.4 6.1-6.1 .5 0 1.8-1.8 .4 0 1.4-1.3zM361.3 10l.7-.5 1.9 0-6 4.1-5.4 4.9-4.7 5.4-3.6 5.8-2.3 5-1.7 5.8-.7 11.3 .4 6.5 .9 4.1 .9 2.6 .3-.2-1.5-7.2 .1-4.5 .5-4 3.3-9.9 2.7-5.4 2.7-4.2 6.3-6.9 8.1-5.8 5.4-2.7 6.3-2.3 2.6-.7 2.5 .7-6.9 2-6.8 2.8-5.8 3.4-5.4 4.2-4.3 4.5-3.4 4.8-3.9 7.4-2.4 6-1.1 5.2-.1 5.4 .8 5 2.2 5.4 2.7 3.9 3.7 3.3 5.4 2.7 5.9 1.3-1.5 .3-4-.7-5-2.1-4.1-3.3-3.6-4.5-2.2-4.5-1.5-5.4-.5-5-.2-9.4 .6-5 1.5-4.9 2.1-5 2.3-4 3.3-4.5 3.7-4.1 4-3.6zM348 12.2l.9-.5-5.4 6.8-4.5 7.9-2.7 7.5-1.4 7.3 0 7.9 1.6 9 2.3 7.2 3.4 5.8 2.2 2.7 3.1 2.7 5.9 3.3 2.7 .8 3.6 .5 3.6-.2 3.4-.8 5.6-2.7 3.2-3.1 2.4-3.6 1.4-3.2 .9-4-.1-3.2-.9-3.6-2.1-3.1-3-2.4-5-1.9-4.9-.4-3.6 .8-3.2 2-2 2.3-2 4.1-.5 .2 0-1.9 1.4-3.7 3.1-3.2 4.1-1.8 4.9-.5 5 .5 2.8 .9 2.3 1.4 3 3.5 1.9 3.7 .3 9.6-.4 .7 0 1.6-.5-.5 0 .3 0 1.9-.4-.6 0 1.9-.5-.7 0 1.7-.4-.7 0 1.6-.1-.6-.4 0 0 1.4-.4-.7-.6 1.1 .1 .2 .5-.5 .2 .3-.7 1-.4-.7-2.7 3.1-3.3 2.4 .6 .2 1.3-.9 4.1-4.1 .2 .3-1.1 1.5-4 3.5-4.1 2.3-4.1 1.3-6.7 .8-7.2-.7-9.9-2-7.2-3.4-6.3-4.5-5.8-6-4.8-6.7-3.8-7.5 .4-.6 .1-.9 2.6 5.8 2.7 4.9 3.4 4.6 3.7 4 7.4 5.9 7.6 3.8 8.7 2 6.2 .9 4.4 0 3.4-.4 1.6-.5-1.8-.1-.5 .4-5.8 0-4.1-.9 7.7 .4 5.4-.9 5.8-2.8 2.5-1.9 2.5-2.7 .9-1.4 0-.7-2.3 2.5-2.8 2.3-3.4 1.8-3.2 1-5 .6-5.6-.7-1.5-.5 1-.4-2.2 0 .9-.5-4.3-2-4.3-3.4-3.8-4.5-2.5-4.5-2.3-6.3-1.8-8.1-.5-6.7 .6-6.8 1.9-7.2 3.1-7.2 4.5-7.2 3.2-4zM365.5 84.1l0 .4 1.3-.3zM366.9 83.7l0 .3 1.1-.3zM369.6 82.3l-.4 .1 .4 .2 .4-.2zM370.5 81.8l-.4 .1 .4 .2 .4-.2zM370.9 81.5l0 .4 .7-.4zM385.5 14.9l2.3-.2 1.9 .9-9.3 1-8.1 2.2-7.3 3.3-6.7 4.5-4.2 4-3 4.1-5.4 9.4-1.3 3.5 0 1.4 3.2-6.2 4.9-5.5 8.5-6.9 4.5-2.7 4.1-1.9 8.5-2.4 9-.8 5.4 .3 5.9 .9 3.4 .8 1.4 1.4-6.6-1.7-6.8-.8-6.3 0-6.5 .8-6.4 1.8-5.1 2.3-4.9 3-6.3 4.8-4.3 4.3-3.2 4.5-2.1 5-1 4.5 0 4.9 .9 4.5 1.7 4.1 3.3 4.5-.3 .3-2.7-3-2.2-4.1-1.4-4.5-.4-5.8 .9-5.9 1.3-4 6.2-11.7 2.8-3.6 3.2-3.3 4-3.2 4.5-2.8 4.5-2.1 5-1.8 5.4-1.3zM335.8 18l-3.3 8.1-3 10-.4 .9-.5 .1-1-2.4-.5-3.2 .3-3.1 .9-4.1 2.3-2.4-1.4 6-.1 2.4 .4 1 5.3-12.4zM380.7 25.7l5.5-.2 .5 .4 6.3 .5 5.4 1.3 2.7 1.2 2.2 .5 3.6 1.7 .8 .8-8-3.5-4.9-1.2-5.4-.7-5-.2-4.9 .4-8.6 1.9-5.4 2.5-8.1 5.3-3.9 3.2-2.8 3-2.3 3.3-1.8 3.8-.6 2.5 .2 .3 1.2-3.4 1.8-3.2 3.8-4.5 5.8-4.1 3.1-1.5 2.3-.5 .2 .3-.7 2.7-3.9 1.8 4.8-1.2 1.4 .5 7.6 0 5 1.4 4.9 2.3 5.9 3.7 4.6 3.6 4.4 4.5 2.7 3.6 2.7 4.6 2.2 5.3 1.4 4.5 1.3 7.2 .3 6.8-.3 2.7-1.6 2.1 .4-6.6-.5-6.8-1.2-6.3-2-6-2.7-5.5-3.2-4.7-4.3-4.9-4.8-4.1-7.5-4.5-4.1-1.8-4.9-1-4.5 .1-5 .8-5.8 2.7-.5-.5-.2 .2 .6 .4-.4 .2-.4-.3 .2 .6-.7-.1 .1 .5-.5 .3-.5-.5-2 2 .2 .5-2.5 2.7 .3 .3 .6-.8-.1-.4 .7 0-1.7 3.3 0 1.2 2.1-3.6 1.9-2.3 5-3.6 3.2-1.4 3.6-.8 6.7 0 6.3 1.7 5 2.7 5.6 4.6 7.2 7.6 2.8 4.5 2.2 5 1.7 5.4 .9 4.9 .4 5.9-.3 6.3-1.1 6.7-1.1 1.6 1.5-8.3 .3-8.1-1.1-8.1-2.1-7.2-2.9-5.9-3.3-4.5-8-8.1-4.4-3.1-.8 0 5.6 4.5 4.7 6.3 4.7 9.4 1.6 5 .9 4 .4 9-1.2 9-1.4 5-2.1 5.4-1.4 2.9-1.6 1.1 3.5-7.5 2.3-7.3 1.1-7.7-.1-7.6-1.2-6.8-2.4-6.7-3.9-7.7-4.9-6.3-4.4-3.4-4.9-2.5-5.4-1.3-4.1 0-4.5 .9-4.7 2.3-2.7 2.2-.7 1.4-3.7 4-1.1 2.3-.7 4 .3 3.2 1 3.1 1.7 3.6 1.7 2.3 2.2 2 3.6 1.9 3.1 .5 3.2-.6 3.1-1.3 3.2-2.2 2-2.1 1.5-2.7 .8-2.7 .2-3.5 .5 1.2-.1 3.3-1.8 4.5-3.6 4.4-3.1 2.2-2.1 .9-3.3 .5-3.4-.5-3.1-1.3-2.6-1.8-3.1-3.2-1.8-2.7-1.3-3.6-.7-4 .1-3.6 .6-2.5 3.1-6.6 2.5-3.1 2.6-2.2 3-1.9 4.1-1.8 .4-.8-.4-1.1-2 .2-5 2.7-3.4 2.7-2.7 3.1-2.2 3.7-1.4 3.5-.9 5 .2 4.9-.2 .5-.5-2.3-.1-5.8 1.4-5.4 2.7-5 3.7-4.5 10.8-9 2.7-1.4 3.2-1.3 4.5-1 .4-.4zM360.6 40.4l0 .3 .4-.2zM361.5 39.9l0 .4 .6-.2zM362.8 39.5l0 .4 .7-.3zM380.8 44l-.1 .1 .6 .3 .2-.3zM350.2 49.6l-.2 .4 .2 .2zM357.9 41.7l0 .5 .4-.3zM358.8 41.3l0 .3 .3-.2zM359.7 40.9l0 .3 .3-.2zM321 32.9l.2 12.1 1.7 10.8 2.8 7.7 4.7 7.6-.9-.4-2.7-3.2-1.9-2.7-.5-1.3-.9-.9-2.7-5.9-.1-.9-1.3-3.1-.5-3.2-.4-.4-.5-4.5-.4-.5 .2-4.8 0 4.8 .4 .5 0 2.2 .5 .5 0 1.8 .4 .4 .5 3.2 .4 .4 1 3.6 .9 1.4 0 .9 1.3 2.3 .3-.1-2.4-8.5-1.2-8.6-.2-9zM382.6 32.9l.9 0-1.3 1.8-.9 2.7-.5 .5-2.7-.6-4.9-.2-2.7-1.8-2.8-1.1 7.7-1.2 1.8 .1 1.8 .7zM371.4 34.2l-.9 .5 2.7 2 2.7 .1 1.4-.8-.5-.9-1.4-.8zM386.5 36.5l.2-.4 0 .7zM371.6 38.7l2.5-.3 .4 .3-.4 .4zM374.7 39.2l1.2-.3 1.2 .3-.3 .3zM404.5 40.1l.6 .4 .6 1.8 3.5 .8 6.3 5.6 .4 3.5-4.5-4.5-3.6-2.8-2.7-.2-.9 .3-.4 .9 6.6 6.8 4 4.9 2.4 3.8 0 2.6-3.6-5.9-4.3-5.4-6.6-6.3-.8-1.4-2.5-.9 0-.4 3.2-1.8zM364.5 42.8l4.6-.3 5.4 .7 4.4 1.8 4.6 3.2 3.2 3.2 3.1 4.6 2.4 4.8 3.1 8.1 1.1 4.9 .3 5.4-.3 5.4-1 5.4-1.8 5.9-2.6 5.8-4.1 6.8-1.6 .9-.2 0 5.2-8.1 3.1-7.1 2.1-7.8 .7-7.6-1-8.2-3.6-10.2-3.1-5.8 0 .8 1.3 2.7-.4 .3-.1-.8-.6-.4 .1-.5-.6-.4 .1-.5-.5-.4 .1-.5-3-3.7-.3 .1 3.6 5.9 1.9 5.8 .6 7.2-.9 8.6-2.7-1-.1-.4 1-6.8 .2-3.1-.6-4.9-.9-3.4 .7 4.7 .1 5-.7 4-1.3 4.1-2 4.2-2.7 4.1-3.6 4.6-4.4 4.6-3.7 3-4.5 2.8-4.5 2.2-4.9 1.7-6.3 1.5-6.8 .7-3.4 0-2.1-1.2 6.9-.1 6.3-.7 6.7-1.8 5.7-2.2 5.1-2.9 4.5-3.4 4.6-4.5 5.2-6.3 2.8-4.7 1.8-4.7 1-5-.1-4.5-.9-4.4-2.2-5.1-2.7-3.6-4.1-3.8 2.7 1.5 2.5 2.3 2 2.8 2 3.5 1.3 4.1 .6 4.5 0 4.9-.9 5.9 1.5 .8 .7-.4 .8-7.2-.5-6.7-1.8-5.9-3.1-5.4-2.5-2.7-3-2.3-3.2-1.8-4.5-1.3-3.6-.3-3.1 .3-8.7 2.7 3.3-2.3zM351.9 47.7l.3 0-.2 .4zM337.3 53.6l.6 0-.3 2.1zM383.7 57.6l.7 1.1 1 3.4 .2 5.4-.7 5-2.3 5.7-4 5.9-6.8 7.1-3.6 3-4.5 2.8-8.1 3.2-5.4 1.2-4.5 .5-5.8 .2-5.9-.5-2.8-.5-1.9-1.4 7.9 1.3 8.1 .2 7.6-1.1 6.8-2 5.4-2.6 4.7-3.2 7.9-7.6 3.9-5.5-.3 0-2 2.7-3 3-5.4 4-9 4.8-8.5 2.6-8.6 .9-8.9-.9-5.7-1.3-3.8-1.3-3.6-1.8-1.4-1.4 0-.4 6 2.6 7.3 2.3 5 .9 6 .4 5.6-.4 4.7-.9 6.7-2.3 5.5-2.7 5-3 3.6-2.9 3.2-3.5 2.8-4.5 1.8-5 .5-3.6-.1-4zM389.7 59l.1-.4 .8 1.7-.3 .8 0-1.2-.7-.5zM390.6 61.7l.1-.4 .3 .8-.3 .3zM312.9 63.5l4.8 6.3 3.7 4 4.1 3.7 4.9 3.5 4.5 2.4 5 2 6.7 1.6 5.9 .8 5.8 .2 5-.6 4.5-1.3 4.5-2.3 3.6-2.7 3.3-3.7 2.8-4.9 1.1-4.2 .1 1.5-1.4 4.5-2.6 4.5-3.4 3.6-4.4 3.3-4.5 2.3-10.8 4.2-5.4 .8-6.8 0-7.6-1.4-8.6-3.1-5.8-3.2-4.5-3-1.4-2.6 7.2 5.1 8.1 4.1 7.7 2.3 8.1 .9 7.2-.6 12.1-3.7 6.8-3.6 3.2-2.7 .4-.9-2.7 2.4-4.1 2.4-4 1.6-4.1 1-4.9 .4-6.8 0-9.7-1.5-4.1-1.4-4.9-2.2-4.4-2.7-4.1-3.2-4.7-4.5-4.4-5.4-1-1.4zM377.7 79.7l-.9 .9 .4 .1zM391.1 63.5l.1-.4 .3 1.3-.3 .2zM391.6 65.7l.3 1.4-.3 .2zM392 79.7l.3 0-.2 2.3zM391.5 82.8l.5 0-.4 1.8zM385.1 83.3l.2-.3 1.4 2 1.4 1-.1 1.3-1.3 3.5-2.3 4.4-2.7 4.1-3.1 3.8-4.1 4-8.6 6.3-4.1 0 5-2.7 4.6-3.1 4.5-3.8 4-4.3 3.6-5 3.2-6.2 .3-1.9-1.7-1.6-2 4.8-3.1 4.9-3.8 4.5-4.1 3.9-5 3.6-6.7 3.6-6.2 2.4-.6-.4-1.3 0 5.8-2 5-2.4 4.9-2.9 5-3.9 3.7-3.7 3.6-4.5 2.4-4zM391.1 85.1l.4 0-.3 1.5zM390.6 86.9l.5 0-.4 1.3zM390.2 88.2l.5 0-.4 1.4zM389.7 89.6l.6 0-.2 .4-2.7 6.3-2.7 4.5-3.4 4.5-7.2 7.2-1.8 .5 5.8-5.2 2.7-2.9-.4 0-6.3 5.8-.5 0-2.7 2.2-.6 .1 2-1.1 4-3.6 .5 0 6.6-7 1.8-3.2 1.8-2.2 2.3-4.5 0-.9zM380.8 104.4l0 .5 .4-.5zM382.2 102.6l-1 .9 .1 .8 1.3-1.7zM382.6 102.2l0 .4 .4-.4zM383.5 100.8l0 .6 .4-.6zM384.4 99.4l0 .7 .4-.6zM385.3 98.1l0 .6 .4-.6z"/>
<path fill="#1cdcaa" d="M360.1 10l.4-.5 1.5 0-5.5 4-4 3.6-3.7 4.1-3.3 4.5-4.1 8.1-1.3 4-1 4.5 .2 14 .9 4.9 1.4 4.1 1.8 3.6 3.2 4.2 3.2 2.7 4 2.2 4.5 1.4 3.3-.2-5.9-1.3-3.2-1.3-3.4-2.3-2.9-2.9-2.3-3.4-1.8-4.1-1-4-.3-5.4 .4-3.8 1-3.9 3.8-9 4.7-7.6 5.9-6.3 6.7-5 8-4 9.7-3 2.7 .9-8.8 2.1-9.4 4-7.7 5.4-4.9 4.9-.7 1 .3 .1 3.1-3.3 4.5-3.8 8.6-4.9 5.8-2.3 7.2-1.7 4.2-.6 1.9 1-5.2 .6-5.8 1.2-5.4 1.8-5 2.2-4.5 2.6-4.5 3.4-3.2 3.2-2.9 3.6-6.5 12.2-1.3 4-.9 5.9 .4 5.8 1.4 4.5 2.2 4.1 2.7 3 .3-.3-3.6-5-1.9-5.4-.5-5.4 .6-4.9 2.1-5.9 3.3-4.9 4.2-4.4 5.9-4.6 5.8-3.6 6.4-2.7 7.1-1.7 6.8-.6 8.1 .5 9.3 2.1 4.2 5.1 0 .4-4.1-2.1-2.2-.5-2.7-1.2-5.4-1.3-2.3-.1-.4-.4-9.5-.3-.4 .3-3.6 .1-.5 .4-1.8 .1-.4 .4-3.2 .5-7.2 3.2-10.3 8.6-2.9 3.1-2.2 3.2-2.7 6.3-.7 4.9 .8 5.9-.1-5 .5-3.6 1.4-4.3 2.3-4.1 2.7-3.3 3.1-2.7 4.7-2.7 2.1-.7 .9 .1 .4 1.1-.4 .8-4.1 1.8-3 1.9-4.6 4.6-1.8 3-1.8 4.3-.7 5.2 1.1 6.5 1.4 2.8 1.8 2.5 3.1 3 2.9 1.8 2.3 .9 3.4 .5 3.1-.4 2.3-.9 4.5-3.7 2.2-3 1.4-2.8 .5-1.8-.1-3.2-.4-1.2-.5 4.8-1.7 3.6-2.3 2.6-3.2 2.2-3.1 1.3-3.6 .6-3.2-.6-3.1-1.8-2.9-2.9-1.9-3.2-1.7-4.5-.4-3.1 .4-3.2 .8-2.7 5.4-6.7 3.8-2.7 4.6-1.8 4.5-.6 4.9 .5 4.5 1.4 4.1 2.3 3.9 3.1 3.1 3.6 3.5 5.9 3.6 8.1 1.7 6.3 .7 7.2-.4 7.2-1.7 7.9-1.8 5-2.3 4.8-.9 1.6-1.2 .5 4.4-9.2 1.8-5.7 .9-4.5 .5-4-.1-6.1-.9-6.1-1.8-6.3-2.6-6.3-2.2-4-3-4.1-3.4-3.3-4.1-2.7-4.5-1.9-4.5-.8-4.8 .2 6.6 .7 3.2 .9 4 1.9 4.4 3.2 2.9 3.2 2.8 4 6 13.1 .9 4 .5 5.9-.2 4.9-.9 5.9-1.7 5.8-2.2 5.4-3.8 6.8-1.5 .9 5.2-9.5 3.1-9 1.3-9-.5-8.1-1.2-4.9-2.8-7.2-4.1-7.7-4.6-4.9-3.1-2.3-4.5-2.2-3.2-.9-3.1-.3-5 .3-4.9 1.7-3.3 2.3 8.7-2.7 5.4-.2 3.1 .6 2.7 .9 5.4 3.5 4.3 4.7 1.7 3.1 1.4 3.6 1.2 7.2-.5 8.6-.4 1.7-2-.8 .9-5.9 0-4.9-.6-4.5-1.3-4.1-2-3.5-2-2.8-2.5-2.3-2.7-1.5 5.9 6.1 2.7 5.1 .9 3 .5 3.6-.5 6.7-2.3 6.6-3.6 5.7-6.7 7.7-6.8 5.5-5.1 2.9-5.7 2.2-5.4 1.5-5.8 .9-8.7 .2-2.5-1.6 6.2 .3 6.6-.4 5.1-.9 3.4-.9-.2-.2-7.2 1.4-7.7 .4-7.6-.7-1.5-1.5 10.5 1 4.9-.2 5.4-.8 5-1.3 4.9-2 4.1-2.1 4-2.9 9.5-9.8 2.7-4 1.8-3.8 1.3-4.8 .4-4.2-.3-4.1-1.4-4.5-.2 .5 1.2 5.4 .1 4.9-1.3 5.4-2.8 5.4-3.3 4-4.5 3.8-5.9 3.5-7 3.1-6.3 1.8-6.9 .8-7.4-.3-6.8-1.4-5.5-1.8-6-2.6-2.2-3.2-2.3-4.5 0-.5 5 3.4 4.9 2.8 7.7 3 9 1.8 8.1 .1 5.8-1.3 9.5-3.7 3.6-1.8 3.6-2.3 2.7-2.4 4.1-5.4 1.8-4.1 .5-2.2-.1-1.5-1.1 4.2-2.8 4.9-3.8 4.1-4.5 3.1-4.5 1.9-5.9 1.3-6.2 .1-7.2-.8-5.9-1.3-4-1.4-4.5-2.1-4.5-2.7-4.1-3.2-4.1-3.9-3.8-4.5-3.3-4.9 0-3.1 4.9 7.6 3.2 3.6 .7 .4-4.1-5.4-3.6-5.9-1.1-2.2 0-3 2.5 5.2 3 5 3.5 4.5 3.8 4 3.8 3.3 5 3.3 4.9 2.3 4.1 1.2 11.7 1.9 4.9 0 4.1-.6 3.4-1 3.8-1.8 3.2-2.3 2.6-2.6 .7-1-.2-.3-4.1 4.1-1.3 .9-.6-.2 3.3-2.4 2.7-3.1 .4 .7 .7-1-.2-.3-.5 .5 0-.5 .5-.8 .4 .7 .3-.5-.4-.5 .1-.5 .6 .5-.1-1.4 .4 .7 0-1.7 .5 .7 0-1.9 .4 .6 0-1.9 0-.3 .5 .5 .5-2.9-.3-8.6-1.1-2.7-1.8-2.6-2.1-2.3-2.3-1.4-2.8-.9-4.1-.5-3.4 .1-3.8 .9-2.7 1.3-2.2 2.1-1.4 2-.9 2.8 0 1.9 .5-.2 2.3-4.5 3.1-3 3.1-1.4 3.2-.4 4 .5 4.5 1.7 2.7 1.8 2.4 3 1.1 2.7 .4 4.5-.5 3.2-1.8 4.5-2.4 3.6-3.2 3.1-5.6 2.7-4.8 .9-5.4-.3-4.5-1.4-4-2.4-4-3.5-3-4.1-2.3-4.5-1.7-4.9-1.8-8.6-.4-8.5 1.4-8.6 2.8-7.8 2.7-5.1 3.6-5.3 3.6-4.3 1.8-.4-6.8 8.1-4.9 9-2.7 8.6-.6 4.4 .1 3.8 .3-4.7 .8-4.5 1.9-5.8 2.3-5 3.9-6.3 3.7-4.5 3.4-3.6 2.1-.4-4.6 4.5-4.1 4.9-3.2 5-2.6 5.4-1.8 5.4-1.3 6.7-.1 5.4 .7 5.1 .3-10 .5-.5 0-2.2 .5-.5 0-1.3 .4-.5 0-1.3 .5-.5 .4-2.2 1.4-2.3 0-.9 .9-1.8 .9-.9 .4-1.3 1.8-2.3 .9-1.8 1.8-1.8 0-.4 5.9-5.9 .5 0 1.8-1.8 .4 0 1.4-1.4zM350.2 32.7l-3.1 4.7-3.8 7.6-1.5 5-.7 5.8 .6 5.8 1.8 5.1 2.7 4.2 3.6 3.3 .2-.4-3.9-4.5-1.9-3.6-1.3-4-.5-5.9 .6-4.9 1.2-4.5 6.3-13.5zM351.1 31.5l0 .6 .4-.6zM359.2 32.9l-5.8 4.5-4.5 4.9-3.3 5.9-1.5 5.4-.3 3.6 .4 4 1.8 5.4 1.9 3.2 1.9 2.2 2.2 1.9 2.3 1 .5-.2-.4-.4-5.1-3.8-2.8-4.3-1.5-4.5-.4-3.2 0-3.1 1.4-5.9 3.1-5.8 6.1-7.1 3.6-3.1 .7-.2 .4-.4-.2-.3zM360.6 32l-.7 .4 .7 .2 .6-.6-.2-.3zM361.5 31.4l.6 .1-.2-.4zM362.8 30.6l-.8 .5 .8 .1 .6-.6-.1-.2zM363.7 30.1l.6 .1-.1-.3zM364.6 29.7l.6 0-.1-.2zM365.5 29.2l.5 .1 0-.3zM366.4 28.8l.5 0 0-.2zM368.2 27.9l-1 .5 1 0 1-.5-.1-.3zM379.9 24.8l-5 .9-5.7 1.8 1.3 0 .4-.4 1.4 0 2.2-.9 1.8-.1 .5-.4 8.1-.6 7.2 .4 8.1 1.4 .1-.3-8.7-1.8-5.8-.3zM361.5 36.9l-3.9 1.8-3.2 2.3-2.8 2.7-1.8 2.4-1.8 3.3-1.4 3.6-.5 3.3 .1 4.1 1.7-7.3 2.8-5.8 2.5-3.2 2.9-2.4 7.2-3.9-.5-.9zM356.1 77.4l2.6 .9 2.3 .4 3.2-.8-5.4-.9zM366.4 44.6l-4.1 .9-7.1 3.1-1.8 1.8-2.3 3.5-.9 2.9 0 1.7 0 2.3 .9 3.6 1.4 3 1.8 2.7 2.1 1.9 2.2 1.4 2.9 .9 1.8 0 4-.9 4.1-2.5 2.9-3.4 1.2-3.6-.4-3.6-2.4-3.9-3.1-2.8-2.3-1-1.7-.4 2.6 0 2.3 .9 4 2.5 2.6 2.5 1 2.2 0 3.6-1.4 4.5-3.6 5-3.1 2.6-2.8 1.4-1.1 1.4 .3 .2 1.8-.2 2.3-.9 1.7-1.4 3.7-4.1 2.2-4 .9-2.6 .5-4.6-.9-3.9-1.4-2.3-1.8-1.9-2.7-1.8-5.2-1.8-3.8 0-2.5 .5-1.9 .9-1.9 1.5-1.4 2.1-1 2.7-.4 3.6 .3 3.1 .9 2.3 1.6 2.1 1.8 1.2 3.6 1.6-1.5 .5-3.4-.8-1.8-1.4-1.5-1.9-1.9-4.5-.9-4.9 .3-2.7 .9-2.3 3.1-3.5 2.7-1.7 2.2-.8 5.9-.8 .4-.4-.3-.4 .8-.9zM369.1 46.4l1.4 .1 5.8 2.2 1.8 1.2 2.7 2.5 3.3 4.8 1.4 4.5 .4 3.1-.1 3.2-.7 4.5-2.3 5.8-3.6 5.4-5.6 6.3-1.8 2.7 2.7-2.2 4.1-4.2 4.8-6.6 2.8-6.8 .6-3.6 .2-3.6-.4-3.1-1.3-4.2-1.8-3.4-3-4.1-3.3-2.7-2.6-1.4-2.3-.5zM375 45.5l.4 .2 .3-.2zM375.9 45.8l3.1 2.1 2.8 2.5 2.9 3.6 1.7 3.2 1.9 6.7 .4 5.4-.8 6.8 .1 .5 .9 .1 .9-3.7 .2-5.9-.6-5-1.4-4.2-2.2-4.2-2.7-3.3-4.5-3.6zM335.8 46.4l0 6.1 1.7 8.3 2.2 5.8 3.1 5 4.3 4.4 4.9 3 4.5 1.4 6.2 .2-3.9-.6-.5 .4-.5-.7-5.3-2-4.1-2.7-3.3-3.4-2.7-4.1-1.8-4-1.3-5.4-.8-6.4-.4-1.3-.5 .4 0 2.3 .4 .5-.4 3.5-1.5-7.6zM379.5 52l-.2 .2 3.2 5.9 1.3 4.5 0 5.8-1.3 5-2.7 4.9-3.9 4.4-4.1 3.1-7.7 4.2-1.2 .9-.1 .6 2.4-.6 4-1.8 6.2-4 4.5-4.7 3.3-5.7 1.3-4 .4-3.1-.4-5.9-1.8-5.4zM337.6 53.4l-.3 .2 .3 2.1zM350.2 74.2l-.3 .1 .3 .2zM382.6 61.5l-.7 6.9-1.7 5-3.4 4.9-4.5 3.8-4.5 2.2-6.3 1.6-5.4 .2-8.7-1-3.3 0 2.6 .9 5.8 1.1 7.6 .3 7.1-1.4 5.5-2.7 5.4-4.8 3.2-5.1 1.4-5 .3-3.1zM334.5 18.9l.5-.4-5.5 12.8-.4-1 .1-2.4 1.4-6zM371.3 34.2l4.1 .1 1.4 .8 .5 .9-1.4 .8-2.7-.1-2.7-2zM372.7 35.1l-.2 .5 .7 .6 1.3 .2 1-.4-1-.8zM319.6 35.1l.8 13.1 1.3 6.7 1.7 5.9-.2 .5-1.3-2.3 0-.9-.9-1.4-1-3.6-.4-.4-.5-3.2-.4-.4 0-1.8-.5-.5 0-2.2-.4-.5 0-5.4zM367 39.6l4.8-.1 3.6 .6 4.1 1.3 5.8 3.2 3.5 2.2 4.3 3.6 4.4 4.9 2.7 3.7 2.7 4.9 2.1 5.4 1.4 5.4 .9 5.9 .2 5.4-.4 5.7-1.5 2.4-2.2 2.2 1.1-7.2 .2-7.2-.7-6.7-1.8-7.2-2.6-5.9-2.8-4.5-6.3-6.7-4.3-3.8-4.5-3.1-5.4-2.2-4.5-.9-5.8 .1-5 1.3-4.1 2.3-2.7 2.2-1.9 2.3-2.1 3.6 0-1.2 1.7-3.3-.7 0 .1 .4-.6 .8-.3-.3 2.5-2.7-.2-.5 2-2 .5 .5 .4-.2-.1-.5 .8 0-.2-.6 .4 .3 .4-.2-.6-.4 .2-.2 .5 .5 4.5-2.3zM369.1 39.6l-4 .4-4.5 1.4-3.2 1.7-2.8 2.4 .1 .3 2.7-1.9 3.6-1.8 5.9-1.4 6.3 .2 4.9 1.2 3.6 1.6 .9 0-6.1-3.2-4.7-.9zM382.6 43.7l-.1 .4 4.2 3 6.3 5.4-1.3-2.1-3.1-3.1zM357.7 41.9l.6 0-.4 .3zM405.4 44.6l1.7 0 1.6 .8 3.3 2.8 3.9 4 .5 .9 0 2.7 .4 .5 0 5.1-5.6-7.8-7.2-7.2-.1-.9zM350 50l.2-.4 .2 .4zM337.8 57.6l.3-.3 .3 .3-.3 1.5zM338.3 59.9l.2-.3 .3 .3-.3 .9zM338.8 61.7l.4 0-.2 .6zM339.2 63l.5 0-.3 .6zM339.8 64.4l.3 0-.2 .3zM370.9 81.5l.7 0-.7 .4zM385.2 85.1l.1-.3 .5 .2 1.3 1.9-2.2 5.3-4.5 6.8-5.7 5.9-6.5 4.9-6.4 3.6-2.1 0-.5-.4-2.7 0-.4-.5-1.7 0 5.3-1.9 5.4-2.8 4.9-3.2 3.6-2.9 4.4-4.5 3.1-4 2.7-4.5zM385.3 98.1l.4 0-.4 .6zM384.9 99l.2 0-.2 .4zM384.4 99.5l.4 0-.4 .6zM384 100.4l.2 0-.2 .4zM383.5 100.8l.4 0-.4 .6zM382.6 102.2l.4 0-.4 .4zM382.2 102.6l.4 0-1.3 1.7-.1-.8zM380.8 104.4l.4 0-.4 .5zM380.4 104.9l.4 0-2.2 2.4-5.2 4.8-1.1 .9-1.9 0 1.9-1 1.3-1.3 .5 0z"/>
<path fill="#149e7e" d="M351.1 11.3l1-.5-3.8 4.1-4.2 5.4-4.5 8.1-1.8 4.5-1.3 4.9-.7 7.4-.1-3.8 .6-4.4 1.3-5 1.8-4.6 2.3-4.4 3.6-5.5 4.5-5.3 .9-.9zM381.8 13.1l1.9-.3 1.2 .7 1 .2-10 1.9-9 3.5-6.8 4.1-4.5 3.8-3.1 3.3-.3-.1 6.1-6.3 7.2-5 8-3.6zM379.9 24.8l5.9-.3 5.8 .3 8.7 1.8-.1 .3-8.1-1.4-7.2-.4-8.1 .6-.5 .4-1.8 .1-2.2 .9-1.4 0-.4 .4-1.3 0 5.7-1.8zM368.2 27.9l.9-.3 .1 .3-1 .5-1 0zM366.2 28.8l.7-.2 0 .3zM365.3 29.3l.7-.3 0 .3zM364.5 29.7l.6-.2 0 .3zM363.6 30.2l.6-.3 .1 .3zM351.8 30.6l.2-.3 .2 .3zM362.8 30.6l.5-.2 .1 .2-.6 .6-.8-.1zM351.5 31.1l.3 0-.2 .4zM351.1 31.5l.4 0-.4 .6zM361.3 31.5l.6-.4 .2 .4zM360.6 32l.4-.3 .2 .3-.6 .6-.7-.2zM350.5 32.4l.2-.3 0 .6zM350.2 32.9l.3 0-5 10.3-1.7 4.5-.9 3.6-.5 5 .5 5.4 1.3 4 1.9 3.6 3.9 4.5-.2 .4-3.6-3.3-2.7-4.2-1.8-5.1-.6-5.8 .7-5.8 1.5-5 3.8-7.6zM346.2 40.2l-2.3 4.2-1.3 3.8-.9 4-.3 4.1 .3 4.1 .9 3.5 1.3 3.1 2.3 3.4-2.9-6.9-.9-4.1-.1-3.1 .1-3.2 .9-4.5 2.9-7.6zM359.2 32.9l.5-.3 .2 .3-.4 .4-.7 .2-3.6 3.1-6.1 7.1-3.1 5.8-1.4 5.9 0 3.1 .4 3.2 1.5 4.5 2.8 4.3 5.1 3.8 .4 .4-.5 .2-2.3-1-2.2-1.9-1.9-2.2-1.9-3.2-1.8-5.4-.4-4 .3-3.6 1.5-5.4 3.3-5.9 4.5-4.9zM344.4 52.7l0 2.2 .3-1.3zM349.8 41.4l0 .5-.5 .1-.9 1.2-2.3 4.1-1.4 4 .1 1.2 1.5-4.3 1.8-3.6 1.6-2.3 .4-.9zM353.4 37.6l-3.2 3.2 0 .6 3.4-3.6zM355.6 35.8l-.3 .2 .3 .2zM372.6 35.1l1.9 .1 1 .8-1 .4-1.3-.2-.7-.6zM361.3 36.9l1.5 0 .5 .9-4.5 2.2-3.6 2.3-2.8 2.7-2.3 3.2-2.4 5.4-1.5 6.8-.1-4.1 .5-3.3 1.4-3.6 1.8-3.3 1.8-2.4 2.8-2.7 3.2-2.3zM361.5 37.3l-5.5 2.8-4.4 4-3.6 6.1-.9 2.8 0 1.8 1.5-4.4 2.8-4.5 2.5-2.7 2.6-2 6.4-3.4-.5-.6zM369.1 39.6l2.7 0 4.7 .9 6.1 3.2-.9 0-3.6-1.6-4.9-1.2-6.3-.2-5.9 1.4-3.6 1.8-2.7 1.9-.1-.3 2.8-2.4 3.2-1.7 4.5-1.4zM365.5 40.1l-4.5 1.3-3.1 1.9 5.4-2.1 5.4-.8 4.9 .4 5.1 1.1-4.6-1.8-3.6-.3zM366.1 41.9l4.8-.2 4.5 .8 4.5 1.9 4.1 2.7 3.4 3.3 3 4.1 2.2 4 2.6 6.3 1.8 6.3 .9 6.1 .1 6.1-.5 4.1-1.4 6-2.2 6.4-3.5 6.9-1.5 .9-.3 0 2.9-5 2.7-5.8 2.6-9.5 .5-4.9 0-5.4-1.3-8.1-6-13.1-2.8-4-2.9-3.2-4.4-3.2-4-1.9-3.2-.9zM371.8 42.2l6.3 2.2 2.7 1.4 3.1 2.4 4.9 5.4 4.2 7.7 .3-.1-1.2-3.1-2.2-4.1-2.7-3.6-2.3-2.3-3.6-2.7-3.2-1.7-4-1.4zM382.5 44.1l.1-.4 6 3.6 3.1 3.1 1.3 2.1-6.3-5.4zM366.2 44.6l1.6 0-.8 .9 .3 .4-.4 .4-5.9 .8-3.1 1.3-2.3 1.6-2 2.2-1 1.8-.8 4.1 .9 4.9 1.9 4.5 1.5 1.9 1.8 1.4 3.4 .8 1.5-.5-3.6-1.6-1.8-1.2-1.6-2.1-.9-2.3-.3-3.1 .4-3.6 1-2.7 1.4-2.1 1.9-1.5 1.9-.9 2.5-.5 3.8 0 5.2 1.8 2.7 1.8 1.8 1.9 1.4 2.3 .9 3.9-.5 4.6-.9 2.6-2.2 4-3.7 4.1-1.7 1.4-2.3 .9-1.8 .2-.3-.2 1.1-1.4 2.8-1.4 3.1-2.6 3.6-5 1.4-4.5 0-3.6-1-2.2-2.6-2.5-4-2.5-2.3-.9-2.6 0 3.5 1.1 3.2 2.6 2.5 3.5 .8 4.1-.5 2.2-.8 1.8-2.5 3-3.6 2.5-4.5 1.3-2.2 0-2.9-.9-3.9-2.8-2.2-3.2-1.4-3-.9-5.4 0-2.2 .9-2.9 2.3-3.5 1.8-1.8 7.1-3.1zM362.4 50.9l-3.4 1.3-2.5 2.3-1.3 3.6-.1 4.9 1.4 3.6 1.4 1.5 1.3 .8 3.2 .6 4.5-.9 2.2-1.3 1.3-2-.1-2.3-1.4-3.1-1.6-1.6-1.8 .1-2 2.4 0 .4 .9 .5-.1 .4-.6 .1-1.4-.5-.4-1.3 1.8-2.6 1.4-1.1 1.3-.3 2.3 .8 1.3 1.4 1.8 2.9 .6 1.5 0 1.8-1 2.5-2.3 2.1-2.7 1.3-4 1.3 .1 .5 1.2 .2 3.2-.1 1.8-.6 2.2-1.3 2.7-2.8 1.4-2.9 0-3.8-1.4-2.8-3.1-3.2-2.7-1.5-3.2-.2-1.8 .7-1.5 1.6-1.7 3.2-.5 2.7 .6 1.3 1.3 1.1 3.6 .6 1.3-.8 0-1.3-.9-1.4 1-.5 .6 .5 .7 2.1 0 1.4-.9 1.1-1.3 .5-3.2-.1-2.7-.9-1.4-1.8-.3-2.3 .8-3.9 2-3.7 1.6-1.5 1.8-.6 3.6 0 3.2 .7-3.6-1.4zM375.8 45.9l1 0 1.8 .9 4.1 3.2 3.1 3.7 2.2 4.2 1.4 4.2 .6 5-.2 5.9-.9 3.7-.9-.1-.1-.5 .8-6.8-.4-5.4-1.9-6.7-1.7-3.2-3-3.7-2.7-2.4zM381.7 49.5l-.2 0 .2 .3zM382.2 49.8l-.3 .2 3.3 4.5 2.2 4.9 1.4 5.9 .1 6.3 .5 .1 .4-4.6-.4-4.1-.9-3.5-2.7-5.6zM368.8 46.4l3.5-.1 2.2 .5 2.7 1.4 3.2 2.6 4.5 6.6 1.3 3.6 .7 4.3 0 3.6-.7 3.8-2.5 6.5-4.7 6.6-4 4.3-3.2 2.6 1.8-2.7 5.6-6.3 3.6-5.4 2.3-5.8 .7-4.5 .1-3.2-.4-3.1-1.4-4.5-1.2-2.3-2.5-2.9-4.1-3.3-5.8-2.2zM385.3 59.2l.8 7.4-1 6.3-2.6 6.3-4.8 6.8-.3 .4 .3 .2 2.7-2.9 2.2-3.2 1.9-3.5 1.5-4.1 .6-3.6 .1-3.6-.4-3.6zM335.7 46.8l1.9 10.3 .4-3.5-.4-.5 0-2.3 .5-.4 .4 1.3 .8 6.4 1.3 5.4 1.8 4 2.7 4.1 3.3 3.4 4.1 2.7 5.3 2 .5 .7 .5-.4 3.9 .6-6.2-.2-4.5-1.4-4.9-3-4.3-4.4-3.1-5-2.2-5.8-1.7-8.3zM337.2 56.2l0 2.2 1.7 6 1.9 3.9 2.2 3.3 2.9 3.1 3 2.4 4.2 2.1 1.2 0-.5-.4-.4 .3-.4-.8-1.9-1-.4 .3 0-.6-3.6-2.9-2.9-3.4-3.1-5.4-2.6-7.7-.1 1.8 .6 .5-.3 1.3 .7 .5-.3 .9 .7 .4-.4 .9-.2-.4zM338.1 57.3l-.3 .3 .3 1.5 .3-1.5zM354.7 79.3l-.3 .4 1.2 0zM338.5 59.6l-.2 .3 .2 .9 .3-.9zM379.3 52.2l.2-.2 1.3 1.5 1.9 2.8 1.8 5.4 .4 5.9-.4 3.1-1.3 4-3.3 5.7-4.5 4.7-6.2 4-4 1.8-2.4 .6 .1-.6 1.2-.9 7.7-4.2 4.1-3.1 3.9-4.4 2.7-4.9 1.3-5 0-5.8-1.5-5zM384.4 62.8l-.5 7-1 3.1-1.7 3.6-1.8 2.7-3.1 3.4-7.8 6.1 3.3-1.4 3.8-2.7 3.4-3.3 2.7-3.8 1.8-4 .9-3.4zM312.9 58.1l3.8 6.7 5 6.8-.7-.4-3.2-3.6-3.1-4.5-1.8-3.1zM382.6 61.7l.4 3.1-.3 3.6-1.4 5-3.2 5.1-5.4 4.8-5.5 2.7-7.1 1.4-7.6-.3-5.8-1.1-2.6-.9 3.3 0 8.7 1 5.4-.2 6.3-1.6 4.5-2.2 4.5-3.8 3.4-4.9 1.7-5zM381.3 71.2l-1.6 3.5-2.3 3.2-3.8 3.4-2.7 1.7-4 1.8-3.6 1-3.6 .5-7.8 .1 5.1 .7 4.9-.2 4.5-.9 4.4-1.8 3.4-2.3 3.5-3.2 2.7-4.1 .9-2.1zM339.6 64.4l.3-.3 .3 .3-.3 .6zM340.2 65.7l.4 0-.3 .3zM340.6 66.6l.4 0-.2 .3zM321.8 72l.1-.2 .2 .2zM356.1 77.4l2.7-.4 5.4 .9-3.2 .8zM353.7 101.7l1.7 0-5.6 1.4-8.1 .8-7.6-.3-.9-.9 9.8 .5 5-.3z"/>
<path fill="#0a2e26" d="M361.1 37.4l1.3-.2 .5 .6-6.4 3.4-2.6 2-2.5 2.7-2.8 4.5-1.5 4.4 0-1.8 .9-2.8 3.6-6.1 4.4-4zM353.2 37.8l.4 0-3.4 3.6 0-.6zM365.4 40.1l5.1-.3 3.6 .3 4.6 1.8-5.1-1.1-4.9-.4-5.4 .8-5.4 2.1 3.1-1.9zM346 40.5l.2-.3 0 .8-2.1 4.9-1.2 4.5-.6 5.9 .1 3.1 .9 4.1 2.9 6.9-2.3-3.4-1.3-3.1-.9-3.5-.3-4.1 .3-4.1 .9-4 1.3-3.8zM349.7 41.4l.4 0-.4 .9-1.6 2.3-1.8 3.6-1.5 4.3-.1-1.2 1.4-4 2.3-4.1 .9-1.2 .5-.1zM371.7 42.3l1.9-.1 4.1 1.3 3.6 1.9 3.1 2.3 2.8 2.7 2.7 3.6 2.2 4.1 1.2 3.1-.3 .1-4.2-7.7-4.9-5.4-3.1-2.4-2.7-1.4-4.5-1.8zM381.5 49.5l.4 0-.2 .3zM381.9 50l.3-.2 .9 .9 2.2 2.6 1.8 3 1.4 3.2 .9 3.5 .4 4.1-.4 4.6-.5-.1-.1-6.3-1.4-5.9-2.2-4.9zM362.3 50.9l4.1-.2 4.1 1.5-3.2-.7-3.6 0-1.8 .6-1.6 1.5-2 3.7-.8 3.9 .3 2.3 1.4 1.8 2.7 .9 3.2 .1 1.3-.5 .9-1.1 0-1.4-.7-2.1-.6-.5-1 .5 .9 1.4 0 1.3-1.3 .8-3.6-.6-1.3-1.1-.6-1.3 .5-2.7 1.7-3.2 1.5-1.6 1.8-.7 3.2 .2 2.7 1.5 3.1 3.2 1.4 2.8 0 3.8-1.4 2.9-2.6 2.8-3.7 1.8-3.6 .2-1.2-.2-.1-.5 4-1.3 2.7-1.3 2.7-2.8 .6-1.8-.1-2.1-1.4-2.8-2.2-2.7-2.3-.8-1.3 .3-2.3 2.3-.9 1.8 .5 1 1.8 .4 .2-.5-.9-.5 0-.4 2-2.4 1.8-.1 1.3 1.1 1.7 3.6 .1 1.8-.7 1.8-1.9 1.6-5 1.2-3.1-.3-2.8-2-1.7-3.6-.1-4.5 1-3.7 2.2-2.6zM344.3 53.1l.1-.4 .3 .4-.3 1.8zM337.1 56.3l2.1 7.2 .2 .4 .4-.9-.7-.4 .3-.9-.7-.5 .3-1.3-.6-.5 .1-1.8 2.6 7.7 3.1 5.4 2.9 3.4 3.6 2.9 0 .6 .4-.3 1.9 1 .4 .8 .4-.3 .5 .4-1.2 0-4.2-2.1-3-2.4-2.9-3.1-2.2-3.3-1.9-3.9-1.7-6zM339.9 64.1l-.3 .3 .3 .6 .3-.6zM385.2 59.4l1 2.7 .5 3.6-.1 3.6-.6 3.6-1.5 4.1-1.9 3.5-2.2 3.2-2.7 2.9-.3-.2 .3-.4 4.8-6.8 2.6-6.3 1-6.7zM384.4 63l0 7.1-1.3 4.6-1.8 3.5-2.7 3.6-3.5 3.3-3.3 2.2-3.3 1.4 7.4-5.7 4.7-5.6 2-3.6 1.1-3.1 .6-3.6zM381.2 71.6l.1-.4 .2 .4-.2 .9-.9 2.1-2.7 4.1-3.5 3.2-3.4 2.3-4.4 1.8-4.5 .9-4.9 .2-5.1-.7 7.8-.1 3.6-.5 6.7-2.3 3.6-2.2 3.4-3 2.7-3.6zM354.4 79.7l.3-.4 .9 .4z"/>
<path fill="none" stroke="#000" stroke-width="0.3" stroke-opacity="0.6" d="M367.8 37.3l1.1 .1-1.1-.1M391.6 37.3l-.5 .5 1 .8 1.2 .1 .7-.4-.7-.9-1.7-.1M328.6 58.5l-.3 1.4 1.2 3.8 2.3 3.9 2.7 3.4 3.1 2.8 5.6 4.1 3.9 2.2 3.1 1.2-5.8-4.1-3.5-3.4-4-4.9-6.5-9.2-.9-.9-.9-.3M350.7 81.4l.6 .1-.6-.1M367.3 36l-1.3 .9 .4 1.1 2.3 .2 1.4-.4 .3-.4-.8-1-2.3-.4M391.2 36.8l-.9 .6-.1 .4 .7 .9 2.1 .6 1.8-.6 .1-.9-.6-.5-1.3-.5-1.8 0M325.5 50.9l-.5 .9 .5 3.5 2.2 6.9 3.2 5.7 3.9 4.6 6.5 4.9 6.4 3.6 3.6 1.4 3.9 .9 4.5 0-5-1.1-4.5-1.8-3.1-1.8-4.1-3.2-3.4-3.8-3.1-4.5-3.1-5-4.8-9.1-.9-1.1-2.2-1M387.6 80.7l-.5 .8 .5 1.1 .4 0 .3-.7-.3-1.1-.4-.1M366.4 35.9l-1 1 .4 1.4 3.8 .1 1.4-.6 .2-.4-1.6-1.5-1.8-.3-1.4 .3M390.7 36.5l-.9 .4-.3 .9 1.4 1.4 2.8 .4 1.9-.9 0-.9-1.3-1-1.8-.4-1.8 .1M323.7 42.9l-.3 2.6 .3 4.4 .9 5 1.3 4.5 3.2 6.9 4.5 5.9 5.5 4.3 5.2 3.2 4.8 2.2 7.3 1.8 4.2 .1 2.8-.5-7.3-1-4.5-1.5-4.1-2.2-4.7-3.9-3.1-3.6-2.7-4-3.9-7.1-4.9-11.4-.9-1.3-1.8-1.4-1.8-3M387.1 79.6l-.5 1-.1 1.8 .6 1.2 .9 .2 .9-1 .1-1.8-.7-1.3-1.2-.1M351.6 22.5l-1.2 1.4 .3 .1 .9-1 .3-.5-.3 0M350.2 24l-.6 .8 .2 .4 .6-.9-.2-.3M349.3 25.1l-2.7 3.8-2.2 4-1.8 4.4-.3 1.4 .3 .2 2.4-6 1.9-3.6 2.9-4.1-.5-.1M378.1 28.8l-6.2 1.4-3.1 1.3-1 .9 17.4-3.1-2.6-.6-4.5 .1M323 30.5l-.6 11.8 .4 5.6 1 6.1 1.4 5 1.8 4.5 2.3 4 2.7 3.6 3.2 3.2 3.3 2.4 7.2 4.1 5.4 2.1 4.5 1 4.5 .1 4.8-.7 3.2-1.4-4.4 .7-3.6 0-6.7-1.3-3.2-1.4-3.3-2-3.3-2.7-2.8-3.2-3.6-5.8 0-1.6-3.7-11.5-1.1-7.2 .1-6.7 .9-6.3 1.8-6.8 2.6-6.3-.2-.2-.4 .7-2.3 4.5-2.7 7.6-1.3 6.3-.9 9.2-.5-.2-2.2-4.2-1.8-2-.5-1.4-.5-5.9 .8-6.9M366.4 35.5l-1.4 1 .1 1.9 3.6 .4 3.2-1-.3-.9-1.6-1.1-1.8-.4-1.8 .1M391.2 36l-1.6 .5-.8 .9 .2 .9 1.3 1 3.6 .7 1.4-.4 1-.9-.2-1-1.3-1.1-3.6-.6M410.1 35.9l-1.4-.2-.1 .3 3.7 4.1M342.1 38.9l0 1 0-1M391.6 74.4l-1.5 10.7-1.4 4.5-3.1 6.7-4.3 6.3 .4 .1 1.4-1.4 .9-1.8 2.8-3.6 2.2-4.5 0-.9 .9-1.4 0-.9 .9-1.8 0-1.3 .5-.5 0-1.8 .4-.4 0-2.7 .4-.5 0-3.8-.5-1M314.7 75.2l4.4 4 4.3 3.2 4.4 2.7 4.8 2.2 5.4 1.8 4.1 .9 6.8 .6 3.4-.6-10.2-.7-5.4-1.3-4.5-1.7-4-1.9-5-3-5.4-4.2-3.6-3.4M387.1 79l-1 1.1 0 1.8 .6 1.9 1.3 .7 1.1-.8 .5-2.2-1.1-2.3-1.4-.2M411.9 83.3l-.5-4.6-1.3-6.1-1.8-5.2-2.3-4.9-2.7-4.4-3.1-4.1-4-4-1.9-1.4-.6 0 4 3.6 3.2 3.6 3.1 4.5 1.9 3.6 2.1 5 1.4 4.5 1.3 6.3 .5 5.2M380.8 103.2l-2.2 2.6 .4 0 1.9-1.8-.1-.8M348.6 110.9l5.9-1.5 4.9-1.8 4.7-2.3 5.1-3.1 4.9-4.1 4-4.4 3.2-4.7 .9-2.1 0-1-4.2 5.9-3 3.5-3.6 3.4-4.5 3.3-5 2.7-4.9 2.2-5.9 1.8-5.8 1.1M358.8 9.5l-6.5 5.4-3.9 4-.3 .5 .3 0 5.4-5.4 .5 .1 1.8-1.9 .4 .1 1.4-1.4 .4 0 1.9-1.4M365.8 9.5l-5.7 3.6-5.6 4.5-4.7 5-3.6 5-3.2 6-1.8 5.6-.8 4.9-.1 6.9 1.2-5.5 2.9-8.5 3-5.9 3.7-5.2 5-5.1 5.4-4.1 6.3-3.6 6.7-2.8M337.5 16.8l-2.6 5.1-2.2 5.8-3.6 14.2-.5-.1-2.2-3.7-.7-2.1 0-4.5 .9-5.6M392 17l-6.7 .1-6.4 .9-6.7 1.8-5.4 2.3-5.4 3.1-5 4.1-3.5 3.9-1.8 3.1 0 .6 12.6-9.2 4.5-2.2 5-1.8 6.3-1.4 6.7-.6 6.8 .2 7.4 1.3M347.5 20l-1.2 1.6 1.3-.9-.1-.7M345.7 22.4l-.4 .6 .5 0-.1-.6M344.8 23.7l-.4 .6 .5 0-.1-.6M343.9 25.1l-.3 .6 .4 0-.1-.6M322 31.4l-.3 6.4 .2 6.3 .7 6.8 1.3 5.8 1.5 4.5 2.2 4.5 2.7 4.1 3.3 3.7 4 3.3 6.8 3.6 4.9 2.2 5.4 1.3 4.5 .4 4.5-.5 4.5-1.4 4.5-2.7 1-.9-.5 0-5 2.5-3.1 .8-3.2 .3-4.9-.4-5.9-1.8-4.5-2.8-2.9-2.7 .3-.4-.5 .1 .1-.6-3.4-4.5-2.7-5.4-2.5-7.6-1.3-6.3-.3-5.9 .5-6.3 1.7-7.2 2.3-5.8 3.5-6.3 3.9-5.4M408.4 33l-7.1-2.8-6.7-1.8-6.6-.9-6.7 0-6.3 .9-5.4 1.6-11.9 6.9 .6 .1 3.6-1.7 5.4-1.6 8.6-1.7 11.7-1.1 5.4 .2 5.4 1.3 4 1.8 2.8 2.3 2.6 3.1 2.3 1.2 4 3.5M366.9 35.1l-1.4 .4-.9 .8-.3 2 .3 .4 2.3 .5 2.8 0 3.5-1.4-3.2-2.3-3.1-.4M389.4 36l-1.1 .9-.1 .9 .7 1.2 1.8 1 1.8 .4 2.3-.1 1.6-.7 .6-.9-.4-1.3-1.8-1.2-2.7-.6-2.7 .4M384.4 39.3l-.1 .3 .9 .9 3.6 1.8 4.2 .9 1.6-.4-3-.2-3.1-.9-4.1-2.4M394.3 47.7l.5-.3 .7 .8-.3 .2-.9-.7M396.7 49.5l.3-.2 .7 .7-.2 .2-.8-.7M313.8 51.5l2.7 6.7 3.1 5.8 3.6 5 4.7 4.8 5.1 4.1 5.6 3.1 3.8 1.4 7 1.3-.1-.4-2.2-.5-11.7-6.5-5-4.4-3.9-4.4-1.8-2.7-.5-1.3-.9-.9-2.7-5.9-2.5-8.1-1.3-7.4M416.6 66.5l-3.4-6.2-4-5.6-4.3-4.7-4.9-4.1-2.5-.7-5.4 .1 .4 .9 .5-.1 1.2 1.2-.3 .2-3.3-2-3-1.1-.6 .2 6 4.3 4.1 3.8 3.8 4.5 3.1 4.9 2.7 5.9 1.8 5.8 1.2 6.8 .4 6.8M409.2 67.5l.3 .5-.4 0 .1-.5M409.6 68.4l.4 .9-.4 .2 0-1.1M410.1 69.8l.4 .9-.4 .1 0-1M315.6 78.1l5.5 4.3 5.9 3.6 6.2 2.7 6.2 1.8 5.9 .8 5.8 0 4.5-.7 6.8-2-10.4 .5-5.4-.2-5.8-1-5.9-1.8-5.8-2.8-5.6-3.6-5.2-4.5-5-5.4M412.2 83l0-2.4-.5-.5 .1-2.7-.5-.4 .1-2.3-.5-.4 0-1.4-.5-.4 .1-1.6 2.5 10.4M362.8 88.2l1 0-1 0M327.7 98.1l6.2 1.4 7.3 .8 6.8-.2 6.2-1.1 5.8-1.8 5.6-2.7 3.2-2.2 4.4-4.1-8.6 4.8-4.9 2.2-5 1.5-6.3 1-4.9 .1-.5-.3-4-.1-2.7-.8-1.8-.1-.5-.4-1.3 0-3.2-1.3-.9 0-1.3-.9-.9 0-4.1-2.2M401.2 99l1.3-5.4 .9-7.6-.1-6.3-.9-6.4-1.8-6.3-2.7-5.8-3.1-4.5-4.4-4.5 4.4 7.2 2.8 5.9 1.9 5.8 .9 5.9 .2 6.7-1 7.2-1.8 6.8-2.4 5.8M382.4 110.3l4.3-5.5 3.1-5.2 2.7-5.9 1.8-6 .9-5.5 .1-7-1-5.2-1.3-2.5-.3 .9 .3 7.7-.3 5.4-.9 4.9-1.7 5.4-2.7 5.9-3.1 4.9-4 5-5.1 4.9M350.9 111.6l5.7-1.8 6.2-2.7 5.3-3.1 4.6-3.6 4.1-4 3.6-4.6 2.2-4 2.7-6.3 1.4 2.9 .9 .6 1.2 .1 .3 .4-1.2 4.1-2.5 5.4-3.2 5-4.1 4.9-4.9 4.7-5.2 3.8M370.1 113l2.2-1.2 1.3-1.4 .5 0 6.9-6.4 0-.5 2.3-2.2 1.8-3.2 1.8-2.2 2.3-4.5-.1-.9 1-1.4 .4-2.2 .5-.5 0-1.3 .5-.5-.1-1.8 .5-.4 0-2.7 .5-.5-.1-6.7-.5-.5-.1-4.5-.4-.4-.6-3.7 .3 7.7-.7 8.7-.5 .5-1.3-1.6-1.9-.4 .1-3.4-.2 1.2-2.4 4.9-3.7 6.1-3.6 4.7-4.1 4.3-6.4 4.7-7.5 3.7-8.6 2.5-9 1M363.9 9.5l-7.4 5.2-5.8 5.7-4.7 6.2-3.7 7.2-2.2 7.6-.6 9.9 .4 7 1.8 6.7 .3-.2-.9-3.1-.6-5 .6-7.6 3.3-9.9 4.6-8.6 5.7-6.6 6.8-5.4 8.1-4.4 8.9-3M356.1 10l-4.5 4-4.1 4.4-3.6 5-2.7 5-2.2 5.4-1.4 5.4-.7 5.8 .3 5 .1-7.2 .5-.5-.1-2.2 .6-.5-.1-1.3 .5-.5 0-1.3 .5-.5 .4-2.2 1.4-2.3 0-.9 .9-1.8 .9-.9 .4-1.3 1-.9 1.7-3.2 1.9-1.8-.1-.4 6.1-6.1 .5 0 1.8-1.8 .4 0 1.4-1.3 .4 0 2.1-1.6M389.7 15.6l-8.4 .9-7.7 1.8-6.9 2.9-6.6 4-4.9 4.3-3.6 4.5-5.4 9.2-1.8 4.4 0 1.4 3.2-6.2 4.8-5.4 8.6-7 7.2-4 8.1-2.6 7.7-1.1 8.5 .2 9.3 1.7M336.3 17.6l-3.4 7.6-3.8 11.8-.5 .1-.6-1.1-.8-4 .1-3.2 1-4.5M407.7 31.9l-8-3.5-4.9-1.2-5.4-.7-5-.2-4.9 .4-8.6 1.9-5.4 2.5-8.1 5.3-3.9 3.2-2.8 3-2.3 3.3-1.8 3.8-.6 2.5 .2 .3 1.2-3.4 1.8-3.2 3.3-4 4.9-3.9 5.9-2.6 1.1 .2-.3 2.2-.8 .8-3.5 1.5 .3 .2 4.5-1.4 1.4 .5 7.6 0 5 1.4 5.8 2.8 5.7 3.7 5.8 4.9 4.3 5 3.1 5.1 2.7 6.1 1.8 6.4 1 6.7 .2 7.4M321.1 32.8l.1 11.8 1.7 11.2 2.8 7.7 4.7 7.6-.9-.4-2.7-3.2-1.9-2.7-.5-1.3-.9-.9-1.8-3.6 0-.9-.9-1.4-.1-.9-1.3-3.1-.5-3.2-.4-.4-.5-4.5-.4-.5-.1-4.5M382.6 32.9l.9 0-1.3 1.8-.9 2.7-.5 .5-2.7-.6-4.9-.2-2.7-1.8-2.8-1.1 7.7-1.2 1.8 .1 1.8 .7 3.6-.9M386.5 36.5l.2-.4 0 .7-.2-.3M386.2 36.9l0 .7 0-.7M398.8 38.3l0 .9 0-.9M371.6 38.7l2.5-.3 .4 .3-.4 .4-2.5-.4M374.7 39.2l1.2-.3 1.2 .3-.3 .3-2.1-.3M364.6 39.6l.8 0-.8 0M377.4 39.6l1.3 0-1.3 0M395.9 41l.8 0-.8 0M383 41.4l.8 0-.8 0M376.8 42.3l.6 0-.6 0M378.1 42.7l.6 .1-.6-.1M379 43.1l.7 .1-.7-.1M379.9 43.6l.7 .1-.7-.1M380.8 44l-.1 .1 .6 .3 .2-.3-.7-.1M343.9 49.1l0 1.2 0-1.2M343.5 51.1l0 .8 0-.8M345.7 52.7l0 1.2 0-1.2M313.4 53.6l2.1 4.9 2.8 5 3.1 4.5 3.1 3.6 3.3 3.1 4 3.2 4.5 2.7 4 1.8 12.6 2.8 5.4 .4 5.2-.5 1.6-.5-1.8-.1-.5 .4-5.8 0-4.1-.9 7.7 .4 5.4-.9 5.8-2.8 4.5-4 1.4-2 0-.7-2.3 2.5-2.8 2.3-3.4 1.8-3.2 1-5 .6-5.6-.7-1.5-.5 1-.4-2.2 0 .9-.5-4.3-2-4.3-3.4-3.8-4.5-2.5-4.5-2.3-6.3-1.8-8.1-.5-6.7 .6-6.8 1.9-7.2 2.6-6.3 3.7-6.3 4.5-5.8M385.3 56.1l0 .7 0-.7M385.8 57l0 .9 0-.9M386.2 58l0 1.1 0-1.1M389.7 59l.1-.4 .8 1.7-.3 .8 0-1.2-.7-.5 .1-.4M390.6 61.7l.1-.4 .3 .8-.3 .3-.1-.7M391.1 63.5l.1-.4 .3 1.3-.3 .2-.1-1.1M416.8 64l-3.6-5.9-4.3-5.4-6.6-6.3-.8-1.4-2.5-.9 0-.4 3.2-1.8 2.5-1.9 1 2.3 3.5 .8 6.3 5.6M342.1 65l0 1 0-1M391.6 65.7l.3 1.4-.3 .2 0-1.6M342.6 66.1l0 .8 0-.8M343 67l0 .7 0-.7M392.1 69.3l0 2.9 0-2.9M316 79.7l7.2 5.1 8.1 4.1 7.7 2.3 8.1 .9 7.2-.6 12.1-3.7 6.8-3.6 3.2-2.7 .4-.9-2.7 2.4-3.6 2.2-3.6 1.5-4.5 1.2-5 .5-6.3 .1-8.8-1.2-8.1-2.7-7.8-4.5-7.3-6.3-6.2-7.7M377.7 79.7l-.9 .9 .4 .1 .5-1M392 79.7l.3 0-.2 2.3-.1-2.3M355.6 81l1 0-1 0M391.5 82.8l.5 0-.4 1.8-.1-1.8M349.9 83.3l1 0-1 0M351.2 83.7l1.6 0-1.6 0M366.9 83.7l0 .3 1.1-.3-1.1 0M365.5 84.1l0 .4 1.3-.3-1.3-.1M391.1 85.1l.4 0-.3 1.5-.1-1.5M390.6 86.9l.5 0-.4 1.3-.1-1.3M390.2 88.2l.5 0-.4 1.4-.1-1.4M402.3 97.9l1.5-8.3 .3-8.1-1.1-8.1-2.1-7.2-2.9-5.9-3.3-4.5-8-8.1-4.4-3.1-.8 0 5.1 4 4.7 5.9 4.6 9 2.7 8.5 .9 7.7-.5 8.1-2.2 9-3.5 8.3M329.3 99.7l7.9 1.3 8.1 .2 7.6-1.1 6.8-2 5.4-2.6 4.7-3.2 7.9-7.6 3.9-5.5-.3 0-2 2.7-3 3-5.4 4-9 4.8-8.5 2.6-8.1 .9-8.6-.7-8.1-2-6.3-3M385.1 109.4l4.7-7.2 3.6-8 2.1-7.8 .7-7.6-1-8.2-3.6-10.2-3.1-5.8 0 .8 1.3 2.7-.4 .3-.1-.8-.6-.4 .1-.5-.6-.4 .1-.5-.5-.4 .1-.5-3-3.7-.3 .1 3.6 5.9 1.9 5.8 .6 7.2-.9 8.6-2.7-1-.1-.4 1-6.8 .2-3.1-.6-4.9-.9-3.4-.1 .7 .8 3.6 .1 4.9-.6 4.1-1 3.6-1.8 4-2.4 4-3.6 4.8-4 4.4-6.8 5.4-4 2.3-4.5 2-9.5 2.6-10.6 .8M352.5 112.1l5.8-2 5-2.4 4.9-2.9 5-3.9 3.7-3.7 3.6-4.5 2.4-4 2.4-5.7 1.4 2 1.4 1 .1 .9-2 4.9-2.7 4.9-3.6 4.9-4 4.3-4.6 3.9-5.4 3.6M370.3 113l2-1.1 4-3.6 .5 0 6.6-7 1.8-3.2 1.8-2.2 2.3-4.5 0-.9 .5-1 .5 .1-1.8 4.5-4.1 7.1-4.7 5.9-5.6 5.4M362.7 9.5l-4.8 3.4-4.1 3.4-3.8 4-3.4 4.5-2.8 4.5-2.2 4.9-1.5 5-.7 4.5-.1 9.4 .4 5 1 4.5 1.8 4.5 2.3 3.8 3.8 3.8 4.3 2.8 4.1 1.4 1.4-.1-2.8-.7-3.1-1.4-4.5-3.2-2.8-3.3-2.7-4.9-1.3-4.5-.5-5.4 .5-5.4 1.4-5 2.9-6.7 3.3-5.9 3.3-4.5 4-4.1 5.4-4.2 5.4-3.1 6.3-2.8 6.8-2M354.6 10.4l-4.4 4.2-4 4.8-3.3 4.9-2.8 5.4-2 5.9-1.1 5.4-.4 5.4 .6 5.5 .2-9.1 .6-.5-.1-2.2 .5-.5 0-1.3 .5-.5-.1-1.3 .5-.5 .4-2.2 1.4-2.3 0-.9 .9-1.8 .9-.9 .5-1.3 1.8-2.3 .9-1.8 1.8-1.8 0-.4 5.9-6 .5 0 1.8-1.8 .4 0 1.4-1.3 .4 0 2.2-1.7M388.6 15l-5.5 .5-5.4 1.1-5.4 1.6-4.5 1.9-8.1 4.9-3.6 3.1-3.2 3.4-2.2 3.2-5 8.9-1.8 4.6-.9 3.7-.3 4.4 .3 4.6 .9 3.4 1.8 3.8 .3-.1-1.9-5.4-.6-5 .2-4 1.3-5 2.2-4.5 3.4-4.5 3.2-3.2 5.4-4.3 5.1-3.3 4.5-2.2 5.3-1.8 4.9-1.1 5.9-.5 5.8 .1 5.9 .7 6.1 1.5M335.3 18.5l-2.8 6.3-2.5 7.4-.9 1.4-.6-1.6-.1-2.7 1.4-6.6M407.5 31.7l-4.2-2.2-2.2-.5-2.7-1.2-5.4-1.3-6.3-.5-.5-.4-5.4 .1-.4 .3-3.6 .2-8.1 2.4-3.6 1.9-8.1 5.8-6 5.6-2.6 3.6-1.8 3.6-1.3 4.6-.2 2.6 .2 3.1 .3-3.6 1.3-4.9 2-4.1 2.2-3.1 5-4.5 5.8-3.1 1.7-.1 .1 1.9-6.7 3.5-4.3 4.1 3.8-3 .5 .1 .9-1 .4 .1 .5-.5 1.2 .2-.6-.4 .3-.2 1.4 .2-.8-.5 .7-.1 .5-.6 .9 .6 4.5-.8 6.3 0 4 .9 6 2.7 5.9 3.6 5.3 4.5 4.4 5 4.1 6.5 2.7 6.6 1.7 7.1 .7 7.2-.2 7.3M373.4 33.8l2.9 .3 2.2 1.9-2.6 1-3.2-.4-2.8-1.9-.2-.5 3.7-.4M320.3 34l0 7.9 1 9 1.7 7.2 2.8 7.2-.8-.5-3.2-5.8 0-.9-.9-1.4-.9-3.6-.5-.4-.5-3.2-.4-.4 0-1.8-.4-.5-.1-2.2-.4-.5 0-4.7M372.6 38.7l1.7 0-1.7 0M364.4 39.2l.8 0-.8 0M376.1 39.2l.8 0-.8 0M362.5 39.6l1.3 0-1 .3-.3-.3M361.5 40.4l-.3 .1 .3 .2 .8-.2-.8-.1M364.2 41.4l1.8 0-1.8 0M362.8 41.8l-.3 .1 .3 .2 1-.2-1-.1M361.5 42.3l0 .2 .7-.2-.7 0M360.6 42.7l.4 .1-.4-.1M370.7 43.2l.9 0-.9 0M360.1 44.6l.6 0-.6 0M352.9 48.6l-.5 1.4 .7-.9 .2-.5-.4 0M350.2 50.4l0 .7 0-.7M349.3 51.3l.5 .8 .1-.8-.6 0M348.9 52l-.2 .7 .6 .6 .2-.6-.6-.7M348.4 52.9l-.2 1.1 .6 .5 .1 2 .2-2.5-.7-1.1M337.6 53.5l0 1.5 0-1.5M348 54.3l-.5 3.8 0 1.4 .5 .8 .4-.9-.4-5.1M313.1 54.7l2.2 4.7 2.9 5 6.1 7.6 7 6.1 4.5 2.7 4.1 1.8 4 1.2 9.6 1.7 8.4 0 4.2-.9 4.4-1.8 2.1-1.3-.8-.1-.9 .7-3.1 1.4-1.1-.2 4.7-2.1 5-4.2 3.1-5 .8-2.7-.4-1.2-.9 1.2-2.2 5.1-2.4 2.6-3 2.3-.9-.1 1.3-.7 0-.4-4.9 2.2-4.5 .9-4.1 0-4-1-5-2.3-4.1-3.2-3.5-4-3-5.4-2.2-6.8-1.6-8.1-.3-6.3 .7-6.7 1.8-6.8 2.8-6.5 3.9-6.5 4.7-5.9M384.4 59l0 1.2 0-1.2M384.9 60.4l0 1.9 0-1.9M416.8 62.3l-5-7.4-3.6-4-4.8-4.5-.3-.9 .6-.9 1-.4 2.2-.2 1.4 .3 3.2 2.5 4.4 4.4M381.3 64.2l0 1.1 0-1.1M346.2 68.2l0 .7 0-.7M382.6 70.7l0 1 0-1M382.2 72l0 1.1 0-1.1M373.6 76.5l-.4 .6 1-.6-.1-.3-.5 .3M358.8 79.2l1.8 0-1.8 0M369.7 79.7l.8-.4 .1 .4-.9 0M368.7 80.1l.9-.2 .1 .2-1 0M367.6 80.6l1 0-1 0M373.2 80.5l-.6 .5 .1 .4 1.1-.8-.6-.1M316.5 81l8.5 5.6 8.6 3.7 4.5 1.3 4.9 .8 9 .1 4.1-.8 8.1-2.8 7.6-3.6 3.4-2.5 3.4-3.4 2.2-3.3 1.1-2.7-.2-.2-2 3.8-3.4 3.8-3.1 2.6-4.1 2.2-4 1.4-5 1-4.9 .2-6.3-.5-6.3-1.1-4.5-1.4-5-2.1-4.5-2.7-4.5-3.3-4-3.8-3.8-4.4-3.4-4.9M366.2 81l1.2 0-1.2 0M364.2 81.5l1.6 0-1.6 0M358.5 81.9l5.1 0-5.1 0M365.3 83.7l1.3 0-1.3 0M363.2 84.2l1.8 0-1.8 0M357.8 84.6l4.5 0-4.5 0M387.5 94.5l.4 0-.3 .6-.1-.6M387.1 95.4l.3 0-.3 .6 0-.6M386.7 96.3l.3 0-.8 1.3 0-.8 .5-.5M403.1 96.6l1.4-10.2-.5-9.9-2.2-9-4-8.1-2.7-3.6-6.1-6.3-3.2-2.7-4.1-2.7-4-1.8-3.2-.9-3.1-.5-5 .1 5.4 .3 4.1 1 4 1.7 4.4 2.8 3.3 3.2 3 4 5.2 10.4 1.8 5.4 .9 4.5 .5 4.9-.1 5-.8 5.4-1.3 5.4-2 5.4-2.4 5.1M330.7 100.7l10.1 1.1 9.9-.8 4.5-1 4.9-1.6 7.7-4.1 3.1-2.5 6.3-6.3 5-6.7 1.8-3.8 1.3-5 0-7.6-.2 6.5-.9 4-1.8 4.1-2.3 3.6-2.9 3.2-4 3.4-10 5.5-4.7 1.8-5.3 1.4-4.8 .6-5.4 .1-5.8-.7-4.4-.9-5.7-1.8-5.2-2.2M386.2 108.9l5.4-9.1 3.5-9.3 1.4-9.5-.1-4.9-.6-4.5-1-3.6-3.2-8.2-2.2-4.4-2.3-3.3-2.7-3-4.9-3.6-3.9-1.8-3.8-.9-6.6 0-2 .4 .1 .6-1.4-.1 0 .6-1-.2 .6 .6 2.7-.8 4-.4 5.9 1 5.4 2.6 2.7 2.1 2.5 2.6 3.5 5.8 1.8 5.9 .5 6.7-.8 7.7-.8 .2-1.3-.5-.4-.6 1-5.9 .1-4-.6-5-.9-3.1-2.7-5.4-2.4-2.8-2.2-1.9-.3 .2 3.4 3.7 2.5 3.9 1.7 5 .5 4-.2 4.5-1.3 5.4-2.3 5-2.7 4.1-4.5 5.4-4.5 4.4-4.5 3.4-4.9 2.8-5.9 2.3-6.3 1.6-6.7 .9-6.5 .1M354 112.3l5.7-2.2 5.4-2.7 4.9-3.2 3.6-3 4-4 3.1-4 2.7-4.5 1.9-4.6 2.2 2.3 0 .9-2.2 5-3.6 5.8-3.6 4.4-4.4 4.2-4.7 3.6-5.3 3.1M370.4 113l1.9-1 1.3-1.4 .5 0 7.1-6.6 0-.5 2.3-2.2 0-.5 2.3-3.2 .4 .1-1.3 2.1-4.1 5.4-3.9 4.2-4.1 3.6M362 9.5l-4.1 2.9-4.5 3.9-3.9 4-3.1 4-2.7 4.5-2.3 5-1.7 5.4-.7 4.5 .2 10.3 .5 5 1.3 4.9 1.9 4.1 3.2 4.5 3.7 3.3 4 2.2 5 1.4 2.8-.2-7.1-1.8-4.7-2.6-3.6-3.4-2.8-4.3-1.7-4.5-.9-5.4 .3-5.4 1.1-5 3.4-8.1 3.3-5.8 3.6-4.9 4-4.1 5.4-4.1 5.9-3.3 6.3-2.6 6.9-2M354.2 10.4l-4.6 4.5-4.1 4.9-3.2 5-2.6 5.4-1.8 5.4-1.3 6.7-.1 5.4 .7 5.1 .3-10 .5-.5 0-2.2 .5-.5 0-1.3 .4-.5 0-1.3 .5-.5 .4-2.2 1.4-2.3 0-.9 .9-1.8 .9-.9 .4-1.3 1.8-2.3 .9-1.8 1.8-1.8 0-.4 5.9-5.9 .5 0 1.8-1.8 .4 0 1.4-1.4 .4 0 2.2-1.7M387.8 14.7l-5.2 .6-5.8 1.2-5.4 1.8-5 2.2-4.5 2.6-4.5 3.4-3.2 3.2-2.9 3.6-6.5 12.2-1.3 4-.9 5.9 .4 5.8 1.4 4.5 2.2 4.1 2.7 3 .3-.3-3.3-4.5-1.7-4.1-.9-4.5 0-4.9 1-4.5 2.1-5 3.2-4.5 4.3-4.3 6.3-4.8 4.9-3 5.1-2.3 6.4-1.8 6.5-.8 6.3 0 6.8 .8 6.6 1.7M335 18.5l-5.5 12.8-.4-1 .1-2.4 1.4-6M407.4 31.5l-4.1-2.1-2.2-.5-2.7-1.2-5.4-1.3-6.3-.5-.5-.4-5.4 .1-.4 .3-3.6 .1-.5 .4-1.8 .1-.4 .4-4.5 1-5.9 2.7-11.2 9.5-2.4 2.7-2.3 3.6-1.8 4-.8 3.2-.2 4 .8 5-.2-5 .5-3.6 1.4-4.3 2.3-4.1 2.7-3.3 3.1-2.7 4.7-2.7 2.1-.7 .9 .1 .4 1.1-.4 .8-4.1 1.8-3 1.9-4.6 4.6-1.8 3-1.8 4.3-.7 5.2 1.1 6.5 1.4 2.8 2.2 3 2.7 2.6 2.9 1.7 2.5 1 4.3 .4 2.2-.5 2.9-1.3 2.8-2.3 1.8-2 2.7-4.7 .5-1.8-.1-3.2-.4-1.2-.3 3.9-1.6 4.1-1.8 2.2-2.6 2.2-3.2 1.6-3.6 1-2.7-.1-3.6-1.3-2.7-2.1-2.5-3.1-2.2-4.9-.8-4.1 .4-3.6 .8-2.7 4.3-4.9 .7-1.4 3.4-2.7 4-1.8 4.5-.9 3.6 0 4.5 .8 4.5 1.9 3.6 2.3 3.9 3.6 4.1 5.8 3.9 8.1 2.1 6.3 1.1 6.8 0 7.2-1.1 7.2-2.3 7.3-3.5 7.5M371.3 34.2l4.1 .1 1.4 .8 .5 .9-1.4 .8-2.7-.1-2.7-2 .8-.5M319.7 35.1l.1 6.8 .6 6.3 1.3 6.7 1.8 6.3-.3 .1-1.3-2.3 0-.9-.9-1.4-1-3.6-.4-.4-.5-3.2-.4-.4 0-1.8-.5-.5 0-2.2-.4-.5 0-4.8M373.3 38.7l.9 0-.9 0M362.6 39.6l.9 0-.9 0M361.3 40.1l.8 0-.8 0M357.7 41.9l.6 0-.4 .3-.2-.3M337.6 53.4l-.3 .2 .3 2.1 0-2.3M312.9 55.1l2.5 5.2 2.7 4.5 6.2 7.7 3.9 3.5 4 3 4.1 2.3 4 1.7 3.6 1 9.5 1.6 4.5 .3 4.5-.3 3.9-1 4.3-1.8 3.9-2.6 2.8-2.8 .6-.9-.2-.3-4.1 4.1-1.3 .9-.6-.2 3.3-2.4 2.7-3.1 .4 .7 .7-1-.2-.3-.5 .5 0-.5 .5-.8 .4 .7 .3-.5-.4-.5 .1-.5 .6 .5-.1-1.4 .4 .7 0-1.7 .5 .7 0-1.9 .4 .6 0-1.9 0-.3 .5 .5 .5-2.9-.4-9-1.9-3.7-2.5-3.1-1.9-1.3-2.1-.9-4.3-.9-2.3-.1-2.5 .1-3.8 .9-2.7 1.3-2.2 2.1-1.4 2-.9 2.8 0 1.9 .5-.2 2-4.1 2-2.3 3.2-2 3.6-.8 4.5 .3 3.1 1 3.6 1.9 2.5 2.4 1.5 2.7 .8 3.6 0 2.7-.9 4-3 5.9-4 4-2.3 1.4-4.5 1.7-4.5 .6-4.9-.5-4.1-1.3-4-2.4-3.6-3.1-3.4-4.5-2.2-4-1.8-5.4-1.8-9-.4-6.8 .6-6.2 1.8-6.9 2.7-6.4 4-6.7 5-6.2M383.5 56.7l0 .9 0-.9M416.8 61.4l-5.2-7.4-7.8-8.1 .4-.9 .9-.3 2.7 .2 3.6 2.8 4.5 4.5M383.5 64.9l0 2.8 0-2.8M370.9 81.5l.7 0-.7 .4 0-.4M316.9 81.9l9 5.7 5 2.3 5.4 1.7 9 1.5 4.9 0 4.5-.6 13.1-4.9 3.6-1.9 3.6-2.6 3.6-3.6 2.3-3.4 1.8-4.1 .5-3.6-1.8 5.4-2.2 3.6-3.3 3.7-3.6 2.7-4.5 2.3-4.5 1.3-5 .6-5.4-.2-5.8-.7-7.2-1.7-5-2-4.9-2.7-5-3.5-4.5-4.2-4-4.7-3.6-5.2M359.8 81.9l3 0-3 0M370.1 81.9l.8 0-.8 0M369.2 82.4l.8 0-.8 0M368.1 82.8l.9 0-.9 0M367 83.3l.8 0-.8 0M365.6 83.7l.8 0-.8 0M403.4 96.3l1.1-6.7 .3-6.8-.7-7.2-1.4-5.8-2.2-5.9-2.8-4.9-2.8-3.6-4.9-5-4.2-3.7-4.1-2.7-4.9-2.1-4.5-1-6.3 .1-3.6 .8-3.2 1.4-5 3.6-1.9 2.3-2.1 3.6 0-1.2 1.7-3.3-.7 0 .1 .4-.6 .8-.3-.3 2.5-2.7-.2-.5 2-2 .5 .5 .5-.3-.1-.5 .7 .1-.2-.6 .4 .3 .4-.2-.6-.4 .2-.2 .5 .5 5.8-2.7 4.5-.8 5-.1 4.5 .9 3.6 1.5 7.1 4 4.1 3.2 3.7 3.6 4 5 2.7 4.4 2.3 5 1.7 5.8 1.1 5.9 .4 6.3-.4 6.6M385.3 98.1l.4 0-.4 .6 0-.6M384.4 99.5l.4 0-.4 .6 0-.6M383.5 100.8l.4 0-.4 .6 0-.6M331.2 101.1l10.5 1 4.9-.2 5.4-.8 5-1.3 4.9-2 4.1-2.1 4-2.9 9.5-9.8 2.7-4 1.8-3.8 1.3-4.8 .4-4.2-.3-4.1-1.4-4.5-.2 .5 1.2 5.4 .1 4.5-.9 4.5-1.4 3.6-2.8 4.5-3.2 3.5-4.1 3.2-5.4 3.2-5.8 2.7-5.5 1.8-4.7 .9-6 .4-5.6-.4-6.8-1.4-5.5-1.8-6-2.6M382.2 102.6l.4 0-1.3 1.7-.1-.8 1-.9M386.9 108.5l3.1-5 2.3-4.5 2.2-5.8 1.3-5 .7-4.9 .2-5-.4-4.9-.9-4.1-4.6-11.7-2.7-4.5-2.8-3.2-3.5-3.1-3.8-2.2-5.3-1.8-3.6-.3-4.5 .3-3.1 .9-3.6 1.8-1.5 1.3 8.7-2.7 6.3-.1 5.8 1.9 5.3 3.6 2.5 2.7 1.8 2.7 2.7 6.8 .9 7.6-.4 5.4-.6 3.1-2-.8 .9-5.9 0-4.9-.6-4.5-1.3-4.1-2-3.5-2-2.8-2.5-2.3-2.7-1.5 4.1 3.8 2.7 3.6 2.2 5.1 .9 4.4 .1 4.5-1 5-1.8 4.7-2.8 4.7-5.2 6.3-4.6 4.5-4.5 3.4-5.1 2.9-5.7 2.2-6.7 1.8-6.3 .7-6.9 .1M354.4 112.5l5.3-1.9 5.4-2.8 4.9-3.2 3.6-2.9 4.4-4.5 3.1-4 2.7-4.5 1.5-3.9 1.7 1.6-.3 1.9-3.2 6.2-3.6 5-4 4.3-4.5 3.8-4.6 3.1-5 2.7M370.4 113l1.9-1 1.3-1.3 .5 0 6.3-5.8 .4 0-2.7 2.9-5.8 5.2M353.7 10.4l-4.5 4.5-3.7 4.5-2.7 4-2.6 5-1.9 4.9-1.4 5.4-.6 5.9 .1 4.5 1.2 7.2 .3-2.7-.6-.5 .3-10.3 .5-.5 0-2.2 .4-.5 0-1.3 .5-.5 0-1.3 .4-.5 .5-2.2 1.3-2.3 0-.9 .9-1.8 .9-.9 .5-1.3 1.8-2.3 .9-1.8 7.6-8.1 .8 0-4.6 4.5-3.6 4.5-3.1 5-2.7 5.8-1.4 4.5-.8 4.5 .8 13.1 .9 4.9 1.4 4.1 1.8 3.6 2.9 3.8 2.2 2.2 4.1 2.6 3.6 1.5 4.9 .8 2.2-.1-.1-.5-3.4-.4-3.6-1-3.2-1.3-3-1.8-3.3-3-2.7-3.7-1.8-4.1-1.1-5.8 .1-5.4 1.1-5.4 2.4-5.9 3.8-7.2 3.6-5.1 4.6-4.8 5.3-4.1 6.3-3.5 6.8-2.7 6.9-1.8M357.9 11.3l.6 0-.6 .4 0-.4M356.1 12.6l.6 0-1.1 .9 .5-.9M387.1 14.4l-5.8 .7-5.9 1.4-4.9 1.8-5 2.3-4.9 3.1-4.1 3.3-3.8 4.1-2.2 3.1-4.4 8.1-1.9 4.5-1.3 5-.4 5.4 .9 5.8 1.8 4.5 2.8 4.1 3.6 3.2 1.4 .4-4.4-4.1-3-4.9-1.4-4.5-.5-5.4 .9-5.9 1.9-4.5 2.5-4 3.9-4.3 7.1-5.6 5.2-3.2 4.9-2.2 6.1-1.8 6.4-.9 7.7 0 6.7 .9 6.8 1.8M334.3 19.1l-3.9 8.9-.4 0 0-1.4 1.4-5.4M407 30.7l-8.6-3.2-5-.9-.4-.4-6.3-.4-.5-.4-5.4 .1-.4 .3-3.6 .1-.5 .4-1.8 .1-.4 .4-4.5 .9-5.9 2.8-3.4 2.4-7.8 6.9-4.6 6.1-1.5 3.2-1.2 4-.4 3.6 .3 4.1 2 5.6 .1-.7-1.2-4.5-.1-4.9 .7-3.9 2.3-5.2 3.1-4.3 4.5-3.7 5.4-2.8 .9 0 .8 1-.7 .9-5.5 2.7-3.9 3.1-3.3 4.2-2.3 5.3-.8 4.9 .4 5.4 1.7 4.1 3.2 4 2.8 2.5 3.1 1.7 3.2 .9 3.6 .1 3.1-1 2.3-1.4 2.7-2.5 2.3-3 1.8-4 .3-3.2-.7-3.1-1.9-2.3-.3 0 1 3.6 .2 2.3-.2 2.2-.8 2.3-1.9 2.7-2.5 2.1-2.7 1.6-2.7 1-2.7 .3-2.3-.3-2.2-.9-2.3-1.5-1.8-1.9-1.8-2.7-1.4-3.1-.9-3.2 0-4.5 .9-3.1 1.8-2.7 2.8-2.8 4.5-2.3 4.5-1.3 3.1-.5 4.1 .1 4.8 1.4 4.6 2.7 3.7 3.6 2.7 4 1.8 4.5 1.1 5 .2 5.4-.8 6.3-.6 .5-1.3-.7 .8-6.1 0-5.4-.6-3.6-1.8-5-2.4-4-2.8-3-3.6-2.6-2.7-.9 4.3 2.9 3.8 4 2.3 3.7 1.8 5.3 .5 5-.6 4.9-1.8 5.4-2.8 5-5.2 6.4-4.5 4.4-4.5 3.6-5.5 3.1-5.6 2.3-7.1 1.8-7 .8-6.9-.1M371.4 34.7l3.6 0 1 .4 .6 .9-1.2 .6-2.2-.1-1.3-.9-.5-.9M318.4 37.7l.6 6.9 1.6 9.9-1.4-3.7 0-1.3-.5-.4 0-1.8-.4-.5 0-2.2-.5-.5 0-4.9M373.6 45.9l.6 0-.6 0M312.9 56l5.1 9.3 6.6 7.9 7.2 5.8 4.5 2.6 4.5 1.9 12.6 2.2 4.5 .3 4.5-.4 5.4-1.4 3.6-1.7 3.3-2.4 3-3.1 2.3-3.6 1.3-3.6 .7-4.1 .1-7.2-1.7-4-3.2-4.2-1.8-1.3-3.6-1.4-3.1-.5-4.5 0-3.2 .6-2.2 .8-2.3 1.5-1.8 1.8-1.4 2.2-.7 3.2 .3 4.7 1.8 5 .3-.3-1.1-4.5 .6-4.5 2-4.5 3.2-2.7 3.6-1.2 4.9 .2 5.4 1.9 3.6 2.8 1.5 2.2 1 2.7 .3 3.6-.8 4.5-1.8 4-1.8 2.7-2.9 2.9-2.7 1.8-3.1 1.3-.9-.2 .1 .5-4.2 .8-5.4-.3-3.6-1.1-4-2.1-4.1-3.3-2.8-3.4-2.8-5-2.2-6.3-1.7-8.5-.3-6.8 .8-7.2 1.8-6.5 3.2-7 4-6.3 4.5-5.4M338.1 57.5l0 1 0-1M416.8 60.4l-4.6-6.4-7.6-8.1 .3-.4 1.1-.4 2.3 .9 3.7 3.1 4.4 4.7M383.1 61l0 1.4 0-1.4M355.2 67l0 .6 0-.6M317.4 83.2l4.5 3.1 5.4 3 4.5 1.9 5.8 1.8 5 .9 4.9 .2 4.5-.3 4.5-.9 14.4-6.8 3.2-2.1 3.7-3.4 3.2-4.5 1.8-4.1 .9-4.5-.2-4.5-.7 6.3-1 3.2-2.7 4.9-3.2 3.6-3.6 2.7-4.6 2.3-5 1.3-6.2 .5-7.6-.8-6.7-1.5-5.4-1.8-5.4-2.7-5.3-3.6-5-4.5-4.2-4.9-4-5.9M403.8 95.9l1-6.3 .3-5-.2-5.4-.9-5.8-1.4-5-2.2-5.4-2.6-4.5-3-3.6-6.8-6.4-4-3.2-4.1-2.3-4.9-1.7-5.9-.6-5.4 .7-3.6 1.2-3.1 1.8-4.5 4 0-.7 1.4-1.8 4-3.2 3.6-1.8 3.6-1 6.7-.3 3.5 .5 3.9 1.3 8 4.5 3.5 2.7 3.6 3.6 5 6.5 2.7 4.7 2.2 5.4 1.5 5 1 6.3 .2 6.3-.4 6.4M331.6 101.6l6 .7 5 .1 5.8-.4 5-.9 4.5-1.3 5.4-2.3 4.5-2.7 3.1-2.5 9.2-9.9 2.5-4.1 2-4.5 1.1-5.4-.1-5.4-1.1-4.5-1.9-3.4 2 6.1 .5 4.1-.5 5.4-1.3 4-2.4 4.5-3.2 3.9-4.1 3.5-4.9 3-6.7 3.1-5.9 1.8-5 .9-6.7 .2-5.9-.6-6.9-1.8-5.6-2.3-6.1-3.3M376.3 108.5l.7 0-2.5 2.2 0-.4 1.8-1.8M387.5 108.2l3.3-5.6 2.9-6.3 1.9-5.8 1.1-6.8 .2-5.8-.5-5.4-1-4.1-2.7-6.7-2.8-5.9-2.8-3.9-3.5-3.7-3.7-2.7-5.4-2.3-4.7-.9-5.2 .3-4.9 1.7-.5-.2 1.7-.9 4.1-1.3 5-.4 4.1 .5 4.9 1.8 4.5 2.8 3.3 2.9 3.2 4.1 2.8 4.9 2.9 6.7 1.8 5.9 .9 5.9 .1 4.9-.6 5.8-1.3 6.1-2.3 6.4-3 6M356.1 112.5l9.4-4.3 8.1-5.7 4.1-3.9 3-3.6 5.1-8.3-.9 2.7-2.3 4.2-3.1 4.5-3.2 3.6-3.9 3.6-4.2 3.2-8.6 4.8M370.5 113l1.8-.9 1.3-1.4 .9 0-2.8 2.3M352.6 10.8l-3.9 4.1-3.6 4.5-3.2 4.9-2.2 4.5-1.9 5-1.3 5.4-.5 4.9 .1 4.5 1.5 8.2 .4-3.2-.5-.5 .1-4.3 .6-.2 .3 1.1 .8 7.9 1.2 5.4 2 4.5 3 4.5 3.4 3.3 4.5 2.8 4 1.4 5.9 1.1-4.5 .2-4.5-.9-4.1-1.7-4.6-3.5-3.2-3.6-2.7-4.5-2.1-5.4-1.3-5.8-.9-6-.1-6.2 .5-5 1.4-5.5 2.2-5.9 2.7-5.1 3.6-5.2 4.6-5.2M386.2 14l-4.9 .7-5.9 1.4-4.9 1.7-5.4 2.6-4.5 2.9-4.5 3.7-3.9 4.1-2.1 3.1-4.5 9-1.8 4.5-1.2 5.9-.1 4 .8 5.4 1.8 4.5 2.7 4.1 2.4 2.4 2.4 1.6-.6 .2-3.6-2.5-3.1-3.4-2.3-4-1.3-4-.6-4.7 .2-5 1.1-4.9 2.2-5.4 2.9-5.6 3.6-5.4 3.6-4.2 4.2-3.7 5.2-3.6 6.2-3.2 6.3-2.2 6-1.4M333.3 19.8l-.6 1.2-.1-.6M406 29.6l-6.7-2.3-7.2-1.4-5.9-.6-5.4 0-.4 .4-3.6 .1-.5 .4-1.8 0-.4 .5-4.5 .9-5.9 2.7-.9 1-1.3 .4-.9 1-1.8 1-5.9 5.4-3.4 4.1-2.2 3.6-1.8 4.5-.8 4.1 0 3.6 .9 4.5 1.8 4 2.4 3.2 1.3 .5 5.9 4.7 2.2 1 2.7 .5 3.6 0 2.3-.7 2.2-1.2 3.4-3 3.2-4.5 .9-2.3 .5-3.1-1-4.1-1.6-2-2.2-1.6-1.4-.4 2.9 4.5 1 3.1-.1 2.3-.8 2.2-1.3 2.3-2.6 2.5-2.7 1.7-3.6 1.3-3.1 0-2.5-.6-2.5-1.3-1.8-1.6-2.2-2.9-1.4-2.8-.9-2.7-.4-3.5 .4-3.6 .9-2.3 2.3-3 2.2-2 3.3-1.7 5.9-1.8 4.8-.3 3.4 .3 4 1.3 4.3 2.7 3.2 3.2 2.6 4.1 1.9 4.4 .9 4.5 .2 5.4-.7 6-.5 .9-1.1-.6 .8-7.2-.3-5.4-1.4-5.4-2.3-4.5-3.3-4-3.6-2.9-4.5-1.7-2.7-.5-1.5 .1 .4 .5 4.2 .8 5 2.8 3.5 3.6 3.2 5.5 1.4 4.6 .2 6.1-1.2 5.8-2.4 5.4-3.4 4.8-5.4 5.8-6.1 5.2-5.3 3.1-6.4 2.7-7.2 1.8-7.4 .8-7-.2M372.1 35.1l2.4-.1 1.3 .6 .1 .4-.9 .5-1.4 0-.9-.5-.6-.9M361 36.9l1.8-.2 .5 1.1-5 2.5-3.5 2.5-2.8 2.8-2.3 3.5-2.4 6.3-.7 7.8-.6-3.8 .2-4.5 .9-3.5 1.8-3.9 2.2-3.4 3.2-3.1 3.1-2.3 3.6-1.8M368.5 39.6l3.3 0 3.2 .5 4.8 1.8 9 5.4 2.8 2.7 2.9 3.6-.2 .4-.4-.4-6.8-6.1-4.9-3.5-4.1-1.8-4.9-1.3-5-.2-4.5 .6-5.4 2.2-4.5 3.2 .3-.8 2-1.9 3.6-2.2 4.9-1.7 3.9-.5M362.4 42.8l1.3 0-1.3 0M312.9 57.2l2.9 5.4 3.6 5.4 4.7 5.4 5 4.3 5.8 3.7 5.9 2.5 11.7 1.9 5.4 .3 4.9-.5 5-1.3 4.5-2.3 4.5-3.8 3.3-4.8 1.8-5.4 .5-6.8 .2-.2 .1 .2 .4 4.1-.4 4-1.8 5-2.3 3.7-3.9 3.9-4.2 2.7-4.5 1.8-4.5 1-5.9 .2-7.8-1.2-6.8-1.8-4.9-1.8-5.1-2.7-5.1-3.6-4.9-4.5-4.1-4.8-4-6.2M338.1 57.4l-.3 .2 .3 1.3 .3-1.3-.3-.2M416.8 59.1l-3.7-5.1-6.3-6.7-.4-.9 1.4 .4 1.9 1.4 6.7 7M338.5 59.7l0 1 0-1M347 63.5l.1 1.1-.1-1.1M347.5 65.3l0 .4 0-.4M405.1 75.6l0 1.3 0-1.3M404.5 95.2l1-7 .1-10.4 .6 7.7-.5 8.1M332.2 102.2l8.1 .7 8.1-.5 8.1-1.8 7.7-3.2 5.8-3.8 8.1-8.6 3.9-5.3 2.6-5.9 .8-3.1 .5-4.1-.9-6.7-2.3-5-2.8-3.3-.4-.4-.4 .1 2.3 2.7 1.4 2.3 1.7 5.4 .4 6.3-.4 2.7-1.2 4-3.4 5.7-5 5.1-7.4 4.5-4.2 1.8-2.3 .5 1.6-1.8 7-3.5 4-2.5 3.2-2.7 2.9-3.5 2.1-3.6 1.5-4 .6-3.6-.2-4.5-2.1-6.3-3.1-5 .1-.3 .4 .3 .2-.4-2.4-1.7-4.5-1.8-4.5-.7-5.4 .3-3.2 1.1-2.7 1.5-2.5 2.6-1.3 2.7-.4 1.8 0 3.2 1 4.5 1.7 3.6 1.7 1.8 2.5 1.4 2-.1-3.8-2.5-2-2.9-.9-4 .5-5 .9-2.2 1.6-2.3 1.7-1.4 3.2-1.3 3.6-.2 3.9 .7 3.3 1.3 2.7 1.8 1.8 2 1.3 2.6 .6 3.1-.1 4.2-1.4 4.1-2.2 3.9-2.9 3.1-3.1 2.2-4.4 1.1-.7-.2 .2-.4-.4-.2-3.6 .3-2.7-.5-4.5-1.9 2.6 0-3.5-1.8-2.2-1.7-2.6-2.8-1.7-2.7-1.7-4-.9-5.4 .4-5.4 1.3-4.5 2.4-4.5 3.7-4.7 4.5-3.9 7.2-4.9 6.5-3.2 5.9-1.8 6.9-.9 8.1 0 6.2 .9 7 2M388 108l3-4.9 2.2-4.5 1.8-5 1.4-5.4 .7-6.3 .1-4-.4-4.5-1.3-5.4-5.5-12.2-3.2-4.5-3.7-3.6-4.1-2.7-4.5-1.9-4.9-.9-5.8 .1 4.9-.7 4.9 .4 4.5 1.4 4.1 2.3 3.6 3 3.5 4 2.5 4 3 6.7 2.2 6.9 .9 4.9 .3 4.9-.3 5.4-.9 5.3-1.8 6.1-2.2 5.4-2.4 4.4M352.1 10.8l-3.8 4.1-3.3 4-4.8 8.1-1.9 4.5-1.4 4.5-.8 4.5-.3 4.7-.1-3.8 .6-4.4 2.7-8.6 4.9-9 6.8-8.1M385.9 13.7l-10 1.9-9 3.5-6.8 4.1-4.5 3.8-3.1 3.3-.3-.1 6.1-6.3 7.2-5 9.4-4 8.8-2.1M379.9 24.8l5.9-.3 5.8 .3 8.7 1.8-.1 .3-8.1-1.4-7.2-.4-8.1 .6-.5 .4-1.8 .1-2.2 .9-1.4 0-.4 .4-1.3 0 5.7-1.8 5-.9M400.3 27l1.4 0-1.4 0M402 27.5l1 0-1 0M368.2 27.9l.9-.3 .1 .3-1 .5-1 0 1-.5M366.2 28.8l.7-.2 0 .3-.7-.1M365.3 29.3l.7-.3 0 .3-.7 0M364.5 29.7l.6-.2 0 .3-.6-.1M363.6 30.2l.6-.3 .1 .3-.7 0M362.8 30.6l.5-.2 .1 .2-.6 .6-.8-.1 .8-.5M351.1 31.5l.4 0-.4 .6 0-.6M361.3 31.5l.6-.4 .2 .4-.8 0M360.6 32l.4-.3 .2 .3-.6 .6-.7-.2 .7-.4M350.2 32.9l.3 0-5 10.3-1.7 4.5-.9 3.6-.5 5 .5 5.4 1.3 4 1.9 3.6 3.9 4.5-.2 .4-3.6-3.3-2.7-4.2-1.8-5.1-.6-5.8 .7-5.8 1.5-5 3.8-7.6 3.1-4.5M359.2 32.9l.5-.3 .2 .3-.4 .4-.7 .2-3.6 3.1-6.1 7.1-3.1 5.8-1.4 5.9 0 3.1 .4 3.2 1.5 4.5 2.8 4.3 5.1 3.8 .4 .4-.5 .2-2.3-1-2.2-1.9-1.9-2.2-1.9-3.2-1.8-5.4-.4-4 .3-3.6 1.5-5.4 3.3-5.9 4.5-4.9 5.8-4.5M372.6 35.1l1.9 .1 1 .8-1 .4-1.3-.2-.7-.6 .1-.5M361.3 36.9l1.5 0 .5 .9-4.5 2.2-3.6 2.3-2.8 2.7-2.3 3.2-2.4 5.4-1.5 6.8-.1-4.1 .5-3.3 1.4-3.6 1.8-3.3 1.8-2.4 2.8-2.7 3.2-2.3 3.7-1.8M369.1 39.6l2.7 0 4.7 .9 6.1 3.2-.9 0-3.6-1.6-4.9-1.2-6.3-.2-5.9 1.4-3.6 1.8-2.7 1.9-.1-.3 2.8-2.4 3.2-1.7 4.5-1.4 4-.4M364.1 42.3l1.9 0-1.9 0M382.5 44.1l.1-.4 6 3.6 3.1 3.1 1.3 2.1-6.3-5.4-4.2-3M366.2 44.6l1.6 0-.8 .9 .3 .4-.4 .4-5.9 .8-3.1 1.3-2.3 1.6-2 2.2-1 1.8-.8 4.1 .9 4.9 1.9 4.5 1.5 1.9 1.8 1.4 3.4 .8 1.5-.5-3.6-1.6-1.8-1.2-1.6-2.1-.9-2.3-.3-3.1 .4-3.6 1-2.7 1.4-2.1 1.9-1.5 1.9-.9 2.5-.5 3.8 0 5.2 1.8 2.7 1.8 1.8 1.9 1.4 2.3 .9 3.9-.5 4.6-.9 2.6-2.2 4-3.7 4.1-1.7 1.4-2.3 .9-1.8 .2-.3-.2 1.1-1.4 2.8-1.4 3.1-2.6 3.6-5 1.4-4.5 0-3.6-1-2.2-2.6-2.5-4-2.5-2.3-.9-2.6 0 3.5 1.1 3.2 2.6 2.5 3.5 .8 4.1-.5 2.2-.8 1.8-2.5 3-3.6 2.5-4.5 1.3-2.2 0-2.9-.9-3.9-2.8-2.2-3.2-1.4-3-.9-5.4 0-2.2 .9-2.9 2.3-3.5 1.8-1.8 7.1-3.1 3.9-.9M369.8 44.6l.8 0-.8 0M374.8 45.5l.9 0-.9 0M375.8 45.9l1 0 1.8 .9 4.1 3.2 3.1 3.7 2.2 4.2 1.4 4.2 .6 5-.2 5.9-.9 3.7-.9-.1-.1-.5 .8-6.8-.4-5.4-1.9-6.7-1.7-3.2-3-3.7-2.7-2.4-3.2-2M368.8 46.4l3.5-.1 2.2 .5 2.7 1.4 3.2 2.6 4.5 6.6 1.3 3.6 .7 4.3 0 3.6-.7 3.8-2.5 6.5-4.7 6.6-4 4.3-3.2 2.6 1.8-2.7 5.6-6.3 3.6-5.4 2.3-5.8 .7-4.5 .1-3.2-.4-3.1-1.4-4.5-1.2-2.3-2.5-2.9-4.1-3.3-5.8-2.2-1.7-.1M335.7 46.8l1.9 10.3 .4-3.5-.4-.5 0-2.3 .5-.4 .4 1.3 .8 6.4 1.3 5.4 1.8 4 2.7 4.1 3.3 3.4 4.1 2.7 5.3 2 .5 .7 .5-.4 3.9 .6-6.2-.2-4.5-1.4-4.9-3-4.3-4.4-3.1-5-2.2-5.8-1.7-8.3-.1-5.7M379.3 52.2l.2-.2 1.3 1.5 1.9 2.8 1.8 5.4 .4 5.9-.4 3.1-1.3 4-3.3 5.7-4.5 4.7-6.2 4-4 1.8-2.4 .6 .1-.6 1.2-.9 7.7-4.2 4.1-3.1 3.9-4.4 2.7-4.9 1.3-5 0-5.8-1.5-5-3-5.4M338.1 57.3l-.3 .3 .3 1.5 .3-1.5-.3-.3M312.9 58.1l3.8 6.7 5 6.8-.7-.4-3.2-3.6-4.9-7.6M338.5 59.6l-.2 .3 .2 .9 .3-.9-.3-.3M339 61.5l0 .8 0-.8M382.6 61.7l.4 3.1-.3 3.6-1.4 5-3.2 5.1-5.4 4.8-5.5 2.7-7.1 1.4-7.6-.3-5.8-1.1-2.6-.9 3.3 0 8.7 1 5.4-.2 6.3-1.6 4.5-2.2 4.5-3.8 3.4-4.9 1.7-5 .7-6.7M339.4 62.8l0 .8 0-.8M355.2 77l.7 0-.7 0M356.1 77.4l2.7-.4 5.4 .9-3.2 .8-4.9-1.3M359.5 99.9l.8 0-.8 0M358.3 100.4l.9 0-.9 0M356.9 100.8l1.1 0-1.1 0M355.4 101.3l1.4 0-1.4 0M333.2 102.7l9.8 .5 5-.3 7.2-1.4 .2 .2-3.4 .9-5.1 .9-6.6 .4-6.2-.3M388.6 107.6l5-9.5 1.9-5.4 1.3-5.4 .5-4.9 0-5.4-1.3-8.1-6-13.1-2.8-4-2.9-3.2-4.4-3.2-4-1.9-3.2-.9-6.6-.7 4.8-.2 4.5 .8 4.5 1.9 4.1 2.7 3.4 3.3 3 4.1 2.2 4 2.6 6.3 1.8 6.3 .9 6.1 .1 6.1-.5 4-.9 4.5-1.8 5.7-4.4 9.2M361.1 37.4l1.3-.2 .5 .6-6.4 3.4-2.6 2-2.5 2.7-2.8 4.5-1.5 4.4 0-1.8 .9-2.8 3.6-6.1 4.4-4 5.1-2.7M353.2 37.8l.4 0-3.4 3.6 0-.6 3-3M365.4 40.1l5.1-.3 3.6 .3 4.6 1.8-5.1-1.1-4.9-.4-5.4 .8-5.4 2.1 3.1-1.9 4.4-1.3M346 40.5l.2-.3 0 .8-2.1 4.9-1.2 4.5-.6 5.9 .1 3.1 .9 4.1 2.9 6.9-2.3-3.4-1.3-3.1-.9-3.5-.3-4.1 .3-4.1 .9-4 1.3-3.8 2.1-3.9M349.7 41.4l.4 0-.4 .9-1.6 2.3-1.8 3.6-1.5 4.3-.1-1.2 1.4-4 2.3-4.1 .9-1.2 .5-.1-.1-.5M368.1 41.9l3.1 0-3.1 0M371.7 42.3l1.9-.1 4.1 1.3 3.6 1.9 3.1 2.3 2.8 2.7 2.7 3.6 2.2 4.1 1.2 3.1-.3 .1-4.2-7.7-4.9-5.4-3.1-2.4-2.7-1.4-4.5-1.8-1.9-.3M381.9 50l.3-.2 .9 .9 2.2 2.6 1.8 3 1.4 3.2 .9 3.5 .4 4.1-.4 4.6-.5-.1-.1-6.3-1.4-5.9-2.2-4.9-3.3-4.5M362.3 50.9l4.1-.2 4.1 1.5-3.2-.7-3.6 0-1.8 .6-1.6 1.5-2 3.7-.8 3.9 .3 2.3 1.4 1.8 2.7 .9 3.2 .1 1.3-.5 .9-1.1 0-1.4-.7-2.1-.6-.5-1 .5 .9 1.4 0 1.3-1.3 .8-3.6-.6-1.3-1.1-.6-1.3 .5-2.7 1.7-3.2 1.5-1.6 1.8-.7 3.2 .2 2.7 1.5 3.1 3.2 1.4 2.8 0 3.8-1.4 2.9-2.6 2.8-3.7 1.8-3.6 .2-1.2-.2-.1-.5 4-1.3 2.7-1.3 2.7-2.8 .6-1.8-.1-2.1-1.4-2.8-2.2-2.7-2.3-.8-1.3 .3-2.3 2.3-.9 1.8 .5 1 1.8 .4 .2-.5-.9-.5 0-.4 2-2.4 1.8-.1 1.3 1.1 1.7 3.6 .1 1.8-.7 1.8-1.9 1.6-5 1.2-3.1-.3-2.8-2-1.7-3.6-.1-4.5 1-3.7 2.2-2.6 4-1.8M344.3 53.1l.1-.4 .3 .4-.3 1.8-.1-1.8M337.1 56.3l2.1 7.2 .2 .4 .4-.9-.7-.4 .3-.9-.7-.5 .3-1.3-.6-.5 .1-1.8 2.6 7.7 3.1 5.4 2.9 3.4 3.6 2.9 0 .6 .4-.3 1.9 1 .4 .8 .4-.3 .5 .4-1.2 0-4.2-2.1-3-2.4-2.9-3.1-2.2-3.3-1.9-3.9-1.7-6-.1-2.1M384.9 58.1l0 .8 0-.8M385.2 59.4l1 2.7 .5 3.6-.1 3.6-.6 3.6-1.5 4.1-1.9 3.5-2.2 3.2-2.7 2.9-.3-.2 .3-.4 4.8-6.8 2.6-6.3 1-6.7-.9-6.8M384 60.3l0 1.2 0-1.2M393.3 61.7l.1 .5-.1-.5M384.4 63l0 7.1-1.3 4.6-1.8 3.5-2.7 3.6-3.5 3.3-3.3 2.2-3.3 1.4 7.4-5.7 4.7-5.6 2-3.6 1.1-3.1 .6-3.6 .1-4.1M339.9 64.1l-.3 .3 .3 .6 .3-.6-.3-.3M381.7 70.2l0 .9 0-.9M381.2 71.6l.1-.4 .2 .4-.2 .9-.9 2.1-2.7 4.1-3.5 3.2-3.4 2.3-4.4 1.8-4.5 .9-4.9 .2-5.1-.7 7.8-.1 3.6-.5 6.7-2.3 3.6-2.2 3.4-3 2.7-3.6 1.5-3.1M354.4 79.7l.3-.4 .9 .4-1.2 0M356.2 80.1l1 0-1 0"/>
<path fill="none" stroke="#000" stroke-width="0.26" stroke-opacity="0.4" d="M366.9 36.5l-.6 .9 .6 .6 1.8 .1 1.4-.7-1-1-2.2 .1M391.6 36.9l-1.1 .9 .8 .9 2.1 .4 1.3-.8-.8-1-2.3-.4M326.4 53.4l-.5 .5 .2 1.9 2.1 6.7 2.7 4.9 3.8 4.6 5.7 4.5 5.8 3.6 5.7 2.3 4.6 .8 .3-.4-3.9-1-4-1.9-6.3-4.8-6.1-7.6-7.4-12.4-1.4-1.3-1.3-.4M366.9 36l-1.2 .9 .1 .9 .6 .5 2.9 0 1.5-.9-1.5-1.4-2.4 0M390.7 36.8l-.8 1 1.3 1.3 2.2 .3 1.8-.7 0-.9-1.1-.9-3.4-.1M324.6 47.8l-.3 1.3 .3 3.7 2.2 8.1 3.2 6.2 4.5 5.5 7.2 5.3 6.7 3.6 6 1.8 3.9 .4 3.3-.4-4.6-.7-5.4-1.7-4.5-2.4-4-3.3-4-4.5-4.3-6.8-6.6-13.2-3.6-2.9M387.6 80l-.9 1.5 .9 1.9 .9-.5 .2-1-.2-1.4-.9-.5M366.4 36l-.9 .9 .5 1.4 3.6 0 1.5-.9-1.5-1.4-3.2 0M391.2 36.5l-1.6 .9 .2 .9 .9 .7 2.7 .6 2.1-.9 0-.9-1.1-.9-3.2-.4M324.1 44.9l-.4 1.9 .4 5 2.3 8.5 3.1 6.5 4.6 5.7 3.1 2.7 4.9 3.1 7.1 3.6 7.7 1.8 6-.4-5.9-.8-5.4-1.7-5-2.7-3.8-3.4-3.5-4-4.5-7.2-6.6-14.2-2.7-2.5-1.4-1.9M387.6 79.6l-.9 .9-.2 1 .3 1.3 .8 .9 .9-.3 .5-1.5-.5-1.8-.9-.5M367.8 35.6l-2.4 .9 .3 1.8 3 .3 2.5-.8-.1-.9-1.1-.8-2.2-.5M390.7 36.4l-1 .5-.3 .9 1.3 1.4 3.2 .5 1.8-1 0-.9-1.4-1-3.6-.4M323.7 41.2l-.5 1.6 .2 5.4 2.1 10.3 3.2 7.2 4.9 6.6 3.3 2.9 5 3.1 8.3 4.1 7.7 1.5 3.7-.2 3.2-.9-6.5-.2-5.4-1.3-5.4-2.7-4.6-3.9-3.1-3.6-3.2-4.9-3-5.7-5.4-12.5-2.8-3-1.7-3.8M387.1 79.5l-.6 1.1 0 1.8 .6 1.4 .9 .2 1-1.2 .1-1.8-.7-1.3-1.3-.2M323.2 34.6l-.4 10 1.6 10.8 3.3 9 4.5 6.7 2.8 2.7 3.6 2.7 6.2 3.7 5.2 2.2 3.4 1 4.9 .6 4.1-.3 3.3-.9-7.4-.3-6.3-1.7-5.8-3.3-4.5-4.2-3.6-4.9-3.2-6.3-.2-.9 .5-.4-2.7-9.9-1.2-9.5-.4 11.2-3.2-6.7-2.7-3.2-.9-4-.4-4.2-.5 .1M366.9 35.6l-1.7 .9 .1 1.8 3.4 .3 2.8-.8-.2-.9-1.3-1-3.1-.3M390.3 36.4l-.9 .5-.3 .9 1.6 1.5 3.2 .5 2.1-1.1-.3-1.2-1.4-.9-2.2-.4-1.8 .2M387.6 79.1l-1.2 1-.2 1.8 .7 1.8 1.1 .5 1.1-.9 .2-1.8-.6-1.8-1.1-.6M367.7 9.5l-6.2 3.6-4.3 3.1-4.3 3.9-4 4.7-3.6 5.5-2.3 4.7-1.3 4.2-.5 4.7 4.3-11 2.7-4.5 3.5-4.5 4.4-4.5 4.9-3.8 10.3-5.7M338.7 16.2l-3.3 6.3-2.7 7.1-1.8 7.3-1.4 9-3.6-5-.9-2.5-.1-5.5 .8-6M322.7 30.8l-.5 12.4 1.7 11.7 1.4 5 1.9 4.5 5 7.2 3.2 3 3.6 2.6 7.6 4.1 5.9 2 4.9 .8 4.5-.2 3.3-.6 4.1-1.8-5.6 1-3.6 .1-3.6-.5-4.5-1.4-3.6-1.8-3.7-2.8-3.5-3.6-2.2-3.3 0-1.2-2.9-6.8-2.3-7.6-1-6.3-.1-6.3 1-7.2 2-6.8 3.1-6.7 3.6-5.9M409.6 34.8l-12.7-4.6-6.3-1.4-6.6-.6-5.2 .2-6.5 1.3-3.5 1.4-3.7 2.2 15.3-2.8 8.5-.4 5.4 .3 4.1 1 4 1.8 10.4 8.1M366 35.6l-1.1 .9-.1 1.8 .3 .2 3.6 .4 3.4-1.1-.8-1.3-1.7-1-3.6 .1M390.7 36l-1.4 .5-.6 .9 .2 .9 1.4 1.2 4 .5 1.4-.4 .8-.9-.4-1.3-1.3-.9-4.1-.5M416.3 69.9l-3.5-7.6-5-7.5-5.9-6.2-2.6-1.3-1.5 0 .3 1.3 5.8 5.9 4.9 7.2 3.4 7.2 2.3 8.2M391.6 71.3l-1.3 10.6-.5 .1-.8-2.3-1-.9-.9 .1-1.2 .8 .1 2.7 .9 1.8 1.1 .4 1.8-1-.3 2.8-1.8 5-4.7 8.5-7.1 8.1 .9 .1 6.4-6.8 3.6-5.4 2.3-4.5-.1-.9 1.9-4.1 .4-3.6 .5-.4-.1-2.7 .5-.5-.1-5.9-.5-2M328.2 72.5l6.3 5.4 3.9 2.2 2.2 .5-1.2-1.4 0-.4-4-2.3-1.4-1.3-.5 0 .1 .6-.5-.2-4.9-3.1M315.1 76.6l9.4 7.1 5 2.7 5.6 2.3 5 1.3 7 .9 5.8-.3 3-1-12.9-.6-4.9-1.1-5-1.7-5.4-2.7-4.9-3.2-5-4.1-4-4.1M412 83.2l0-2.6-.4-.5-.1-2.7-.4-.4-.5-4.1-1.9-5.3-2.7-5.7-3.6-5.6-3.1-3.7-4.4-4-3-1.3 8.2 8.1 5.2 8.1 2.3 5.4 1.8 5.8 1.4 11M325.4 95.3l10.3 2.8 6.4 .8 5.4 0 6.1-.8 5.1-1.3 5.4-2.3 2.6-1.8-.7 0-5 2.6-5.8 1.9-6.3 .5-.5 .4-4.9 0-.5-.4-4 0-.5-.5-5.8-.9-6.3-2.2-4.1-2.3M399.8 99.9l1.7-6.2 .9-5.4 0-11.4-.9-5.1-1.8-5.7-2.2-4.8-2.3-3.2 4.7 11.2 1.8 9.9-.4 10.8-2.6 11M375 108.9l-1.6 1.4 .7 0 1.4-1.4-.1-.4-.4 .4M349.5 111.2l6.3-1.8 5.6-2.3 4.9-2.7 5.1-3.6 4.5-4.1 3.6-4.4 2.7-4.6 1.3-4.6-7.6 10.8-4.1 3.9-4.5 3.4-5.4 3-5.4 2.3-6.3 1.8-5.9 1M379.6 111.2l3.5-4.1 3.6-5.2 3.1-6 .9-3.3-2.3 5.1-2.8 4.5-4.6 5.8-4.1 4.1M366.5 9.5l-5.9 3.6-5.1 4-4.8 4.9-3.6 4.7-3.2 5.5-2.2 5.8-.9 4.3 0 5.1 2.1-7.3 2.2-5.4 2.7-5 3.8-5 4.5-4.5 5.4-4.2 5.4-3.1 6.6-2.9M337.9 16.7l-3 5.9-2.2 5.9-3.6 15.2-3.2-4.6-.5-1.7-.1-5 .9-6M393.9 18.1l-6.8-.2-6.9 .6-10.1 2.7-5.7 2.7-4.8 3.1-4.5 4.1-1.7 2.9 11.7-7.6 9.4-3.7 6.8-1.2 5.8-.3 5.9 .2 6.7 1.1M322.3 31.2l-.2 12.9 1.9 12.2 1.4 4.5 2.1 4.5 2.6 4 3.2 3.6 3.9 3.3 7.2 4.1 5.4 2.3 4.9 1.3 4.5 .3 4.5-.5 4.2-1.3 4-2.3-5.9 1.9-4.5 .5-5-.5-5.4-1.8-4.6-2.8-3.9-3.6-1.1-1.3 .2-.5-.5 0 .1-.9-3.8-6.7-2.6-7.7-1.4-6.3-.5-5.8 .4-6.3 1.3-6.3 2.3-6.3 3.2-6.3 4.1-5.9M409.2 33.9l-6.9-2.8-6-1.8-7.4-1.4-5.8-.2-6.3 .6-5.6 1.4-10.2 5.4 17.1-3.8 10.4-.8 5.4 .4 4.9 1.3 4.1 1.9 10.3 8.5M366 35.4l-1.3 1.1-.2 1.8 .6 .4 3.6 .5 3.9-1.4-1.2-1.3-1.8-1.1-3.6 0M389.8 36l-1.2 .9-.2 .9 .6 .9 1.7 1.1 3.6 .4 1.7-.6 .8-.9-.4-1.3-1.6-1.1-2.7-.6-2.3 .3M314 49.8l2 6.1 2.7 5.6 3.6 5.6 4.1 4.8 4.6 4.2 5.5 3.6 5.4 2.2 3.4 .5-.5-.9-6.7-3.3-4.5-3.1-7.2-7.6-3.7-5.4-2.8-5.4-2.2-6.7-1.5-7.4M416.4 67.4l-5.4-9.6-6.7-7.8-5.5-4.1-2.2-.3-3 .3 7.9 7.7 5.2 7.2 4.1 8.5 2.7 10.6M315.1 77.2l4.7 3.8 5.4 3.6 5.3 2.7 6.3 2.3 6.7 1.3 5.4 .3 4.9-.5 5.9-1.6-14.9-.1-5.4-1.1-5.4-1.8-5.4-2.6-5.4-3.5-5.1-4.4-4.8-5M412.1 83.1l-.4-5.7-.5-.4 0-2.3-.4-.4-.5-3.2-2.3-6.3-2.7-4.9-4.2-5.7-4.2-4.2-5.3-3.6-1.8-.9-1 0 5.5 4.4 4 3.7 3.5 4.5 2.7 4.5 2.6 5.8 1.8 5.9 1.1 5.8 .4 6.5M326.7 97.1l10.9 2.4 6.3 .4 5.9-.4 6.5-1.4 5.1-1.8 5.1-2.7 3.7-3.1-.6-.1-5.4 3.1-5.9 2.4-5.8 1.5-4.5 .5-4.5 0-.5-.3-4-.1-2.7-.8-1.8-.1-8.1-2.6-4.1-2.3M400.8 99l1.6-7 .6-5.1 .1-6.3-.7-6.2-1.3-5.4-2.3-5.7-2.7-4.6-3.1-3.6 0 .7 3.3 5.9 2.4 5.4 1.5 5.4 .8 5.4 .1 5.8-.7 6.3-1.4 6.3-2.2 6.2M381.1 110.7l3.8-4.5 3.5-5.4 2.7-5.4 1.9-5 1.3-5.7 .6-5.9-.2-5-.4-1.6-.9-1.2-.6 11.8-.9 4.5-1.9 5.4-2.6 5.4-3.1 5-3.6 4.5-4.5 4.5M350.5 111.4l6.5-2 5.2-2.3 5.5-3.1 5-3.9 4.1-4 3.6-4.7 4.9-10.4 1.4 3.2 2.7 .9-1.1 4-2.2 5-3.2 5.4-3.9 4.9-4.9 4.8-5.5 4.2M370.1 113l4-2.6 6.9-6.4 5.9-8.1 2.2-4.5 0-.9 1.8-4.1 .5-3.6 .4-.4 0-2.7 .5-.5-.1-6.7-.5-.5-.5-5.1-.3 9.6-.6 4.2-.5 .2-1.3-2-1.8-.1-.9-1-2 4.1-4.2 6.8-3.7 4.6-3.6 3.6-6.3 4.6-7.2 3.5-7.7 2.4-8.4 1.2M365 9.5l-6.2 4.1-5.9 5-4.9 5.8-3.6 5.7-2.4 5.5-1.5 5.4-.7 9 .1 6.5 1.2-8.3 2.4-8 3.1-7 4.1-6 4.9-5.2 6.3-4.8 7.2-3.9 7.5-2.7M357.2 10l-5.6 4.8-4.5 5-4.5 6.8-1.8 3.6 .4 .1 1.9-3.7 4.5-6.3 6.2-6.2 6.5-4.6M390.8 16.3l-7 .4-7.3 1.3-6.7 2.3-5.5 2.7-5.3 3.6-4.4 4-2.6 3.3-3.8 6.6 7-6.1 6.3-4.8 5.8-3.3 5.4-2.1 6.3-1.4 7.2-.7 7.2 .4 7.6 1.3M336.7 17.6l-4.1 9.4-3.5 12.8-.5 .1-.4-.5-1.9-4.7 0-4.1 .9-5.3M340.8 30.2l-1.2 3.1 .4 0 .9-1.8-.1-1.3M321.6 32.3l-.2 6.4 .3 7.2 1 6.8 1.6 6.3 2 4.9 2.7 4.5 3.2 4.1 3.9 3.6-.7 0-1.8-1.3-5.2-5-5-7.2-1.8-3.6-2.3-6.3-1.8-8.6-.3-3.8M388.5 32.4l-3.9 1.4-1.8 2.2-.2 3.2 2.7 2.3 5 2 4.5 .5 5-1.7 2.9-2.2 .3-1.4-.5-1.8-3.2-2.9-5.4-1.7-5.4 .1M408.1 32.3l-7.8-3-7.9-1.8-7.5-.6-7.7 .7-5.8 1.4-4.5 2-9.1 5.5-5.7 4.9 .4 .1 3.1-2.6 4.5-2.6 7.7-2.5 8.5-1.5 4.1 .1 5.8-1 5 0 5.7 1 5.1 2.3 3.1 2.6 2.3 3.6 2.2 .8 5 4.2M390.5 33.8l3.8 .4 4.1 1.6 1.9 2-.1 2.3-2.3 1.6-3.6 .5-4-.5-3.5-1.6-2.1-2.3 .2-1.8 2.2-1.6 3.4-.6M366 35.1l-1.4 .9-.8 2.7 3.1 .6 4.3-.1-.3-.5 2.7-.5 3.2 .6 2.2 .9 1.2-.1-.3-.9-1.6-.9-4.7-.2-4.5-2.5-3.1 0M390.3 35.5l-1.8 .7-.8 1.2 .6 1.3 1.5 1.1 4.1 .8 1.8-.3 1.6-1.1 0-1.4-1.6-1.5-2.7-.8-2.7 0M338.5 36.6l-.3 1.2 .3 .1 0-1.3M337.6 40.8l0 1.6 0-1.6M313.5 52.1l4.3 9.7 5.9 8.3 7.5 6.9 7.8 4.5 11.9 3.1 5.3 .5-7.8-2-4.9-2.4 0-.5 8.5 3.3 5 .8 3.6 0 3.6-.5 4.2-1.4 4-2.3 2.5-2.2 .1-.6-5.9 3.5-4.9 1.4-5.9 0-4.8-1.2-4.7-2.2 .5-.5-.9 .2-.9-.6 .5-.5-3.2-2.5-3.2-3.8-3.6-6.3-2.5-7.6-1.3-6.3-.5-6.3 .6-6.8 1.8-7.2 2.3-5.8 3.6-6.3 4.3-5.9M416.8 65.6l-3.2-5.7-3.9-5.4-3.7-4.1-5.5-4.9-4.4-.8-6.3 .1-9.9-4.3-1.5 0 5.6 2.4 8.1 5.6 5.2 4.6 4.3 5.4 3.5 6.5 2.7 7.5 1.4 7.2 .5 8.1M315.6 78.6l6.2 4.7 6.3 3.6 6.8 2.7 6.3 1.5 6.3 .6 5.9-.4 9.8-2.6 4.7-1.8-7.8 1.5-9 .4-6.9-.6-7-1.7-6.4-2.8-6.4-4-5.7-5-5.4-6.1M411.9 78.8l0 1.4 0-1.4M401.7 98.5l1.5-7.1 .5-7.2-.4-7.1-1.2-6.4-2.3-6.3-2.7-5-2.8-3.5-6.3-6.6-.1 .2 4.8 6.8 3.3 6.3 2.7 7.2 1.1 6.3 .2 7.2-.9 7.2-1.8 6.7-3 7.2M328.5 98.9l6.9 1.3 6.7 .5 6.5-.3 7-1.4 6.2-2.2 5-2.7 7.4-6.3 1.8-1.8-.1-.4-5.4 3.8-8.1 4.4-5.9 2.2-6.4 1.2-6.6 .4-9-1.2-8.1-2.6-4.1-2.2M383.8 109.8l4.2-5.8 3.2-5.7 2.7-7 1.3-5.9 .6-6.6-.6-6.7-2.2-7.1-1.4-2.3 1.1 10.7 0 4.9-.8 6.3-1.4 5.4-2.7 6.3-3.6 5.9-4.3 5.4-5.2 4.9M351.7 111.8l5.7-1.9 5.9-2.7 5.3-3.2 4.6-3.6 4-4.1 3.2-4.1 2.3-4 2.6-6 1.4 2.5 1.8 .8 .2 .5-1.1 3.7-2.7 5.6-3.6 5.4-4.1 4.6-4.5 4.1-5.5 4M370.2 113l6.6-4.8 6.5-6.9 3.7-5.4 3.2-6.8 .4-2.2 .5-.5-.1-1.3 .5-.5 0-1.8 .5-.4-.1-2.7 .6-.5 0-6.7-.6-.5 .1-4.5-.6-.4 0-2.3-.5-.4-.1-1.8-1.4-3.8 1.1 5.6 .4 4.9-.4 8.1-.7 2.3-1.3-1.2-1.8-.6 .9-5.4 0-3.3-1.2 6-3.5 7.6-5.7 7.9-6.3 6.3-6.7 4.4-7.7 3.2-8.1 2-8.3 .7M364.3 9.5l-6.9 4.7-5.8 5.4-4.8 6.1-3.8 6.7-2.1 5.9-1 5.4-.3 10.8 1.2 7.7-.3-8.6 1.1-6.8 3.2-9.1 4.5-8 5.4-6.2 6.8-5.3 8.1-4.3 8.6-3M356.5 10l-7.6 7.1-5.9 8.1-4 9-1.4 5.9-.4 2.2 .4 .2 .1-2.4 .5-.5 0-1.3 .5-.5-.1-1.3 .5-.5 .4-2.2 1.5-2.3-.1-.9 .9-1.8 1-.9 .4-1.3 2.7-4.1 7.9-8.3 6.5-4.7M390.3 15.8l-7.7 .6-7.4 1.6-7 2.6-5.9 3.3-5.3 4-4.1 4.4-5.4 8.6-1.8 3.6 0 1 3.8-5.4 6.1-5.7 7.2-5.3 7.2-3.6 7.7-2.2 7.6-.8 8.1 .3 8.1 1.5M336.4 17.6l-3.7 8.5-3.6 11.9-.5 .1-.5-.7-1.3-4.5 .1-3.6 1-4.6M407.8 31.9l-7.4-3.1-9.7-1.9-9-.2-8.5 1.4-6.3 2.5-10.6 6.8-5.6 5.4-3.1 4.9 .4 .1 3.5-5 3.2-3 4.1-2.6 4.5-1.9 1.9-.2-.9 .9-.1 1.8-.9 1.3 10.3 .2-2.3-.6 2.8-.3 2.7 .5 .4 .6 1.4-.1 0 .5-3.9-.3 1.6 .2 5.4 2.3 8 4.7 6.9 5.9 5.4 6.9 3.6 7.2 2.2 7 1.2 7.2 .2 7.7M382.7 32.4l2.6-.3 .4 .3-3 2.3-1.4 3.7-3.2-.9-4.5-.2-4-2.3-3.4-.3 2.6-.9 5.4-.9 2.6-.2 2.7 .5 3.2-.8M321.3 32.6l.1 12 1.9 12.1 3.2 8.1 5.7 8.1-3.7-3.1-1.8-2.3-5.1-8.5-3.2-9.9-.5-4.5-.4-.5-.1-4.5M390.2 34.2l4.6 .5 3 1.3 1.7 1.8 .2 .9-.4 1.3-2.3 1.4-2.7 .3-3.1-.3-3.5-1.3-1.9-1.8-.2-1.8 1.5-1.5 3.1-.8M391.2 35.1l-2.7 .6-1.2 1.2 .1 1.4 1.5 1.4 2.7 1 2.7 .2 2.3-.6 1.2-1.1 0-1.4-1.7-1.6-2.2-.9-2.7-.2M380.6 40.5l.7-.3 .4 .5 1.8 .4 4.8 2.6-.8 0-6.9-3.2M337.2 42.6l0 6.5 0-6.5M313.3 53l4.5 9.5 6.3 8.5 7.3 6.4 8.5 4.7 12.6 3 5.4 .4 5-.4-7.7-.3-4.1-1-1.3-.8 7.2 1.4 7.2-.5 3.1-1 3.8-1.9 2.6-1.8 2.6-2.6 .5-1.3-5 4-5.8 2.4-5 .6-5.8-.8-3.7-1.4 .8-.4-1.7 0 .7-.5-2.9-1.5-3.5-3-3.8-4.5-2.5-4.5-2.5-7.2-1.7-8.1-.4-6.3 .6-6.3 1.5-6.3 2.7-6.7 3.6-6.3 4.8-6.3M387.1 60.8l0 1.5 0-1.5M391.1 63l.5 1.4-.4 .3-.1-1.7M416.8 64.5l-4.2-6.9-4.8-5.8-6.7-6.6-3.3-1.1 5.1-3.1 1.3-2.9 .9 .7 1.3 3.1 3.2 .9 5.4 4.7M391.6 65.3l.4 1.8-.4 .2 0-2M392.1 68.4l.3 3.6-.3 .2 0-3.8M392.5 74.7l0 3 0-3M316 79.4l6.8 4.9 6.7 3.6 7.7 2.7 7.2 1.2 5.8 .1 5.4-.8 10.6-3.3 6.8-3.6-7 2.9-7.2 1.3-9.9 .1-9.2-1.6-7.9-3.2-7.1-4.5-6.5-5.8-5.3-6.6M392 79.7l.4 0-.3 3-.1-3M391.5 82.8l.6 0-.5 2.3-.1-2.3M363.3 84.6l1.5 0-1.5 0M402 98.1l1.5-7.6 .5-7.7-.7-7.2-1.7-7.2-2.5-5.8-3.1-5-6.9-7.6-4.7-3.8-.2 .2 5.3 5.4 4.2 6.7 3.6 8.1 1.8 7.2 .6 7.2-.7 7.7-2.2 8.5-3.1 7.4M329 99.4l7.7 1.4 7.2 .2 6.8-.6 7.2-1.8 5.4-2.2 5.2-3.2 7.4-6.8 3.6-4-.5-.1-5.8 5.2-8.1 4.8-6.8 2.9-6.7 1.6-8.1 .5-8.6-1-6.3-1.7-6.3-3.1M384.4 109.8l5-7.3 3.6-7.5 2.2-7.9 .8-7-.3-6.5-1.4-5.7-3.6-9.1-.4-.8-.4 .1 1.2 4-.4 .4-.2-.4 .1-.9-.6-.4-.4-2.3-3.4-5.6 3 6.5 1.3 5.9 .2 6.7-.9 7.1-2.7-1.1-.2-.6 1.2-7.6-.5-7.2-.3 8.1-2.2 7.6-2.4 4.5-3.2 4.6-6.8 7.5-7.2 5.2-8.1 3.7-9 2.2-8.9 .7M352 112.1l5.9-2 5.8-2.8 5-3 4.5-3.5 4-4.1 3.4-4.4 2.3-4.1 2.4-5.5 1.2 1.9 1.5 1.1 .4 .7-1.7 4.8-2.7 5.1-3.6 5-4.1 4.5-4.7 4-5.2 3.6M370.3 113l6.5-4.7 6.6-7 3.6-5.4 2.3-4.5-.1-.9 1-1.4 .4-2.2 .6-.5 0-1.4 .4 .1-1.7 5.8-3.9 8.1-5.2 7.1-6.5 6.4M363.6 9.5l-7.5 5.4-6.3 6.3-4.8 6.7-3.5 7.7-1.7 7.2-.3 11.7 1.3 8.1 2.7 6-2.5-7.8-.5-4.5 .3-4.5 2.2-8.9 5.1-10.5 5.7-7.2 7.2-6 8.1-4.5 9.9-3.4M355.9 10l-4.8 4.2-4 4.6-3.6 5.1-2.7 5.1-2.3 5.9-1.1 5.2-.6 5.4 .4 5 .1-7.7 .6-.5-.1-2.2 .5-.5 0-1.3 .5-.5-.1-1.3 .5-.5 .4-2.2 1.4-2.3 0-.9 .9-1.8 5.9-8.5 6-6.1 6.6-4.7M389.5 15.5l-8.7 .9-8.1 2.1-7.2 3.2-6.7 4.4-5.9 5.9-5.4 8.5-3.1 6.8-.9 3.2 0 2.3 2.4-6.9 4.4-6.3 8.9-7.8 8.1-4.9 8.1-2.8 8.6-1.3 9 .3 9 1.7M336 17.9l-3.1 6.9-3.8 11.4-.5 0-.4-.8-.7-3.9 .2-3.6 .9-4M407.7 31.8l-4.4-2.1-4.9-1.8-8.6-1.6-9.9 .1-9.4 2.2-5.4 2.6-7.7 5.1-4.5 3.8-2.7 3-2.2 3.5-1.8 4.2-.6 2.8 .1 .7 1.2-3.9 1.8-3.6 3.3-4.4 5.4-4.3 5.4-2.5 1.4 0-.5 2.6-4.9 2.3-.7 .5 .2 .2 4.5-1.9 1.4 .3 .4-.6 .9 .2-.9 .5 8.6-.3 4 .9 6.3 2.9 5.9 3.6 5.5 4.5 4.4 4.9 3.6 5.5 3.1 7.2 1.8 6.7 .9 7.2 0 6.9M373.3 33.3l3-.1 2.7 1 2.9-.4-.8 3.1-.7 .7-2.3-.5-4.5 .1-4.8-2.5-.6-.5 5.1-.9M320.9 33.4l.2 11.2 1.4 9.9 2.3 7.2 4.3 8.4-4.2-5.3-4.1-8.1-2.7-9.9-.6-7.3M371.8 38.7l2.7 0-.4 .4-2.3-.4M375 39.2l2 0-2 0M369.6 41l1.6 0-1.6 0M380.8 47.5l-.1 .2 1 .9 0-.5-.9-.6M382.6 49l1.4 1.7 0-.6-1.4-1.1M343 53.1l0 5.9 0-5.9M386.5 53.1l.2-.4 .7 .9-.3 .2-.6-.7M313.3 54l4.8 9.5 6.2 8.1 7.5 6.4 8.5 4.5 14.7 3 8.7-.4 5.4-1.9-6.3 1.6-7.3-.2 6.4-.2 5.4-1.4 5.4-2.9 3.6-3.3 1.8-2.6 .5-1.8-4.3 5-5.3 3.2-6.2 1.5-7.3-.6 1.5-.5-2.9 0 1-.4-5.8-2.5-4.3-3.4-3.8-4.5-2.5-4.5-2.2-6.3-1.8-8.1-.4-6.3 .5-6.7 1.7-7.2 2.6-6.3 3.6-6.3 4.9-6.3M388 54.9l1.3 2.3-.4 .3-.5-1.7-.6-.4 .2-.5M416.8 63.5l-3.3-5.4-3.5-4.5-7.4-7.2-.7-1.4-2.2-1.3 4.5-2.5 1 1.6 4 .8 6.3 5.6M391.6 66.2l0 1.1 0-1.1M385.3 67.1l0 1.9 0-1.9M343.9 68.6l.5 1.4-.5-1.4M392.1 69.8l0 2.3 0-2.3M392 79.7l.1 1.7-.1-1.7M316 79.9l7.7 5.4 8.5 4 8.1 2.3 8.1 .6 6.8-.7 12.1-4 6-3.3 5.2-5-6.7 5.2-3.6 1.7-4.5 1.4-9.4 .9-11.1-1.1-8.4-2.7-8.4-4.8-7.3-6.4-6.2-7.8M358.8 81.5l4.2 0-4.2 0M391.6 82.8l.3 0-.3 1.4 0-1.4M353.2 84.2l1.9 0-1.9 0M389.8 89.6l.4 0-.8 2.2-.1-1.3 .5-.9M402.6 97.1l1.4-8.4 .1-8.6-1.2-7.6-2.5-7.7-4.2-7.2-6.5-7.2-6.6-5.4-3.3-1.8-1 0 6.1 3.9 5.4 6 5.1 9.5 2.8 8.1 1.1 8.5-.5 9-2 8.1-3.8 9M329.5 99.9l8.1 1.3 8.1 .1 8.1-1.3 7.2-2.3 5.4-2.9 4.5-3.4 7.7-7.7 2.7-3.7 1.6-3-4.9 6.3-5.7 4.7-9.5 5.2-7.8 2.7-8.4 1.1-8.5-.4-8.9-2.1-3.7-1.3-3.2-1.7M385.3 109.4l4.5-7 3.7-7.9 2.2-8.5 .6-7.7-1-8.1-3.7-10-3.6-6.5-1.3-1.7-.5 .6-1.8-1.8-.3 .1 4 6.3 1.9 5.8 .6 7.2-.8 8.3-.4 .2-2.3-1.3 1-7.2 0-5.4-1-4.4-2.2-5.2 2.4 8.7 .1 5-.6 4-1.5 4.4-2.2 4.5-6.8 8.9-7.6 6.9-9 4.8-5.4 1.9-5.4 1.2-10.8 .7M353 112.1l5.8-2.1 5.4-2.6 9-6.3 3.9-3.9 3.5-4.5 2.4-4 2.3-5.4 1.4 1.9 1.2 .8 .1 .9-1.8 4.6-3.1 5.6-3.6 4.8-4.1 4.2-4.5 3.7-5.4 3.6M370.3 113l3.8-2.4 7.1-6.6 5.9-8.1 1.8-4.2 .5 .1-1.6 3.6-4.2 6.8-4.6 5.5-5.1 4.8M362.9 9.5l-8.6 6.6-7 7.8-4.9 8.5-1.8 5-1 4.5-.2 13.5 .8 5.4 1.5 4.5 2.2 4.2 2.7 3.4 3.2 2.7 4 2.1-3.6-2.3-3.7-3.4-2.3-3.1-2.3-5-1.1-5.4-.1-4.5 .5-4.3 1.8-6.1 2.8-6.2 3.4-5.9 3.5-4.5 3.8-3.8 5.4-4.1 5.4-3 6.3-2.7 6.2-1.8M354.8 10.4l-4.6 4.3-4 4.8-3.2 4.8-2.8 5.4-1.9 5.4-1.3 5.9-.3 5.4 .5 5.2 .2-8.8 .5-.5 0-2.2 .5-.5 0-1.3 .4-.5 0-1.3 .5-.5 .4-2.2 1.4-2.3 0-.9 .9-1.8 5.8-8.5 6-6 6.7-4.8M388.7 15.1l-10.1 1.4-9.5 3.1-8.5 4.8-6.9 6.2-2.7 3.6-4.4 7.7-3.1 8-.6 3.7 0 5.4 1.5 6.4 .3-.1-1.1-4.5-.2-5 .7-4.5 1.8-4.9 2.8-4.5 2.7-3.2 9.2-7.6 4.5-2.8 4.6-2.2 4.8-1.5 5.4-1.1 5.4-.4 5.9 .1 11.3 2.1M335.4 18.5l-6.3 15.8-.7-1.4-.2-3.2 1.3-6.7M407.5 31.7l-4.2-2.2-4.9-1.7-5.4-1.3-6.8-.8-9 .6-8.1 2.3-3.6 1.8-7.6 5.4-6.4 5.6-4.4 6.8-1.4 4-.5 3.6 .1 2.6 .2-2.6 1.4-4.9 1.9-4.1 2.3-3.1 5-4.6 5.8-3 1.8-.1 0 2-5.9 3-4.3 3.6 4.4-3 2.2-.7 1.4-1.1 .9 .3 .4-.7 1.4 .4 9-.3 4 .9 5.3 2.4 6 3.6 5.6 4.5 4.7 5.2 3.6 5.5 3.2 7.2 1.8 6.8 .8 7.2-.2 7.5M371.9 33.8l4.4 0 2.3 1.5 1.3 .2 .4 .5-.4 .6-3.6 .4-3.1-.1-3.9-2.7 2.6-.4M320.5 33.8l.1 9.9 1 8.5 1.8 6.8 3.2 7.6-1.6-1.8-2.7-4.9-2.8-7.2-.9-5.4-.5-.5 0-2.2-.4-.5-.1-4.7M372.4 38.7l1.9 0-1.9 0M366.9 41l5.4 0-5.4 0M364.2 41.4l1.5 0-1.5 0M364.2 43.6l1.7 .1-1.7-.1M313.2 54.6l4.8 9.3 6.4 8.1 7.8 6.6 8.1 4.1 13.5 2.8 7.9 0 4.3-.9 4.4-1.8 .5-.6-3.1 1.3-1.1-.2 4.7-2.2 4.9-4.1 3.2-5.1 .5-1.7-.1-.6-.4 0-2.2 4.2-1.8 2.3-3.3 2.7-3.4 1.8-2.4 .6-.4-.5-6.8 .6-4.9-1-5-2.3-4.1-3.3-3.8-4.5-2.7-4.9-2.1-6.3-1.8-8.6-.3-6.3 .7-6.7 1.8-6.8 2.6-6.3 3.8-6.3 4.6-5.8M348 54.6l0 1.7 0-1.7M384.9 60.6l0 1.5 0-1.5M416.8 62.6l-5.5-8.1-8.1-8.1-.3-.9 .9-1.5 4.5 .1 7.2 6.3M366.4 80.5l-.4 .1 .4 .2 1-.2-1-.1M316.5 80.8l8.1 5.4 9 4 8.5 2 9 .2 6.3-1.3 8.1-2.7 5-2.3 6.3-4.8 3.1-3.8 1.3-2.3-.4-.1-2.5 3.7-3.3 3.3-3.2 2.1-4 2-4.1 1.2-4.9 .7-11.3-.4-5.8-1.2-4.5-1.4-9-4.7-8.2-7-7.1-9M363.9 81.5l2.1 0-2.1 0M371.8 81.4l-.4 .8 1.1-.7-.7-.1M358.2 81.9l5.7 0-5.7 0M365.1 83.7l1.5 0-1.5 0M363 84.2l2.1 0-2.1 0M356.7 84.6l5.9 0-5.9 0M402.9 96.8l1.5-9.9-.3-9-1.8-8.6-3.2-7.6-4.1-5.9-9.2-9-6.8-4-4.2-1.4-2.3 0 3.4 .8 4.9 2.2 6.4 5.1 5.1 7.2 4.9 11.3 1.7 9-.2 9.4-2.1 9.5-4 9.4M330.6 100.5l10.2 1.2 9.9-.7 9.4-2.7 7.7-4.1 9.4-8.8 5-6.6 1.8-3.9 1.3-5 0-7.3-.1 6.7-.5 2.3-1.8 4.5-2.7 4.5-6.1 5.9-10.7 6.2-9.7 3.2-10.2 .8-5-.4-6.3-1.3-9.9-3.6M386 108.9l5.6-9.3 3.4-9.1 1.4-9.5-.6-9.4-4.2-11.7-4.5-7.7-2.8-3.1-3.4-2.7-1 0 .2-.5-.6-.2-.5 .4 .3-.6-.7-.4-.5 .6 .5-.7-3.1-1.3-2.2 0 .7-.5-3.1 .3-.4-.3 .4-.3 .9-.1-5.8 0 .9 .5 7.2 1.1 4.9 2.3 4.6 3.7 3.8 5.4 2.1 5.4 .9 5 .1 5.4-.7 6.3-.4 .5-1.8-.8-.4-.6 .9-5.9 .2-4-.6-5-.9-3.1-2.8-5.4-4.1-4.3-.1 .2 3.8 4.5 1.9 3.6 1.3 4.1 .6 4.5-.3 4-1.3 5.4-2.3 5.1-2.7 4.1-4.3 5.2-4.7 4.6-4.5 3.4-5.4 3-5.8 2.3-5.9 1.5-6.3 .8-6.8 .1M353.9 112.2l10.3-4.4 4.9-3.1 4.5-3.6 3.9-3.9 3.1-4 2.7-4.5 2-4.8 2.3 2.4 0 1-2.3 5.3-3.1 5.2-3.6 4.5-4.1 4-4.5 3.5-5.8 3.6M370.4 113l3.7-2.4 7.1-6.6 5.5-7.7 .3 0-1.7 3-4 5.5-8.4 8.2M357.5 34.2l.6 0-1.1 .7 .5-.7M356.2 35.1l.6 0-1.6 1.2 1-1.2M372.9 35.6l1.2-.2 .7 .6-1.2 .2-.7-.6M348.4 36l-.4 1.8-4.3 9.9-.9 3.6-.4 5.4 .5 5 .9 3.1 2.2 4.5 2.9 4-3.2-3.1-2.2-3.7-1.7-4.8-.6-5 .4-4.9 1.3-5.4 2.4-5.4 3.1-5M354.5 36.5l.6 0-4.2 4.5-2.8 4-1.8 3.6-1.3 4.1-.6 3.6 .2 3.6 .9 4 2.3 5-.3 .2-1.9-3.4-1.3-4.5-.4-4.5 .4-4 1.3-4.5 1.8-3.6 3.3-4.4 3.8-3.7M361.7 36.9l1.1 .2 .3 .7-7 3.8-2.9 2.5-2.3 2.7-2.6 5-1.7 6.2-.4 .3 .9-6.5 3.6-6.8 5-4.9 6-3.2M370.2 39.6l6.2 .9 4.4 2.3-7.6-2-7.2-.1-5 1.4-5.8 3.2 2.2-2.1 4.5-2.2 3.2-.9 5.1-.5M366.7 41.9l4.2-.2 4.5 .9 4.5 1.9 4.5 3.1 3.3 3.3 3.2 4.5 3.4 7.5 .9 3.7-5.7-11.7-2.6-3.6-3.4-3.3-3.6-2.6-4.9-2.3-4.5-1-3.8-.2M384.8 45.5l.5-.1 2.9 1.9 3 3.4-6.4-5.2M374.2 47.3l1.7 .4 3.1 2 4 4.8-5.3-5.2-3.5-2M378.4 47.3l.6-.1 1.5 1 3.5 3.2 2.3 3.1 2.2 4.7 1.3 5.9 .2 3.3-.6 6.1-.9 1.7 .2-9.6-1.4-7.2-3.4-6.7-2.6-3-2.9-2.4M361.9 50l3.6-.4 4.1 .8 3.1 1.9 2.3 2.6-.5 .3-4.9-2.6-3.2-.9-2.6 .1-2 .9-.9 .9 .1 .6 4.5-1.2 4.1 1.2 3.8 3.4 1.9 3.6-.2 4.1-1.8 3.6-3.7 3.2-4.5 1.7-2.7-.1-2.7-.8-2.7-1.8-1.7-1.8 2.6 1.8 2.2 .7 2.7-.2 3.3-1.4-5.5-.5-2.3-1-2-2.1-1.3-3.1-.1-5 1.2-3.9 2.2-2.8 3.6-1.8M336.1 51.8l2 7.5 .4-1.7-.7-.4 .3-4.4 2.4 10.7 1.8 4 2.4 3.6 2.8 3.2 3.2 2.5 5.1 2.4 .3 .7 .4-.3 1.3 .5-3.1-.2-4.5-1.9-3.9-2.8-3.4-3.6-2.6-4.1-1.8-4-1.8-6.5-.6-5.2M380.7 54l.1-.3 .9 1.2 1.4 2.4 1.4 4.8 .4 4.1-.3 3.6-1.4 4.9-2.8 5-4.1 4.5-6.5 4.5-2.9 1.4-2.3 .4 8.1-5.2 3.2-2.5 4.3-4.9 2.2-4.1 1.5-4.9 0-5.9-1-4.5-2.2-4.5M383.8 56.3l.2-.4 1.3 2.7 1.4 5.1 .1 4.7-.8 5-1.7 4.5-2.6 4.3-3.6 4.4-4 3.7 7.4-9.7 2.2-4.1 1.3-3.6 .9-4.9 0-3.6-.8-4.5-1.3-3.6M338.5 59.6l-.3 .3 .3 1.1 .4-1.1-.4-.3M382.6 63.5l0 5.1-2.2 6.4-3.6 4.8-4.9 3.9-5 2.3-6.8 1.3-6.7-.2-6.5-1.6 9.6 .7 5.9-.4 5.4-1.4 4.5-2.3 4.1-3.3 3.4-4.5 1.7-4.1 1.1-6.7M357.7 77.9l1.8 0-1.8 0M358.5 80.6l2.7 0-2.7 0"/>
<ellipse cx="392.6" cy="37.6" rx="15.5" ry="7.7" transform="rotate(10 392.6 37.6)" fill="none" stroke="#000" stroke-width="1.0" stroke-opacity="0.9"/>
<ellipse cx="392.6" cy="37.6" rx="12.1" ry="6" transform="rotate(10 392.6 37.6)" fill="none" stroke="#000" stroke-width="0.6" stroke-opacity="0.9"/>
<ellipse cx="392.6" cy="37.6" rx="8.7" ry="4.3" transform="rotate(10 392.6 37.6)" fill="none" stroke="#000" stroke-width="0.6" stroke-opacity="0.9"/>
<ellipse cx="392.6" cy="37.6" rx="5.6" ry="2.8" transform="rotate(10 392.6 37.6)" fill="none" stroke="#000" stroke-width="0.6" stroke-opacity="0.9"/>
<ellipse cx="392.6" cy="37.6" rx="3.1" ry="1.5" transform="rotate(10 392.6 37.6)" fill="#041040"/>
<ellipse cx="368" cy="36.2" rx="3.2" ry="1.6" transform="rotate(0 368 36.2)" fill="none" stroke="#000" stroke-width="1.0" stroke-opacity="0.9"/>
<ellipse cx="368" cy="36.2" rx="1.4" ry=".7" transform="rotate(0 368 36.2)" fill="#041040"/>
<path d="M345.4 73.2 342.6 69.6 340.5 65.8 339.2 62.1 338.3 58.5 337.8 55.3 337.6 52.5 337.4 50 337.3 47.8 337.4 45.6 337.5 43.4 337.9 41.2 338.3 39 338.9 36.9 339.5 34.8 340.3 32.7 341.2 30.7 342.2 28.7 343.3 26.8 344.5 24.9 345.8 23.1 347.1 21.3 348.5 19.6 350.1 18 351.6 16.4 353.3 14.9 355 13.5 356.7 12.1 358.5 10.8 360.4 9.6" fill="none" stroke="#fff" stroke-width="1.8" stroke-linecap="round"/>
<path d="M345.2 50.6 346.9 46.4 349.1 42.7 351.7 39.7 354.3 37.2 356.8 35.2 359.2 33.5 361.2 32.2 363.1 31 365 29.9 367 29 369.1 28.1 371.2 27.4 373.3 26.8 375.5 26.4 377.7 26 379.9 25.8 382.1 25.6 384.3 25.6 386.5 25.7 388.7 25.9 390.9 26.2 393.1 26.6 395.3 27.1 397.4 27.6 399.6 28.3 401.6 29.1 403.7 29.9 405.7 30.8 407.7 31.8" fill="none" stroke="#fff" stroke-width="1.8" stroke-linecap="round"/>
<path d="M364.6 39.1 369.1 38.5 373.4 38.6 377.3 39.3 380.8 40.3 383.8 41.5 386.4 42.8 388.6 43.8 390.5 44.8 392.4 46 394.3 47.2 396 48.6 397.7 50.1 399.3 51.6 400.8 53.3 402.2 55 403.5 56.8 404.7 58.7 405.8 60.6 406.8 62.5 407.8 64.5 408.6 66.6 409.4 68.7 410 70.8 410.6 72.9 411.1 75.1 411.5 77.3 411.8 79.5 412 81.7 412.2 83.9" fill="none" stroke="#fff" stroke-width="1.8" stroke-linecap="round"/>
<path d="M384.2 50.2 387 53.8 389.1 57.6 390.4 61.3 391.3 64.9 391.8 68.1 392 70.9 392.2 73.4 392.3 75.6 392.2 77.8 392.1 80 391.7 82.2 391.3 84.4 390.7 86.5 390.1 88.6 389.3 90.7 388.4 92.7 387.4 94.7 386.3 96.6 385.1 98.5 383.8 100.3 382.5 102.1 381.1 103.8 379.5 105.4 378 107 376.3 108.5 374.6 109.9 372.9 111.3 371.1 112.6 369.2 113.8" fill="none" stroke="#fff" stroke-width="1.8" stroke-linecap="round"/>
<path d="M384.4 72.8 382.7 77 380.5 80.7 377.9 83.7 375.3 86.2 372.8 88.2 370.4 89.9 368.4 91.2 366.5 92.4 364.6 93.5 362.6 94.4 360.5 95.3 358.4 96 356.3 96.6 354.1 97 351.9 97.4 349.7 97.6 347.5 97.8 345.3 97.8 343.1 97.7 340.9 97.5 338.7 97.2 336.5 96.8 334.3 96.3 332.2 95.8 330 95.1 328 94.3 325.9 93.5 323.9 92.6 321.9 91.6" fill="none" stroke="#fff" stroke-width="1.8" stroke-linecap="round"/>
<path d="M365 84.3 360.5 84.9 356.2 84.8 352.3 84.1 348.8 83.1 345.8 81.9 343.2 80.6 341 79.6 339.1 78.6 337.2 77.4 335.3 76.2 333.6 74.8 331.9 73.3 330.3 71.8 328.8 70.1 327.4 68.4 326.1 66.6 324.9 64.7 323.8 62.8 322.8 60.9 321.8 58.9 321 56.8 320.2 54.7 319.6 52.6 319 50.5 318.5 48.3 318.1 46.1 317.8 43.9 317.6 41.7 317.4 39.5" fill="none" stroke="#fff" stroke-width="1.8" stroke-linecap="round"/>
</g>
<circle cx="364.8" cy="61.7" r="8.9" fill="#06120e"/>
<circle cx="364.8" cy="61.7" r="7.0" fill="#18f0d2"/>
<circle cx="364.8" cy="61.7" r="3.9" fill="#fff"/>
<rect x="75.2" y="0.6" width="345.2" height="117" fill="none" stroke="#222" stroke-width="1.3" stroke-dasharray="2.6 2.0"/>
<rect x="75.2" y="122.6" width="168.6" height="129" fill="none" stroke="#7cc24a" stroke-width="1.3" stroke-dasharray="2.7 2.2"/>
<rect x="255" y="118" width="165.3" height="133.6" fill="none" stroke="#222" stroke-width="1.3" stroke-dasharray="2.7 2.2"/>
<g font-family="'Liberation Serif','Times New Roman',serif" font-size="8.5" text-anchor="middle" fill="#111" stroke="#111" stroke-width="0.28">
<text x="51.5" y="52.7">The flow</text>
<text x="51.2" y="62.7">field in the</text>
<text x="51.5" y="73">impeller</text>
</g>
<g font-family="'Liberation Serif','Times New Roman',serif" font-size="8.5" text-anchor="middle" fill="#78c040" stroke="#78c040" stroke-width="0.22">
<text x="51.5" y="169">External</text>
<text x="51" y="179">characteristics</text>
<text x="51" y="189.7">of the</text>
<text x="51.5" y="199.8">impeller</text>
</g>
<line x1="109.9" y1="124.2" x2="236.2" y2="124.2" stroke="#999" stroke-width="0.8"/>
<line x1="109.9" y1="123.9" x2="109.9" y2="226.2" stroke="#333" stroke-width="0.9"/>
<line x1="236.2" y1="124.2" x2="236.2" y2="226.2" stroke="#f33" stroke-width="0.7"/>
<line x1="109.9" y1="226.2" x2="236.2" y2="226.2" stroke="#333" stroke-width="1.2"/>
<line x1="108.7" y1="226.2" x2="109.9" y2="226.2" stroke="#333" stroke-width="0.6"/>
<line x1="109.2" y1="220.18" x2="109.9" y2="220.18" stroke="#333" stroke-width="0.5"/>
<line x1="108.7" y1="214.15" x2="109.9" y2="214.15" stroke="#333" stroke-width="0.6"/>
<line x1="109.2" y1="208.12" x2="109.9" y2="208.12" stroke="#333" stroke-width="0.5"/>
<line x1="108.7" y1="202.1" x2="109.9" y2="202.1" stroke="#333" stroke-width="0.6"/>
<line x1="109.2" y1="196.07" x2="109.9" y2="196.07" stroke="#333" stroke-width="0.5"/>
<line x1="108.7" y1="190.05" x2="109.9" y2="190.05" stroke="#333" stroke-width="0.6"/>
<line x1="109.2" y1="184.02" x2="109.9" y2="184.02" stroke="#333" stroke-width="0.5"/>
<line x1="108.7" y1="178" x2="109.9" y2="178" stroke="#333" stroke-width="0.6"/>
<line x1="109.2" y1="171.98" x2="109.9" y2="171.98" stroke="#333" stroke-width="0.5"/>
<line x1="108.7" y1="165.95" x2="109.9" y2="165.95" stroke="#333" stroke-width="0.6"/>
<line x1="109.2" y1="159.93" x2="109.9" y2="159.93" stroke="#333" stroke-width="0.5"/>
<line x1="108.7" y1="153.9" x2="109.9" y2="153.9" stroke="#333" stroke-width="0.6"/>
<line x1="109.2" y1="147.88" x2="109.9" y2="147.88" stroke="#333" stroke-width="0.5"/>
<line x1="108.7" y1="141.85" x2="109.9" y2="141.85" stroke="#333" stroke-width="0.6"/>
<line x1="109.2" y1="135.82" x2="109.9" y2="135.82" stroke="#333" stroke-width="0.5"/>
<line x1="108.7" y1="129.8" x2="109.9" y2="129.8" stroke="#333" stroke-width="0.6"/>
<g font-family="'Liberation Serif','Times New Roman',serif" font-size="4.2" fill="#555" text-anchor="end">
<text x="107.2" y="227.6">2.6</text>
<text x="107.2" y="215.55">2.7</text>
<text x="107.2" y="203.5">2.8</text>
<text x="107.2" y="191.45">2.9</text>
<text x="107.2" y="179.4">3.0</text>
<text x="107.2" y="167.35">3.1</text>
<text x="107.2" y="155.3">3.2</text>
<text x="107.2" y="143.25">3.3</text>
<text x="107.2" y="131.2">3.4</text>
</g>
<text transform="translate(100.4,167.5) rotate(-90)" font-family="'Liberation Serif','Times New Roman',serif" font-size="4.2" fill="#777" text-anchor="middle">H (m)</text>
<line x1="119.4" y1="226.2" x2="119.4" y2="227.39999999999998" stroke="#333" stroke-width="0.7"/>
<line x1="128.35" y1="226.2" x2="128.35" y2="227.1" stroke="#333" stroke-width="0.6"/>
<line x1="137.3" y1="226.2" x2="137.3" y2="227.39999999999998" stroke="#333" stroke-width="0.7"/>
<line x1="146.25" y1="226.2" x2="146.25" y2="227.1" stroke="#333" stroke-width="0.6"/>
<line x1="155.2" y1="226.2" x2="155.2" y2="227.39999999999998" stroke="#333" stroke-width="0.7"/>
<line x1="164.15" y1="226.2" x2="164.15" y2="227.1" stroke="#333" stroke-width="0.6"/>
<line x1="173.1" y1="226.2" x2="173.1" y2="227.39999999999998" stroke="#333" stroke-width="0.7"/>
<line x1="182.05" y1="226.2" x2="182.05" y2="227.1" stroke="#333" stroke-width="0.6"/>
<line x1="191" y1="226.2" x2="191" y2="227.39999999999998" stroke="#333" stroke-width="0.7"/>
<line x1="199.95" y1="226.2" x2="199.95" y2="227.1" stroke="#333" stroke-width="0.6"/>
<line x1="208.9" y1="226.2" x2="208.9" y2="227.39999999999998" stroke="#333" stroke-width="0.7"/>
<line x1="217.85" y1="226.2" x2="217.85" y2="227.1" stroke="#333" stroke-width="0.6"/>
<line x1="226.8" y1="226.2" x2="226.8" y2="227.39999999999998" stroke="#333" stroke-width="0.7"/>
<g font-family="'Liberation Serif','Times New Roman',serif" font-size="4.2" fill="#444" text-anchor="middle">
<text x="119.4" y="232.2">0.4</text>
<text x="137.3" y="232.2">0.5</text>
<text x="155.2" y="232.2">0.6</text>
<text x="173.1" y="232.2">0.7</text>
<text x="191" y="232.2">0.8</text>
<text x="208.9" y="232.2">0.9</text>
<text x="226.8" y="232.2">1.0</text>
</g>
<text x="178.6" y="235.2" font-family="'Liberation Serif','Times New Roman',serif" font-size="4.2" fill="#555" font-style="italic">Q/Q<tspan font-size="2.8" dy="0.8">d</tspan></text>
<line x1="236.2" y1="138.7" x2="237.39999999999998" y2="138.7" stroke="#f33" stroke-width="0.6"/>
<line x1="236.2" y1="153.2" x2="237.39999999999998" y2="153.2" stroke="#f33" stroke-width="0.6"/>
<line x1="236.2" y1="167.7" x2="237.39999999999998" y2="167.7" stroke="#f33" stroke-width="0.6"/>
<line x1="236.2" y1="182.2" x2="237.39999999999998" y2="182.2" stroke="#f33" stroke-width="0.6"/>
<line x1="236.2" y1="196.7" x2="237.39999999999998" y2="196.7" stroke="#f33" stroke-width="0.6"/>
<line x1="236.2" y1="211.2" x2="237.39999999999998" y2="211.2" stroke="#f33" stroke-width="0.6"/>
<line x1="236.2" y1="225.7" x2="237.39999999999998" y2="225.7" stroke="#f33" stroke-width="0.6"/>
<g font-family="'Liberation Serif','Times New Roman',serif" font-size="4" fill="#f66" text-anchor="middle">
<text x="240.4" y="140.1">1.5</text>
<text x="240.4" y="154.6">1.0</text>
<text x="240.4" y="169.1">0.5</text>
<text x="240.4" y="183.6">0.0</text>
<text x="240.4" y="198.1">-0.5</text>
<text x="240.4" y="212.6">-1.0</text>
<text x="240.4" y="227.1">-1.5</text>
</g>
<text transform="translate(248.6,184) rotate(-90)" font-family="'Liberation Serif','Times New Roman',serif" font-size="4.2" fill="#777" text-anchor="middle">H change rate</text>
<line x1="123.4" y1="211" x2="123.4" y2="226.2" stroke="#444" stroke-width="0.6" stroke-dasharray="0.7 1.1"/>
<line x1="136.8" y1="194" x2="136.8" y2="226.2" stroke="#444" stroke-width="0.6" stroke-dasharray="0.7 1.1"/>
<line x1="148.9" y1="186" x2="148.9" y2="226.2" stroke="#444" stroke-width="0.6" stroke-dasharray="0.7 1.1"/>
<line x1="157.3" y1="192" x2="157.3" y2="226.2" stroke="#444" stroke-width="0.6" stroke-dasharray="0.7 1.1"/>
<line x1="168" y1="199.5" x2="168" y2="226.2" stroke="#444" stroke-width="0.6" stroke-dasharray="0.7 1.1"/>
<line x1="226.5" y1="197" x2="226.5" y2="226.2" stroke="#444" stroke-width="0.6" stroke-dasharray="0.7 1.1"/>
<line x1="123.4" y1="216.9" x2="226.5" y2="216.9" stroke="#222" stroke-width="0.8"/>
<g font-family="'Liberation Serif','Times New Roman',serif" font-size="3.6" fill="#444" text-anchor="middle">
<text x="129.5" y="216.2">VI</text>
<text x="143.2" y="216.2">V</text>
<text x="152.4" y="216.2">IV</text>
<text x="162.3" y="216.2">III</text>
<text x="173.2" y="216.2">II</text>
<text x="202" y="216.2">I</text>
</g>
<polyline points="117.4,135.6 123.6,146.9 128.1,142.4 132.2,145.1 137.8,148.6 143.3,151.2 148.2,152.4 151.6,152.8 154.7,144.4 158.9,147.9 163,152.4 168.1,161.2 173,166.7 182.3,175 191.2,183.4 199.7,191.4 208.6,199.4 226.5,216.9" fill="none" stroke="#111" stroke-width="0.8"/>
<rect x="116.45" y="134.65" width="1.9" height="1.9" fill="#111"/>
<rect x="122.65" y="145.95" width="1.9" height="1.9" fill="#111"/>
<rect x="127.15" y="141.45" width="1.9" height="1.9" fill="#111"/>
<rect x="131.25" y="144.15" width="1.9" height="1.9" fill="#111"/>
<rect x="136.85" y="147.65" width="1.9" height="1.9" fill="#111"/>
<rect x="142.35" y="150.25" width="1.9" height="1.9" fill="#111"/>
<rect x="147.25" y="151.45" width="1.9" height="1.9" fill="#111"/>
<rect x="150.65" y="151.85" width="1.9" height="1.9" fill="#111"/>
<rect x="153.75" y="143.45" width="1.9" height="1.9" fill="#111"/>
<rect x="157.95" y="146.95" width="1.9" height="1.9" fill="#111"/>
<rect x="162.05" y="151.45" width="1.9" height="1.9" fill="#111"/>
<rect x="167.15" y="160.25" width="1.9" height="1.9" fill="#111"/>
<rect x="172.05" y="165.75" width="1.9" height="1.9" fill="#111"/>
<rect x="181.35" y="174.05" width="1.9" height="1.9" fill="#111"/>
<rect x="190.25" y="182.45" width="1.9" height="1.9" fill="#111"/>
<rect x="198.75" y="190.45" width="1.9" height="1.9" fill="#111"/>
<rect x="207.65" y="198.45" width="1.9" height="1.9" fill="#111"/>
<rect x="225.55" y="215.95" width="1.9" height="1.9" fill="#111"/>
<polyline points="117.5,195.3 123.4,209.2 128.3,166.9 132.2,189.3 136.8,193.3 141.3,190.1 145.7,188.1 148.1,184.7 150.9,184.1 151.7,132.8 153.6,133.5 154.6,177.8 157.6,190.7 159.6,196.6 164.6,197.6 169.5,198.6 173,198 181.2,194.7 191,197 199,195.4 208.9,194.4 226.5,196.2" fill="none" stroke="#f22" stroke-width="0.9"/>
<circle cx="117.5" cy="195.3" r="1.2" fill="#f22"/>
<circle cx="123.4" cy="209.2" r="1.2" fill="#f22"/>
<circle cx="128.3" cy="166.9" r="1.2" fill="#f22"/>
<circle cx="132.2" cy="189.3" r="1.2" fill="#f22"/>
<circle cx="136.8" cy="193.3" r="1.2" fill="#f22"/>
<circle cx="141.3" cy="190.1" r="1.2" fill="#f22"/>
<circle cx="145.7" cy="188.1" r="1.2" fill="#f22"/>
<circle cx="148.1" cy="184.7" r="1.2" fill="#f22"/>
<circle cx="150.9" cy="184.1" r="1.2" fill="#f22"/>
<circle cx="154.6" cy="177.8" r="1.2" fill="#f22"/>
<circle cx="157.6" cy="190.7" r="1.2" fill="#f22"/>
<circle cx="159.6" cy="196.6" r="1.2" fill="#f22"/>
<circle cx="164.6" cy="197.6" r="1.2" fill="#f22"/>
<circle cx="169.5" cy="198.6" r="1.2" fill="#f22"/>
<circle cx="173" cy="198" r="1.2" fill="#f22"/>
<circle cx="181.2" cy="194.7" r="1.2" fill="#f22"/>
<circle cx="191" cy="197" r="1.2" fill="#f22"/>
<circle cx="199" cy="195.4" r="1.2" fill="#f22"/>
<circle cx="208.9" cy="194.4" r="1.2" fill="#f22"/>
<circle cx="226.5" cy="196.2" r="1.2" fill="#f22"/>
<line x1="194.5" y1="128.4" x2="206.2" y2="128.4" stroke="#333" stroke-width="0.9"/><rect x="199.4" y="127.5" width="1.8" height="1.8" fill="#111"/>
<text x="206.7" y="130.1" font-family="'Liberation Serif','Times New Roman',serif" font-size="4.9" fill="#222">H</text>
<line x1="194.5" y1="134.5" x2="206.2" y2="134.5" stroke="#f22" stroke-width="0.9"/><circle cx="200.3" cy="134.5" r="1.1" fill="#f22"/>
<text x="206.7" y="136.1" font-family="'Liberation Serif','Times New Roman',serif" font-size="4.9" fill="#222">H change rate</text>
<text x="124.7" y="133.7" font-family="'Liberation Serif','Times New Roman',serif" font-size="4.8" fill="#222">Hump II</text>
<text x="155.8" y="133.8" font-family="'Liberation Serif','Times New Roman',serif" font-size="4.8" fill="#222">Hump I</text>
<line x1="131.5" y1="136.8" x2="127.4" y2="142.4" stroke="#36f" stroke-width="0.6"/>
<line x1="162.4" y1="136.8" x2="155.6" y2="143.6" stroke="#36f" stroke-width="0.6"/>
<text x="187.8" y="177.9" font-family="'Liberation Serif','Times New Roman',serif" font-size="4.1" fill="#222" textLength="46.5" lengthAdjust="spacing">(1/Q<tspan font-size="2.3" dy="0.6">s</tspan><tspan dy="-0.6">-1/Q</tspan><tspan font-size="2.3" dy="0.6">s</tspan><tspan dy="-0.6">)/(H</tspan><tspan font-size="2.3" dy="0.6">s,e</tspan><tspan dy="-0.6">-H</tspan><tspan font-size="2.3" dy="0.6">s,e</tspan><tspan dy="-0.6">)</tspan></text>
<line x1="212.7" y1="180.5" x2="226.2" y2="195" stroke="#333" stroke-width="0.45"/>
<text x="113.4" y="245.9" font-family="'Liberation Serif','Times New Roman',serif" font-size="5.6" fill="#111" textLength="113.4" lengthAdjust="spacing">The external characteristics of centrifugal impeller</text>
<line x1="269.8" y1="126.7" x2="397.3" y2="126.7" stroke="#999" stroke-width="0.8"/>
<line x1="397.3" y1="126.7" x2="397.3" y2="225.6" stroke="#aaa" stroke-width="1.1"/>
<line x1="269.8" y1="126.4" x2="269.8" y2="225.6" stroke="#333" stroke-width="0.9"/>
<line x1="269.8" y1="225.6" x2="397.3" y2="225.6" stroke="#333" stroke-width="1.1"/>
<line x1="268.7" y1="225.6" x2="269.8" y2="225.6" stroke="#333" stroke-width="0.6"/>
<line x1="269.1" y1="215.7" x2="269.8" y2="215.7" stroke="#333" stroke-width="0.5"/>
<line x1="268.7" y1="205.8" x2="269.8" y2="205.8" stroke="#333" stroke-width="0.6"/>
<line x1="269.1" y1="195.9" x2="269.8" y2="195.9" stroke="#333" stroke-width="0.5"/>
<line x1="268.7" y1="186" x2="269.8" y2="186" stroke="#333" stroke-width="0.6"/>
<line x1="269.1" y1="176.1" x2="269.8" y2="176.1" stroke="#333" stroke-width="0.5"/>
<line x1="268.7" y1="166.2" x2="269.8" y2="166.2" stroke="#333" stroke-width="0.6"/>
<line x1="269.1" y1="156.3" x2="269.8" y2="156.3" stroke="#333" stroke-width="0.5"/>
<line x1="268.7" y1="146.4" x2="269.8" y2="146.4" stroke="#333" stroke-width="0.6"/>
<line x1="269.1" y1="136.5" x2="269.8" y2="136.5" stroke="#333" stroke-width="0.5"/>
<line x1="268.7" y1="126.6" x2="269.8" y2="126.6" stroke="#333" stroke-width="0.6"/>
<g font-family="'Liberation Serif','Times New Roman',serif" font-size="3.9" fill="#555" text-anchor="end">
<text x="266.9" y="226.9">0</text>
<text x="266.9" y="207.1">2000</text>
<text x="266.9" y="187.3">4000</text>
<text x="266.9" y="167.5">6000</text>
<text x="266.9" y="147.7">8000</text>
<text x="266.9" y="127.9">10000</text>
</g>
<text transform="translate(259.2,175.5) rotate(-90)" font-family="'Liberation Serif','Times New Roman',serif" font-size="4.6" fill="#444" text-anchor="middle">Δp (Pa)</text>
<line x1="269.8" y1="225.6" x2="269.8" y2="226.7" stroke="#333" stroke-width="0.6"/>
<line x1="282.55" y1="225.6" x2="282.55" y2="226.7" stroke="#333" stroke-width="0.6"/>
<line x1="295.3" y1="225.6" x2="295.3" y2="226.7" stroke="#333" stroke-width="0.6"/>
<line x1="308.05" y1="225.6" x2="308.05" y2="226.7" stroke="#333" stroke-width="0.6"/>
<line x1="320.8" y1="225.6" x2="320.8" y2="226.7" stroke="#333" stroke-width="0.6"/>
<line x1="333.55" y1="225.6" x2="333.55" y2="226.7" stroke="#333" stroke-width="0.6"/>
<line x1="346.3" y1="225.6" x2="346.3" y2="226.7" stroke="#333" stroke-width="0.6"/>
<line x1="359.05" y1="225.6" x2="359.05" y2="226.7" stroke="#333" stroke-width="0.6"/>
<line x1="371.8" y1="225.6" x2="371.8" y2="226.7" stroke="#333" stroke-width="0.6"/>
<line x1="384.55" y1="225.6" x2="384.55" y2="226.7" stroke="#333" stroke-width="0.6"/>
<line x1="397.3" y1="225.6" x2="397.3" y2="226.7" stroke="#333" stroke-width="0.6"/>
<g font-family="'Liberation Serif','Times New Roman',serif" font-size="3.9" fill="#555" text-anchor="middle">
<text x="269.8" y="231.4">0.0</text>
<text x="282.55" y="231.4">0.1</text>
<text x="295.3" y="231.4">0.2</text>
<text x="308.05" y="231.4">0.3</text>
<text x="320.8" y="231.4">0.4</text>
<text x="333.55" y="231.4">0.5</text>
<text x="346.3" y="231.4">0.6</text>
<text x="359.05" y="231.4">0.7</text>
<text x="371.8" y="231.4">0.8</text>
<text x="384.55" y="231.4">0.9</text>
<text x="397.3" y="231.4">1.0</text>
</g>
<text x="325.4" y="236.4" font-family="'Liberation Serif','Times New Roman',serif" font-size="4.2" fill="#555" font-style="italic">β/C</text>
<path d="M270.2,192.8 C271.42,192.2 274.95,190.97 277.5,189.2 C280.05,187.43 282.85,184.42 285.5,182.2 C288.15,179.98 290.5,177.75 293.4,175.9 C296.3,174.05 300.25,172.17 302.9,171.1 C305.55,170.03 306.78,169.95 309.3,169.5 C311.82,169.05 314.55,168.07 318,168.4 C321.45,168.73 326,170.15 330,171.5 C334,172.85 338.67,175.02 342,176.5 C345.33,177.98 347.33,178.73 350,180.4 C352.67,182.07 355.33,184.8 358,186.5 C360.67,188.2 363.67,189.38 366,190.6 C368.33,191.82 370,192.97 372,193.8 C374,194.63 376,195.43 378,195.6 C380,195.77 382,195.3 384,194.8 C386,194.3 389,192.97 390,192.6" fill="none" stroke="#a54bff" stroke-width="1.1"/>
<path d="M270,168.6 C270.47,168.8 271.28,169.93 272.8,169.8 C274.32,169.67 276.98,168.93 279.1,167.8 C281.22,166.67 283.38,164.25 285.5,163 C287.62,161.75 289.68,160.57 291.8,160.3 C293.92,160.03 295.55,160.55 298.2,161.4 C300.85,162.25 304.4,164.03 307.7,165.4 C311,166.77 314.28,168.23 318,169.6 C321.72,170.97 325.5,172.17 330,173.6 C334.5,175.03 340,176.73 345,178.2 C350,179.67 355,181.37 360,182.4 C365,183.43 370,184 375,184.4 C380,184.8 387.5,184.73 390,184.8" fill="none" stroke="#1f5bff" stroke-width="1.1"/>
<path d="M270.2,155.1 C270.88,155.75 272.82,158.15 274.3,159 C275.78,159.85 277.5,160.25 279.1,160.2 C280.7,160.15 281.92,159.1 283.9,158.7 C285.88,158.3 289.02,157.62 291,157.8 C292.98,157.98 293.82,158.8 295.8,159.8 C297.78,160.8 299.2,162.3 302.9,163.8 C306.6,165.3 313.48,167.4 318,168.8 C322.52,170.2 325.5,170.93 330,172.2 C334.5,173.47 340,175.07 345,176.4 C350,177.73 355,179.2 360,180.2 C365,181.2 370,182 375,182.4 C380,182.8 387.5,182.57 390,182.6" fill="none" stroke="#ff2a2a" stroke-width="1.1"/>
<path d="M270.5,158.3 C270.83,157.67 271.33,156.33 272.5,154.5 C273.67,152.67 276.13,147.87 277.5,147.3 C278.87,146.73 279.37,148.62 280.7,151.1 C282.03,153.58 284.05,159.48 285.5,162.2 C286.95,164.92 287.82,166.67 289.4,167.4 C290.98,168.13 292.48,166.23 295,166.6 C297.52,166.97 300.67,168.43 304.5,169.6 C308.33,170.77 312.92,172.3 318,173.6 C323.08,174.9 329.67,176.3 335,177.4 C340.33,178.5 345,179.33 350,180.2 C355,181.07 360.33,182.03 365,182.6 C369.67,183.17 373.83,183.47 378,183.6 C382.17,183.73 388,183.43 390,183.4" fill="none" stroke="#19b04a" stroke-width="1.1"/>
<path d="M270.4,151.4 C270.67,151.07 271.08,149.58 272,149.4 C272.92,149.22 274.45,149.62 275.9,150.3 C277.35,150.98 279.37,151.78 280.7,153.5 C282.03,155.22 282.58,158.52 283.9,160.6 C285.22,162.68 286.75,164.95 288.6,166 C290.45,167.05 292.35,166.3 295,166.9 C297.65,167.5 300.67,168.65 304.5,169.6 C308.33,170.55 312.92,171.6 318,172.6 C323.08,173.6 329.67,174.67 335,175.6 C340.33,176.53 345,177.53 350,178.2 C355,178.87 360.83,179.32 365,179.6 C369.17,179.88 372.17,180.03 375,179.9 C377.83,179.77 379.83,179.18 382,178.8 C384.17,178.42 387,177.8 388,177.6" fill="none" stroke="#e0a21c" stroke-width="1.1"/>
<circle cx="271.4" cy="157.8" r="0.7" fill="#19b04a"/>
<circle cx="273.5" cy="151.5" r="0.7" fill="#19b04a"/>
<circle cx="277.5" cy="147.3" r="0.7" fill="#19b04a"/>
<circle cx="279.6" cy="149.6" r="0.7" fill="#19b04a"/>
<polyline points="390,177 391.5,186 392.5,178 393.5,190 394.5,179 395.5,187 396.6,180" fill="none" stroke="#e0a21c" stroke-width="0.6"/>
<polyline points="389.5,186 391,180 392,191 393.2,181 394.5,193 395.6,184 396.6,189" fill="none" stroke="#1f5bff" stroke-width="0.6"/>
<polyline points="390,184 391.2,190 392.6,183 393.8,188 395,182 396.6,186" fill="none" stroke="#19b04a" stroke-width="0.6"/>
<polyline points="390,182.6 391.5,185 393,181 394.5,186 396.6,183" fill="none" stroke="#ff2a2a" stroke-width="0.6"/>
<path d="M272.6,214.2 C272.77,213.93 273.28,212.73 273.6,212.6 C273.92,212.47 274.17,213.6 274.5,213.4 C274.83,213.2 275.27,211.6 275.6,211.4 C275.93,211.2 276.17,212.33 276.5,212.2 C276.83,212.07 277.1,210.9 277.6,210.6 C278.1,210.3 278.43,210.4 279.5,210.4 C280.57,210.4 282.25,210.78 284,210.6 C285.75,210.42 288,209.77 290,209.3 C292,208.83 294,207.88 296,207.8 C298,207.72 299.67,208.43 302,208.8 C304.33,209.17 307.33,209.73 310,210 C312.67,210.27 315.5,210.3 318,210.4 C320.5,210.5 323.5,210.08 325,210.6 C326.5,211.12 326.17,211.97 327,213.5 C327.83,215.03 329,218.85 330,219.8 C331,220.75 331.67,219.7 333,219.2 C334.33,218.7 336,217.73 338,216.8 C340,215.87 343,214.43 345,213.6 C347,212.77 347.83,212.37 350,211.8 C352.17,211.23 355.5,210.77 358,210.2 C360.5,209.63 362.67,209 365,208.4 C367.33,207.8 369.83,206.8 372,206.6 C374.17,206.4 375.83,206.75 378,207.2 C380.17,207.65 383,208.6 385,209.3 C387,210 388.5,210.98 390,211.4 C391.5,211.82 392.83,211.83 394,211.8 C395.17,211.77 396.5,211.3 397,211.2" fill="none" stroke="#151515" stroke-width="1.1"/>
<line x1="277.6" y1="199.6" x2="277.6" y2="210" stroke="#bbb" stroke-width="0.7"/>
<line x1="374.1" y1="130.6" x2="385.5" y2="130.6" stroke="#7a7a7a" stroke-width="0.8"/><circle cx="379.4" cy="130.6" r="0.8" fill="#222"/>
<text x="386.2" y="132.5" font-family="'Liberation Serif','Times New Roman',serif" font-size="5.6" fill="#111">Ch1</text>
<line x1="374.1" y1="137.25" x2="385.5" y2="137.25" stroke="#ff8a8a" stroke-width="0.8"/><circle cx="379.4" cy="137.25" r="0.8" fill="#ff3030"/>
<text x="386.2" y="139.15" font-family="'Liberation Serif','Times New Roman',serif" font-size="5.6" fill="#111">Ch2</text>
<line x1="374.1" y1="143.9" x2="385.5" y2="143.9" stroke="#7fa8ff" stroke-width="0.8"/><circle cx="379.4" cy="143.9" r="0.8" fill="#1f5bff"/>
<text x="386.2" y="145.8" font-family="'Liberation Serif','Times New Roman',serif" font-size="5.6" fill="#111">Ch3</text>
<line x1="374.1" y1="150.55" x2="385.5" y2="150.55" stroke="#6fd39a" stroke-width="0.8"/><circle cx="379.4" cy="150.55" r="0.8" fill="#19a04a"/>
<text x="386.2" y="152.45" font-family="'Liberation Serif','Times New Roman',serif" font-size="5.6" fill="#111">Ch4</text>
<line x1="374.1" y1="157.2" x2="385.5" y2="157.2" stroke="#c9a0ff" stroke-width="0.8"/><circle cx="379.4" cy="157.2" r="0.8" fill="#a54bff"/>
<text x="386.2" y="159.1" font-family="'Liberation Serif','Times New Roman',serif" font-size="5.6" fill="#111">Ch5</text>
<line x1="374.1" y1="163.85" x2="385.5" y2="163.85" stroke="#efcf80" stroke-width="0.8"/><circle cx="379.4" cy="163.85" r="0.8" fill="#d8a020"/>
<text x="386.2" y="165.75" font-family="'Liberation Serif','Times New Roman',serif" font-size="5.6" fill="#111">Ch6</text>
<text x="312.8" y="158.9" font-family="'Liberation Serif','Times New Roman',serif" font-size="5.1" fill="#111">Recovery in pressure</text>
<line x1="330.9" y1="159.9" x2="288.4" y2="166.6" stroke="#6ee0b0" stroke-width="0.6"/>
<line x1="330.9" y1="159.9" x2="285.8" y2="182" stroke="#ffb080" stroke-width="0.6"/>
<text x="315" y="204.6" font-family="'Liberation Serif','Times New Roman',serif" font-size="5.1" fill="#111">Sudden drop in pressure</text>
<line x1="336" y1="207" x2="346" y2="211.9" stroke="#ff2a2a" stroke-width="0.6"/>
<text x="261.3" y="243.3" font-family="'Liberation Serif','Times New Roman',serif" font-size="5.7" fill="#111" textLength="144.6" lengthAdjust="spacing">The pressure difference  between the blade pressure side and the</text>
<text x="320.8" y="250.5" font-family="'Liberation Serif','Times New Roman',serif" font-size="5.7" fill="#111">suction side</text>
<path d="M97 6L111 52.9M97 6L121.7 36.9M97 6L128.5 24M97 6L136 30M246.4 8.5L226.2 52.6M247.2 8.5L252.4 47.9M248 8.5L264.3 36M248.6 8.5L257 56M320.5 8.8L329.3 62.1M321 8.8L362.6 36.5M321.5 8.8L349.5 55" fill="none" stroke="#ff2424" stroke-width="0.65" stroke-dasharray="0.9 0.9"/>
<path d="M154.6 5.2L169 38M154 5.2L150 16M391.5 9L392.9 36" fill="none" stroke="#f5b818" stroke-width="0.65" stroke-dasharray="0.9 0.9"/>
<g fill="#ff2020"><circle cx="125.3" cy="53.6" r="0.75"/><circle cx="111" cy="52.9" r="0.75"/><circle cx="121.7" cy="36.9" r="0.75"/><circle cx="147" cy="72" r="0.75"/><circle cx="132" cy="75" r="0.75"/><circle cx="152" cy="55" r="0.75"/><circle cx="235.7" cy="55" r="0.75"/><circle cx="252.4" cy="48.3" r="0.75"/><circle cx="269" cy="56.2" r="0.75"/><circle cx="256" cy="56.2" r="0.75"/><circle cx="264.3" cy="36" r="0.75"/><circle cx="262" cy="80" r="0.75"/><circle cx="244" cy="82" r="0.75"/><circle cx="240" cy="70" r="0.75"/><circle cx="349.5" cy="55" r="0.75"/><circle cx="363.8" cy="46.7" r="0.75"/><circle cx="330" cy="62" r="0.75"/><circle cx="375" cy="75" r="0.75"/><circle cx="360" cy="80" r="0.75"/><circle cx="380" cy="58" r="0.75"/></g>
<g font-family="'Liberation Serif','Times New Roman',serif" font-weight="bold">
<text x="87.6" y="4.1" fill="#ff2020" font-size="4">S-stall vortex</text>
<text x="143.5" y="4.3" fill="#f5b818" font-size="4.1">P-stall vortex</text>
<text x="233.4" y="7.3" fill="#ff2020" font-size="5.1">S-stall vortex</text>
<text x="305.8" y="7.4" fill="#ff2020" font-size="5.05">S-stall vortex</text>
<text x="378.8" y="7.0" fill="#f5b818" font-size="4.5">P-stall vortex</text>
</g>
<line x1="144.8" y1="108.4" x2="126.24" y2="141.59" stroke="#ff1010" stroke-width="1.35" stroke-dasharray="4 2.4"/>
<polygon points="124,145.6 124.06,140.36 125.23,143.39 128.43,142.81" fill="#ff1010"/>
<line x1="212.5" y1="99" x2="161.52" y2="141.84" stroke="#ff1010" stroke-width="1.35" stroke-dasharray="4 2.4"/>
<polygon points="158,144.8 159.91,139.93 159.94,143.17 163.13,143.75" fill="#ff1010"/>
<line x1="328.6" y1="96.4" x2="156.78" y2="152.18" stroke="#ff1010" stroke-width="1.35" stroke-dasharray="4 2.4"/>
<polygon points="152.4,153.6 156,149.8 154.81,152.82 157.55,154.56" fill="#ff1010"/>
<line x1="392.2" y1="36.5" x2="360.11" y2="195.09" stroke="#ff1010" stroke-width="1.35" stroke-dasharray="4 2.4"/>
<polygon points="359.2,199.6 357.66,194.6 359.7,197.12 362.56,195.59" fill="#ff1010"/>
</svg>
</body></html>
